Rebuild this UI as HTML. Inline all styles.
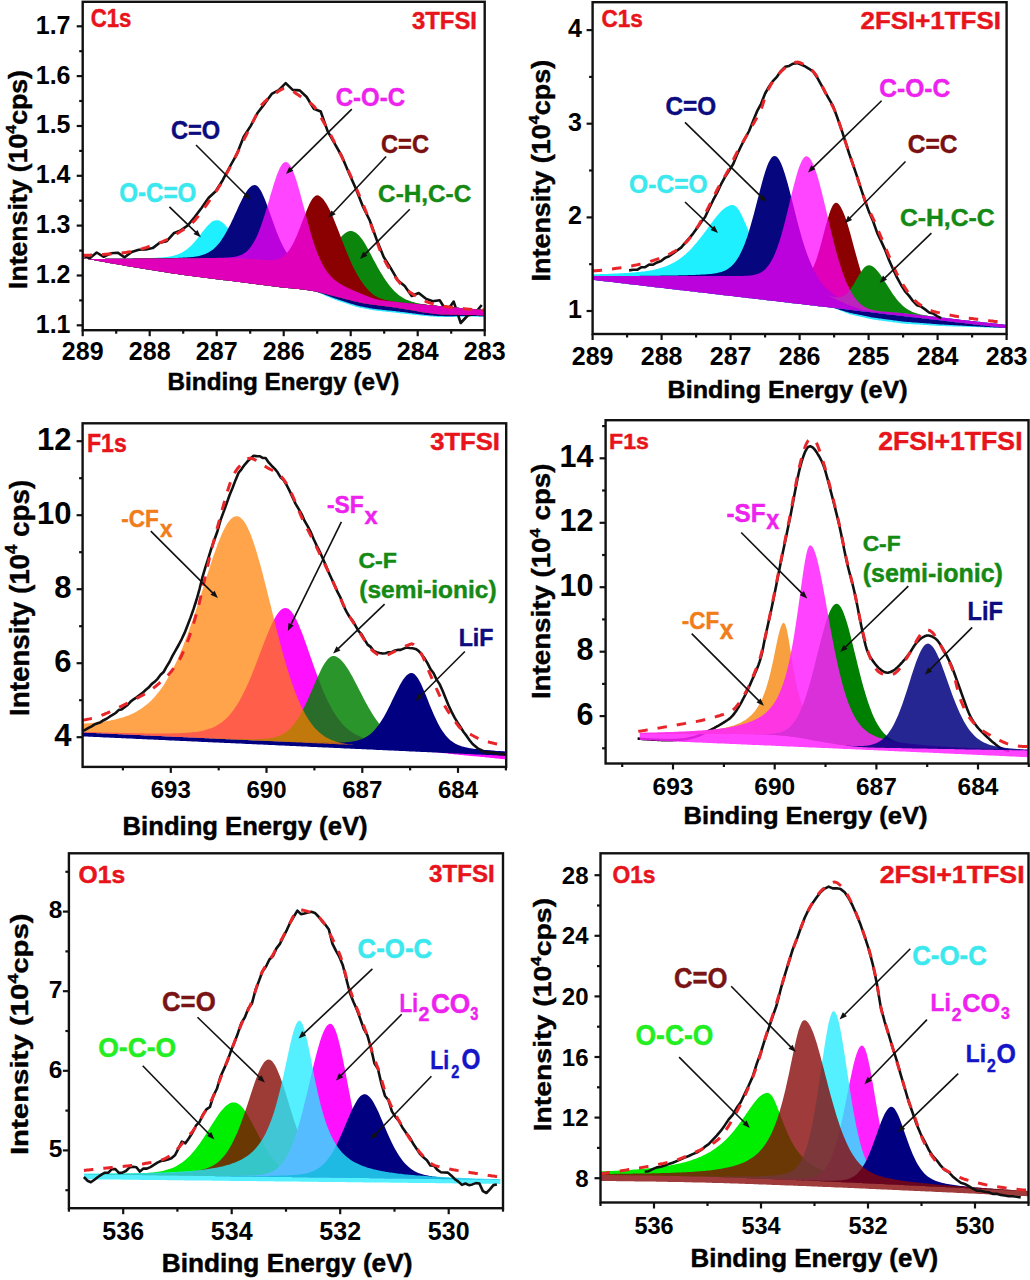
<!DOCTYPE html>
<html><head><meta charset="utf-8"><style>
html,body{margin:0;padding:0;background:#fff;}
svg{display:block;}
text{font-family:"Liberation Sans", sans-serif;font-weight:bold;}
</style></head><body>
<svg width="1030" height="1280" viewBox="0 0 1030 1280">
<rect width="1030" height="1280" fill="#fff"/>
<clipPath id="clip1"><rect x="82.7" y="1.8" width="402.0" height="328.4"/></clipPath>
<g clip-path="url(#clip1)">
<path d="M316.0,291.6 L317.0,292.0 L318.0,292.4 L319.0,292.8 L320.0,293.2 L321.0,293.7 L322.0,294.1 L323.0,294.6 L324.0,295.0 L325.0,295.5 L326.0,295.9 L327.0,296.4 L328.0,296.8 L329.0,297.3 L330.0,297.8 L331.0,298.2 L332.0,298.5 L333.0,298.9 L334.0,299.3 L335.0,299.7 L336.0,300.1 L337.0,300.4 L338.0,300.7 L339.0,301.1 L340.0,301.4 L341.0,301.8 L342.0,302.1 L343.0,302.4 L344.0,302.8 L345.0,303.1 L346.0,303.5 L347.0,303.8 L348.0,304.1 L349.0,304.5 L350.0,304.8 L351.0,305.1 L352.0,305.5 L353.0,305.8 L354.0,306.1 L355.0,306.4 L356.0,306.7 L357.0,307.0 L358.0,307.2 L359.0,307.4 L360.0,307.7 L361.0,307.9 L362.0,308.1 L363.0,308.3 L364.0,308.5 L365.0,308.7 L366.0,308.9 L367.0,309.1 L368.0,309.3 L369.0,309.5 L370.0,309.7 L371.0,309.8 L372.0,310.0 L373.0,310.2 L374.0,310.3 L375.0,310.5 L376.0,310.6 L377.0,310.7 L378.0,310.8 L379.0,310.9 L380.0,311.0 L381.0,311.1 L382.0,311.3 L383.0,311.4 L384.0,311.5 L385.0,311.6 L386.0,311.7 L387.0,311.8 L388.0,311.9 L389.0,312.0 L390.0,312.1 L391.0,312.2 L392.0,312.3 L393.0,312.4 L394.0,312.5 L395.0,312.6 L396.0,312.7 L397.0,312.9 L398.0,313.0 L399.0,313.1 L400.0,313.3 L401.0,313.4 L402.0,313.5 L403.0,313.6 L404.0,313.7 L405.0,313.8 L406.0,313.9 L407.0,314.0 L408.0,314.1 L409.0,314.2 L410.0,314.3 L411.0,314.4 L412.0,314.6 L413.0,314.7 L414.0,314.8 L415.0,314.9 L416.0,315.0 L417.0,315.1 L418.0,315.2 L419.0,315.3 L420.0,315.5 L421.0,315.6 L422.0,315.7 L423.0,315.8 L424.0,315.9 L425.0,316.0 L426.0,316.0 L427.0,316.1 L428.0,316.2 L429.0,316.3 L430.0,316.4 L431.0,316.4 L432.0,316.5 L433.0,316.6 L434.0,316.7 L435.0,316.7 L436.0,316.8 L437.0,316.8 L438.0,316.9 L439.0,316.9 L440.0,317.0 L441.0,317.0 L442.0,317.0 L443.0,317.0 L444.0,317.0 L445.0,317.0 L446.0,317.0 L447.0,317.0 L448.0,317.0 L449.0,317.0 L450.0,317.0 L451.0,317.0 L452.0,317.0 L453.0,317.0 L454.0,316.9 L455.0,316.9 L456.0,316.9 L457.0,316.9 L458.0,316.8 L459.0,316.8 L460.0,316.8 L461.0,316.8 L462.0,316.7 L463.0,316.7 L464.0,316.7 L465.0,316.7 L466.0,316.7 L467.0,316.7 L468.0,316.7 L469.0,316.6 L470.0,316.6 L471.0,316.6 L472.0,316.6 L473.0,316.6 L474.0,316.6 L475.0,316.6 L476.0,316.7 L477.0,316.7 L478.0,316.7 L479.0,316.7 L480.0,316.7 L481.0,316.8 L482.0,316.8 L483.0,316.8 L484.0,316.9 L485.0,316.9 L485.0,315.1 L484.0,315.1 L483.0,315.0 L482.0,314.9 L481.0,314.9 L480.0,314.8 L479.0,314.8 L478.0,314.7 L477.0,314.7 L476.0,314.6 L475.0,314.6 L474.0,314.6 L473.0,314.5 L472.0,314.5 L471.0,314.5 L470.0,314.5 L469.0,314.4 L468.0,314.4 L467.0,314.4 L466.0,314.4 L465.0,314.4 L464.0,314.4 L463.0,314.4 L462.0,314.4 L461.0,314.4 L460.0,314.4 L459.0,314.3 L458.0,314.3 L457.0,314.3 L456.0,314.3 L455.0,314.3 L454.0,314.3 L453.0,314.3 L452.0,314.3 L451.0,314.2 L450.0,314.2 L449.0,314.2 L448.0,314.2 L447.0,314.1 L446.0,314.1 L445.0,314.1 L444.0,314.0 L443.0,314.0 L442.0,313.9 L441.0,313.9 L440.0,313.8 L439.0,313.7 L438.0,313.6 L437.0,313.6 L436.0,313.5 L435.0,313.4 L434.0,313.3 L433.0,313.2 L432.0,313.1 L431.0,312.9 L430.0,312.8 L429.0,312.7 L428.0,312.5 L427.0,312.4 L426.0,312.2 L425.0,312.1 L424.0,311.9 L423.0,311.7 L422.0,311.6 L421.0,311.4 L420.0,311.2 L419.0,311.1 L418.0,310.9 L417.0,310.7 L416.0,310.5 L415.0,310.4 L414.0,310.2 L413.0,310.0 L412.0,309.8 L411.0,309.6 L410.0,309.5 L409.0,309.3 L408.0,309.1 L407.0,308.9 L406.0,308.8 L405.0,308.6 L404.0,308.4 L403.0,308.2 L402.0,308.1 L401.0,307.9 L400.0,307.8 L399.0,307.6 L398.0,307.5 L397.0,307.3 L396.0,307.2 L395.0,307.0 L394.0,306.9 L393.0,306.8 L392.0,306.6 L391.0,306.5 L390.0,306.4 L389.0,306.2 L388.0,306.1 L387.0,306.0 L386.0,305.9 L385.0,305.8 L384.0,305.6 L383.0,305.5 L382.0,305.4 L381.0,305.3 L380.0,305.1 L379.0,305.0 L378.0,304.9 L377.0,304.8 L376.0,304.6 L375.0,304.5 L374.0,304.4 L373.0,304.2 L372.0,304.1 L371.0,303.9 L370.0,303.8 L369.0,303.6 L368.0,303.5 L367.0,303.3 L366.0,303.2 L365.0,303.0 L364.0,302.8 L363.0,302.6 L362.0,302.4 L361.0,302.3 L360.0,302.0 L359.0,301.8 L358.0,301.6 L357.0,301.4 L356.0,301.2 L355.0,300.9 L354.0,300.7 L353.0,300.4 L352.0,300.2 L351.0,300.0 L350.0,299.7 L349.0,299.4 L348.0,299.2 L347.0,298.9 L346.0,298.7 L345.0,298.4 L344.0,298.2 L343.0,297.9 L342.0,297.6 L341.0,297.4 L340.0,297.1 L339.0,296.9 L338.0,296.6 L337.0,296.4 L336.0,296.1 L335.0,295.8 L334.0,295.6 L333.0,295.3 L332.0,295.1 L331.0,294.8 L330.0,294.5 L329.0,294.3 L328.0,294.0 L327.0,293.7 L326.0,293.5 L325.0,293.2 L324.0,292.9 L323.0,292.7 L322.0,292.4 L321.0,292.2 L320.0,292.0 L319.0,291.7 L318.0,291.5 L317.0,291.3 L316.0,291.1 Z" fill="#30e8ff"/>
<path d="M316.0,291.6 L317.0,291.9 L318.0,292.2 L319.0,292.6 L320.0,292.9 L321.0,293.3 L322.0,293.6 L323.0,294.0 L324.0,294.3 L325.0,294.7 L326.0,295.1 L327.0,295.4 L328.0,295.8 L329.0,296.2 L330.0,296.6 L331.0,296.9 L332.0,297.3 L333.0,297.7 L334.0,298.1 L335.0,298.4 L336.0,298.8 L337.0,299.1 L338.0,299.5 L339.0,299.8 L340.0,300.1 L341.0,300.4 L342.0,300.8 L343.0,301.1 L344.0,301.4 L345.0,301.7 L346.0,302.1 L347.0,302.4 L348.0,302.7 L349.0,303.0 L350.0,303.4 L351.0,303.7 L352.0,304.0 L353.0,304.3 L354.0,304.6 L355.0,304.9 L356.0,305.2 L357.0,305.5 L358.0,305.7 L359.0,305.9 L360.0,306.2 L361.0,306.4 L362.0,306.6 L363.0,306.8 L364.0,307.0 L365.0,307.2 L366.0,307.4 L367.0,307.6 L368.0,307.8 L369.0,308.0 L370.0,308.2 L371.0,308.3 L372.0,308.5 L373.0,308.7 L374.0,308.8 L375.0,309.0 L376.0,309.1 L377.0,309.2 L378.0,309.3 L379.0,309.4 L380.0,309.5 L381.0,309.6 L382.0,309.8 L383.0,309.9 L384.0,310.0 L385.0,310.1 L386.0,310.2 L387.0,310.3 L388.0,310.4 L389.0,310.5 L390.0,310.6 L391.0,310.7 L392.0,310.8 L393.0,310.9 L394.0,311.0 L395.0,311.1 L396.0,311.2 L397.0,311.4 L398.0,311.5 L399.0,311.6 L400.0,311.8 L401.0,311.9 L402.0,312.0 L403.0,312.1 L404.0,312.2 L405.0,312.3 L406.0,312.5 L407.0,312.6 L408.0,312.7 L409.0,312.9 L410.0,313.0 L411.0,313.1 L412.0,313.2 L413.0,313.4 L414.0,313.5 L415.0,313.6 L416.0,313.8 L417.0,313.9 L418.0,314.0 L419.0,314.2 L420.0,314.3 L421.0,314.4 L422.0,314.5 L423.0,314.6 L424.0,314.7 L425.0,314.9 L426.0,315.0 L427.0,315.1 L428.0,315.2 L429.0,315.3 L430.0,315.3 L431.0,315.4 L432.0,315.5 L433.0,315.6 L434.0,315.7 L435.0,315.8 L436.0,315.8 L437.0,315.9 L438.0,315.9 L439.0,316.0 L440.0,316.0 L441.0,316.1 L442.0,316.1 L443.0,316.1 L444.0,316.2 L445.0,316.2 L446.0,316.2 L447.0,316.2 L448.0,316.2 L449.0,316.2 L450.0,316.2 L451.0,316.2 L452.0,316.2 L453.0,316.2 L454.0,316.2 L455.0,316.1 L456.0,316.1 L457.0,316.1 L458.0,316.1 L459.0,316.1 L460.0,316.1 L461.0,316.0 L462.0,316.0 L463.0,316.0 L464.0,316.0 L465.0,316.0 L466.0,316.0 L467.0,316.0 L468.0,316.0 L469.0,316.0 L470.0,316.0 L471.0,316.0 L472.0,316.0 L473.0,316.0 L474.0,316.0 L475.0,316.0 L476.0,316.1 L477.0,316.1 L478.0,316.1 L479.0,316.2 L480.0,316.2 L481.0,316.2 L482.0,316.3 L483.0,316.3 L484.0,316.4 L485.0,316.4 L485.0,315.1 L484.0,315.1 L483.0,315.0 L482.0,314.9 L481.0,314.9 L480.0,314.8 L479.0,314.8 L478.0,314.7 L477.0,314.7 L476.0,314.6 L475.0,314.6 L474.0,314.6 L473.0,314.5 L472.0,314.5 L471.0,314.5 L470.0,314.5 L469.0,314.4 L468.0,314.4 L467.0,314.4 L466.0,314.4 L465.0,314.4 L464.0,314.4 L463.0,314.4 L462.0,314.4 L461.0,314.4 L460.0,314.4 L459.0,314.3 L458.0,314.3 L457.0,314.3 L456.0,314.3 L455.0,314.3 L454.0,314.3 L453.0,314.3 L452.0,314.3 L451.0,314.2 L450.0,314.2 L449.0,314.2 L448.0,314.2 L447.0,314.1 L446.0,314.1 L445.0,314.1 L444.0,314.0 L443.0,314.0 L442.0,313.9 L441.0,313.9 L440.0,313.8 L439.0,313.7 L438.0,313.6 L437.0,313.6 L436.0,313.5 L435.0,313.4 L434.0,313.3 L433.0,313.2 L432.0,313.1 L431.0,312.9 L430.0,312.8 L429.0,312.7 L428.0,312.5 L427.0,312.4 L426.0,312.2 L425.0,312.1 L424.0,311.9 L423.0,311.7 L422.0,311.6 L421.0,311.4 L420.0,311.2 L419.0,311.1 L418.0,310.9 L417.0,310.7 L416.0,310.5 L415.0,310.4 L414.0,310.2 L413.0,310.0 L412.0,309.8 L411.0,309.6 L410.0,309.5 L409.0,309.3 L408.0,309.1 L407.0,308.9 L406.0,308.8 L405.0,308.6 L404.0,308.4 L403.0,308.2 L402.0,308.1 L401.0,307.9 L400.0,307.8 L399.0,307.6 L398.0,307.5 L397.0,307.3 L396.0,307.2 L395.0,307.0 L394.0,306.9 L393.0,306.8 L392.0,306.6 L391.0,306.5 L390.0,306.4 L389.0,306.2 L388.0,306.1 L387.0,306.0 L386.0,305.9 L385.0,305.8 L384.0,305.6 L383.0,305.5 L382.0,305.4 L381.0,305.3 L380.0,305.1 L379.0,305.0 L378.0,304.9 L377.0,304.8 L376.0,304.6 L375.0,304.5 L374.0,304.4 L373.0,304.2 L372.0,304.1 L371.0,303.9 L370.0,303.8 L369.0,303.6 L368.0,303.5 L367.0,303.3 L366.0,303.2 L365.0,303.0 L364.0,302.8 L363.0,302.6 L362.0,302.4 L361.0,302.3 L360.0,302.0 L359.0,301.8 L358.0,301.6 L357.0,301.4 L356.0,301.2 L355.0,300.9 L354.0,300.7 L353.0,300.4 L352.0,300.2 L351.0,300.0 L350.0,299.7 L349.0,299.4 L348.0,299.2 L347.0,298.9 L346.0,298.7 L345.0,298.4 L344.0,298.2 L343.0,297.9 L342.0,297.6 L341.0,297.4 L340.0,297.1 L339.0,296.9 L338.0,296.6 L337.0,296.4 L336.0,296.1 L335.0,295.8 L334.0,295.6 L333.0,295.3 L332.0,295.1 L331.0,294.8 L330.0,294.5 L329.0,294.3 L328.0,294.0 L327.0,293.7 L326.0,293.5 L325.0,293.2 L324.0,292.9 L323.0,292.7 L322.0,292.4 L321.0,292.2 L320.0,292.0 L319.0,291.7 L318.0,291.5 L317.0,291.3 L316.0,291.1 Z" fill="#06067f"/>
<path d="M82.7,255.6 L89.7,258.3 L96.7,252.5 L103.7,256.8 L110.7,253.3 L117.7,252.7 L124.7,257.3 L131.7,251.9 L138.7,249.7 L145.7,249.5 L152.7,248.1 L159.7,242.7 L166.7,241.2 L173.7,233.3 L180.7,230.4 L187.7,225.5 L194.7,217.0 L201.7,207.8 L208.7,197.7 L215.7,191.3 L222.7,180.2 L229.7,167.0 L236.7,154.4 L243.7,136.8 L250.7,125.9 L257.7,112.7 L264.7,103.6 L271.7,93.9 L278.7,90.1 L285.7,83.1 L292.7,89.9 L299.7,90.4 L306.7,97.0 L313.7,108.7 L320.7,111.5 L327.7,131.4 L334.7,143.6 L341.7,156.0 L348.7,172.6 L355.7,188.3 L362.7,206.1 L369.7,220.3 L376.7,239.7 L383.7,257.0 L390.7,268.1 L397.7,280.2 L404.7,286.1 L411.7,296.0 L418.7,293.0 L425.7,298.6 L432.7,301.3 L439.7,300.2 L446.7,311.5 L453.7,301.6 L460.7,323.0 L467.7,315.5 L474.7,313.7 L481.7,305.0" fill="none" stroke="#111" stroke-width="2.6" stroke-linejoin="round"/>
<path d="M82.7,259.0 L84.3,259.0 L85.8,259.0 L87.4,259.0 L88.9,259.0 L90.5,259.0 L92.0,259.0 L93.6,258.9 L95.1,258.9 L96.7,258.9 L98.2,258.9 L99.8,258.9 L101.3,258.9 L102.9,258.9 L104.4,258.9 L106.0,258.8 L107.5,258.8 L109.1,258.8 L110.6,258.8 L112.2,258.8 L113.7,258.8 L115.3,258.8 L116.8,258.8 L118.4,258.8 L120.0,258.7 L121.5,258.7 L123.1,258.7 L124.6,258.7 L126.2,258.7 L127.7,258.6 L129.3,258.6 L130.8,258.6 L132.4,258.5 L133.9,258.5 L135.5,258.5 L137.0,258.4 L138.6,258.4 L140.1,258.4 L141.7,258.3 L143.2,258.3 L144.8,258.2 L146.3,258.2 L147.9,258.1 L149.4,258.1 L151.0,258.0 L152.5,258.0 L154.1,257.9 L155.6,257.8 L157.2,257.7 L158.8,257.6 L160.3,257.5 L161.9,257.4 L163.4,257.3 L165.0,257.1 L166.5,257.0 L168.1,256.7 L169.6,256.5 L171.2,256.2 L172.7,255.9 L174.3,255.5 L175.8,255.1 L177.4,254.5 L178.9,253.9 L180.5,253.3 L182.0,252.5 L183.6,251.6 L185.1,250.6 L186.7,249.5 L188.2,248.2 L189.8,246.8 L191.3,245.4 L192.9,243.7 L194.5,242.0 L196.0,240.2 L197.6,238.3 L199.1,236.3 L200.7,234.3 L202.2,232.3 L203.8,230.3 L205.3,228.4 L206.9,226.6 L208.4,224.9 L210.0,223.4 L211.5,222.1 L213.1,221.1 L214.6,220.5 L216.2,220.2 L217.7,220.2 L219.3,220.6 L220.8,221.4 L222.4,222.5 L223.9,223.8 L225.5,225.4 L227.0,227.2 L228.6,229.1 L230.2,231.0 L231.7,233.1 L233.3,235.1 L234.8,237.2 L236.4,239.2 L237.9,241.1 L239.5,243.0 L241.0,244.7 L242.6,246.3 L244.1,247.8 L245.7,249.2 L247.2,250.5 L248.8,251.6 L250.3,252.6 L251.9,253.6 L253.4,254.4 L255.0,255.1 L256.5,255.8 L258.1,256.4 L259.6,257.0 L261.2,257.5 L262.7,257.9 L264.3,258.4 L265.9,258.8 L267.4,259.2 L269.0,259.5 L270.5,259.9 L272.1,260.3 L273.6,260.6 L275.2,261.0 L276.7,261.3 L278.3,261.7 L279.8,262.1 L281.4,262.5 L282.9,262.9 L284.5,263.3 L286.0,263.7 L287.6,264.1 L289.1,264.6 L290.7,265.0 L292.2,265.5 L293.8,266.1 L295.3,266.6 L296.9,267.1 L298.4,267.7 L300.0,268.3 L301.5,269.0 L303.1,269.6 L304.7,270.3 L306.2,271.0 L307.8,271.6 L309.3,272.3 L310.9,273.0 L312.4,273.6 L314.0,274.3 L315.5,274.9 L317.1,275.6 L318.6,276.2 L320.2,276.9 L321.7,277.5 L323.3,278.2 L324.8,278.8 L326.4,279.5 L327.9,280.2 L329.5,280.8 L331.0,281.5 L332.6,282.1 L334.1,282.8 L335.7,283.4 L337.2,284.1 L338.8,284.7 L340.4,285.4 L341.9,286.0 L343.5,286.7 L345.0,287.4 L346.6,288.0 L348.1,288.6 L349.7,289.3 L351.2,289.9 L352.8,290.5 L354.3,291.1 L355.9,291.7 L357.4,292.3 L359.0,292.9 L360.5,293.5 L362.1,294.1 L363.6,294.7 L365.2,295.3 L366.7,295.9 L368.3,296.6 L369.8,297.2 L371.4,297.7 L372.9,298.3 L374.5,298.8 L376.1,299.2 L377.6,299.6 L379.2,299.9 L380.7,300.2 L382.3,300.3 L383.8,300.5 L385.4,300.7 L386.9,300.9 L388.5,301.1 L390.0,301.3 L391.6,301.4 L393.1,301.6 L394.7,301.8 L396.2,301.9 L397.8,302.1 L399.3,302.3 L400.9,302.4 L402.4,302.6 L404.0,302.7 L405.5,302.9 L407.1,303.0 L408.6,303.2 L410.2,303.3 L411.8,303.5 L413.3,303.6 L414.9,303.7 L416.4,303.9 L418.0,304.0 L419.5,304.2 L421.1,304.3 L422.6,304.4 L424.2,304.6 L425.7,304.7 L427.3,304.9 L428.8,305.0 L430.4,305.2 L431.9,305.3 L433.5,305.4 L435.0,305.6 L436.6,305.7 L438.1,305.9 L439.7,306.0 L441.2,306.2 L442.8,306.3 L444.3,306.5 L445.9,306.6 L447.4,306.7 L449.0,306.9 L450.6,307.0 L452.1,307.2 L453.7,307.3 L455.2,307.5 L456.8,307.6 L458.3,307.7 L459.9,307.9 L461.4,308.0 L463.0,308.2 L464.5,308.3 L466.1,308.4 L467.6,308.6 L469.2,308.7 L470.7,308.9 L472.3,309.0 L473.8,309.1 L475.4,309.3 L476.9,309.4 L478.5,309.5 L480.0,309.6 L481.6,309.8 L483.1,309.9 L484.7,309.9 L484.7,315.6 L483.1,315.5 L481.6,315.4 L480.0,315.3 L478.5,315.2 L476.9,315.2 L475.4,315.1 L473.8,315.1 L472.3,315.0 L470.7,315.0 L469.2,314.9 L467.6,314.9 L466.1,314.9 L464.5,314.9 L463.0,314.9 L461.4,314.9 L459.9,314.9 L458.3,314.8 L456.8,314.8 L455.2,314.8 L453.7,314.8 L452.1,314.8 L450.6,314.7 L449.0,314.7 L447.4,314.6 L445.9,314.6 L444.3,314.5 L442.8,314.5 L441.2,314.4 L439.7,314.3 L438.1,314.2 L436.6,314.0 L435.0,313.9 L433.5,313.7 L431.9,313.5 L430.4,313.3 L428.8,313.1 L427.3,312.9 L425.7,312.7 L424.2,312.4 L422.6,312.2 L421.1,311.9 L419.5,311.7 L418.0,311.4 L416.4,311.1 L414.9,310.8 L413.3,310.6 L411.8,310.3 L410.2,310.0 L408.6,309.7 L407.1,309.5 L405.5,309.2 L404.0,308.9 L402.4,308.7 L400.9,308.4 L399.3,308.2 L397.8,307.9 L396.2,307.7 L394.7,307.5 L393.1,307.3 L391.6,307.1 L390.0,306.9 L388.5,306.7 L386.9,306.5 L385.4,306.3 L383.8,306.1 L382.3,305.9 L380.7,305.7 L379.2,305.5 L377.6,305.3 L376.1,305.1 L374.5,304.9 L372.9,304.7 L371.4,304.5 L369.8,304.3 L368.3,304.0 L366.7,303.8 L365.2,303.5 L363.6,303.3 L362.1,303.0 L360.5,302.7 L359.0,302.3 L357.4,302.0 L355.9,301.6 L354.3,301.3 L352.8,300.9 L351.2,300.5 L349.7,300.1 L348.1,299.7 L346.6,299.3 L345.0,298.9 L343.5,298.5 L341.9,298.1 L340.4,297.7 L338.8,297.3 L337.2,296.9 L335.7,296.5 L334.1,296.1 L332.6,295.7 L331.0,295.3 L329.5,294.9 L327.9,294.5 L326.4,294.1 L324.8,293.7 L323.3,293.3 L321.7,292.9 L320.2,292.5 L318.6,292.2 L317.1,291.8 L315.5,291.5 L314.0,291.2 L312.4,291.0 L310.9,290.7 L309.3,290.5 L307.8,290.2 L306.2,290.0 L304.7,289.8 L303.1,289.6 L301.5,289.4 L300.0,289.3 L298.4,289.1 L296.9,288.9 L295.3,288.8 L293.8,288.6 L292.2,288.5 L290.7,288.3 L289.1,288.2 L287.6,288.0 L286.0,287.9 L284.5,287.7 L282.9,287.5 L281.4,287.4 L279.8,287.2 L278.3,287.0 L276.7,286.8 L275.2,286.6 L273.6,286.4 L272.1,286.2 L270.5,286.0 L269.0,285.8 L267.4,285.6 L265.9,285.4 L264.3,285.2 L262.7,285.0 L261.2,284.8 L259.6,284.6 L258.1,284.4 L256.5,284.2 L255.0,284.0 L253.4,283.8 L251.9,283.7 L250.3,283.5 L248.8,283.3 L247.2,283.1 L245.7,282.9 L244.1,282.7 L242.6,282.5 L241.0,282.3 L239.5,282.1 L237.9,281.9 L236.4,281.7 L234.8,281.5 L233.3,281.3 L231.7,281.1 L230.2,280.9 L228.6,280.7 L227.0,280.5 L225.5,280.3 L223.9,280.2 L222.4,280.0 L220.8,279.8 L219.3,279.6 L217.7,279.4 L216.2,279.2 L214.6,279.0 L213.1,278.8 L211.5,278.6 L210.0,278.5 L208.4,278.3 L206.9,278.1 L205.3,277.9 L203.8,277.7 L202.2,277.5 L200.7,277.3 L199.1,277.1 L197.6,276.9 L196.0,276.7 L194.5,276.5 L192.9,276.3 L191.3,276.1 L189.8,275.9 L188.2,275.7 L186.7,275.5 L185.1,275.2 L183.6,275.0 L182.0,274.8 L180.5,274.6 L178.9,274.4 L177.4,274.1 L175.8,273.9 L174.3,273.7 L172.7,273.5 L171.2,273.2 L169.6,273.0 L168.1,272.8 L166.5,272.5 L165.0,272.3 L163.4,272.1 L161.9,271.8 L160.3,271.6 L158.8,271.3 L157.2,271.1 L155.6,270.8 L154.1,270.6 L152.5,270.3 L151.0,270.1 L149.4,269.8 L147.9,269.6 L146.3,269.3 L144.8,269.1 L143.2,268.8 L141.7,268.6 L140.1,268.3 L138.6,268.0 L137.0,267.8 L135.5,267.5 L133.9,267.3 L132.4,267.0 L130.8,266.7 L129.3,266.5 L127.7,266.2 L126.2,265.9 L124.6,265.7 L123.1,265.4 L121.5,265.1 L120.0,264.9 L118.4,264.6 L116.8,264.3 L115.3,264.0 L113.7,263.8 L112.2,263.5 L110.6,263.2 L109.1,262.9 L107.5,262.7 L106.0,262.4 L104.4,262.1 L102.9,261.8 L101.3,261.5 L99.8,261.3 L98.2,261.0 L96.7,260.7 L95.1,260.4 L93.6,260.1 L92.0,259.9 L90.5,259.6 L88.9,259.3 L87.4,259.0 L85.8,258.7 L84.3,258.5 L82.7,258.2 Z" fill="#1ff0ff" fill-opacity="1" stroke="none" stroke-width="0.8"/>
<path d="M82.7,259.0 L84.3,259.0 L85.8,259.0 L87.4,259.0 L88.9,259.0 L90.5,259.0 L92.0,259.0 L93.6,258.9 L95.1,258.9 L96.7,258.9 L98.2,258.9 L99.8,258.9 L101.3,258.9 L102.9,258.9 L104.4,258.9 L106.0,258.8 L107.5,258.8 L109.1,258.8 L110.6,258.8 L112.2,258.8 L113.7,258.8 L115.3,258.8 L116.8,258.8 L118.4,258.8 L120.0,258.7 L121.5,258.7 L123.1,258.7 L124.6,258.7 L126.2,258.7 L127.7,258.7 L129.3,258.7 L130.8,258.7 L132.4,258.7 L133.9,258.6 L135.5,258.6 L137.0,258.6 L138.6,258.6 L140.1,258.6 L141.7,258.6 L143.2,258.6 L144.8,258.6 L146.3,258.5 L147.9,258.5 L149.4,258.5 L151.0,258.5 L152.5,258.5 L154.1,258.4 L155.6,258.4 L157.2,258.4 L158.8,258.3 L160.3,258.3 L161.9,258.3 L163.4,258.3 L165.0,258.2 L166.5,258.2 L168.1,258.1 L169.6,258.1 L171.2,258.1 L172.7,258.0 L174.3,258.0 L175.8,257.9 L177.4,257.9 L178.9,257.8 L180.5,257.8 L182.0,257.7 L183.6,257.6 L185.1,257.5 L186.7,257.4 L188.2,257.3 L189.8,257.2 L191.3,257.1 L192.9,256.9 L194.5,256.7 L196.0,256.5 L197.6,256.2 L199.1,255.9 L200.7,255.5 L202.2,255.1 L203.8,254.6 L205.3,254.0 L206.9,253.3 L208.4,252.5 L210.0,251.6 L211.5,250.5 L213.1,249.4 L214.6,248.0 L216.2,246.5 L217.7,244.8 L219.3,242.9 L220.8,240.9 L222.4,238.6 L223.9,236.2 L225.5,233.6 L227.0,230.8 L228.6,227.8 L230.2,224.7 L231.7,221.5 L233.3,218.2 L234.8,214.8 L236.4,211.4 L237.9,208.0 L239.5,204.6 L241.0,201.4 L242.6,198.3 L244.1,195.4 L245.7,192.7 L247.2,190.4 L248.8,188.4 L250.3,186.9 L251.9,185.8 L253.4,185.2 L255.0,185.0 L256.5,185.6 L258.1,186.8 L259.6,188.8 L261.2,191.3 L262.7,194.4 L264.3,197.9 L265.9,201.9 L267.4,206.0 L269.0,210.4 L270.5,214.8 L272.1,219.3 L273.6,223.6 L275.2,227.9 L276.7,232.0 L278.3,235.9 L279.8,239.5 L281.4,242.9 L282.9,246.0 L284.5,248.9 L286.0,251.4 L287.6,253.8 L289.1,255.9 L290.7,257.8 L292.2,259.5 L293.8,261.0 L295.3,262.4 L296.9,263.7 L298.4,264.8 L300.0,265.9 L301.5,266.9 L303.1,267.9 L304.7,268.8 L306.2,269.7 L307.8,270.5 L309.3,271.4 L310.9,272.1 L312.4,272.9 L314.0,273.6 L315.5,274.4 L317.1,275.1 L318.6,275.8 L320.2,276.5 L321.7,277.2 L323.3,277.9 L324.8,278.6 L326.4,279.3 L327.9,279.9 L329.5,280.6 L331.0,281.3 L332.6,282.0 L334.1,282.7 L335.7,283.3 L337.2,284.0 L338.8,284.7 L340.4,285.4 L341.9,286.0 L343.5,286.7 L345.0,287.4 L346.6,288.0 L348.1,288.6 L349.7,289.3 L351.2,289.9 L352.8,290.5 L354.3,291.1 L355.9,291.7 L357.4,292.3 L359.0,292.9 L360.5,293.5 L362.1,294.1 L363.6,294.7 L365.2,295.3 L366.7,295.9 L368.3,296.6 L369.8,297.2 L371.4,297.7 L372.9,298.3 L374.5,298.8 L376.1,299.2 L377.6,299.6 L379.2,299.9 L380.7,300.2 L382.3,300.3 L383.8,300.5 L385.4,300.7 L386.9,300.9 L388.5,301.1 L390.0,301.3 L391.6,301.4 L393.1,301.6 L394.7,301.8 L396.2,301.9 L397.8,302.1 L399.3,302.3 L400.9,302.4 L402.4,302.6 L404.0,302.7 L405.5,302.9 L407.1,303.0 L408.6,303.2 L410.2,303.3 L411.8,303.5 L413.3,303.6 L414.9,303.7 L416.4,303.9 L418.0,304.0 L419.5,304.2 L421.1,304.3 L422.6,304.4 L424.2,304.6 L425.7,304.7 L427.3,304.9 L428.8,305.0 L430.4,305.2 L431.9,305.3 L433.5,305.4 L435.0,305.6 L436.6,305.7 L438.1,305.9 L439.7,306.0 L441.2,306.2 L442.8,306.3 L444.3,306.5 L445.9,306.6 L447.4,306.7 L449.0,306.9 L450.6,307.0 L452.1,307.2 L453.7,307.3 L455.2,307.5 L456.8,307.6 L458.3,307.7 L459.9,307.9 L461.4,308.0 L463.0,308.2 L464.5,308.3 L466.1,308.4 L467.6,308.6 L469.2,308.7 L470.7,308.9 L472.3,309.0 L473.8,309.1 L475.4,309.3 L476.9,309.4 L478.5,309.5 L480.0,309.6 L481.6,309.8 L483.1,309.9 L484.7,309.9 L484.7,315.6 L483.1,315.5 L481.6,315.4 L480.0,315.3 L478.5,315.2 L476.9,315.2 L475.4,315.1 L473.8,315.1 L472.3,315.0 L470.7,315.0 L469.2,314.9 L467.6,314.9 L466.1,314.9 L464.5,314.9 L463.0,314.9 L461.4,314.9 L459.9,314.9 L458.3,314.8 L456.8,314.8 L455.2,314.8 L453.7,314.8 L452.1,314.8 L450.6,314.7 L449.0,314.7 L447.4,314.6 L445.9,314.6 L444.3,314.5 L442.8,314.5 L441.2,314.4 L439.7,314.3 L438.1,314.2 L436.6,314.0 L435.0,313.9 L433.5,313.7 L431.9,313.5 L430.4,313.3 L428.8,313.1 L427.3,312.9 L425.7,312.7 L424.2,312.4 L422.6,312.2 L421.1,311.9 L419.5,311.7 L418.0,311.4 L416.4,311.1 L414.9,310.8 L413.3,310.6 L411.8,310.3 L410.2,310.0 L408.6,309.7 L407.1,309.5 L405.5,309.2 L404.0,308.9 L402.4,308.7 L400.9,308.4 L399.3,308.2 L397.8,307.9 L396.2,307.7 L394.7,307.5 L393.1,307.3 L391.6,307.1 L390.0,306.9 L388.5,306.7 L386.9,306.5 L385.4,306.3 L383.8,306.1 L382.3,305.9 L380.7,305.7 L379.2,305.5 L377.6,305.3 L376.1,305.1 L374.5,304.9 L372.9,304.7 L371.4,304.5 L369.8,304.3 L368.3,304.0 L366.7,303.8 L365.2,303.5 L363.6,303.3 L362.1,303.0 L360.5,302.7 L359.0,302.3 L357.4,302.0 L355.9,301.6 L354.3,301.3 L352.8,300.9 L351.2,300.5 L349.7,300.1 L348.1,299.7 L346.6,299.3 L345.0,298.9 L343.5,298.5 L341.9,298.1 L340.4,297.7 L338.8,297.3 L337.2,296.9 L335.7,296.5 L334.1,296.1 L332.6,295.7 L331.0,295.3 L329.5,294.9 L327.9,294.5 L326.4,294.1 L324.8,293.7 L323.3,293.3 L321.7,292.9 L320.2,292.5 L318.6,292.2 L317.1,291.8 L315.5,291.5 L314.0,291.2 L312.4,291.0 L310.9,290.7 L309.3,290.5 L307.8,290.2 L306.2,290.0 L304.7,289.8 L303.1,289.6 L301.5,289.4 L300.0,289.3 L298.4,289.1 L296.9,288.9 L295.3,288.8 L293.8,288.6 L292.2,288.5 L290.7,288.3 L289.1,288.2 L287.6,288.0 L286.0,287.9 L284.5,287.7 L282.9,287.5 L281.4,287.4 L279.8,287.2 L278.3,287.0 L276.7,286.8 L275.2,286.6 L273.6,286.4 L272.1,286.2 L270.5,286.0 L269.0,285.8 L267.4,285.6 L265.9,285.4 L264.3,285.2 L262.7,285.0 L261.2,284.8 L259.6,284.6 L258.1,284.4 L256.5,284.2 L255.0,284.0 L253.4,283.8 L251.9,283.7 L250.3,283.5 L248.8,283.3 L247.2,283.1 L245.7,282.9 L244.1,282.7 L242.6,282.5 L241.0,282.3 L239.5,282.1 L237.9,281.9 L236.4,281.7 L234.8,281.5 L233.3,281.3 L231.7,281.1 L230.2,280.9 L228.6,280.7 L227.0,280.5 L225.5,280.3 L223.9,280.2 L222.4,280.0 L220.8,279.8 L219.3,279.6 L217.7,279.4 L216.2,279.2 L214.6,279.0 L213.1,278.8 L211.5,278.6 L210.0,278.5 L208.4,278.3 L206.9,278.1 L205.3,277.9 L203.8,277.7 L202.2,277.5 L200.7,277.3 L199.1,277.1 L197.6,276.9 L196.0,276.7 L194.5,276.5 L192.9,276.3 L191.3,276.1 L189.8,275.9 L188.2,275.7 L186.7,275.5 L185.1,275.2 L183.6,275.0 L182.0,274.8 L180.5,274.6 L178.9,274.4 L177.4,274.1 L175.8,273.9 L174.3,273.7 L172.7,273.5 L171.2,273.2 L169.6,273.0 L168.1,272.8 L166.5,272.5 L165.0,272.3 L163.4,272.1 L161.9,271.8 L160.3,271.6 L158.8,271.3 L157.2,271.1 L155.6,270.8 L154.1,270.6 L152.5,270.3 L151.0,270.1 L149.4,269.8 L147.9,269.6 L146.3,269.3 L144.8,269.1 L143.2,268.8 L141.7,268.6 L140.1,268.3 L138.6,268.0 L137.0,267.8 L135.5,267.5 L133.9,267.3 L132.4,267.0 L130.8,266.7 L129.3,266.5 L127.7,266.2 L126.2,265.9 L124.6,265.7 L123.1,265.4 L121.5,265.1 L120.0,264.9 L118.4,264.6 L116.8,264.3 L115.3,264.0 L113.7,263.8 L112.2,263.5 L110.6,263.2 L109.1,262.9 L107.5,262.7 L106.0,262.4 L104.4,262.1 L102.9,261.8 L101.3,261.5 L99.8,261.3 L98.2,261.0 L96.7,260.7 L95.1,260.4 L93.6,260.1 L92.0,259.9 L90.5,259.6 L88.9,259.3 L87.4,259.0 L85.8,258.7 L84.3,258.5 L82.7,258.2 Z" fill="#06067f" fill-opacity="1" stroke="none" stroke-width="0.8"/>
<path d="M82.7,259.0 L84.3,259.0 L85.8,259.0 L87.4,259.0 L88.9,259.0 L90.5,259.0 L92.0,259.0 L93.6,258.9 L95.1,258.9 L96.7,258.9 L98.2,258.9 L99.8,258.9 L101.3,258.9 L102.9,258.9 L104.4,258.9 L106.0,258.8 L107.5,258.8 L109.1,258.8 L110.6,258.8 L112.2,258.8 L113.7,258.8 L115.3,258.8 L116.8,258.8 L118.4,258.8 L120.0,258.7 L121.5,258.7 L123.1,258.7 L124.6,258.7 L126.2,258.7 L127.7,258.7 L129.3,258.7 L130.8,258.7 L132.4,258.7 L133.9,258.6 L135.5,258.6 L137.0,258.6 L138.6,258.6 L140.1,258.6 L141.7,258.6 L143.2,258.6 L144.8,258.6 L146.3,258.5 L147.9,258.5 L149.4,258.5 L151.0,258.5 L152.5,258.5 L154.1,258.5 L155.6,258.5 L157.2,258.5 L158.8,258.5 L160.3,258.4 L161.9,258.4 L163.4,258.4 L165.0,258.4 L166.5,258.4 L168.1,258.4 L169.6,258.4 L171.2,258.4 L172.7,258.4 L174.3,258.3 L175.8,258.3 L177.4,258.3 L178.9,258.3 L180.5,258.3 L182.0,258.3 L183.6,258.3 L185.1,258.3 L186.7,258.2 L188.2,258.2 L189.8,258.2 L191.3,258.2 L192.9,258.2 L194.5,258.2 L196.0,258.2 L197.6,258.2 L199.1,258.2 L200.7,258.1 L202.2,258.1 L203.8,258.1 L205.3,258.1 L206.9,258.1 L208.4,258.1 L210.0,258.1 L211.5,258.1 L213.1,258.1 L214.6,258.0 L216.2,258.0 L217.7,258.0 L219.3,258.0 L220.8,258.0 L222.4,258.0 L223.9,258.1 L225.5,258.1 L227.0,258.1 L228.6,258.1 L230.2,258.2 L231.7,258.2 L233.3,258.3 L234.8,258.3 L236.4,258.4 L237.9,258.5 L239.5,258.5 L241.0,258.6 L242.6,258.7 L244.1,258.7 L245.7,258.8 L247.2,258.9 L248.8,259.0 L250.3,259.0 L251.9,259.1 L253.4,259.2 L255.0,259.3 L256.5,259.4 L258.1,259.5 L259.6,259.7 L261.2,259.8 L262.7,260.0 L264.3,260.2 L265.9,260.4 L267.4,260.6 L269.0,260.8 L270.5,261.0 L272.1,261.2 L273.6,261.5 L275.2,261.8 L276.7,262.0 L278.3,262.3 L279.8,262.7 L281.4,263.0 L282.9,263.3 L284.5,263.7 L286.0,264.1 L287.6,264.4 L289.1,264.7 L290.7,265.1 L292.2,265.4 L293.8,265.7 L295.3,266.1 L296.9,266.4 L298.4,266.7 L300.0,266.9 L301.5,267.1 L303.1,267.3 L304.7,267.4 L306.2,267.5 L307.8,267.4 L309.3,267.2 L310.9,266.9 L312.4,266.5 L314.0,266.0 L315.5,265.3 L317.1,264.4 L318.6,263.4 L320.2,262.2 L321.7,260.9 L323.3,259.4 L324.8,257.8 L326.4,256.0 L327.9,254.2 L329.5,252.2 L331.0,250.1 L332.6,248.0 L334.1,245.9 L335.7,243.7 L337.2,241.6 L338.8,239.6 L340.4,237.7 L341.9,236.0 L343.5,234.5 L345.0,233.2 L346.6,232.2 L348.1,231.4 L349.7,231.0 L351.2,230.9 L352.8,231.2 L354.3,231.9 L355.9,232.8 L357.4,234.0 L359.0,235.5 L360.5,237.3 L362.1,239.3 L363.6,241.6 L365.2,244.0 L366.7,246.7 L368.3,249.5 L369.8,252.4 L371.4,255.4 L372.9,258.4 L374.5,261.4 L376.1,264.3 L377.6,267.2 L379.2,270.0 L380.7,272.6 L382.3,275.1 L383.8,277.6 L385.4,279.9 L386.9,282.1 L388.5,284.2 L390.0,286.2 L391.6,288.1 L393.1,289.8 L394.7,291.4 L396.2,292.8 L397.8,294.2 L399.3,295.4 L400.9,296.5 L402.4,297.5 L404.0,298.4 L405.5,299.2 L407.1,299.9 L408.6,300.6 L410.2,301.1 L411.8,301.7 L413.3,302.1 L414.9,302.6 L416.4,302.9 L418.0,303.3 L419.5,303.6 L421.1,303.9 L422.6,304.1 L424.2,304.4 L425.7,304.6 L427.3,304.8 L428.8,305.0 L430.4,305.2 L431.9,305.3 L433.5,305.4 L435.0,305.6 L436.6,305.7 L438.1,305.9 L439.7,306.0 L441.2,306.2 L442.8,306.3 L444.3,306.5 L445.9,306.6 L447.4,306.7 L449.0,306.9 L450.6,307.0 L452.1,307.2 L453.7,307.3 L455.2,307.5 L456.8,307.6 L458.3,307.7 L459.9,307.9 L461.4,308.0 L463.0,308.2 L464.5,308.3 L466.1,308.4 L467.6,308.6 L469.2,308.7 L470.7,308.9 L472.3,309.0 L473.8,309.1 L475.4,309.3 L476.9,309.4 L478.5,309.5 L480.0,309.6 L481.6,309.8 L483.1,309.9 L484.7,309.9 L484.7,315.6 L483.1,315.5 L481.6,315.4 L480.0,315.3 L478.5,315.2 L476.9,315.2 L475.4,315.1 L473.8,315.1 L472.3,315.0 L470.7,315.0 L469.2,314.9 L467.6,314.9 L466.1,314.9 L464.5,314.9 L463.0,314.9 L461.4,314.9 L459.9,314.9 L458.3,314.8 L456.8,314.8 L455.2,314.8 L453.7,314.8 L452.1,314.8 L450.6,314.7 L449.0,314.7 L447.4,314.6 L445.9,314.6 L444.3,314.5 L442.8,314.5 L441.2,314.4 L439.7,314.3 L438.1,314.2 L436.6,314.0 L435.0,313.9 L433.5,313.7 L431.9,313.5 L430.4,313.3 L428.8,313.1 L427.3,312.9 L425.7,312.7 L424.2,312.4 L422.6,312.2 L421.1,311.9 L419.5,311.7 L418.0,311.4 L416.4,311.1 L414.9,310.8 L413.3,310.6 L411.8,310.3 L410.2,310.0 L408.6,309.7 L407.1,309.5 L405.5,309.2 L404.0,308.9 L402.4,308.7 L400.9,308.4 L399.3,308.2 L397.8,307.9 L396.2,307.7 L394.7,307.5 L393.1,307.3 L391.6,307.1 L390.0,306.9 L388.5,306.7 L386.9,306.5 L385.4,306.3 L383.8,306.1 L382.3,305.9 L380.7,305.7 L379.2,305.5 L377.6,305.3 L376.1,305.1 L374.5,304.9 L372.9,304.7 L371.4,304.5 L369.8,304.3 L368.3,304.0 L366.7,303.8 L365.2,303.5 L363.6,303.3 L362.1,303.0 L360.5,302.7 L359.0,302.3 L357.4,302.0 L355.9,301.6 L354.3,301.3 L352.8,300.9 L351.2,300.5 L349.7,300.1 L348.1,299.7 L346.6,299.3 L345.0,298.9 L343.5,298.5 L341.9,298.1 L340.4,297.7 L338.8,297.3 L337.2,296.9 L335.7,296.5 L334.1,296.1 L332.6,295.7 L331.0,295.3 L329.5,294.9 L327.9,294.5 L326.4,294.1 L324.8,293.7 L323.3,293.3 L321.7,292.9 L320.2,292.5 L318.6,292.2 L317.1,291.8 L315.5,291.5 L314.0,291.2 L312.4,291.0 L310.9,290.7 L309.3,290.5 L307.8,290.2 L306.2,290.0 L304.7,289.8 L303.1,289.6 L301.5,289.4 L300.0,289.3 L298.4,289.1 L296.9,288.9 L295.3,288.8 L293.8,288.6 L292.2,288.5 L290.7,288.3 L289.1,288.2 L287.6,288.0 L286.0,287.9 L284.5,287.7 L282.9,287.5 L281.4,287.4 L279.8,287.2 L278.3,287.0 L276.7,286.8 L275.2,286.6 L273.6,286.4 L272.1,286.2 L270.5,286.0 L269.0,285.8 L267.4,285.6 L265.9,285.4 L264.3,285.2 L262.7,285.0 L261.2,284.8 L259.6,284.6 L258.1,284.4 L256.5,284.2 L255.0,284.0 L253.4,283.8 L251.9,283.7 L250.3,283.5 L248.8,283.3 L247.2,283.1 L245.7,282.9 L244.1,282.7 L242.6,282.5 L241.0,282.3 L239.5,282.1 L237.9,281.9 L236.4,281.7 L234.8,281.5 L233.3,281.3 L231.7,281.1 L230.2,280.9 L228.6,280.7 L227.0,280.5 L225.5,280.3 L223.9,280.2 L222.4,280.0 L220.8,279.8 L219.3,279.6 L217.7,279.4 L216.2,279.2 L214.6,279.0 L213.1,278.8 L211.5,278.6 L210.0,278.5 L208.4,278.3 L206.9,278.1 L205.3,277.9 L203.8,277.7 L202.2,277.5 L200.7,277.3 L199.1,277.1 L197.6,276.9 L196.0,276.7 L194.5,276.5 L192.9,276.3 L191.3,276.1 L189.8,275.9 L188.2,275.7 L186.7,275.5 L185.1,275.2 L183.6,275.0 L182.0,274.8 L180.5,274.6 L178.9,274.4 L177.4,274.1 L175.8,273.9 L174.3,273.7 L172.7,273.5 L171.2,273.2 L169.6,273.0 L168.1,272.8 L166.5,272.5 L165.0,272.3 L163.4,272.1 L161.9,271.8 L160.3,271.6 L158.8,271.3 L157.2,271.1 L155.6,270.8 L154.1,270.6 L152.5,270.3 L151.0,270.1 L149.4,269.8 L147.9,269.6 L146.3,269.3 L144.8,269.1 L143.2,268.8 L141.7,268.6 L140.1,268.3 L138.6,268.0 L137.0,267.8 L135.5,267.5 L133.9,267.3 L132.4,267.0 L130.8,266.7 L129.3,266.5 L127.7,266.2 L126.2,265.9 L124.6,265.7 L123.1,265.4 L121.5,265.1 L120.0,264.9 L118.4,264.6 L116.8,264.3 L115.3,264.0 L113.7,263.8 L112.2,263.5 L110.6,263.2 L109.1,262.9 L107.5,262.7 L106.0,262.4 L104.4,262.1 L102.9,261.8 L101.3,261.5 L99.8,261.3 L98.2,261.0 L96.7,260.7 L95.1,260.4 L93.6,260.1 L92.0,259.9 L90.5,259.6 L88.9,259.3 L87.4,259.0 L85.8,258.7 L84.3,258.5 L82.7,258.2 Z" fill="#0b850b" fill-opacity="1" stroke="none" stroke-width="0.8"/>
<path d="M82.7,259.0 L84.3,259.0 L85.8,259.0 L87.4,259.0 L88.9,259.0 L90.5,259.0 L92.0,259.0 L93.6,258.9 L95.1,258.9 L96.7,258.9 L98.2,258.9 L99.8,258.9 L101.3,258.9 L102.9,258.9 L104.4,258.9 L106.0,258.8 L107.5,258.8 L109.1,258.8 L110.6,258.8 L112.2,258.8 L113.7,258.8 L115.3,258.8 L116.8,258.8 L118.4,258.8 L120.0,258.7 L121.5,258.7 L123.1,258.7 L124.6,258.7 L126.2,258.7 L127.7,258.7 L129.3,258.7 L130.8,258.7 L132.4,258.7 L133.9,258.6 L135.5,258.6 L137.0,258.6 L138.6,258.6 L140.1,258.6 L141.7,258.6 L143.2,258.6 L144.8,258.6 L146.3,258.5 L147.9,258.5 L149.4,258.5 L151.0,258.5 L152.5,258.5 L154.1,258.5 L155.6,258.5 L157.2,258.5 L158.8,258.5 L160.3,258.4 L161.9,258.4 L163.4,258.4 L165.0,258.4 L166.5,258.4 L168.1,258.4 L169.6,258.4 L171.2,258.4 L172.7,258.4 L174.3,258.3 L175.8,258.3 L177.4,258.3 L178.9,258.3 L180.5,258.3 L182.0,258.3 L183.6,258.3 L185.1,258.3 L186.7,258.2 L188.2,258.2 L189.8,258.2 L191.3,258.2 L192.9,258.2 L194.5,258.2 L196.0,258.2 L197.6,258.2 L199.1,258.2 L200.7,258.1 L202.2,258.1 L203.8,258.1 L205.3,258.1 L206.9,258.1 L208.4,258.1 L210.0,258.1 L211.5,258.1 L213.1,258.1 L214.6,258.0 L216.2,258.0 L217.7,258.0 L219.3,258.0 L220.8,258.0 L222.4,258.0 L223.9,258.1 L225.5,258.1 L227.0,258.1 L228.6,258.1 L230.2,258.2 L231.7,258.2 L233.3,258.3 L234.8,258.3 L236.4,258.4 L237.9,258.5 L239.5,258.5 L241.0,258.6 L242.6,258.7 L244.1,258.7 L245.7,258.8 L247.2,258.9 L248.8,259.0 L250.3,259.0 L251.9,259.1 L253.4,259.2 L255.0,259.3 L256.5,259.4 L258.1,259.5 L259.6,259.7 L261.2,259.8 L262.7,259.9 L264.3,260.0 L265.9,260.1 L267.4,260.1 L269.0,260.2 L270.5,260.1 L272.1,260.1 L273.6,259.9 L275.2,259.7 L276.7,259.4 L278.3,259.0 L279.8,258.4 L281.4,257.6 L282.9,256.6 L284.5,255.4 L286.0,253.9 L287.6,252.2 L289.1,250.2 L290.7,247.8 L292.2,245.2 L293.8,242.2 L295.3,238.9 L296.9,235.4 L298.4,231.6 L300.0,227.7 L301.5,223.6 L303.1,219.5 L304.7,215.4 L306.2,211.5 L307.8,207.7 L309.3,204.3 L310.9,201.3 L312.4,198.8 L314.0,196.9 L315.5,195.7 L317.1,195.2 L318.6,195.5 L320.2,196.4 L321.7,197.7 L323.3,199.3 L324.8,201.4 L326.4,203.8 L327.9,206.5 L329.5,209.5 L331.0,212.8 L332.6,216.3 L334.1,220.0 L335.7,223.9 L337.2,227.8 L338.8,231.8 L340.4,235.9 L341.9,240.0 L343.5,244.0 L345.0,248.0 L346.6,251.8 L348.1,255.6 L349.7,259.2 L351.2,262.7 L352.8,266.0 L354.3,269.2 L355.9,272.1 L357.4,274.9 L359.0,277.5 L360.5,280.0 L362.1,282.3 L363.6,284.4 L365.2,286.4 L366.7,288.2 L368.3,289.9 L369.8,291.5 L371.4,292.9 L372.9,294.2 L374.5,295.4 L376.1,296.4 L377.6,297.2 L379.2,297.9 L380.7,298.5 L382.3,299.0 L383.8,299.5 L385.4,299.9 L386.9,300.2 L388.5,300.6 L390.0,300.9 L391.6,301.1 L393.1,301.4 L394.7,301.6 L396.2,301.9 L397.8,302.1 L399.3,302.3 L400.9,302.4 L402.4,302.6 L404.0,302.7 L405.5,302.9 L407.1,303.0 L408.6,303.2 L410.2,303.3 L411.8,303.5 L413.3,303.6 L414.9,303.7 L416.4,303.9 L418.0,304.0 L419.5,304.2 L421.1,304.3 L422.6,304.4 L424.2,304.6 L425.7,304.7 L427.3,304.9 L428.8,305.0 L430.4,305.2 L431.9,305.3 L433.5,305.4 L435.0,305.6 L436.6,305.7 L438.1,305.9 L439.7,306.0 L441.2,306.2 L442.8,306.3 L444.3,306.5 L445.9,306.6 L447.4,306.7 L449.0,306.9 L450.6,307.0 L452.1,307.2 L453.7,307.3 L455.2,307.5 L456.8,307.6 L458.3,307.7 L459.9,307.9 L461.4,308.0 L463.0,308.2 L464.5,308.3 L466.1,308.4 L467.6,308.6 L469.2,308.7 L470.7,308.9 L472.3,309.0 L473.8,309.1 L475.4,309.3 L476.9,309.4 L478.5,309.5 L480.0,309.6 L481.6,309.8 L483.1,309.9 L484.7,309.9 L484.7,315.6 L483.1,315.5 L481.6,315.4 L480.0,315.3 L478.5,315.2 L476.9,315.2 L475.4,315.1 L473.8,315.1 L472.3,315.0 L470.7,315.0 L469.2,314.9 L467.6,314.9 L466.1,314.9 L464.5,314.9 L463.0,314.9 L461.4,314.9 L459.9,314.9 L458.3,314.8 L456.8,314.8 L455.2,314.8 L453.7,314.8 L452.1,314.8 L450.6,314.7 L449.0,314.7 L447.4,314.6 L445.9,314.6 L444.3,314.5 L442.8,314.5 L441.2,314.4 L439.7,314.3 L438.1,314.2 L436.6,314.0 L435.0,313.9 L433.5,313.7 L431.9,313.5 L430.4,313.3 L428.8,313.1 L427.3,312.9 L425.7,312.7 L424.2,312.4 L422.6,312.2 L421.1,311.9 L419.5,311.7 L418.0,311.4 L416.4,311.1 L414.9,310.8 L413.3,310.6 L411.8,310.3 L410.2,310.0 L408.6,309.7 L407.1,309.5 L405.5,309.2 L404.0,308.9 L402.4,308.7 L400.9,308.4 L399.3,308.2 L397.8,307.9 L396.2,307.7 L394.7,307.5 L393.1,307.3 L391.6,307.1 L390.0,306.9 L388.5,306.7 L386.9,306.5 L385.4,306.3 L383.8,306.1 L382.3,305.9 L380.7,305.7 L379.2,305.5 L377.6,305.3 L376.1,305.1 L374.5,304.9 L372.9,304.7 L371.4,304.5 L369.8,304.3 L368.3,304.0 L366.7,303.8 L365.2,303.5 L363.6,303.3 L362.1,303.0 L360.5,302.7 L359.0,302.3 L357.4,302.0 L355.9,301.6 L354.3,301.3 L352.8,300.9 L351.2,300.5 L349.7,300.1 L348.1,299.7 L346.6,299.3 L345.0,298.9 L343.5,298.5 L341.9,298.1 L340.4,297.7 L338.8,297.3 L337.2,296.9 L335.7,296.5 L334.1,296.1 L332.6,295.7 L331.0,295.3 L329.5,294.9 L327.9,294.5 L326.4,294.1 L324.8,293.7 L323.3,293.3 L321.7,292.9 L320.2,292.5 L318.6,292.2 L317.1,291.8 L315.5,291.5 L314.0,291.2 L312.4,291.0 L310.9,290.7 L309.3,290.5 L307.8,290.2 L306.2,290.0 L304.7,289.8 L303.1,289.6 L301.5,289.4 L300.0,289.3 L298.4,289.1 L296.9,288.9 L295.3,288.8 L293.8,288.6 L292.2,288.5 L290.7,288.3 L289.1,288.2 L287.6,288.0 L286.0,287.9 L284.5,287.7 L282.9,287.5 L281.4,287.4 L279.8,287.2 L278.3,287.0 L276.7,286.8 L275.2,286.6 L273.6,286.4 L272.1,286.2 L270.5,286.0 L269.0,285.8 L267.4,285.6 L265.9,285.4 L264.3,285.2 L262.7,285.0 L261.2,284.8 L259.6,284.6 L258.1,284.4 L256.5,284.2 L255.0,284.0 L253.4,283.8 L251.9,283.7 L250.3,283.5 L248.8,283.3 L247.2,283.1 L245.7,282.9 L244.1,282.7 L242.6,282.5 L241.0,282.3 L239.5,282.1 L237.9,281.9 L236.4,281.7 L234.8,281.5 L233.3,281.3 L231.7,281.1 L230.2,280.9 L228.6,280.7 L227.0,280.5 L225.5,280.3 L223.9,280.2 L222.4,280.0 L220.8,279.8 L219.3,279.6 L217.7,279.4 L216.2,279.2 L214.6,279.0 L213.1,278.8 L211.5,278.6 L210.0,278.5 L208.4,278.3 L206.9,278.1 L205.3,277.9 L203.8,277.7 L202.2,277.5 L200.7,277.3 L199.1,277.1 L197.6,276.9 L196.0,276.7 L194.5,276.5 L192.9,276.3 L191.3,276.1 L189.8,275.9 L188.2,275.7 L186.7,275.5 L185.1,275.2 L183.6,275.0 L182.0,274.8 L180.5,274.6 L178.9,274.4 L177.4,274.1 L175.8,273.9 L174.3,273.7 L172.7,273.5 L171.2,273.2 L169.6,273.0 L168.1,272.8 L166.5,272.5 L165.0,272.3 L163.4,272.1 L161.9,271.8 L160.3,271.6 L158.8,271.3 L157.2,271.1 L155.6,270.8 L154.1,270.6 L152.5,270.3 L151.0,270.1 L149.4,269.8 L147.9,269.6 L146.3,269.3 L144.8,269.1 L143.2,268.8 L141.7,268.6 L140.1,268.3 L138.6,268.0 L137.0,267.8 L135.5,267.5 L133.9,267.3 L132.4,267.0 L130.8,266.7 L129.3,266.5 L127.7,266.2 L126.2,265.9 L124.6,265.7 L123.1,265.4 L121.5,265.1 L120.0,264.9 L118.4,264.6 L116.8,264.3 L115.3,264.0 L113.7,263.8 L112.2,263.5 L110.6,263.2 L109.1,262.9 L107.5,262.7 L106.0,262.4 L104.4,262.1 L102.9,261.8 L101.3,261.5 L99.8,261.3 L98.2,261.0 L96.7,260.7 L95.1,260.4 L93.6,260.1 L92.0,259.9 L90.5,259.6 L88.9,259.3 L87.4,259.0 L85.8,258.7 L84.3,258.5 L82.7,258.2 Z" fill="#8b0000" fill-opacity="1" stroke="none" stroke-width="0.8"/>
<path d="M82.7,259.0 L84.3,259.0 L85.8,259.0 L87.4,259.0 L88.9,259.0 L90.5,259.0 L92.0,259.0 L93.6,258.9 L95.1,258.9 L96.7,258.9 L98.2,258.9 L99.8,258.9 L101.3,258.9 L102.9,258.9 L104.4,258.9 L106.0,258.8 L107.5,258.8 L109.1,258.8 L110.6,258.8 L112.2,258.8 L113.7,258.8 L115.3,258.8 L116.8,258.8 L118.4,258.8 L120.0,258.7 L121.5,258.7 L123.1,258.7 L124.6,258.7 L126.2,258.7 L127.7,258.7 L129.3,258.7 L130.8,258.7 L132.4,258.7 L133.9,258.6 L135.5,258.6 L137.0,258.6 L138.6,258.6 L140.1,258.6 L141.7,258.6 L143.2,258.6 L144.8,258.6 L146.3,258.5 L147.9,258.5 L149.4,258.5 L151.0,258.5 L152.5,258.5 L154.1,258.5 L155.6,258.5 L157.2,258.5 L158.8,258.5 L160.3,258.4 L161.9,258.4 L163.4,258.4 L165.0,258.4 L166.5,258.4 L168.1,258.4 L169.6,258.4 L171.2,258.4 L172.7,258.4 L174.3,258.3 L175.8,258.3 L177.4,258.3 L178.9,258.3 L180.5,258.3 L182.0,258.3 L183.6,258.3 L185.1,258.3 L186.7,258.2 L188.2,258.2 L189.8,258.2 L191.3,258.2 L192.9,258.2 L194.5,258.2 L196.0,258.2 L197.6,258.2 L199.1,258.2 L200.7,258.1 L202.2,258.1 L203.8,258.1 L205.3,258.1 L206.9,258.1 L208.4,258.1 L210.0,258.0 L211.5,258.0 L213.1,258.0 L214.6,257.9 L216.2,257.9 L217.7,257.8 L219.3,257.8 L220.8,257.8 L222.4,257.7 L223.9,257.7 L225.5,257.6 L227.0,257.5 L228.6,257.5 L230.2,257.3 L231.7,257.2 L233.3,257.0 L234.8,256.8 L236.4,256.5 L237.9,256.1 L239.5,255.6 L241.0,255.0 L242.6,254.2 L244.1,253.3 L245.7,252.2 L247.2,250.9 L248.8,249.3 L250.3,247.4 L251.9,245.3 L253.4,242.8 L255.0,240.0 L256.5,236.9 L258.1,233.4 L259.6,229.5 L261.2,225.3 L262.7,220.8 L264.3,216.0 L265.9,211.0 L267.4,205.8 L269.0,200.5 L270.5,195.1 L272.1,189.9 L273.6,184.7 L275.2,179.9 L276.7,175.4 L278.3,171.4 L279.8,168.0 L281.4,165.3 L282.9,163.3 L284.5,162.2 L286.0,161.9 L287.6,162.5 L289.1,164.0 L290.7,166.2 L292.2,169.2 L293.8,172.9 L295.3,177.2 L296.9,182.0 L298.4,187.2 L300.0,192.7 L301.5,198.5 L303.1,204.5 L304.7,210.5 L306.2,216.4 L307.8,222.3 L309.3,227.9 L310.9,233.4 L312.4,238.6 L314.0,243.4 L315.5,248.0 L317.1,252.2 L318.6,256.0 L320.2,259.6 L321.7,262.8 L323.3,265.7 L324.8,268.4 L326.4,270.7 L327.9,272.8 L329.5,274.7 L331.0,276.5 L332.6,278.0 L334.1,279.4 L335.7,280.7 L337.2,281.8 L338.8,282.9 L340.4,283.9 L341.9,284.8 L343.5,285.7 L345.0,286.5 L346.6,287.3 L348.1,288.1 L349.7,288.8 L351.2,289.5 L352.8,290.2 L354.3,290.8 L355.9,291.5 L357.4,292.1 L359.0,292.8 L360.5,293.4 L362.1,294.0 L363.6,294.7 L365.2,295.3 L366.7,295.9 L368.3,296.6 L369.8,297.2 L371.4,297.7 L372.9,298.3 L374.5,298.8 L376.1,299.2 L377.6,299.6 L379.2,299.9 L380.7,300.2 L382.3,300.3 L383.8,300.5 L385.4,300.7 L386.9,300.9 L388.5,301.1 L390.0,301.3 L391.6,301.4 L393.1,301.6 L394.7,301.8 L396.2,301.9 L397.8,302.1 L399.3,302.3 L400.9,302.4 L402.4,302.6 L404.0,302.7 L405.5,302.9 L407.1,303.0 L408.6,303.2 L410.2,303.3 L411.8,303.5 L413.3,303.6 L414.9,303.7 L416.4,303.9 L418.0,304.0 L419.5,304.2 L421.1,304.3 L422.6,304.4 L424.2,304.6 L425.7,304.7 L427.3,304.9 L428.8,305.0 L430.4,305.2 L431.9,305.3 L433.5,305.4 L435.0,305.6 L436.6,305.7 L438.1,305.9 L439.7,306.0 L441.2,306.2 L442.8,306.3 L444.3,306.5 L445.9,306.6 L447.4,306.7 L449.0,306.9 L450.6,307.0 L452.1,307.2 L453.7,307.3 L455.2,307.5 L456.8,307.6 L458.3,307.7 L459.9,307.9 L461.4,308.0 L463.0,308.2 L464.5,308.3 L466.1,308.4 L467.6,308.6 L469.2,308.7 L470.7,308.9 L472.3,309.0 L473.8,309.1 L475.4,309.3 L476.9,309.4 L478.5,309.5 L480.0,309.6 L481.6,309.8 L483.1,309.9 L484.7,309.9 L484.7,315.6 L483.1,315.5 L481.6,315.4 L480.0,315.3 L478.5,315.2 L476.9,315.2 L475.4,315.1 L473.8,315.1 L472.3,315.0 L470.7,315.0 L469.2,314.9 L467.6,314.9 L466.1,314.9 L464.5,314.9 L463.0,314.9 L461.4,314.9 L459.9,314.9 L458.3,314.8 L456.8,314.8 L455.2,314.8 L453.7,314.8 L452.1,314.8 L450.6,314.7 L449.0,314.7 L447.4,314.6 L445.9,314.6 L444.3,314.5 L442.8,314.5 L441.2,314.4 L439.7,314.3 L438.1,314.2 L436.6,314.0 L435.0,313.9 L433.5,313.7 L431.9,313.5 L430.4,313.3 L428.8,313.1 L427.3,312.9 L425.7,312.7 L424.2,312.4 L422.6,312.2 L421.1,311.9 L419.5,311.7 L418.0,311.4 L416.4,311.1 L414.9,310.8 L413.3,310.6 L411.8,310.3 L410.2,310.0 L408.6,309.7 L407.1,309.5 L405.5,309.2 L404.0,308.9 L402.4,308.7 L400.9,308.4 L399.3,308.2 L397.8,307.9 L396.2,307.7 L394.7,307.5 L393.1,307.3 L391.6,307.1 L390.0,306.9 L388.5,306.7 L386.9,306.5 L385.4,306.3 L383.8,306.1 L382.3,305.9 L380.7,305.7 L379.2,305.5 L377.6,305.3 L376.1,305.1 L374.5,304.9 L372.9,304.7 L371.4,304.5 L369.8,304.3 L368.3,304.0 L366.7,303.8 L365.2,303.5 L363.6,303.3 L362.1,303.0 L360.5,302.7 L359.0,302.3 L357.4,302.0 L355.9,301.6 L354.3,301.3 L352.8,300.9 L351.2,300.5 L349.7,300.1 L348.1,299.7 L346.6,299.3 L345.0,298.9 L343.5,298.5 L341.9,298.1 L340.4,297.7 L338.8,297.3 L337.2,296.9 L335.7,296.5 L334.1,296.1 L332.6,295.7 L331.0,295.3 L329.5,294.9 L327.9,294.5 L326.4,294.1 L324.8,293.7 L323.3,293.3 L321.7,292.9 L320.2,292.5 L318.6,292.2 L317.1,291.8 L315.5,291.5 L314.0,291.2 L312.4,291.0 L310.9,290.7 L309.3,290.5 L307.8,290.2 L306.2,290.0 L304.7,289.8 L303.1,289.6 L301.5,289.4 L300.0,289.3 L298.4,289.1 L296.9,288.9 L295.3,288.8 L293.8,288.6 L292.2,288.5 L290.7,288.3 L289.1,288.2 L287.6,288.0 L286.0,287.9 L284.5,287.7 L282.9,287.5 L281.4,287.4 L279.8,287.2 L278.3,287.0 L276.7,286.8 L275.2,286.6 L273.6,286.4 L272.1,286.2 L270.5,286.0 L269.0,285.8 L267.4,285.6 L265.9,285.4 L264.3,285.2 L262.7,285.0 L261.2,284.8 L259.6,284.6 L258.1,284.4 L256.5,284.2 L255.0,284.0 L253.4,283.8 L251.9,283.7 L250.3,283.5 L248.8,283.3 L247.2,283.1 L245.7,282.9 L244.1,282.7 L242.6,282.5 L241.0,282.3 L239.5,282.1 L237.9,281.9 L236.4,281.7 L234.8,281.5 L233.3,281.3 L231.7,281.1 L230.2,280.9 L228.6,280.7 L227.0,280.5 L225.5,280.3 L223.9,280.2 L222.4,280.0 L220.8,279.8 L219.3,279.6 L217.7,279.4 L216.2,279.2 L214.6,279.0 L213.1,278.8 L211.5,278.6 L210.0,278.5 L208.4,278.3 L206.9,278.1 L205.3,277.9 L203.8,277.7 L202.2,277.5 L200.7,277.3 L199.1,277.1 L197.6,276.9 L196.0,276.7 L194.5,276.5 L192.9,276.3 L191.3,276.1 L189.8,275.9 L188.2,275.7 L186.7,275.5 L185.1,275.2 L183.6,275.0 L182.0,274.8 L180.5,274.6 L178.9,274.4 L177.4,274.1 L175.8,273.9 L174.3,273.7 L172.7,273.5 L171.2,273.2 L169.6,273.0 L168.1,272.8 L166.5,272.5 L165.0,272.3 L163.4,272.1 L161.9,271.8 L160.3,271.6 L158.8,271.3 L157.2,271.1 L155.6,270.8 L154.1,270.6 L152.5,270.3 L151.0,270.1 L149.4,269.8 L147.9,269.6 L146.3,269.3 L144.8,269.1 L143.2,268.8 L141.7,268.6 L140.1,268.3 L138.6,268.0 L137.0,267.8 L135.5,267.5 L133.9,267.3 L132.4,267.0 L130.8,266.7 L129.3,266.5 L127.7,266.2 L126.2,265.9 L124.6,265.7 L123.1,265.4 L121.5,265.1 L120.0,264.9 L118.4,264.6 L116.8,264.3 L115.3,264.0 L113.7,263.8 L112.2,263.5 L110.6,263.2 L109.1,262.9 L107.5,262.7 L106.0,262.4 L104.4,262.1 L102.9,261.8 L101.3,261.5 L99.8,261.3 L98.2,261.0 L96.7,260.7 L95.1,260.4 L93.6,260.1 L92.0,259.9 L90.5,259.6 L88.9,259.3 L87.4,259.0 L85.8,258.7 L84.3,258.5 L82.7,258.2 Z" fill="#ff00ff" fill-opacity="0.73" stroke="none" stroke-width="0.8"/>
<path d="M82.7,255.4 L83.7,255.4 L84.7,255.3 L85.7,255.3 L86.7,255.3 L87.7,255.2 L88.7,255.2 L89.7,255.2 L90.7,255.1 L91.7,255.1 L92.7,255.0 L93.7,255.0 L94.7,254.9 L95.7,254.8 L96.7,254.8 L97.7,254.7 L98.7,254.7 L99.7,254.6 L100.7,254.5 L101.7,254.5 L102.7,254.4 L103.7,254.4 L104.7,254.3 L105.7,254.2 L106.7,254.2 L107.7,254.1 L108.7,254.0 L109.7,254.0 L110.7,253.9 L111.7,253.8 L112.7,253.8 L113.7,253.7 L114.7,253.6 L115.7,253.5 L116.7,253.4 L117.7,253.3 L118.7,253.2 L119.7,253.1 L120.7,253.0 L121.7,252.9 L122.7,252.8 L123.7,252.7 L124.7,252.6 L125.7,252.4 L126.7,252.3 L127.7,252.1 L128.7,252.0 L129.7,251.8 L130.7,251.7 L131.7,251.5 L132.7,251.3 L133.7,251.1 L134.7,250.9 L135.7,250.6 L136.7,250.4 L137.7,250.1 L138.7,249.8 L139.7,249.5 L140.7,249.2 L141.7,248.9 L142.7,248.6 L143.7,248.3 L144.7,248.0 L145.7,247.7 L146.7,247.3 L147.7,247.0 L148.7,246.6 L149.7,246.3 L150.7,245.9 L151.7,245.6 L152.7,245.2 L153.7,244.9 L154.7,244.5 L155.7,244.2 L156.7,243.8 L157.7,243.5 L158.7,243.1 L159.7,242.7 L160.7,242.4 L161.7,242.0 L162.7,241.6 L163.7,241.1 L164.7,240.7 L165.7,240.2 L166.7,239.8 L167.7,239.2 L168.7,238.7 L169.7,238.1 L170.7,237.6 L171.7,237.0 L172.7,236.4 L173.7,235.7 L174.7,235.1 L175.7,234.5 L176.7,233.8 L177.7,233.2 L178.7,232.6 L179.7,231.9 L180.7,231.3 L181.7,230.7 L182.7,230.0 L183.7,229.4 L184.7,228.7 L185.7,228.0 L186.7,227.3 L187.7,226.6 L188.7,225.8 L189.7,225.0 L190.7,224.2 L191.7,223.4 L192.7,222.4 L193.7,221.4 L194.7,220.4 L195.7,219.2 L196.7,218.1 L197.7,216.8 L198.7,215.6 L199.7,214.3 L200.7,212.9 L201.7,211.6 L202.7,210.2 L203.7,208.8 L204.7,207.4 L205.7,206.0 L206.7,204.6 L207.7,203.1 L208.7,201.7 L209.7,200.3 L210.7,199.0 L211.7,197.6 L212.7,196.2 L213.7,194.7 L214.7,193.3 L215.7,191.9 L216.7,190.4 L217.7,188.9 L218.7,187.3 L219.7,185.7 L220.7,184.1 L221.7,182.4 L222.7,180.7 L223.7,178.9 L224.7,177.1 L225.7,175.3 L226.7,173.4 L227.7,171.6 L228.7,169.7 L229.7,167.8 L230.7,165.9 L231.7,164.0 L232.7,162.1 L233.7,160.1 L234.7,158.2 L235.7,156.2 L236.7,154.2 L237.7,152.2 L238.7,150.2 L239.7,148.2 L240.7,146.2 L241.7,144.2 L242.7,142.2 L243.7,140.2 L244.7,138.2 L245.7,136.1 L246.7,134.1 L247.7,132.1 L248.7,130.1 L249.7,128.1 L250.7,126.1 L251.7,124.1 L252.7,122.1 L253.7,120.1 L254.7,118.1 L255.7,116.1 L256.7,114.1 L257.7,112.1 L258.7,110.1 L259.7,108.1 L260.7,106.5 L261.7,105.0 L262.7,103.8 L263.7,102.7 L264.7,101.7 L265.7,100.8 L266.7,99.9 L267.7,99.0 L268.7,98.2 L269.7,97.4 L270.7,96.7 L271.7,96.0 L272.7,95.3 L273.7,94.7 L274.7,94.0 L275.7,93.3 L276.7,92.6 L277.7,91.8 L278.7,91.1 L279.7,90.4 L280.7,89.8 L281.7,89.3 L282.7,88.8 L283.7,88.4 L284.7,88.2 L285.7,88.1 L286.7,88.2 L287.7,88.4 L288.7,88.9 L289.7,89.4 L290.7,90.0 L291.7,90.6 L292.7,91.2 L293.7,91.8 L294.7,92.5 L295.7,93.2 L296.7,93.9 L297.7,94.6 L298.7,95.2 L299.7,95.9 L300.7,96.6 L301.7,97.3 L302.7,97.9 L303.7,98.6 L304.7,99.2 L305.7,99.9 L306.7,100.6 L307.7,101.2 L308.7,101.9 L309.7,102.7 L310.7,103.4 L311.7,104.2 L312.7,105.0 L313.7,106.0 L314.7,107.2 L315.7,108.6 L316.7,110.1 L317.7,111.8 L318.7,113.5 L319.7,115.3 L320.7,117.0 L321.7,118.8 L322.7,120.5 L323.7,122.3 L324.7,124.1 L325.7,125.8 L326.7,127.6 L327.7,129.5 L328.7,131.3 L329.7,133.1 L330.7,135.0 L331.7,136.9 L332.7,138.9 L333.7,140.8 L334.7,142.8 L335.7,144.7 L336.7,146.7 L337.7,148.7 L338.7,150.7 L339.7,152.7 L340.7,154.7 L341.7,156.7 L342.7,158.8 L343.7,160.9 L344.7,162.9 L345.7,165.1 L346.7,167.2 L347.7,169.3 L348.7,171.5 L349.7,173.7 L350.7,175.9 L351.7,178.1 L352.7,180.3 L353.7,182.5 L354.7,184.8 L355.7,187.0 L356.7,189.3 L357.7,191.6 L358.7,193.9 L359.7,196.3 L360.7,198.6 L361.7,201.0 L362.7,203.5 L363.7,205.9 L364.7,208.4 L365.7,210.9 L366.7,213.3 L367.7,215.8 L368.7,218.3 L369.7,220.9 L370.7,223.6 L371.7,226.5 L372.7,229.4 L373.7,232.3 L374.7,235.3 L375.7,238.3 L376.7,241.2 L377.7,244.1 L378.7,246.8 L379.7,249.5 L380.7,251.9 L381.7,254.3 L382.7,256.5 L383.7,258.5 L384.7,260.5 L385.7,262.4 L386.7,264.2 L387.7,265.9 L388.7,267.5 L389.7,269.1 L390.7,270.6 L391.7,272.0 L392.7,273.5 L393.7,274.9 L394.7,276.3 L395.7,277.6 L396.7,279.0 L397.7,280.3 L398.7,281.6 L399.7,282.8 L400.7,284.0 L401.7,285.1 L402.7,286.2 L403.7,287.1 L404.7,288.0 L405.7,288.9 L406.7,289.7 L407.7,290.5 L408.7,291.2 L409.7,292.0 L410.7,292.7 L411.7,293.4 L412.7,294.0 L413.7,294.7 L414.7,295.3 L415.7,295.9 L416.7,296.5 L417.7,297.1 L418.7,297.7 L419.7,298.2 L420.7,298.8 L421.7,299.3 L422.7,299.9 L423.7,300.4 L424.7,300.9 L425.7,301.4 L426.7,301.8 L427.7,302.2 L428.7,302.5 L429.7,302.9 L430.7,303.2 L431.7,303.4 L432.7,303.7 L433.7,304.0 L434.7,304.3 L435.7,304.5 L436.7,304.7 L437.7,305.0 L438.7,305.2 L439.7,305.4 L440.7,305.6 L441.7,305.8 L442.7,306.0 L443.7,306.2 L444.7,306.4 L445.7,306.5 L446.7,306.7 L447.7,306.8 L448.7,307.0 L449.7,307.1 L450.7,307.3 L451.7,307.4 L452.7,307.5 L453.7,307.6 L454.7,307.7 L455.7,307.9 L456.7,308.0 L457.7,308.1 L458.7,308.2 L459.7,308.3 L460.7,308.4 L461.7,308.5 L462.7,308.6 L463.7,308.7 L464.7,308.8 L465.7,308.9 L466.7,309.0 L467.7,309.1 L468.7,309.2 L469.7,309.2 L470.7,309.3 L471.7,309.4 L472.7,309.5 L473.7,309.5 L474.7,309.6 L475.7,309.7 L476.7,309.7 L477.7,309.8 L478.7,309.8 L479.7,309.9 L480.7,309.9 L481.7,309.9 L482.7,310.0 L483.7,310.0 L484.7,310.0" fill="none" stroke="#e8262a" stroke-width="3.0" stroke-dasharray="9.5,10"/>
</g>
<line x1="169.4" y1="206.8" x2="195.9" y2="232.3" stroke="#111" stroke-width="1.6"/>
<path d="M200.9,237.2 L193.5,234.1 L197.5,229.9 Z" fill="#111"/>
<line x1="196.0" y1="145.0" x2="245.7" y2="194.7" stroke="#111" stroke-width="1.6"/>
<path d="M250.7,199.6 L243.3,196.4 L247.4,192.2 Z" fill="#111"/>
<line x1="351.8" y1="109.1" x2="291.0" y2="169.1" stroke="#111" stroke-width="1.6"/>
<path d="M286.0,174.0 L289.3,166.7 L293.4,170.8 Z" fill="#111"/>
<line x1="386.1" y1="156.5" x2="333.2" y2="212.7" stroke="#111" stroke-width="1.6"/>
<path d="M328.4,217.8 L331.4,210.4 L335.7,214.3 Z" fill="#111"/>
<line x1="409.8" y1="209.3" x2="365.0" y2="254.1" stroke="#111" stroke-width="1.6"/>
<path d="M360.0,259.0 L363.3,251.6 L367.4,255.8 Z" fill="#111"/>
<rect x="82.7" y="1.8" width="402.0" height="328.4" fill="none" stroke="#111" stroke-width="2.4"/>
<line x1="484.7" y1="330.2" x2="484.7" y2="336.2" stroke="#111" stroke-width="2.2"/>
<line x1="417.7" y1="330.2" x2="417.7" y2="336.2" stroke="#111" stroke-width="2.2"/>
<line x1="350.7" y1="330.2" x2="350.7" y2="336.2" stroke="#111" stroke-width="2.2"/>
<line x1="283.7" y1="330.2" x2="283.7" y2="336.2" stroke="#111" stroke-width="2.2"/>
<line x1="216.7" y1="330.2" x2="216.7" y2="336.2" stroke="#111" stroke-width="2.2"/>
<line x1="149.7" y1="330.2" x2="149.7" y2="336.2" stroke="#111" stroke-width="2.2"/>
<line x1="82.7" y1="330.2" x2="82.7" y2="336.2" stroke="#111" stroke-width="2.2"/>
<line x1="451.2" y1="330.2" x2="451.2" y2="333.7" stroke="#111" stroke-width="2.2"/>
<line x1="384.2" y1="330.2" x2="384.2" y2="333.7" stroke="#111" stroke-width="2.2"/>
<line x1="317.2" y1="330.2" x2="317.2" y2="333.7" stroke="#111" stroke-width="2.2"/>
<line x1="250.2" y1="330.2" x2="250.2" y2="333.7" stroke="#111" stroke-width="2.2"/>
<line x1="183.2" y1="330.2" x2="183.2" y2="333.7" stroke="#111" stroke-width="2.2"/>
<line x1="116.2" y1="330.2" x2="116.2" y2="333.7" stroke="#111" stroke-width="2.2"/>
<line x1="82.7" y1="325.3" x2="76.7" y2="325.3" stroke="#111" stroke-width="2.2"/>
<line x1="82.7" y1="275.5" x2="76.7" y2="275.5" stroke="#111" stroke-width="2.2"/>
<line x1="82.7" y1="225.6" x2="76.7" y2="225.6" stroke="#111" stroke-width="2.2"/>
<line x1="82.7" y1="175.8" x2="76.7" y2="175.8" stroke="#111" stroke-width="2.2"/>
<line x1="82.7" y1="126.0" x2="76.7" y2="126.0" stroke="#111" stroke-width="2.2"/>
<line x1="82.7" y1="76.1" x2="76.7" y2="76.1" stroke="#111" stroke-width="2.2"/>
<line x1="82.7" y1="26.3" x2="76.7" y2="26.3" stroke="#111" stroke-width="2.2"/>
<line x1="82.7" y1="300.4" x2="79.2" y2="300.4" stroke="#111" stroke-width="2.2"/>
<line x1="82.7" y1="250.6" x2="79.2" y2="250.6" stroke="#111" stroke-width="2.2"/>
<line x1="82.7" y1="200.7" x2="79.2" y2="200.7" stroke="#111" stroke-width="2.2"/>
<line x1="82.7" y1="150.9" x2="79.2" y2="150.9" stroke="#111" stroke-width="2.2"/>
<line x1="82.7" y1="101.0" x2="79.2" y2="101.0" stroke="#111" stroke-width="2.2"/>
<line x1="82.7" y1="51.2" x2="79.2" y2="51.2" stroke="#111" stroke-width="2.2"/>
<text x="484.7" y="360.2" font-size="25.0" fill="#000" text-anchor="middle">283</text>
<text x="417.7" y="360.2" font-size="25.0" fill="#000" text-anchor="middle">284</text>
<text x="350.7" y="360.2" font-size="25.0" fill="#000" text-anchor="middle">285</text>
<text x="283.7" y="360.2" font-size="25.0" fill="#000" text-anchor="middle">286</text>
<text x="216.7" y="360.2" font-size="25.0" fill="#000" text-anchor="middle">287</text>
<text x="149.7" y="360.2" font-size="25.0" fill="#000" text-anchor="middle">288</text>
<text x="82.7" y="360.2" font-size="25.0" fill="#000" text-anchor="middle">289</text>
<text x="70.5" y="332.8" font-size="25.0" fill="#000" text-anchor="end">1.1</text>
<text x="70.5" y="282.9" font-size="25.0" fill="#000" text-anchor="end">1.2</text>
<text x="70.5" y="233.1" font-size="25.0" fill="#000" text-anchor="end">1.3</text>
<text x="70.5" y="183.3" font-size="25.0" fill="#000" text-anchor="end">1.4</text>
<text x="70.5" y="133.4" font-size="25.0" fill="#000" text-anchor="end">1.5</text>
<text x="70.5" y="83.6" font-size="25.0" fill="#000" text-anchor="end">1.6</text>
<text x="70.5" y="33.8" font-size="25.0" fill="#000" text-anchor="end">1.7</text>
<text x="90.70" y="27.45" font-size="25.35" fill="#e8141c" stroke="#e8141c" stroke-width="0.45" textLength="40.79" lengthAdjust="spacingAndGlyphs">C1s</text>
<text x="412.00" y="28.86" font-size="23.94" fill="#e8141c" stroke="#e8141c" stroke-width="0.45" textLength="64.95" lengthAdjust="spacingAndGlyphs">3TFSI</text>
<text x="167.60" y="389.87" font-size="22.99" fill="#000" stroke="#000" stroke-width="0.45" textLength="231.73" lengthAdjust="spacingAndGlyphs">Binding Energy (eV)</text>
<text x="0" y="0" font-size="24.93" fill="#000" stroke="#000" stroke-width="0.4" textLength="218.95" lengthAdjust="spacingAndGlyphs" transform="translate(26.60 289.00) rotate(-90)">Intensity (10<tspan font-size="14.96" dy="-10.47">4</tspan><tspan dy="10.47">cps)</tspan></text>
<text x="119.20" y="201.93" font-size="27.32" fill="#3ae8ee" stroke="#3ae8ee" stroke-width="0.45" textLength="77.20" lengthAdjust="spacingAndGlyphs">O-C=O</text>
<text x="170.90" y="138.84" font-size="25.63" fill="#0c0c80" stroke="#0c0c80" stroke-width="0.45" textLength="49.28" lengthAdjust="spacingAndGlyphs">C=O</text>
<text x="335.80" y="105.94" font-size="25.63" fill="#ee22ee" stroke="#ee22ee" stroke-width="0.45" textLength="69.16" lengthAdjust="spacingAndGlyphs">C-O-C</text>
<text x="381.00" y="153.24" font-size="25.63" fill="#7a1010" stroke="#7a1010" stroke-width="0.45" textLength="47.96" lengthAdjust="spacingAndGlyphs">C=C</text>
<text x="378.10" y="201.50" font-size="23.86" fill="#148a14" stroke="#148a14" stroke-width="0.45" textLength="93.14" lengthAdjust="spacingAndGlyphs">C-H,C-C</text>
<clipPath id="clip2"><rect x="592.6" y="2.2" width="414.0" height="331.8"/></clipPath>
<g clip-path="url(#clip2)">
<path d="M834.0,308.0 L835.0,308.4 L836.0,308.8 L837.0,309.2 L838.0,309.6 L839.0,310.0 L840.0,310.4 L841.0,310.8 L842.0,311.2 L843.0,311.6 L844.0,312.0 L845.0,312.4 L846.0,312.8 L847.0,313.2 L848.0,313.6 L849.0,314.0 L850.0,314.4 L851.0,314.6 L852.0,314.8 L853.0,315.1 L854.0,315.3 L855.0,315.5 L856.0,315.7 L857.0,316.0 L858.0,316.2 L859.0,316.4 L860.0,316.6 L861.0,316.9 L862.0,317.1 L863.0,317.3 L864.0,317.5 L865.0,317.8 L866.0,318.0 L867.0,318.2 L868.0,318.4 L869.0,318.7 L870.0,318.9 L871.0,319.1 L872.0,319.3 L873.0,319.6 L874.0,319.7 L875.0,319.8 L876.0,320.0 L877.0,320.1 L878.0,320.2 L879.0,320.4 L880.0,320.5 L881.0,320.6 L882.0,320.8 L883.0,320.9 L884.0,321.0 L885.0,321.2 L886.0,321.3 L887.0,321.4 L888.0,321.6 L889.0,321.7 L890.0,321.8 L891.0,322.0 L892.0,322.1 L893.0,322.2 L894.0,322.4 L895.0,322.5 L896.0,322.6 L897.0,322.8 L898.0,322.9 L899.0,323.0 L900.0,323.2 L901.0,323.3 L902.0,323.4 L903.0,323.6 L904.0,323.7 L905.0,323.7 L906.0,323.8 L907.0,323.9 L908.0,323.9 L909.0,324.0 L910.0,324.1 L911.0,324.1 L912.0,324.2 L913.0,324.3 L914.0,324.3 L915.0,324.4 L916.0,324.4 L917.0,324.5 L918.0,324.6 L919.0,324.6 L920.0,324.7 L921.0,324.8 L922.0,324.8 L923.0,324.9 L924.0,325.0 L925.0,325.0 L926.0,325.1 L927.0,325.1 L928.0,325.2 L929.0,325.3 L930.0,325.3 L931.0,325.4 L932.0,325.5 L933.0,325.5 L934.0,325.6 L935.0,325.7 L936.0,325.7 L937.0,325.8 L938.0,325.9 L939.0,325.9 L940.0,326.0 L941.0,326.0 L942.0,326.0 L943.0,326.1 L944.0,326.1 L945.0,326.1 L946.0,326.2 L947.0,326.2 L948.0,326.2 L949.0,326.3 L950.0,326.3 L951.0,326.3 L952.0,326.4 L953.0,326.4 L954.0,326.4 L955.0,326.5 L956.0,326.5 L957.0,326.5 L958.0,326.5 L959.0,326.6 L960.0,326.6 L961.0,326.6 L962.0,326.7 L963.0,326.7 L964.0,326.7 L965.0,326.8 L966.0,326.8 L967.0,326.8 L968.0,326.9 L969.0,326.9 L970.0,326.9 L971.0,327.0 L972.0,327.0 L973.0,327.0 L974.0,327.1 L975.0,327.1 L976.0,327.1 L977.0,327.1 L978.0,327.2 L979.0,327.2 L980.0,327.2 L981.0,327.3 L982.0,327.3 L983.0,327.3 L984.0,327.4 L985.0,327.4 L986.0,327.4 L987.0,327.5 L988.0,327.5 L989.0,327.5 L990.0,327.6 L991.0,327.6 L992.0,327.6 L993.0,327.7 L994.0,327.7 L995.0,327.7 L996.0,327.7 L997.0,327.8 L998.0,327.8 L999.0,327.8 L1000.0,327.9 L1001.0,327.9 L1002.0,327.9 L1003.0,328.0 L1004.0,328.0 L1005.0,328.0 L1006.0,328.1 L1006.0,327.6 L1005.0,327.4 L1004.0,327.3 L1003.0,327.2 L1002.0,327.1 L1001.0,327.0 L1000.0,326.9 L999.0,326.7 L998.0,326.6 L997.0,326.5 L996.0,326.4 L995.0,326.3 L994.0,326.2 L993.0,326.1 L992.0,325.9 L991.0,325.8 L990.0,325.7 L989.0,325.6 L988.0,325.5 L987.0,325.4 L986.0,325.2 L985.0,325.1 L984.0,325.0 L983.0,324.9 L982.0,324.8 L981.0,324.7 L980.0,324.5 L979.0,324.4 L978.0,324.3 L977.0,324.2 L976.0,324.1 L975.0,324.0 L974.0,323.8 L973.0,323.7 L972.0,323.6 L971.0,323.5 L970.0,323.4 L969.0,323.3 L968.0,323.1 L967.0,323.0 L966.0,322.9 L965.0,322.8 L964.0,322.7 L963.0,322.6 L962.0,322.4 L961.0,322.3 L960.0,322.2 L959.0,322.1 L958.0,322.0 L957.0,321.9 L956.0,321.7 L955.0,321.6 L954.0,321.5 L953.0,321.4 L952.0,321.3 L951.0,321.2 L950.0,321.0 L949.0,320.9 L948.0,320.8 L947.0,320.7 L946.0,320.6 L945.0,320.5 L944.0,320.3 L943.0,320.2 L942.0,320.1 L941.0,320.0 L940.0,319.9 L939.0,319.8 L938.0,319.6 L937.0,319.5 L936.0,319.4 L935.0,319.3 L934.0,319.2 L933.0,319.1 L932.0,318.9 L931.0,318.8 L930.0,318.7 L929.0,318.6 L928.0,318.5 L927.0,318.4 L926.0,318.2 L925.0,318.1 L924.0,318.0 L923.0,317.9 L922.0,317.8 L921.0,317.7 L920.0,317.5 L919.0,317.4 L918.0,317.3 L917.0,317.2 L916.0,317.1 L915.0,317.0 L914.0,316.8 L913.0,316.7 L912.0,316.6 L911.0,316.5 L910.0,316.4 L909.0,316.3 L908.0,316.2 L907.0,316.0 L906.0,315.9 L905.0,315.8 L904.0,315.7 L903.0,315.6 L902.0,315.5 L901.0,315.3 L900.0,315.2 L899.0,315.1 L898.0,315.0 L897.0,314.9 L896.0,314.8 L895.0,314.6 L894.0,314.5 L893.0,314.4 L892.0,314.3 L891.0,314.2 L890.0,314.1 L889.0,313.9 L888.0,313.8 L887.0,313.7 L886.0,313.6 L885.0,313.5 L884.0,313.4 L883.0,313.2 L882.0,313.1 L881.0,313.0 L880.0,312.9 L879.0,312.8 L878.0,312.7 L877.0,312.5 L876.0,312.4 L875.0,312.3 L874.0,312.2 L873.0,312.1 L872.0,312.0 L871.0,311.8 L870.0,311.7 L869.0,311.6 L868.0,311.5 L867.0,311.4 L866.0,311.3 L865.0,311.1 L864.0,311.0 L863.0,310.9 L862.0,310.8 L861.0,310.7 L860.0,310.6 L859.0,310.4 L858.0,310.3 L857.0,310.2 L856.0,310.1 L855.0,310.0 L854.0,309.9 L853.0,309.7 L852.0,309.6 L851.0,309.5 L850.0,309.4 L849.0,309.3 L848.0,309.2 L847.0,309.0 L846.0,308.9 L845.0,308.8 L844.0,308.7 L843.0,308.6 L842.0,308.5 L841.0,308.3 L840.0,308.2 L839.0,308.1 L838.0,308.0 L837.0,307.9 L836.0,307.8 L835.0,307.6 L834.0,307.5 Z" fill="#30e8ff"/>
<path d="M834.0,308.0 L835.0,308.3 L836.0,308.6 L837.0,308.9 L838.0,309.2 L839.0,309.6 L840.0,309.9 L841.0,310.2 L842.0,310.5 L843.0,310.8 L844.0,311.1 L845.0,311.4 L846.0,311.7 L847.0,312.0 L848.0,312.3 L849.0,312.6 L850.0,312.9 L851.0,313.1 L852.0,313.3 L853.0,313.5 L854.0,313.7 L855.0,313.9 L856.0,314.1 L857.0,314.3 L858.0,314.5 L859.0,314.7 L860.0,314.9 L861.0,315.1 L862.0,315.3 L863.0,315.5 L864.0,315.7 L865.0,315.9 L866.0,316.1 L867.0,316.4 L868.0,316.6 L869.0,316.8 L870.0,317.0 L871.0,317.2 L872.0,317.4 L873.0,317.6 L874.0,317.7 L875.0,317.8 L876.0,318.0 L877.0,318.1 L878.0,318.2 L879.0,318.4 L880.0,318.5 L881.0,318.6 L882.0,318.8 L883.0,318.9 L884.0,319.0 L885.0,319.2 L886.0,319.3 L887.0,319.4 L888.0,319.6 L889.0,319.7 L890.0,319.8 L891.0,320.0 L892.0,320.1 L893.0,320.2 L894.0,320.4 L895.0,320.5 L896.0,320.6 L897.0,320.8 L898.0,320.9 L899.0,321.0 L900.0,321.2 L901.0,321.3 L902.0,321.4 L903.0,321.6 L904.0,321.7 L905.0,321.8 L906.0,321.8 L907.0,321.9 L908.0,322.0 L909.0,322.1 L910.0,322.1 L911.0,322.2 L912.0,322.3 L913.0,322.4 L914.0,322.4 L915.0,322.5 L916.0,322.6 L917.0,322.7 L918.0,322.7 L919.0,322.8 L920.0,322.9 L921.0,323.0 L922.0,323.0 L923.0,323.1 L924.0,323.2 L925.0,323.3 L926.0,323.3 L927.0,323.4 L928.0,323.5 L929.0,323.6 L930.0,323.6 L931.0,323.7 L932.0,323.8 L933.0,323.9 L934.0,323.9 L935.0,324.0 L936.0,324.1 L937.0,324.2 L938.0,324.2 L939.0,324.3 L940.0,324.4 L941.0,324.4 L942.0,324.5 L943.0,324.5 L944.0,324.6 L945.0,324.7 L946.0,324.7 L947.0,324.8 L948.0,324.8 L949.0,324.9 L950.0,324.9 L951.0,325.0 L952.0,325.0 L953.0,325.1 L954.0,325.2 L955.0,325.2 L956.0,325.3 L957.0,325.3 L958.0,325.4 L959.0,325.4 L960.0,325.5 L961.0,325.6 L962.0,325.6 L963.0,325.7 L964.0,325.7 L965.0,325.8 L966.0,325.8 L967.0,325.9 L968.0,325.9 L969.0,326.0 L970.0,326.1 L971.0,326.1 L972.0,326.2 L973.0,326.2 L974.0,326.3 L975.0,326.3 L976.0,326.4 L977.0,326.4 L978.0,326.5 L979.0,326.6 L980.0,326.6 L981.0,326.7 L982.0,326.7 L983.0,326.8 L984.0,326.8 L985.0,326.9 L986.0,326.9 L987.0,327.0 L988.0,327.1 L989.0,327.1 L990.0,327.2 L991.0,327.2 L992.0,327.3 L993.0,327.3 L994.0,327.4 L995.0,327.5 L996.0,327.5 L997.0,327.6 L998.0,327.6 L999.0,327.7 L1000.0,327.7 L1001.0,327.8 L1002.0,327.8 L1003.0,327.9 L1004.0,328.0 L1005.0,328.0 L1006.0,328.1 L1006.0,327.6 L1005.0,327.4 L1004.0,327.3 L1003.0,327.2 L1002.0,327.1 L1001.0,327.0 L1000.0,326.9 L999.0,326.7 L998.0,326.6 L997.0,326.5 L996.0,326.4 L995.0,326.3 L994.0,326.2 L993.0,326.1 L992.0,325.9 L991.0,325.8 L990.0,325.7 L989.0,325.6 L988.0,325.5 L987.0,325.4 L986.0,325.2 L985.0,325.1 L984.0,325.0 L983.0,324.9 L982.0,324.8 L981.0,324.7 L980.0,324.5 L979.0,324.4 L978.0,324.3 L977.0,324.2 L976.0,324.1 L975.0,324.0 L974.0,323.8 L973.0,323.7 L972.0,323.6 L971.0,323.5 L970.0,323.4 L969.0,323.3 L968.0,323.1 L967.0,323.0 L966.0,322.9 L965.0,322.8 L964.0,322.7 L963.0,322.6 L962.0,322.4 L961.0,322.3 L960.0,322.2 L959.0,322.1 L958.0,322.0 L957.0,321.9 L956.0,321.7 L955.0,321.6 L954.0,321.5 L953.0,321.4 L952.0,321.3 L951.0,321.2 L950.0,321.0 L949.0,320.9 L948.0,320.8 L947.0,320.7 L946.0,320.6 L945.0,320.5 L944.0,320.3 L943.0,320.2 L942.0,320.1 L941.0,320.0 L940.0,319.9 L939.0,319.8 L938.0,319.6 L937.0,319.5 L936.0,319.4 L935.0,319.3 L934.0,319.2 L933.0,319.1 L932.0,318.9 L931.0,318.8 L930.0,318.7 L929.0,318.6 L928.0,318.5 L927.0,318.4 L926.0,318.2 L925.0,318.1 L924.0,318.0 L923.0,317.9 L922.0,317.8 L921.0,317.7 L920.0,317.5 L919.0,317.4 L918.0,317.3 L917.0,317.2 L916.0,317.1 L915.0,317.0 L914.0,316.8 L913.0,316.7 L912.0,316.6 L911.0,316.5 L910.0,316.4 L909.0,316.3 L908.0,316.2 L907.0,316.0 L906.0,315.9 L905.0,315.8 L904.0,315.7 L903.0,315.6 L902.0,315.5 L901.0,315.3 L900.0,315.2 L899.0,315.1 L898.0,315.0 L897.0,314.9 L896.0,314.8 L895.0,314.6 L894.0,314.5 L893.0,314.4 L892.0,314.3 L891.0,314.2 L890.0,314.1 L889.0,313.9 L888.0,313.8 L887.0,313.7 L886.0,313.6 L885.0,313.5 L884.0,313.4 L883.0,313.2 L882.0,313.1 L881.0,313.0 L880.0,312.9 L879.0,312.8 L878.0,312.7 L877.0,312.5 L876.0,312.4 L875.0,312.3 L874.0,312.2 L873.0,312.1 L872.0,312.0 L871.0,311.8 L870.0,311.7 L869.0,311.6 L868.0,311.5 L867.0,311.4 L866.0,311.3 L865.0,311.1 L864.0,311.0 L863.0,310.9 L862.0,310.8 L861.0,310.7 L860.0,310.6 L859.0,310.4 L858.0,310.3 L857.0,310.2 L856.0,310.1 L855.0,310.0 L854.0,309.9 L853.0,309.7 L852.0,309.6 L851.0,309.5 L850.0,309.4 L849.0,309.3 L848.0,309.2 L847.0,309.0 L846.0,308.9 L845.0,308.8 L844.0,308.7 L843.0,308.6 L842.0,308.5 L841.0,308.3 L840.0,308.2 L839.0,308.1 L838.0,308.0 L837.0,307.9 L836.0,307.8 L835.0,307.6 L834.0,307.5 Z" fill="#06067f"/>
<path d="M592.6,274.3 L594.2,274.3 L595.8,274.3 L597.4,274.2 L599.0,274.2 L600.6,274.1 L602.2,274.1 L603.8,274.0 L605.4,273.9 L607.0,273.9 L608.6,273.8 L610.2,273.8 L611.8,273.7 L613.4,273.6 L615.0,273.6 L616.6,273.5 L618.2,273.4 L619.8,273.3 L621.4,273.3 L623.0,273.2 L624.6,273.1 L626.2,273.0 L627.8,272.9 L629.4,272.8 L631.0,272.7 L632.6,272.5 L634.2,272.4 L635.8,272.3 L637.4,272.1 L639.0,272.0 L640.6,271.8 L642.2,271.6 L643.8,271.4 L645.3,271.2 L646.9,271.0 L648.5,270.7 L650.1,270.5 L651.7,270.2 L653.3,269.9 L654.9,269.5 L656.5,269.1 L658.1,268.7 L659.7,268.3 L661.3,267.8 L662.9,267.3 L664.5,266.8 L666.1,266.2 L667.7,265.5 L669.3,264.8 L670.9,264.1 L672.5,263.3 L674.1,262.4 L675.7,261.5 L677.3,260.5 L678.9,259.4 L680.5,258.3 L682.1,257.1 L683.7,255.8 L685.3,254.4 L686.9,253.0 L688.5,251.5 L690.1,249.9 L691.7,248.2 L693.3,246.5 L694.9,244.6 L696.5,242.8 L698.1,240.8 L699.7,238.8 L701.3,236.8 L702.9,234.7 L704.5,232.5 L706.1,230.4 L707.7,228.2 L709.3,226.0 L710.9,223.8 L712.5,221.7 L714.1,219.5 L715.7,217.5 L717.3,215.5 L718.9,213.7 L720.5,211.9 L722.1,210.3 L723.7,208.9 L725.3,207.7 L726.9,206.7 L728.5,205.9 L730.1,205.3 L731.7,205.1 L733.3,205.1 L734.9,205.7 L736.5,207.1 L738.1,209.1 L739.7,211.6 L741.3,214.5 L742.9,217.8 L744.5,221.4 L746.1,225.0 L747.7,228.8 L749.2,232.5 L750.8,236.2 L752.4,239.7 L754.0,243.1 L755.6,246.4 L757.2,249.4 L758.8,252.2 L760.4,254.9 L762.0,257.3 L763.6,259.5 L765.2,261.5 L766.8,263.3 L768.4,265.0 L770.0,266.4 L771.6,267.8 L773.2,269.0 L774.8,270.0 L776.4,271.0 L778.0,271.9 L779.6,272.8 L781.2,273.5 L782.8,274.2 L784.4,274.9 L786.0,275.6 L787.6,276.3 L789.2,276.9 L790.8,277.6 L792.4,278.2 L794.0,278.9 L795.6,279.6 L797.2,280.2 L798.8,280.9 L800.4,281.5 L802.0,282.1 L803.6,282.7 L805.2,283.3 L806.8,283.9 L808.4,284.5 L810.0,285.2 L811.6,285.9 L813.2,286.7 L814.8,287.5 L816.4,288.4 L818.0,289.2 L819.6,290.0 L821.2,290.9 L822.8,291.7 L824.4,292.5 L826.0,293.3 L827.6,294.1 L829.2,294.9 L830.8,295.8 L832.4,296.6 L834.0,297.4 L835.6,298.2 L837.2,299.0 L838.8,299.8 L840.4,300.6 L842.0,301.3 L843.6,302.1 L845.2,302.8 L846.8,303.5 L848.4,304.2 L850.0,304.8 L851.5,305.5 L853.1,306.1 L854.7,306.7 L856.3,307.3 L857.9,307.9 L859.5,308.5 L861.1,309.0 L862.7,309.5 L864.3,309.9 L865.9,310.3 L867.5,310.5 L869.1,310.8 L870.7,310.9 L872.3,311.1 L873.9,311.3 L875.5,311.4 L877.1,311.5 L878.7,311.6 L880.3,311.7 L881.9,311.8 L883.5,311.9 L885.1,312.0 L886.7,312.1 L888.3,312.2 L889.9,312.3 L891.5,312.4 L893.1,312.5 L894.7,312.6 L896.3,312.7 L897.9,312.8 L899.5,313.0 L901.1,313.1 L902.7,313.3 L904.3,313.5 L905.9,313.6 L907.5,313.8 L909.1,314.0 L910.7,314.2 L912.3,314.3 L913.9,314.5 L915.5,314.7 L917.1,314.8 L918.7,315.0 L920.3,315.2 L921.9,315.4 L923.5,315.5 L925.1,315.7 L926.7,315.9 L928.3,316.0 L929.9,316.2 L931.5,316.4 L933.1,316.6 L934.7,316.8 L936.3,316.9 L937.9,317.1 L939.5,317.3 L941.1,317.5 L942.7,317.7 L944.3,317.8 L945.9,318.0 L947.5,318.2 L949.1,318.4 L950.7,318.6 L952.3,318.8 L953.9,318.9 L955.4,319.1 L957.0,319.3 L958.6,319.5 L960.2,319.7 L961.8,319.9 L963.4,320.0 L965.0,320.2 L966.6,320.4 L968.2,320.6 L969.8,320.8 L971.4,320.9 L973.0,321.1 L974.6,321.3 L976.2,321.5 L977.8,321.7 L979.4,321.8 L981.0,322.0 L982.6,322.2 L984.2,322.4 L985.8,322.6 L987.4,322.7 L989.0,322.9 L990.6,323.1 L992.2,323.3 L993.8,323.4 L995.4,323.6 L997.0,323.8 L998.6,324.0 L1000.2,324.2 L1001.8,324.3 L1003.4,324.5 L1005.0,324.7 L1006.6,324.9 L1006.6,328.1 L1005.0,327.9 L1003.4,327.8 L1001.8,327.6 L1000.2,327.4 L998.6,327.2 L997.0,327.0 L995.4,326.8 L993.8,326.6 L992.2,326.5 L990.6,326.3 L989.0,326.1 L987.4,325.9 L985.8,325.7 L984.2,325.5 L982.6,325.3 L981.0,325.2 L979.4,325.0 L977.8,324.8 L976.2,324.6 L974.6,324.4 L973.0,324.2 L971.4,324.0 L969.8,323.9 L968.2,323.7 L966.6,323.5 L965.0,323.3 L963.4,323.1 L961.8,322.9 L960.2,322.7 L958.6,322.5 L957.0,322.4 L955.4,322.2 L953.9,322.0 L952.3,321.8 L950.7,321.6 L949.1,321.4 L947.5,321.2 L945.9,321.1 L944.3,320.9 L942.7,320.7 L941.1,320.5 L939.5,320.3 L937.9,320.1 L936.3,319.9 L934.7,319.8 L933.1,319.6 L931.5,319.4 L929.9,319.2 L928.3,319.0 L926.7,318.8 L925.1,318.6 L923.5,318.5 L921.9,318.3 L920.3,318.1 L918.7,317.9 L917.1,317.7 L915.5,317.5 L913.9,317.3 L912.3,317.2 L910.7,317.0 L909.1,316.8 L907.5,316.6 L905.9,316.4 L904.3,316.2 L902.7,316.0 L901.1,315.8 L899.5,315.7 L897.9,315.5 L896.3,315.3 L894.7,315.1 L893.1,314.9 L891.5,314.7 L889.9,314.5 L888.3,314.4 L886.7,314.2 L885.1,314.0 L883.5,313.8 L881.9,313.6 L880.3,313.4 L878.7,313.2 L877.1,313.1 L875.5,312.9 L873.9,312.7 L872.3,312.5 L870.7,312.3 L869.1,312.1 L867.5,311.9 L865.9,311.8 L864.3,311.6 L862.7,311.4 L861.1,311.2 L859.5,311.0 L857.9,310.8 L856.3,310.6 L854.7,310.4 L853.1,310.3 L851.5,310.1 L850.0,309.9 L848.4,309.7 L846.8,309.5 L845.2,309.3 L843.6,309.1 L842.0,309.0 L840.4,308.8 L838.8,308.6 L837.2,308.4 L835.6,308.2 L834.0,308.0 L832.4,307.8 L830.8,307.7 L829.2,307.5 L827.6,307.3 L826.0,307.1 L824.4,306.9 L822.8,306.7 L821.2,306.5 L819.6,306.4 L818.0,306.2 L816.4,306.0 L814.8,305.8 L813.2,305.6 L811.6,305.4 L810.0,305.2 L808.4,305.0 L806.8,304.9 L805.2,304.7 L803.6,304.5 L802.0,304.3 L800.4,304.1 L798.8,303.9 L797.2,303.7 L795.6,303.6 L794.0,303.4 L792.4,303.2 L790.8,303.0 L789.2,302.8 L787.6,302.6 L786.0,302.4 L784.4,302.3 L782.8,302.1 L781.2,301.9 L779.6,301.7 L778.0,301.5 L776.4,301.3 L774.8,301.1 L773.2,301.0 L771.6,300.8 L770.0,300.6 L768.4,300.4 L766.8,300.2 L765.2,300.0 L763.6,299.8 L762.0,299.6 L760.4,299.5 L758.8,299.3 L757.2,299.1 L755.6,298.9 L754.0,298.7 L752.4,298.5 L750.8,298.3 L749.2,298.2 L747.7,298.0 L746.1,297.8 L744.5,297.6 L742.9,297.4 L741.3,297.2 L739.7,297.0 L738.1,296.9 L736.5,296.7 L734.9,296.5 L733.3,296.3 L731.7,296.1 L730.1,295.9 L728.5,295.7 L726.9,295.6 L725.3,295.4 L723.7,295.2 L722.1,295.0 L720.5,294.8 L718.9,294.6 L717.3,294.4 L715.7,294.2 L714.1,294.1 L712.5,293.9 L710.9,293.7 L709.3,293.5 L707.7,293.3 L706.1,293.1 L704.5,292.9 L702.9,292.8 L701.3,292.6 L699.7,292.4 L698.1,292.2 L696.5,292.0 L694.9,291.8 L693.3,291.6 L691.7,291.5 L690.1,291.3 L688.5,291.1 L686.9,290.9 L685.3,290.7 L683.7,290.5 L682.1,290.3 L680.5,290.2 L678.9,290.0 L677.3,289.8 L675.7,289.6 L674.1,289.4 L672.5,289.2 L670.9,289.0 L669.3,288.9 L667.7,288.7 L666.1,288.5 L664.5,288.3 L662.9,288.1 L661.3,287.9 L659.7,287.7 L658.1,287.5 L656.5,287.4 L654.9,287.2 L653.3,287.0 L651.7,286.8 L650.1,286.6 L648.5,286.4 L646.9,286.2 L645.3,286.1 L643.8,285.9 L642.2,285.7 L640.6,285.5 L639.0,285.3 L637.4,285.1 L635.8,284.9 L634.2,284.8 L632.6,284.6 L631.0,284.4 L629.4,284.2 L627.8,284.0 L626.2,283.8 L624.6,283.6 L623.0,283.5 L621.4,283.3 L619.8,283.1 L618.2,282.9 L616.6,282.7 L615.0,282.5 L613.4,282.3 L611.8,282.1 L610.2,282.0 L608.6,281.8 L607.0,281.6 L605.4,281.4 L603.8,281.2 L602.2,281.0 L600.6,280.8 L599.0,280.7 L597.4,280.5 L595.8,280.3 L594.2,280.1 L592.6,279.9 Z" fill="#1ff0ff" fill-opacity="1" stroke="none" stroke-width="0.8"/>
<path d="M592.6,275.9 L594.2,275.9 L595.8,275.9 L597.4,275.9 L599.0,275.9 L600.6,275.9 L602.2,275.9 L603.8,275.9 L605.4,275.9 L607.0,275.9 L608.6,275.9 L610.2,275.9 L611.8,275.9 L613.4,275.9 L615.0,275.9 L616.6,275.9 L618.2,275.9 L619.8,275.9 L621.4,275.9 L623.0,275.9 L624.6,275.9 L626.2,275.9 L627.8,275.9 L629.4,275.9 L631.0,275.9 L632.6,275.9 L634.2,275.9 L635.8,275.9 L637.4,275.9 L639.0,275.9 L640.6,275.9 L642.2,276.0 L643.8,276.0 L645.3,276.0 L646.9,276.0 L648.5,276.0 L650.1,276.0 L651.7,276.0 L653.3,276.0 L654.9,276.0 L656.5,276.0 L658.1,276.0 L659.7,276.0 L661.3,276.0 L662.9,276.0 L664.5,276.0 L666.1,276.0 L667.7,276.0 L669.3,276.0 L670.9,276.0 L672.5,276.0 L674.1,276.0 L675.7,276.0 L677.3,276.0 L678.9,276.0 L680.5,276.0 L682.1,276.0 L683.7,276.0 L685.3,276.0 L686.9,276.0 L688.5,276.0 L690.1,276.0 L691.7,276.0 L693.3,276.0 L694.9,276.1 L696.5,276.1 L698.1,276.1 L699.7,276.1 L701.3,276.1 L702.9,276.1 L704.5,276.1 L706.1,276.1 L707.7,276.1 L709.3,276.1 L710.9,276.1 L712.5,276.1 L714.1,276.1 L715.7,276.1 L717.3,276.1 L718.9,276.1 L720.5,276.1 L722.1,276.1 L723.7,276.1 L725.3,276.1 L726.9,276.2 L728.5,276.2 L730.1,276.2 L731.7,276.2 L733.3,276.2 L734.9,276.2 L736.5,276.3 L738.1,276.3 L739.7,276.4 L741.3,276.4 L742.9,276.5 L744.5,276.5 L746.1,276.6 L747.7,276.7 L749.2,276.8 L750.8,276.9 L752.4,277.0 L754.0,277.1 L755.6,277.2 L757.2,277.3 L758.8,277.4 L760.4,277.5 L762.0,277.6 L763.6,277.7 L765.2,277.8 L766.8,277.9 L768.4,278.0 L770.0,278.1 L771.6,278.2 L773.2,278.4 L774.8,278.5 L776.4,278.7 L778.0,278.9 L779.6,279.1 L781.2,279.3 L782.8,279.6 L784.4,279.8 L786.0,280.1 L787.6,280.4 L789.2,280.7 L790.8,281.0 L792.4,281.2 L794.0,281.5 L795.6,281.6 L797.2,281.7 L798.8,281.7 L800.4,281.4 L802.0,281.0 L803.6,280.2 L805.2,279.2 L806.8,277.8 L808.4,275.9 L810.0,273.7 L811.6,270.9 L813.2,267.6 L814.8,263.8 L816.4,259.5 L818.0,254.5 L819.6,249.1 L821.2,243.3 L822.8,237.2 L824.4,231.0 L826.0,225.0 L827.6,219.2 L829.2,214.0 L830.8,209.6 L832.4,206.1 L834.0,203.7 L835.6,202.7 L837.2,203.0 L838.8,204.3 L840.4,206.5 L842.0,209.4 L843.6,212.9 L845.2,217.1 L846.8,221.8 L848.4,226.9 L850.0,232.4 L851.5,238.1 L853.1,243.9 L854.7,249.9 L856.3,255.7 L857.9,261.5 L859.5,267.0 L861.1,272.2 L862.7,277.2 L864.3,281.7 L865.9,285.9 L867.5,289.7 L869.1,293.0 L870.7,296.0 L872.3,298.6 L873.9,300.8 L875.5,302.8 L877.1,304.5 L878.7,306.0 L880.3,307.2 L881.9,308.2 L883.5,309.1 L885.1,309.8 L886.7,310.4 L888.3,310.9 L889.9,311.3 L891.5,311.6 L893.1,311.9 L894.7,312.2 L896.3,312.4 L897.9,312.6 L899.5,312.9 L901.1,313.1 L902.7,313.3 L904.3,313.5 L905.9,313.6 L907.5,313.8 L909.1,314.0 L910.7,314.2 L912.3,314.3 L913.9,314.5 L915.5,314.7 L917.1,314.8 L918.7,315.0 L920.3,315.2 L921.9,315.4 L923.5,315.5 L925.1,315.7 L926.7,315.9 L928.3,316.0 L929.9,316.2 L931.5,316.4 L933.1,316.6 L934.7,316.8 L936.3,316.9 L937.9,317.1 L939.5,317.3 L941.1,317.5 L942.7,317.7 L944.3,317.8 L945.9,318.0 L947.5,318.2 L949.1,318.4 L950.7,318.6 L952.3,318.8 L953.9,318.9 L955.4,319.1 L957.0,319.3 L958.6,319.5 L960.2,319.7 L961.8,319.9 L963.4,320.0 L965.0,320.2 L966.6,320.4 L968.2,320.6 L969.8,320.8 L971.4,320.9 L973.0,321.1 L974.6,321.3 L976.2,321.5 L977.8,321.7 L979.4,321.8 L981.0,322.0 L982.6,322.2 L984.2,322.4 L985.8,322.6 L987.4,322.7 L989.0,322.9 L990.6,323.1 L992.2,323.3 L993.8,323.4 L995.4,323.6 L997.0,323.8 L998.6,324.0 L1000.2,324.2 L1001.8,324.3 L1003.4,324.5 L1005.0,324.7 L1006.6,324.9 L1006.6,324.9 L1005.0,324.7 L1003.4,324.5 L1001.8,324.3 L1000.2,324.2 L998.6,324.0 L997.0,323.8 L995.4,323.6 L993.8,323.4 L992.2,323.3 L990.6,323.1 L989.0,322.9 L987.4,322.7 L985.8,322.6 L984.2,322.4 L982.6,322.2 L981.0,322.0 L979.4,321.8 L977.8,321.7 L976.2,321.5 L974.6,321.3 L973.0,321.1 L971.4,320.9 L969.8,320.8 L968.2,320.6 L966.6,320.4 L965.0,320.2 L963.4,320.0 L961.8,319.9 L960.2,319.7 L958.6,319.5 L957.0,319.3 L955.4,319.1 L953.9,318.9 L952.3,318.8 L950.7,318.6 L949.1,318.4 L947.5,318.2 L945.9,318.0 L944.3,317.8 L942.7,317.7 L941.1,317.5 L939.5,317.3 L937.9,317.1 L936.3,316.9 L934.7,316.8 L933.1,316.6 L931.5,316.4 L929.9,316.2 L928.3,316.0 L926.7,315.9 L925.1,315.7 L923.5,315.5 L921.9,315.4 L920.3,315.2 L918.7,315.0 L917.1,314.8 L915.5,314.7 L913.9,314.5 L912.3,314.3 L910.7,314.2 L909.1,314.0 L907.5,313.8 L905.9,313.6 L904.3,313.5 L902.7,313.3 L901.1,313.1 L899.5,313.0 L897.9,312.9 L896.3,312.8 L894.7,312.7 L893.1,312.6 L891.5,312.5 L889.9,312.4 L888.3,312.3 L886.7,312.2 L885.1,312.2 L883.5,312.1 L881.9,312.0 L880.3,311.9 L878.7,311.8 L877.1,311.7 L875.5,311.6 L873.9,311.5 L872.3,311.4 L870.7,311.2 L869.1,311.1 L867.5,310.9 L865.9,310.6 L864.3,310.3 L862.7,309.9 L861.1,309.4 L859.5,308.9 L857.9,308.4 L856.3,307.8 L854.7,307.2 L853.1,306.6 L851.5,306.0 L850.0,305.4 L848.4,304.8 L846.8,304.2 L845.2,303.5 L843.6,302.8 L842.0,302.1 L840.4,301.3 L838.8,300.6 L837.2,299.8 L835.6,299.1 L834.0,298.3 L832.4,297.5 L830.8,296.8 L829.2,296.0 L827.6,295.3 L826.0,294.5 L824.4,293.7 L822.8,293.0 L821.2,292.2 L819.6,291.5 L818.0,290.7 L816.4,289.9 L814.8,289.2 L813.2,288.4 L811.6,287.7 L810.0,287.1 L808.4,286.5 L806.8,286.0 L805.2,285.5 L803.6,285.0 L802.0,284.6 L800.4,284.1 L798.8,283.6 L797.2,283.1 L795.6,282.6 L794.0,282.1 L792.4,281.7 L790.8,281.3 L789.2,280.8 L787.6,280.5 L786.0,280.1 L784.4,279.8 L782.8,279.6 L781.2,279.3 L779.6,279.1 L778.0,278.9 L776.4,278.7 L774.8,278.5 L773.2,278.4 L771.6,278.2 L770.0,278.1 L768.4,278.0 L766.8,277.9 L765.2,277.8 L763.6,277.7 L762.0,277.6 L760.4,277.5 L758.8,277.4 L757.2,277.3 L755.6,277.2 L754.0,277.1 L752.4,277.0 L750.8,276.9 L749.2,276.8 L747.7,276.7 L746.1,276.6 L744.5,276.5 L742.9,276.5 L741.3,276.4 L739.7,276.4 L738.1,276.3 L736.5,276.3 L734.9,276.2 L733.3,276.2 L731.7,276.2 L730.1,276.2 L728.5,276.2 L726.9,276.2 L725.3,276.1 L723.7,276.1 L722.1,276.1 L720.5,276.1 L718.9,276.1 L717.3,276.1 L715.7,276.1 L714.1,276.1 L712.5,276.1 L710.9,276.1 L709.3,276.1 L707.7,276.1 L706.1,276.1 L704.5,276.1 L702.9,276.1 L701.3,276.1 L699.7,276.1 L698.1,276.1 L696.5,276.1 L694.9,276.1 L693.3,276.0 L691.7,276.0 L690.1,276.0 L688.5,276.0 L686.9,276.0 L685.3,276.0 L683.7,276.0 L682.1,276.0 L680.5,276.0 L678.9,276.0 L677.3,276.0 L675.7,276.0 L674.1,276.0 L672.5,276.0 L670.9,276.0 L669.3,276.0 L667.7,276.0 L666.1,276.0 L664.5,276.0 L662.9,276.0 L661.3,276.0 L659.7,276.0 L658.1,276.0 L656.5,276.0 L654.9,276.0 L653.3,276.0 L651.7,276.0 L650.1,276.0 L648.5,276.0 L646.9,276.0 L645.3,276.0 L643.8,276.0 L642.2,276.0 L640.6,275.9 L639.0,275.9 L637.4,275.9 L635.8,275.9 L634.2,275.9 L632.6,275.9 L631.0,275.9 L629.4,275.9 L627.8,275.9 L626.2,275.9 L624.6,275.9 L623.0,275.9 L621.4,275.9 L619.8,275.9 L618.2,275.9 L616.6,275.9 L615.0,275.9 L613.4,275.9 L611.8,275.9 L610.2,275.9 L608.6,275.9 L607.0,275.9 L605.4,275.9 L603.8,275.9 L602.2,275.9 L600.6,275.9 L599.0,275.9 L597.4,275.9 L595.8,275.9 L594.2,275.9 L592.6,275.9 Z" fill="#8b0000" fill-opacity="1" stroke="none" stroke-width="0.8"/>
<path d="M592.6,275.9 L594.2,275.9 L595.8,275.9 L597.4,275.9 L599.0,275.9 L600.6,275.9 L602.2,275.9 L603.8,275.9 L605.4,275.9 L607.0,275.9 L608.6,275.9 L610.2,275.9 L611.8,275.9 L613.4,275.9 L615.0,275.9 L616.6,275.9 L618.2,275.9 L619.8,275.9 L621.4,275.9 L623.0,275.9 L624.6,275.9 L626.2,275.9 L627.8,275.9 L629.4,275.9 L631.0,275.9 L632.6,275.9 L634.2,275.9 L635.8,275.9 L637.4,275.9 L639.0,275.9 L640.6,275.8 L642.2,275.8 L643.8,275.8 L645.3,275.8 L646.9,275.8 L648.5,275.8 L650.1,275.8 L651.7,275.7 L653.3,275.7 L654.9,275.7 L656.5,275.7 L658.1,275.7 L659.7,275.7 L661.3,275.6 L662.9,275.6 L664.5,275.6 L666.1,275.6 L667.7,275.5 L669.3,275.5 L670.9,275.5 L672.5,275.5 L674.1,275.4 L675.7,275.4 L677.3,275.4 L678.9,275.3 L680.5,275.3 L682.1,275.3 L683.7,275.2 L685.3,275.2 L686.9,275.2 L688.5,275.1 L690.1,275.1 L691.7,275.0 L693.3,275.0 L694.9,274.9 L696.5,274.8 L698.1,274.8 L699.7,274.7 L701.3,274.6 L702.9,274.5 L704.5,274.4 L706.1,274.3 L707.7,274.2 L709.3,274.1 L710.9,273.9 L712.5,273.7 L714.1,273.5 L715.7,273.3 L717.3,273.0 L718.9,272.6 L720.5,272.2 L722.1,271.7 L723.7,271.1 L725.3,270.4 L726.9,269.5 L728.5,268.5 L730.1,267.3 L731.7,265.9 L733.3,264.3 L734.9,262.4 L736.5,260.2 L738.1,257.8 L739.7,254.9 L741.3,251.8 L742.9,248.3 L744.5,244.4 L746.1,240.1 L747.7,235.4 L749.2,230.4 L750.8,225.0 L752.4,219.3 L754.0,213.4 L755.6,207.3 L757.2,201.1 L758.8,194.9 L760.4,188.8 L762.0,182.8 L763.6,177.1 L765.2,171.8 L766.8,167.1 L768.4,163.1 L770.0,159.9 L771.6,157.5 L773.2,156.2 L774.8,155.9 L776.4,156.5 L778.0,158.1 L779.6,160.6 L781.2,163.8 L782.8,167.8 L784.4,172.5 L786.0,177.7 L787.6,183.3 L789.2,189.3 L790.8,195.5 L792.4,201.8 L794.0,208.2 L795.6,214.6 L797.2,220.9 L798.8,227.0 L800.4,232.8 L802.0,238.4 L803.6,243.7 L805.2,248.6 L806.8,253.2 L808.4,257.6 L810.0,261.6 L811.6,265.3 L813.2,268.8 L814.8,272.1 L816.4,275.1 L818.0,277.7 L819.6,280.2 L821.2,282.4 L822.8,284.4 L824.4,286.3 L826.0,288.0 L827.6,289.5 L829.2,291.0 L830.8,292.3 L832.4,293.5 L834.0,294.7 L835.6,295.8 L837.2,296.9 L838.8,297.9 L840.4,298.9 L842.0,299.8 L843.6,300.7 L845.2,301.5 L846.8,302.3 L848.4,303.1 L850.0,303.8 L851.5,304.5 L853.1,305.2 L854.7,305.9 L856.3,306.5 L857.9,307.2 L859.5,307.8 L861.1,308.3 L862.7,308.8 L864.3,309.3 L865.9,309.6 L867.5,310.0 L869.1,310.2 L870.7,310.4 L872.3,310.6 L873.9,310.8 L875.5,310.9 L877.1,311.1 L878.7,311.2 L880.3,311.3 L881.9,311.5 L883.5,311.6 L885.1,311.7 L886.7,311.8 L888.3,311.9 L889.9,312.0 L891.5,312.1 L893.1,312.2 L894.7,312.3 L896.3,312.4 L897.9,312.6 L899.5,312.7 L901.1,312.9 L902.7,313.0 L904.3,313.2 L905.9,313.4 L907.5,313.6 L909.1,313.8 L910.7,314.0 L912.3,314.2 L913.9,314.4 L915.5,314.5 L917.1,314.7 L918.7,314.9 L920.3,315.1 L921.9,315.3 L923.5,315.5 L925.1,315.6 L926.7,315.8 L928.3,316.0 L929.9,316.2 L931.5,316.4 L933.1,316.6 L934.7,316.8 L936.3,316.9 L937.9,317.1 L939.5,317.3 L941.1,317.5 L942.7,317.7 L944.3,317.8 L945.9,318.0 L947.5,318.2 L949.1,318.4 L950.7,318.6 L952.3,318.8 L953.9,318.9 L955.4,319.1 L957.0,319.3 L958.6,319.5 L960.2,319.7 L961.8,319.9 L963.4,320.0 L965.0,320.2 L966.6,320.4 L968.2,320.6 L969.8,320.8 L971.4,320.9 L973.0,321.1 L974.6,321.3 L976.2,321.5 L977.8,321.7 L979.4,321.8 L981.0,322.0 L982.6,322.2 L984.2,322.4 L985.8,322.6 L987.4,322.7 L989.0,322.9 L990.6,323.1 L992.2,323.3 L993.8,323.4 L995.4,323.6 L997.0,323.8 L998.6,324.0 L1000.2,324.2 L1001.8,324.3 L1003.4,324.5 L1005.0,324.7 L1006.6,324.9 L1006.6,328.1 L1005.0,327.9 L1003.4,327.8 L1001.8,327.6 L1000.2,327.4 L998.6,327.2 L997.0,327.0 L995.4,326.8 L993.8,326.6 L992.2,326.5 L990.6,326.3 L989.0,326.1 L987.4,325.9 L985.8,325.7 L984.2,325.5 L982.6,325.3 L981.0,325.2 L979.4,325.0 L977.8,324.8 L976.2,324.6 L974.6,324.4 L973.0,324.2 L971.4,324.0 L969.8,323.9 L968.2,323.7 L966.6,323.5 L965.0,323.3 L963.4,323.1 L961.8,322.9 L960.2,322.7 L958.6,322.5 L957.0,322.4 L955.4,322.2 L953.9,322.0 L952.3,321.8 L950.7,321.6 L949.1,321.4 L947.5,321.2 L945.9,321.1 L944.3,320.9 L942.7,320.7 L941.1,320.5 L939.5,320.3 L937.9,320.1 L936.3,319.9 L934.7,319.8 L933.1,319.6 L931.5,319.4 L929.9,319.2 L928.3,319.0 L926.7,318.8 L925.1,318.6 L923.5,318.5 L921.9,318.3 L920.3,318.1 L918.7,317.9 L917.1,317.7 L915.5,317.5 L913.9,317.3 L912.3,317.2 L910.7,317.0 L909.1,316.8 L907.5,316.6 L905.9,316.4 L904.3,316.2 L902.7,316.0 L901.1,315.8 L899.5,315.7 L897.9,315.5 L896.3,315.3 L894.7,315.1 L893.1,314.9 L891.5,314.7 L889.9,314.5 L888.3,314.4 L886.7,314.2 L885.1,314.0 L883.5,313.8 L881.9,313.6 L880.3,313.4 L878.7,313.2 L877.1,313.1 L875.5,312.9 L873.9,312.7 L872.3,312.5 L870.7,312.3 L869.1,312.1 L867.5,311.9 L865.9,311.8 L864.3,311.6 L862.7,311.4 L861.1,311.2 L859.5,311.0 L857.9,310.8 L856.3,310.6 L854.7,310.4 L853.1,310.3 L851.5,310.1 L850.0,309.9 L848.4,309.7 L846.8,309.5 L845.2,309.3 L843.6,309.1 L842.0,309.0 L840.4,308.8 L838.8,308.6 L837.2,308.4 L835.6,308.2 L834.0,308.0 L832.4,307.8 L830.8,307.7 L829.2,307.5 L827.6,307.3 L826.0,307.1 L824.4,306.9 L822.8,306.7 L821.2,306.5 L819.6,306.4 L818.0,306.2 L816.4,306.0 L814.8,305.8 L813.2,305.6 L811.6,305.4 L810.0,305.2 L808.4,305.0 L806.8,304.9 L805.2,304.7 L803.6,304.5 L802.0,304.3 L800.4,304.1 L798.8,303.9 L797.2,303.7 L795.6,303.6 L794.0,303.4 L792.4,303.2 L790.8,303.0 L789.2,302.8 L787.6,302.6 L786.0,302.4 L784.4,302.3 L782.8,302.1 L781.2,301.9 L779.6,301.7 L778.0,301.5 L776.4,301.3 L774.8,301.1 L773.2,301.0 L771.6,300.8 L770.0,300.6 L768.4,300.4 L766.8,300.2 L765.2,300.0 L763.6,299.8 L762.0,299.6 L760.4,299.5 L758.8,299.3 L757.2,299.1 L755.6,298.9 L754.0,298.7 L752.4,298.5 L750.8,298.3 L749.2,298.2 L747.7,298.0 L746.1,297.8 L744.5,297.6 L742.9,297.4 L741.3,297.2 L739.7,297.0 L738.1,296.9 L736.5,296.7 L734.9,296.5 L733.3,296.3 L731.7,296.1 L730.1,295.9 L728.5,295.7 L726.9,295.6 L725.3,295.4 L723.7,295.2 L722.1,295.0 L720.5,294.8 L718.9,294.6 L717.3,294.4 L715.7,294.2 L714.1,294.1 L712.5,293.9 L710.9,293.7 L709.3,293.5 L707.7,293.3 L706.1,293.1 L704.5,292.9 L702.9,292.8 L701.3,292.6 L699.7,292.4 L698.1,292.2 L696.5,292.0 L694.9,291.8 L693.3,291.6 L691.7,291.5 L690.1,291.3 L688.5,291.1 L686.9,290.9 L685.3,290.7 L683.7,290.5 L682.1,290.3 L680.5,290.2 L678.9,290.0 L677.3,289.8 L675.7,289.6 L674.1,289.4 L672.5,289.2 L670.9,289.0 L669.3,288.9 L667.7,288.7 L666.1,288.5 L664.5,288.3 L662.9,288.1 L661.3,287.9 L659.7,287.7 L658.1,287.5 L656.5,287.4 L654.9,287.2 L653.3,287.0 L651.7,286.8 L650.1,286.6 L648.5,286.4 L646.9,286.2 L645.3,286.1 L643.8,285.9 L642.2,285.7 L640.6,285.5 L639.0,285.3 L637.4,285.1 L635.8,284.9 L634.2,284.8 L632.6,284.6 L631.0,284.4 L629.4,284.2 L627.8,284.0 L626.2,283.8 L624.6,283.6 L623.0,283.5 L621.4,283.3 L619.8,283.1 L618.2,282.9 L616.6,282.7 L615.0,282.5 L613.4,282.3 L611.8,282.1 L610.2,282.0 L608.6,281.8 L607.0,281.6 L605.4,281.4 L603.8,281.2 L602.2,281.0 L600.6,280.8 L599.0,280.7 L597.4,280.5 L595.8,280.3 L594.2,280.1 L592.6,279.9 Z" fill="#06067f" fill-opacity="1" stroke="none" stroke-width="0.8"/>
<path d="M592.6,275.9 L594.2,275.9 L595.8,275.9 L597.4,275.9 L599.0,275.9 L600.6,275.9 L602.2,275.9 L603.8,275.9 L605.4,275.9 L607.0,275.9 L608.6,275.9 L610.2,275.9 L611.8,275.9 L613.4,275.9 L615.0,275.9 L616.6,275.9 L618.2,275.9 L619.8,275.9 L621.4,275.9 L623.0,275.9 L624.6,275.9 L626.2,275.9 L627.8,275.9 L629.4,275.9 L631.0,275.9 L632.6,275.9 L634.2,275.9 L635.8,275.9 L637.4,275.9 L639.0,275.9 L640.6,275.9 L642.2,276.0 L643.8,276.0 L645.3,276.0 L646.9,276.0 L648.5,276.0 L650.1,276.0 L651.7,276.0 L653.3,276.0 L654.9,276.0 L656.5,276.0 L658.1,276.0 L659.7,276.0 L661.3,276.0 L662.9,276.0 L664.5,276.0 L666.1,276.0 L667.7,276.0 L669.3,276.0 L670.9,276.0 L672.5,276.0 L674.1,276.0 L675.7,276.0 L677.3,276.0 L678.9,276.0 L680.5,276.0 L682.1,276.0 L683.7,276.0 L685.3,276.0 L686.9,276.0 L688.5,276.0 L690.1,276.0 L691.7,276.0 L693.3,276.0 L694.9,276.1 L696.5,276.1 L698.1,276.1 L699.7,276.1 L701.3,276.1 L702.9,276.1 L704.5,276.1 L706.1,276.1 L707.7,276.1 L709.3,276.1 L710.9,276.1 L712.5,276.1 L714.1,276.1 L715.7,276.1 L717.3,276.1 L718.9,276.1 L720.5,276.1 L722.1,276.1 L723.7,276.1 L725.3,276.1 L726.9,276.2 L728.5,276.2 L730.1,276.2 L731.7,276.2 L733.3,276.2 L734.9,276.2 L736.5,276.3 L738.1,276.3 L739.7,276.4 L741.3,276.4 L742.9,276.5 L744.5,276.5 L746.1,276.6 L747.7,276.7 L749.2,276.8 L750.8,276.9 L752.4,277.0 L754.0,277.1 L755.6,277.2 L757.2,277.3 L758.8,277.4 L760.4,277.5 L762.0,277.6 L763.6,277.7 L765.2,277.8 L766.8,277.9 L768.4,278.0 L770.0,278.1 L771.6,278.2 L773.2,278.4 L774.8,278.5 L776.4,278.7 L778.0,278.9 L779.6,279.1 L781.2,279.3 L782.8,279.6 L784.4,279.8 L786.0,280.1 L787.6,280.5 L789.2,280.8 L790.8,281.3 L792.4,281.7 L794.0,282.1 L795.6,282.6 L797.2,283.1 L798.8,283.6 L800.4,284.1 L802.0,284.6 L803.6,285.0 L805.2,285.5 L806.8,286.0 L808.4,286.5 L810.0,287.1 L811.6,287.7 L813.2,288.4 L814.8,289.2 L816.4,289.9 L818.0,290.7 L819.6,291.5 L821.2,292.2 L822.8,292.9 L824.4,293.6 L826.0,294.3 L827.6,294.9 L829.2,295.5 L830.8,296.0 L832.4,296.5 L834.0,296.9 L835.6,297.2 L837.2,297.3 L838.8,297.3 L840.4,297.0 L842.0,296.6 L843.6,295.9 L845.2,294.8 L846.8,293.5 L848.4,291.8 L850.0,289.9 L851.5,287.6 L853.1,285.2 L854.7,282.5 L856.3,279.8 L857.9,277.0 L859.5,274.3 L861.1,271.8 L862.7,269.5 L864.3,267.6 L865.9,266.2 L867.5,265.4 L869.1,265.2 L870.7,265.5 L872.3,266.2 L873.9,267.3 L875.5,268.7 L877.1,270.4 L878.7,272.4 L880.3,274.5 L881.9,276.9 L883.5,279.4 L885.1,281.9 L886.7,284.5 L888.3,287.1 L889.9,289.6 L891.5,292.0 L893.1,294.4 L894.7,296.6 L896.3,298.7 L897.9,300.7 L899.5,302.5 L901.1,304.1 L902.7,305.7 L904.3,307.0 L905.9,308.2 L907.5,309.3 L909.1,310.3 L910.7,311.1 L912.3,311.9 L913.9,312.5 L915.5,313.1 L917.1,313.6 L918.7,314.0 L920.3,314.4 L921.9,314.8 L923.5,315.1 L925.1,315.4 L926.7,315.6 L928.3,315.9 L929.9,316.1 L931.5,316.4 L933.1,316.6 L934.7,316.8 L936.3,316.9 L937.9,317.1 L939.5,317.3 L941.1,317.5 L942.7,317.7 L944.3,317.8 L945.9,318.0 L947.5,318.2 L949.1,318.4 L950.7,318.6 L952.3,318.8 L953.9,318.9 L955.4,319.1 L957.0,319.3 L958.6,319.5 L960.2,319.7 L961.8,319.9 L963.4,320.0 L965.0,320.2 L966.6,320.4 L968.2,320.6 L969.8,320.8 L971.4,320.9 L973.0,321.1 L974.6,321.3 L976.2,321.5 L977.8,321.7 L979.4,321.8 L981.0,322.0 L982.6,322.2 L984.2,322.4 L985.8,322.6 L987.4,322.7 L989.0,322.9 L990.6,323.1 L992.2,323.3 L993.8,323.4 L995.4,323.6 L997.0,323.8 L998.6,324.0 L1000.2,324.2 L1001.8,324.3 L1003.4,324.5 L1005.0,324.7 L1006.6,324.9 L1006.6,324.9 L1005.0,324.7 L1003.4,324.5 L1001.8,324.3 L1000.2,324.2 L998.6,324.0 L997.0,323.8 L995.4,323.6 L993.8,323.4 L992.2,323.3 L990.6,323.1 L989.0,322.9 L987.4,322.7 L985.8,322.6 L984.2,322.4 L982.6,322.2 L981.0,322.0 L979.4,321.8 L977.8,321.7 L976.2,321.5 L974.6,321.3 L973.0,321.1 L971.4,320.9 L969.8,320.8 L968.2,320.6 L966.6,320.4 L965.0,320.2 L963.4,320.0 L961.8,319.9 L960.2,319.7 L958.6,319.5 L957.0,319.3 L955.4,319.1 L953.9,318.9 L952.3,318.8 L950.7,318.6 L949.1,318.4 L947.5,318.2 L945.9,318.0 L944.3,317.8 L942.7,317.7 L941.1,317.5 L939.5,317.3 L937.9,317.1 L936.3,316.9 L934.7,316.8 L933.1,316.6 L931.5,316.4 L929.9,316.2 L928.3,316.0 L926.7,315.9 L925.1,315.7 L923.5,315.5 L921.9,315.4 L920.3,315.2 L918.7,315.0 L917.1,314.8 L915.5,314.7 L913.9,314.5 L912.3,314.3 L910.7,314.2 L909.1,314.0 L907.5,313.8 L905.9,313.6 L904.3,313.5 L902.7,313.3 L901.1,313.1 L899.5,313.0 L897.9,312.9 L896.3,312.8 L894.7,312.7 L893.1,312.6 L891.5,312.5 L889.9,312.4 L888.3,312.3 L886.7,312.2 L885.1,312.2 L883.5,312.1 L881.9,312.0 L880.3,311.9 L878.7,311.8 L877.1,311.7 L875.5,311.6 L873.9,311.5 L872.3,311.4 L870.7,311.2 L869.1,311.1 L867.5,310.9 L865.9,310.6 L864.3,310.3 L862.7,309.9 L861.1,309.4 L859.5,308.9 L857.9,308.4 L856.3,307.8 L854.7,307.2 L853.1,306.6 L851.5,306.0 L850.0,305.4 L848.4,304.8 L846.8,304.2 L845.2,303.5 L843.6,302.8 L842.0,302.1 L840.4,301.3 L838.8,300.6 L837.2,299.8 L835.6,299.1 L834.0,298.3 L832.4,297.5 L830.8,296.8 L829.2,296.0 L827.6,295.3 L826.0,294.5 L824.4,293.7 L822.8,293.0 L821.2,292.2 L819.6,291.5 L818.0,290.7 L816.4,289.9 L814.8,289.2 L813.2,288.4 L811.6,287.7 L810.0,287.1 L808.4,286.5 L806.8,286.0 L805.2,285.5 L803.6,285.0 L802.0,284.6 L800.4,284.1 L798.8,283.6 L797.2,283.1 L795.6,282.6 L794.0,282.1 L792.4,281.7 L790.8,281.3 L789.2,280.8 L787.6,280.5 L786.0,280.1 L784.4,279.8 L782.8,279.6 L781.2,279.3 L779.6,279.1 L778.0,278.9 L776.4,278.7 L774.8,278.5 L773.2,278.4 L771.6,278.2 L770.0,278.1 L768.4,278.0 L766.8,277.9 L765.2,277.8 L763.6,277.7 L762.0,277.6 L760.4,277.5 L758.8,277.4 L757.2,277.3 L755.6,277.2 L754.0,277.1 L752.4,277.0 L750.8,276.9 L749.2,276.8 L747.7,276.7 L746.1,276.6 L744.5,276.5 L742.9,276.5 L741.3,276.4 L739.7,276.4 L738.1,276.3 L736.5,276.3 L734.9,276.2 L733.3,276.2 L731.7,276.2 L730.1,276.2 L728.5,276.2 L726.9,276.2 L725.3,276.1 L723.7,276.1 L722.1,276.1 L720.5,276.1 L718.9,276.1 L717.3,276.1 L715.7,276.1 L714.1,276.1 L712.5,276.1 L710.9,276.1 L709.3,276.1 L707.7,276.1 L706.1,276.1 L704.5,276.1 L702.9,276.1 L701.3,276.1 L699.7,276.1 L698.1,276.1 L696.5,276.1 L694.9,276.1 L693.3,276.0 L691.7,276.0 L690.1,276.0 L688.5,276.0 L686.9,276.0 L685.3,276.0 L683.7,276.0 L682.1,276.0 L680.5,276.0 L678.9,276.0 L677.3,276.0 L675.7,276.0 L674.1,276.0 L672.5,276.0 L670.9,276.0 L669.3,276.0 L667.7,276.0 L666.1,276.0 L664.5,276.0 L662.9,276.0 L661.3,276.0 L659.7,276.0 L658.1,276.0 L656.5,276.0 L654.9,276.0 L653.3,276.0 L651.7,276.0 L650.1,276.0 L648.5,276.0 L646.9,276.0 L645.3,276.0 L643.8,276.0 L642.2,276.0 L640.6,275.9 L639.0,275.9 L637.4,275.9 L635.8,275.9 L634.2,275.9 L632.6,275.9 L631.0,275.9 L629.4,275.9 L627.8,275.9 L626.2,275.9 L624.6,275.9 L623.0,275.9 L621.4,275.9 L619.8,275.9 L618.2,275.9 L616.6,275.9 L615.0,275.9 L613.4,275.9 L611.8,275.9 L610.2,275.9 L608.6,275.9 L607.0,275.9 L605.4,275.9 L603.8,275.9 L602.2,275.9 L600.6,275.9 L599.0,275.9 L597.4,275.9 L595.8,275.9 L594.2,275.9 L592.6,275.9 Z" fill="#0b850b" fill-opacity="1" stroke="none" stroke-width="0.8"/>
<path d="M592.6,275.9 L594.2,275.9 L595.8,275.9 L597.4,275.9 L599.0,275.9 L600.6,275.9 L602.2,275.9 L603.8,275.9 L605.4,275.9 L607.0,275.9 L608.6,275.9 L610.2,275.9 L611.8,275.9 L613.4,275.9 L615.0,275.9 L616.6,275.9 L618.2,275.9 L619.8,275.9 L621.4,275.9 L623.0,275.9 L624.6,275.9 L626.2,275.9 L627.8,275.9 L629.4,275.9 L631.0,275.9 L632.6,275.9 L634.2,275.9 L635.8,275.9 L637.4,275.9 L639.0,275.9 L640.6,275.9 L642.2,276.0 L643.8,276.0 L645.3,276.0 L646.9,276.0 L648.5,276.0 L650.1,276.0 L651.7,276.0 L653.3,276.0 L654.9,276.0 L656.5,276.0 L658.1,276.0 L659.7,276.0 L661.3,276.0 L662.9,276.0 L664.5,276.0 L666.1,276.0 L667.7,276.0 L669.3,276.0 L670.9,276.0 L672.5,276.0 L674.1,276.0 L675.7,276.0 L677.3,276.0 L678.9,276.0 L680.5,276.0 L682.1,276.0 L683.7,276.0 L685.3,276.0 L686.9,276.0 L688.5,276.0 L690.1,276.0 L691.7,276.0 L693.3,276.0 L694.9,276.1 L696.5,276.1 L698.1,276.1 L699.7,276.1 L701.3,276.1 L702.9,276.1 L704.5,276.1 L706.1,276.1 L707.7,276.1 L709.3,276.1 L710.9,276.1 L712.5,276.1 L714.1,276.1 L715.7,276.1 L717.3,276.1 L718.9,276.1 L720.5,276.1 L722.1,276.1 L723.7,276.0 L725.3,276.0 L726.9,276.0 L728.5,276.0 L730.1,276.0 L731.7,275.9 L733.3,275.9 L734.9,275.9 L736.5,275.9 L738.1,275.9 L739.7,275.9 L741.3,275.9 L742.9,275.9 L744.5,275.8 L746.1,275.8 L747.7,275.7 L749.2,275.6 L750.8,275.4 L752.4,275.2 L754.0,275.0 L755.6,274.6 L757.2,274.1 L758.8,273.5 L760.4,272.8 L762.0,271.8 L763.6,270.7 L765.2,269.3 L766.8,267.6 L768.4,265.6 L770.0,263.3 L771.6,260.6 L773.2,257.5 L774.8,254.0 L776.4,250.0 L778.0,245.6 L779.6,240.8 L781.2,235.5 L782.8,229.8 L784.4,223.8 L786.0,217.5 L787.6,211.0 L789.2,204.3 L790.8,197.6 L792.4,191.1 L794.0,184.7 L795.6,178.7 L797.2,173.1 L798.8,168.1 L800.4,163.9 L802.0,160.4 L803.6,157.9 L805.2,156.5 L806.8,156.2 L808.4,156.9 L810.0,158.5 L811.6,160.9 L813.2,164.2 L814.8,168.2 L816.4,172.9 L818.0,178.1 L819.6,183.8 L821.2,189.9 L822.8,196.3 L824.4,202.9 L826.0,209.6 L827.6,216.5 L829.2,223.3 L830.8,230.0 L832.4,236.6 L834.0,243.0 L835.6,249.1 L837.2,255.0 L838.8,260.5 L840.4,265.8 L842.0,270.7 L843.6,275.2 L845.2,279.4 L846.8,283.2 L848.4,286.6 L850.0,289.8 L851.5,292.6 L853.1,295.1 L854.7,297.4 L856.3,299.5 L857.9,301.3 L859.5,303.0 L861.1,304.4 L862.7,305.6 L864.3,306.7 L865.9,307.6 L867.5,308.3 L869.1,308.9 L870.7,309.4 L872.3,309.8 L873.9,310.2 L875.5,310.5 L877.1,310.8 L878.7,311.0 L880.3,311.2 L881.9,311.4 L883.5,311.5 L885.1,311.7 L886.7,311.8 L888.3,311.9 L889.9,312.0 L891.5,312.2 L893.1,312.3 L894.7,312.4 L896.3,312.5 L897.9,312.7 L899.5,312.8 L901.1,313.0 L902.7,313.2 L904.3,313.4 L905.9,313.6 L907.5,313.7 L909.1,313.9 L910.7,314.1 L912.3,314.3 L913.9,314.5 L915.5,314.7 L917.1,314.8 L918.7,315.0 L920.3,315.2 L921.9,315.4 L923.5,315.5 L925.1,315.7 L926.7,315.9 L928.3,316.0 L929.9,316.2 L931.5,316.4 L933.1,316.6 L934.7,316.8 L936.3,316.9 L937.9,317.1 L939.5,317.3 L941.1,317.5 L942.7,317.7 L944.3,317.8 L945.9,318.0 L947.5,318.2 L949.1,318.4 L950.7,318.6 L952.3,318.8 L953.9,318.9 L955.4,319.1 L957.0,319.3 L958.6,319.5 L960.2,319.7 L961.8,319.9 L963.4,320.0 L965.0,320.2 L966.6,320.4 L968.2,320.6 L969.8,320.8 L971.4,320.9 L973.0,321.1 L974.6,321.3 L976.2,321.5 L977.8,321.7 L979.4,321.8 L981.0,322.0 L982.6,322.2 L984.2,322.4 L985.8,322.6 L987.4,322.7 L989.0,322.9 L990.6,323.1 L992.2,323.3 L993.8,323.4 L995.4,323.6 L997.0,323.8 L998.6,324.0 L1000.2,324.2 L1001.8,324.3 L1003.4,324.5 L1005.0,324.7 L1006.6,324.9 L1006.6,328.1 L1005.0,327.9 L1003.4,327.8 L1001.8,327.6 L1000.2,327.4 L998.6,327.2 L997.0,327.0 L995.4,326.8 L993.8,326.6 L992.2,326.5 L990.6,326.3 L989.0,326.1 L987.4,325.9 L985.8,325.7 L984.2,325.5 L982.6,325.3 L981.0,325.2 L979.4,325.0 L977.8,324.8 L976.2,324.6 L974.6,324.4 L973.0,324.2 L971.4,324.0 L969.8,323.9 L968.2,323.7 L966.6,323.5 L965.0,323.3 L963.4,323.1 L961.8,322.9 L960.2,322.7 L958.6,322.5 L957.0,322.4 L955.4,322.2 L953.9,322.0 L952.3,321.8 L950.7,321.6 L949.1,321.4 L947.5,321.2 L945.9,321.1 L944.3,320.9 L942.7,320.7 L941.1,320.5 L939.5,320.3 L937.9,320.1 L936.3,319.9 L934.7,319.8 L933.1,319.6 L931.5,319.4 L929.9,319.2 L928.3,319.0 L926.7,318.8 L925.1,318.6 L923.5,318.5 L921.9,318.3 L920.3,318.1 L918.7,317.9 L917.1,317.7 L915.5,317.5 L913.9,317.3 L912.3,317.2 L910.7,317.0 L909.1,316.8 L907.5,316.6 L905.9,316.4 L904.3,316.2 L902.7,316.0 L901.1,315.8 L899.5,315.7 L897.9,315.5 L896.3,315.3 L894.7,315.1 L893.1,314.9 L891.5,314.7 L889.9,314.5 L888.3,314.4 L886.7,314.2 L885.1,314.0 L883.5,313.8 L881.9,313.6 L880.3,313.4 L878.7,313.2 L877.1,313.1 L875.5,312.9 L873.9,312.7 L872.3,312.5 L870.7,312.3 L869.1,312.1 L867.5,311.9 L865.9,311.8 L864.3,311.6 L862.7,311.4 L861.1,311.2 L859.5,311.0 L857.9,310.8 L856.3,310.6 L854.7,310.4 L853.1,310.3 L851.5,310.1 L850.0,309.9 L848.4,309.7 L846.8,309.5 L845.2,309.3 L843.6,309.1 L842.0,309.0 L840.4,308.8 L838.8,308.6 L837.2,308.4 L835.6,308.2 L834.0,308.0 L832.4,307.8 L830.8,307.7 L829.2,307.5 L827.6,307.3 L826.0,307.1 L824.4,306.9 L822.8,306.7 L821.2,306.5 L819.6,306.4 L818.0,306.2 L816.4,306.0 L814.8,305.8 L813.2,305.6 L811.6,305.4 L810.0,305.2 L808.4,305.0 L806.8,304.9 L805.2,304.7 L803.6,304.5 L802.0,304.3 L800.4,304.1 L798.8,303.9 L797.2,303.7 L795.6,303.6 L794.0,303.4 L792.4,303.2 L790.8,303.0 L789.2,302.8 L787.6,302.6 L786.0,302.4 L784.4,302.3 L782.8,302.1 L781.2,301.9 L779.6,301.7 L778.0,301.5 L776.4,301.3 L774.8,301.1 L773.2,301.0 L771.6,300.8 L770.0,300.6 L768.4,300.4 L766.8,300.2 L765.2,300.0 L763.6,299.8 L762.0,299.6 L760.4,299.5 L758.8,299.3 L757.2,299.1 L755.6,298.9 L754.0,298.7 L752.4,298.5 L750.8,298.3 L749.2,298.2 L747.7,298.0 L746.1,297.8 L744.5,297.6 L742.9,297.4 L741.3,297.2 L739.7,297.0 L738.1,296.9 L736.5,296.7 L734.9,296.5 L733.3,296.3 L731.7,296.1 L730.1,295.9 L728.5,295.7 L726.9,295.6 L725.3,295.4 L723.7,295.2 L722.1,295.0 L720.5,294.8 L718.9,294.6 L717.3,294.4 L715.7,294.2 L714.1,294.1 L712.5,293.9 L710.9,293.7 L709.3,293.5 L707.7,293.3 L706.1,293.1 L704.5,292.9 L702.9,292.8 L701.3,292.6 L699.7,292.4 L698.1,292.2 L696.5,292.0 L694.9,291.8 L693.3,291.6 L691.7,291.5 L690.1,291.3 L688.5,291.1 L686.9,290.9 L685.3,290.7 L683.7,290.5 L682.1,290.3 L680.5,290.2 L678.9,290.0 L677.3,289.8 L675.7,289.6 L674.1,289.4 L672.5,289.2 L670.9,289.0 L669.3,288.9 L667.7,288.7 L666.1,288.5 L664.5,288.3 L662.9,288.1 L661.3,287.9 L659.7,287.7 L658.1,287.5 L656.5,287.4 L654.9,287.2 L653.3,287.0 L651.7,286.8 L650.1,286.6 L648.5,286.4 L646.9,286.2 L645.3,286.1 L643.8,285.9 L642.2,285.7 L640.6,285.5 L639.0,285.3 L637.4,285.1 L635.8,284.9 L634.2,284.8 L632.6,284.6 L631.0,284.4 L629.4,284.2 L627.8,284.0 L626.2,283.8 L624.6,283.6 L623.0,283.5 L621.4,283.3 L619.8,283.1 L618.2,282.9 L616.6,282.7 L615.0,282.5 L613.4,282.3 L611.8,282.1 L610.2,282.0 L608.6,281.8 L607.0,281.6 L605.4,281.4 L603.8,281.2 L602.2,281.0 L600.6,280.8 L599.0,280.7 L597.4,280.5 L595.8,280.3 L594.2,280.1 L592.6,279.9 Z" fill="#ff00ff" fill-opacity="0.73" stroke="none" stroke-width="0.8"/>
<path d="M629.1,270.4 L633.1,269.8 L637.1,269.8 L641.1,267.3 L645.1,267.1 L649.1,264.6 L653.1,264.7 L657.1,262.4 L661.1,261.0 L665.1,257.9 L669.1,256.2 L673.1,253.5 L677.1,250.5 L681.1,247.6 L685.1,242.8 L689.1,238.4 L693.1,233.6 L697.1,228.0 L701.1,222.3 L705.1,217.0 L709.1,208.4 L713.1,200.2 L717.1,192.6 L721.1,184.2 L725.1,176.9 L729.1,170.5 L733.1,164.2 L737.1,154.5 L741.1,146.0 L745.1,138.3 L749.1,131.0 L753.1,121.0 L757.1,111.2 L761.1,103.8 L765.1,93.5 L769.1,86.4 L773.1,80.8 L777.1,76.6 L781.1,70.8 L785.1,66.8 L789.1,65.9 L793.1,63.7 L797.1,63.1 L801.1,64.5 L805.1,66.4 L809.1,68.8 L813.1,71.6 L817.1,77.4 L821.1,84.7 L825.1,92.1 L829.1,99.2 L833.1,106.2 L837.1,117.0 L841.1,128.4 L845.1,140.8 L849.1,153.5 L853.1,164.9 L857.1,176.7 L861.1,189.1 L865.1,201.0 L869.1,212.1 L873.1,221.3 L877.1,232.6 L881.1,241.1 L885.1,249.9 L889.1,260.3 L893.1,269.3 L897.1,277.7 L901.1,285.0 L905.1,291.4 L909.1,295.9 L913.1,301.2 L917.1,305.3 L921.1,306.6 L925.1,309.4 L929.1,312.5 L933.1,313.5 L937.1,316.2 L941.1,318.1" fill="none" stroke="#111" stroke-width="2.6" stroke-linejoin="round"/>
<path d="M592.6,271.0 L593.6,270.9 L594.6,270.8 L595.6,270.7 L596.6,270.7 L597.6,270.6 L598.6,270.5 L599.6,270.4 L600.6,270.3 L601.6,270.2 L602.6,270.1 L603.6,269.9 L604.6,269.8 L605.6,269.7 L606.6,269.6 L607.6,269.5 L608.6,269.4 L609.6,269.2 L610.6,269.1 L611.6,269.0 L612.6,268.9 L613.6,268.7 L614.6,268.6 L615.6,268.5 L616.6,268.3 L617.6,268.2 L618.6,268.0 L619.6,267.9 L620.6,267.7 L621.6,267.6 L622.6,267.4 L623.6,267.3 L624.6,267.1 L625.6,266.9 L626.6,266.8 L627.6,266.6 L628.6,266.4 L629.6,266.2 L630.6,266.0 L631.6,265.9 L632.6,265.7 L633.6,265.5 L634.6,265.3 L635.6,265.1 L636.6,264.9 L637.6,264.7 L638.6,264.5 L639.6,264.3 L640.6,264.1 L641.6,263.9 L642.6,263.6 L643.6,263.4 L644.6,263.1 L645.6,262.9 L646.6,262.6 L647.6,262.3 L648.6,262.0 L649.6,261.7 L650.6,261.3 L651.6,261.0 L652.6,260.7 L653.6,260.4 L654.6,260.0 L655.6,259.7 L656.6,259.3 L657.6,259.0 L658.6,258.7 L659.6,258.3 L660.6,258.0 L661.6,257.6 L662.6,257.2 L663.6,256.8 L664.6,256.4 L665.6,256.0 L666.6,255.5 L667.6,255.0 L668.6,254.5 L669.6,254.0 L670.6,253.5 L671.6,253.0 L672.6,252.4 L673.6,251.8 L674.6,251.3 L675.6,250.7 L676.6,250.0 L677.6,249.4 L678.6,248.8 L679.6,248.1 L680.6,247.3 L681.6,246.6 L682.6,245.7 L683.6,244.8 L684.6,243.8 L685.6,242.8 L686.6,241.8 L687.6,240.7 L688.6,239.5 L689.6,238.3 L690.6,237.0 L691.6,235.7 L692.6,234.3 L693.6,232.9 L694.6,231.5 L695.6,230.0 L696.6,228.4 L697.6,226.8 L698.6,225.2 L699.6,223.5 L700.6,221.8 L701.6,220.1 L702.6,218.3 L703.6,216.5 L704.6,214.7 L705.6,212.8 L706.6,210.9 L707.6,208.9 L708.6,207.0 L709.6,204.9 L710.6,202.9 L711.6,200.8 L712.6,198.8 L713.6,196.8 L714.6,194.8 L715.6,192.8 L716.6,190.8 L717.6,189.0 L718.6,187.1 L719.6,185.4 L720.6,183.6 L721.6,181.9 L722.6,180.2 L723.6,178.5 L724.6,176.8 L725.6,175.1 L726.6,173.3 L727.6,171.5 L728.6,169.6 L729.6,167.6 L730.6,165.5 L731.6,163.4 L732.6,161.3 L733.6,159.2 L734.6,157.1 L735.6,155.1 L736.6,153.1 L737.6,151.2 L738.6,149.5 L739.6,147.7 L740.6,146.0 L741.6,144.2 L742.6,142.5 L743.6,140.8 L744.6,139.0 L745.6,137.3 L746.6,135.5 L747.6,133.8 L748.6,132.1 L749.6,130.3 L750.6,128.6 L751.6,126.8 L752.6,125.1 L753.6,123.4 L754.6,121.6 L755.6,119.9 L756.6,118.1 L757.6,116.4 L758.6,114.6 L759.6,112.9 L760.6,110.8 L761.6,108.1 L762.6,105.1 L763.6,101.8 L764.6,98.5 L765.6,95.5 L766.6,92.9 L767.6,90.8 L768.6,88.8 L769.6,86.9 L770.6,85.1 L771.6,83.4 L772.6,81.8 L773.6,80.4 L774.6,79.0 L775.6,77.8 L776.6,76.6 L777.6,75.4 L778.6,74.2 L779.6,73.1 L780.6,72.1 L781.6,71.0 L782.6,70.1 L783.6,69.2 L784.6,68.4 L785.6,67.6 L786.6,66.9 L787.6,66.2 L788.6,65.5 L789.6,64.9 L790.6,64.4 L791.6,63.8 L792.6,63.4 L793.6,62.9 L794.6,62.6 L795.6,62.3 L796.6,62.2 L797.6,62.1 L798.6,62.3 L799.6,62.5 L800.6,62.8 L801.6,63.3 L802.6,63.8 L803.6,64.4 L804.6,64.9 L805.6,65.5 L806.6,66.2 L807.6,66.8 L808.6,67.5 L809.6,68.3 L810.6,69.1 L811.6,69.9 L812.6,70.9 L813.6,71.9 L814.6,73.1 L815.6,74.4 L816.6,75.8 L817.6,77.4 L818.6,79.2 L819.6,81.1 L820.6,83.1 L821.6,85.0 L822.6,87.0 L823.6,89.0 L824.6,91.0 L825.6,93.0 L826.6,95.0 L827.6,97.0 L828.6,98.9 L829.6,100.7 L830.6,102.5 L831.6,104.3 L832.6,106.2 L833.6,108.2 L834.6,110.4 L835.6,112.7 L836.6,115.4 L837.6,118.1 L838.6,121.0 L839.6,124.0 L840.6,127.1 L841.6,130.2 L842.6,133.4 L843.6,136.5 L844.6,139.5 L845.6,142.5 L846.6,145.5 L847.6,148.5 L848.6,151.5 L849.6,154.4 L850.6,157.4 L851.6,160.4 L852.6,163.4 L853.6,166.4 L854.6,169.4 L855.6,172.4 L856.6,175.4 L857.6,178.5 L858.6,181.5 L859.6,184.5 L860.6,187.6 L861.6,190.6 L862.6,193.6 L863.6,196.5 L864.6,199.5 L865.6,202.2 L866.6,204.7 L867.6,207.1 L868.6,209.3 L869.6,211.4 L870.6,213.4 L871.6,215.5 L872.6,217.5 L873.6,219.6 L874.6,221.7 L875.6,224.0 L876.6,226.3 L877.6,228.7 L878.6,231.2 L879.6,233.6 L880.6,236.0 L881.6,238.4 L882.6,240.8 L883.6,243.2 L884.6,245.6 L885.6,248.0 L886.6,250.4 L887.6,252.8 L888.6,255.1 L889.6,257.4 L890.6,259.7 L891.6,262.0 L892.6,264.3 L893.6,266.6 L894.6,268.8 L895.6,271.0 L896.6,273.2 L897.6,275.2 L898.6,277.1 L899.6,279.0 L900.6,280.8 L901.6,282.5 L902.6,284.1 L903.6,285.7 L904.6,287.2 L905.6,288.7 L906.6,290.1 L907.6,291.6 L908.6,293.0 L909.6,294.3 L910.6,295.6 L911.6,296.8 L912.6,298.0 L913.6,299.1 L914.6,300.2 L915.6,301.2 L916.6,302.1 L917.6,303.0 L918.6,303.7 L919.6,304.4 L920.6,305.1 L921.6,305.7 L922.6,306.4 L923.6,307.0 L924.6,307.6 L925.6,308.1 L926.6,308.6 L927.6,309.1 L928.6,309.6 L929.6,310.1 L930.6,310.5 L931.6,310.8 L932.6,311.2 L933.6,311.5 L934.6,311.7 L935.6,312.0 L936.6,312.2 L937.6,312.4 L938.6,312.6 L939.6,312.9 L940.6,313.1 L941.6,313.3 L942.6,313.5 L943.6,313.8 L944.6,314.0 L945.6,314.2 L946.6,314.4 L947.6,314.6 L948.6,314.8 L949.6,315.0 L950.6,315.2 L951.6,315.4 L952.6,315.6 L953.6,315.8 L954.6,316.0 L955.6,316.2 L956.6,316.3 L957.6,316.5 L958.6,316.7 L959.6,316.8 L960.6,317.0 L961.6,317.1 L962.6,317.3 L963.6,317.4 L964.6,317.5 L965.6,317.7 L966.6,317.8 L967.6,318.0 L968.6,318.1 L969.6,318.2 L970.6,318.4 L971.6,318.5 L972.6,318.6 L973.6,318.8 L974.6,318.9 L975.6,319.0 L976.6,319.2 L977.6,319.3 L978.6,319.4 L979.6,319.6 L980.6,319.7 L981.6,319.8 L982.6,319.9 L983.6,320.1 L984.6,320.2 L985.6,320.3 L986.6,320.4 L987.6,320.6 L988.6,320.7 L989.6,320.8 L990.6,320.9 L991.6,321.0 L992.6,321.1 L993.6,321.3 L994.6,321.4 L995.6,321.5 L996.6,321.6 L997.6,321.7 L998.6,321.8 L999.6,321.9 L1000.6,322.0 L1001.6,322.1 L1002.6,322.2 L1003.6,322.2 L1004.6,322.3 L1005.6,322.4 L1006.6,322.5" fill="none" stroke="#e8262a" stroke-width="3.0" stroke-dasharray="9.5,10"/>
</g>
<line x1="685.0" y1="202.0" x2="712.9" y2="228.3" stroke="#111" stroke-width="1.6"/>
<path d="M718.0,233.1 L710.6,230.1 L714.5,225.8 Z" fill="#111"/>
<line x1="685.0" y1="122.4" x2="761.6" y2="197.1" stroke="#111" stroke-width="1.6"/>
<path d="M766.6,202.0 L759.2,198.8 L763.3,194.7 Z" fill="#111"/>
<line x1="881.6" y1="100.8" x2="813.0" y2="167.6" stroke="#111" stroke-width="1.6"/>
<path d="M808.0,172.5 L811.3,165.2 L815.4,169.3 Z" fill="#111"/>
<line x1="905.5" y1="161.5" x2="849.7" y2="218.2" stroke="#111" stroke-width="1.6"/>
<path d="M844.8,223.2 L848.0,215.8 L852.1,219.9 Z" fill="#111"/>
<line x1="931.4" y1="233.2" x2="884.7" y2="278.1" stroke="#111" stroke-width="1.6"/>
<path d="M879.6,282.9 L883.0,275.6 L887.0,279.8 Z" fill="#111"/>
<rect x="592.6" y="2.2" width="414.0" height="331.8" fill="none" stroke="#111" stroke-width="2.4"/>
<line x1="1006.6" y1="334.0" x2="1006.6" y2="340.0" stroke="#111" stroke-width="2.2"/>
<line x1="937.6" y1="334.0" x2="937.6" y2="340.0" stroke="#111" stroke-width="2.2"/>
<line x1="868.6" y1="334.0" x2="868.6" y2="340.0" stroke="#111" stroke-width="2.2"/>
<line x1="799.6" y1="334.0" x2="799.6" y2="340.0" stroke="#111" stroke-width="2.2"/>
<line x1="730.6" y1="334.0" x2="730.6" y2="340.0" stroke="#111" stroke-width="2.2"/>
<line x1="661.6" y1="334.0" x2="661.6" y2="340.0" stroke="#111" stroke-width="2.2"/>
<line x1="592.6" y1="334.0" x2="592.6" y2="340.0" stroke="#111" stroke-width="2.2"/>
<line x1="972.1" y1="334.0" x2="972.1" y2="337.5" stroke="#111" stroke-width="2.2"/>
<line x1="903.1" y1="334.0" x2="903.1" y2="337.5" stroke="#111" stroke-width="2.2"/>
<line x1="834.1" y1="334.0" x2="834.1" y2="337.5" stroke="#111" stroke-width="2.2"/>
<line x1="765.1" y1="334.0" x2="765.1" y2="337.5" stroke="#111" stroke-width="2.2"/>
<line x1="696.1" y1="334.0" x2="696.1" y2="337.5" stroke="#111" stroke-width="2.2"/>
<line x1="627.1" y1="334.0" x2="627.1" y2="337.5" stroke="#111" stroke-width="2.2"/>
<line x1="592.6" y1="311.0" x2="586.6" y2="311.0" stroke="#111" stroke-width="2.2"/>
<line x1="592.6" y1="217.4" x2="586.6" y2="217.4" stroke="#111" stroke-width="2.2"/>
<line x1="592.6" y1="123.7" x2="586.6" y2="123.7" stroke="#111" stroke-width="2.2"/>
<line x1="592.6" y1="30.1" x2="586.6" y2="30.1" stroke="#111" stroke-width="2.2"/>
<line x1="592.6" y1="264.2" x2="589.1" y2="264.2" stroke="#111" stroke-width="2.2"/>
<line x1="592.6" y1="170.5" x2="589.1" y2="170.5" stroke="#111" stroke-width="2.2"/>
<line x1="592.6" y1="76.9" x2="589.1" y2="76.9" stroke="#111" stroke-width="2.2"/>
<text x="1006.6" y="364.6" font-size="25.0" fill="#000" text-anchor="middle">283</text>
<text x="937.6" y="364.6" font-size="25.0" fill="#000" text-anchor="middle">284</text>
<text x="868.6" y="364.6" font-size="25.0" fill="#000" text-anchor="middle">285</text>
<text x="799.6" y="364.6" font-size="25.0" fill="#000" text-anchor="middle">286</text>
<text x="730.6" y="364.6" font-size="25.0" fill="#000" text-anchor="middle">287</text>
<text x="661.6" y="364.6" font-size="25.0" fill="#000" text-anchor="middle">288</text>
<text x="592.6" y="364.6" font-size="25.0" fill="#000" text-anchor="middle">289</text>
<text x="582.0" y="317.9" font-size="25.0" fill="#000" text-anchor="end">1</text>
<text x="582.0" y="224.3" font-size="25.0" fill="#000" text-anchor="end">2</text>
<text x="582.0" y="130.7" font-size="25.0" fill="#000" text-anchor="end">3</text>
<text x="582.0" y="37.0" font-size="25.0" fill="#000" text-anchor="end">4</text>
<text x="601.40" y="27.46" font-size="23.66" fill="#e8141c" stroke="#e8141c" stroke-width="0.45" textLength="41.49" lengthAdjust="spacingAndGlyphs">C1s</text>
<text x="860.60" y="29.46" font-size="24.37" fill="#e8141c" stroke="#e8141c" stroke-width="0.45" textLength="140.26" lengthAdjust="spacingAndGlyphs">2FSI+1TFSI</text>
<text x="667.60" y="397.58" font-size="23.42" fill="#000" stroke="#000" stroke-width="0.45" textLength="239.94" lengthAdjust="spacingAndGlyphs">Binding Energy (eV)</text>
<text x="0" y="0" font-size="24.93" fill="#000" stroke="#000" stroke-width="0.4" textLength="221.65" lengthAdjust="spacingAndGlyphs" transform="translate(549.50 281.50) rotate(-90)">Intensity (10<tspan font-size="14.96" dy="-10.47">4</tspan><tspan dy="10.47">cps)</tspan></text>
<text x="629.10" y="192.84" font-size="26.34" fill="#3ae8ee" stroke="#3ae8ee" stroke-width="0.45" textLength="78.50" lengthAdjust="spacingAndGlyphs">O-C=O</text>
<text x="665.40" y="114.84" font-size="25.63" fill="#0c0c80" stroke="#0c0c80" stroke-width="0.45" textLength="50.68" lengthAdjust="spacingAndGlyphs">C=O</text>
<text x="879.30" y="96.94" font-size="26.20" fill="#ee22ee" stroke="#ee22ee" stroke-width="0.45" textLength="70.96" lengthAdjust="spacingAndGlyphs">C-O-C</text>
<text x="907.80" y="152.74" font-size="26.20" fill="#7a1010" stroke="#7a1010" stroke-width="0.45" textLength="49.76" lengthAdjust="spacingAndGlyphs">C=C</text>
<text x="899.90" y="226.16" font-size="24.80" fill="#148a14" stroke="#148a14" stroke-width="0.45" textLength="94.84" lengthAdjust="spacingAndGlyphs">C-H,C-C</text>
<clipPath id="clip3"><rect x="82.6" y="423.3" width="423.6" height="343.6"/></clipPath>
<g clip-path="url(#clip3)">
<path d="M82.6,731.7 L84.2,731.8 L85.9,731.9 L87.5,731.9 L89.1,732.0 L90.8,732.0 L92.4,732.1 L94.0,732.1 L95.7,732.2 L97.3,732.2 L99.0,732.3 L100.6,732.3 L102.2,732.4 L103.9,732.4 L105.5,732.5 L107.1,732.5 L108.8,732.6 L110.4,732.6 L112.0,732.7 L113.7,732.7 L115.3,732.8 L116.9,732.8 L118.6,732.8 L120.2,732.9 L121.9,732.9 L123.5,733.0 L125.1,733.0 L126.8,733.0 L128.4,733.1 L130.0,733.1 L131.7,733.1 L133.3,733.2 L134.9,733.2 L136.6,733.2 L138.2,733.3 L139.8,733.3 L141.5,733.3 L143.1,733.3 L144.7,733.4 L146.4,733.4 L148.0,733.4 L149.7,733.4 L151.3,733.4 L152.9,733.4 L154.6,733.4 L156.2,733.4 L157.8,733.4 L159.5,733.5 L161.1,733.4 L162.7,733.4 L164.4,733.4 L166.0,733.4 L167.6,733.4 L169.3,733.4 L170.9,733.4 L172.6,733.3 L174.2,733.3 L175.8,733.3 L177.5,733.2 L179.1,733.2 L180.7,733.1 L182.4,733.0 L184.0,732.9 L185.6,732.8 L187.3,732.7 L188.9,732.6 L190.5,732.5 L192.2,732.3 L193.8,732.1 L195.5,731.9 L197.1,731.7 L198.7,731.5 L200.4,731.2 L202.0,730.9 L203.6,730.5 L205.3,730.1 L206.9,729.6 L208.5,729.1 L210.2,728.6 L211.8,727.9 L213.4,727.2 L215.1,726.5 L216.7,725.6 L218.3,724.6 L220.0,723.6 L221.6,722.4 L223.3,721.1 L224.9,719.7 L226.5,718.2 L228.2,716.5 L229.8,714.7 L231.4,712.7 L233.1,710.6 L234.7,708.3 L236.3,705.8 L238.0,703.2 L239.6,700.4 L241.2,697.5 L242.9,694.3 L244.5,691.0 L246.2,687.6 L247.8,684.0 L249.4,680.2 L251.1,676.4 L252.7,672.3 L254.3,668.2 L256.0,664.0 L257.6,659.8 L259.2,655.4 L260.9,651.1 L262.5,646.8 L264.1,642.5 L265.8,638.3 L267.4,634.2 L269.0,630.2 L270.7,626.5 L272.3,622.9 L274.0,619.7 L275.6,616.7 L277.2,614.2 L278.9,612.0 L280.5,610.3 L282.1,609.0 L283.8,608.2 L285.4,607.9 L287.0,608.2 L288.7,609.0 L290.3,610.4 L291.9,612.3 L293.6,614.7 L295.2,617.5 L296.9,620.7 L298.5,624.3 L300.1,628.2 L301.8,632.3 L303.4,636.6 L305.0,641.1 L306.7,645.7 L308.3,650.4 L309.9,655.1 L311.6,659.8 L313.2,664.5 L314.8,669.1 L316.5,673.6 L318.1,678.0 L319.8,682.3 L321.4,686.4 L323.0,690.4 L324.7,694.2 L326.3,697.9 L327.9,701.3 L329.6,704.6 L331.2,707.6 L332.8,710.5 L334.5,713.2 L336.1,715.8 L337.7,718.1 L339.4,720.3 L341.0,722.3 L342.6,724.2 L344.3,725.9 L345.9,727.5 L347.6,728.9 L349.2,730.2 L350.8,731.4 L352.5,732.5 L354.1,733.5 L355.7,734.4 L357.4,735.3 L359.0,736.0 L360.6,736.7 L362.3,737.4 L363.9,737.9 L365.5,738.5 L367.2,739.0 L368.8,739.4 L370.5,739.8 L372.1,740.2 L373.7,740.6 L375.4,740.9 L377.0,741.2 L378.6,741.5 L380.3,741.8 L381.9,742.0 L383.5,742.3 L385.2,742.5 L386.8,742.7 L388.4,742.9 L390.1,743.1 L391.7,743.3 L393.3,743.5 L395.0,743.7 L396.6,743.9 L398.3,744.1 L399.9,744.3 L401.5,744.4 L403.2,744.6 L404.8,744.7 L406.4,744.9 L408.1,745.1 L409.7,745.2 L411.3,745.3 L413.0,745.5 L414.6,745.6 L416.2,745.8 L417.9,745.9 L419.5,746.0 L421.2,746.2 L422.8,746.3 L424.4,746.4 L426.1,746.6 L427.7,746.7 L429.3,746.8 L431.0,746.9 L432.6,747.1 L434.2,747.2 L435.9,747.3 L437.5,747.4 L439.1,747.5 L440.8,747.7 L442.4,747.8 L444.1,747.9 L445.7,748.0 L447.3,748.1 L449.0,748.2 L450.6,748.3 L452.2,748.4 L453.9,748.5 L455.5,748.6 L457.1,748.7 L458.8,748.8 L460.4,749.0 L462.0,749.1 L463.7,749.2 L465.3,749.3 L466.9,749.4 L468.6,749.5 L470.2,749.6 L471.9,749.7 L473.5,749.8 L475.1,749.9 L476.8,750.0 L478.4,750.0 L480.0,750.1 L481.7,750.2 L483.3,750.3 L484.9,750.4 L486.6,750.5 L488.2,750.6 L489.8,750.7 L491.5,750.8 L493.1,750.9 L494.8,751.0 L496.4,751.1 L498.0,751.2 L499.7,751.3 L501.3,751.4 L502.9,751.4 L504.6,751.5 L506.2,751.6 L506.2,759.3 L504.6,759.2 L502.9,759.0 L501.3,758.9 L499.7,758.7 L498.0,758.6 L496.4,758.4 L494.8,758.2 L493.1,758.1 L491.5,757.9 L489.8,757.8 L488.2,757.6 L486.6,757.4 L484.9,757.3 L483.3,757.1 L481.7,757.0 L480.0,756.8 L478.4,756.6 L476.8,756.5 L475.1,756.3 L473.5,756.2 L471.9,756.0 L470.2,755.9 L468.6,755.7 L466.9,755.5 L465.3,755.4 L463.7,755.2 L462.0,755.1 L460.4,754.9 L458.8,754.7 L457.1,754.6 L455.5,754.4 L453.9,754.2 L452.2,754.0 L450.6,753.9 L449.0,753.7 L447.3,753.5 L445.7,753.3 L444.1,753.2 L442.4,753.0 L440.8,752.8 L439.1,752.6 L437.5,752.5 L435.9,752.3 L434.2,752.1 L432.6,751.9 L431.0,751.7 L429.3,751.6 L427.7,751.4 L426.1,751.2 L424.4,751.0 L422.8,750.9 L421.2,750.7 L419.5,750.5 L417.9,750.3 L416.2,750.2 L414.6,750.0 L413.0,749.8 L411.3,749.6 L409.7,749.5 L408.1,749.3 L406.4,749.1 L404.8,748.9 L403.2,748.7 L401.5,748.6 L399.9,748.4 L398.3,748.2 L396.6,748.0 L395.0,747.9 L393.3,747.7 L391.7,747.5 L390.1,747.3 L388.4,747.2 L386.8,747.0 L385.2,746.8 L383.5,746.6 L381.9,746.4 L380.3,746.3 L378.6,746.2 L377.0,746.1 L375.4,746.0 L373.7,746.0 L372.1,745.9 L370.5,745.8 L368.8,745.7 L367.2,745.7 L365.5,745.6 L363.9,745.5 L362.3,745.4 L360.6,745.4 L359.0,745.3 L357.4,745.2 L355.7,745.1 L354.1,745.1 L352.5,745.0 L350.8,744.9 L349.2,744.8 L347.6,744.8 L345.9,744.7 L344.3,744.6 L342.6,744.5 L341.0,744.4 L339.4,744.4 L337.7,744.3 L336.1,744.2 L334.5,744.1 L332.8,744.1 L331.2,744.0 L329.6,743.9 L327.9,743.8 L326.3,743.8 L324.7,743.7 L323.0,743.6 L321.4,743.5 L319.8,743.5 L318.1,743.4 L316.5,743.3 L314.8,743.2 L313.2,743.2 L311.6,743.1 L309.9,743.0 L308.3,742.9 L306.7,742.9 L305.0,742.8 L303.4,742.7 L301.8,742.6 L300.1,742.6 L298.5,742.5 L296.9,742.4 L295.2,742.3 L293.6,742.3 L291.9,742.2 L290.3,742.1 L288.7,742.0 L287.0,742.0 L285.4,741.9 L283.8,741.8 L282.1,741.7 L280.5,741.6 L278.9,741.6 L277.2,741.5 L275.6,741.4 L274.0,741.3 L272.3,741.3 L270.7,741.2 L269.0,741.1 L267.4,741.0 L265.8,741.0 L264.1,740.9 L262.5,740.8 L260.9,740.7 L259.2,740.7 L257.6,740.6 L256.0,740.5 L254.3,740.4 L252.7,740.4 L251.1,740.3 L249.4,740.2 L247.8,740.1 L246.2,740.1 L244.5,740.0 L242.9,739.9 L241.2,739.8 L239.6,739.8 L238.0,739.7 L236.3,739.6 L234.7,739.5 L233.1,739.5 L231.4,739.4 L229.8,739.3 L228.2,739.2 L226.5,739.2 L224.9,739.1 L223.3,739.0 L221.6,738.9 L220.0,738.8 L218.3,738.8 L216.7,738.7 L215.1,738.6 L213.4,738.5 L211.8,738.5 L210.2,738.4 L208.5,738.3 L206.9,738.2 L205.3,738.2 L203.6,738.1 L202.0,738.0 L200.4,737.9 L198.7,737.9 L197.1,737.8 L195.5,737.7 L193.8,737.6 L192.2,737.6 L190.5,737.5 L188.9,737.4 L187.3,737.3 L185.6,737.3 L184.0,737.2 L182.4,737.1 L180.7,737.0 L179.1,737.0 L177.5,736.9 L175.8,736.8 L174.2,736.7 L172.6,736.7 L170.9,736.6 L169.3,736.5 L167.6,736.4 L166.0,736.4 L164.4,736.3 L162.7,736.2 L161.1,736.1 L159.5,736.1 L157.8,736.0 L156.2,735.9 L154.6,735.8 L152.9,735.7 L151.3,735.7 L149.7,735.6 L148.0,735.5 L146.4,735.4 L144.7,735.4 L143.1,735.3 L141.5,735.2 L139.8,735.1 L138.2,735.1 L136.6,735.0 L134.9,734.9 L133.3,734.8 L131.7,734.8 L130.0,734.7 L128.4,734.6 L126.8,734.5 L125.1,734.5 L123.5,734.4 L121.9,734.3 L120.2,734.2 L118.6,734.2 L116.9,734.1 L115.3,734.0 L113.7,733.9 L112.0,733.9 L110.4,733.8 L108.8,733.7 L107.1,733.6 L105.5,733.6 L103.9,733.5 L102.2,733.4 L100.6,733.3 L99.0,733.3 L97.3,733.2 L95.7,733.1 L94.0,733.0 L92.4,732.9 L90.8,732.9 L89.1,732.8 L87.5,732.7 L85.9,732.6 L84.2,732.6 L82.6,732.5 Z" fill="#ff10ff" fill-opacity="1" stroke="none" stroke-width="0.8"/>
<path d="M82.6,732.5 L84.2,732.6 L85.9,732.6 L87.5,732.7 L89.1,732.8 L90.8,732.9 L92.4,732.9 L94.0,733.0 L95.7,733.1 L97.3,733.2 L99.0,733.3 L100.6,733.3 L102.2,733.4 L103.9,733.5 L105.5,733.6 L107.1,733.6 L108.8,733.7 L110.4,733.8 L112.0,733.9 L113.7,733.9 L115.3,734.0 L116.9,734.1 L118.6,734.2 L120.2,734.2 L121.9,734.3 L123.5,734.4 L125.1,734.5 L126.8,734.5 L128.4,734.6 L130.0,734.7 L131.7,734.8 L133.3,734.8 L134.9,734.9 L136.6,735.0 L138.2,735.1 L139.8,735.1 L141.5,735.2 L143.1,735.3 L144.7,735.4 L146.4,735.4 L148.0,735.5 L149.7,735.6 L151.3,735.7 L152.9,735.7 L154.6,735.8 L156.2,735.9 L157.8,736.0 L159.5,736.1 L161.1,736.1 L162.7,736.2 L164.4,736.3 L166.0,736.4 L167.6,736.4 L169.3,736.5 L170.9,736.6 L172.6,736.7 L174.2,736.7 L175.8,736.8 L177.5,736.9 L179.1,737.0 L180.7,737.0 L182.4,737.1 L184.0,737.2 L185.6,737.3 L187.3,737.3 L188.9,737.4 L190.5,737.4 L192.2,737.5 L193.8,737.6 L195.5,737.6 L197.1,737.7 L198.7,737.8 L200.4,737.8 L202.0,737.9 L203.6,737.9 L205.3,738.0 L206.9,738.1 L208.5,738.1 L210.2,738.2 L211.8,738.2 L213.4,738.3 L215.1,738.3 L216.7,738.4 L218.3,738.4 L220.0,738.5 L221.6,738.6 L223.3,738.6 L224.9,738.7 L226.5,738.7 L228.2,738.7 L229.8,738.8 L231.4,738.8 L233.1,738.9 L234.7,738.9 L236.3,739.0 L238.0,739.0 L239.6,739.0 L241.2,739.1 L242.9,739.1 L244.5,739.1 L246.2,739.1 L247.8,739.2 L249.4,739.2 L251.1,739.2 L252.7,739.2 L254.3,739.2 L256.0,739.2 L257.6,739.1 L259.2,739.1 L260.9,739.0 L262.5,739.0 L264.1,738.9 L265.8,738.7 L267.4,738.6 L269.0,738.4 L270.7,738.1 L272.3,737.8 L274.0,737.5 L275.6,737.1 L277.2,736.6 L278.9,736.0 L280.5,735.3 L282.1,734.5 L283.8,733.5 L285.4,732.5 L287.0,731.3 L288.7,729.9 L290.3,728.3 L291.9,726.6 L293.6,724.7 L295.2,722.5 L296.9,720.2 L298.5,717.7 L300.1,715.0 L301.8,712.0 L303.4,708.9 L305.0,705.6 L306.7,702.1 L308.3,698.5 L309.9,694.8 L311.6,691.0 L313.2,687.2 L314.8,683.4 L316.5,679.6 L318.1,675.9 L319.8,672.4 L321.4,669.1 L323.0,666.0 L324.7,663.3 L326.3,660.9 L327.9,659.0 L329.6,657.5 L331.2,656.5 L332.8,656.1 L334.5,656.1 L336.1,656.6 L337.7,657.4 L339.4,658.5 L341.0,659.9 L342.6,661.7 L344.3,663.7 L345.9,665.9 L347.6,668.4 L349.2,671.1 L350.8,673.9 L352.5,676.8 L354.1,679.9 L355.7,683.0 L357.4,686.2 L359.0,689.4 L360.6,692.6 L362.3,695.7 L363.9,698.9 L365.5,701.9 L367.2,704.9 L368.8,707.9 L370.5,710.7 L372.1,713.4 L373.7,716.0 L375.4,718.4 L377.0,720.8 L378.6,723.0 L380.3,725.1 L381.9,727.0 L383.5,728.8 L385.2,730.5 L386.8,732.1 L388.4,733.6 L390.1,734.9 L391.7,736.1 L393.3,737.2 L395.0,738.3 L396.6,739.2 L398.3,740.0 L399.9,740.8 L401.5,741.5 L403.2,742.1 L404.8,742.7 L406.4,743.2 L408.1,743.7 L409.7,744.1 L411.3,744.5 L413.0,744.8 L414.6,745.2 L416.2,745.5 L417.9,745.7 L419.5,746.0 L421.2,746.2 L422.8,746.4 L424.4,746.6 L426.1,746.8 L427.7,747.0 L429.3,747.1 L431.0,747.3 L432.6,747.4 L434.2,747.6 L435.9,747.7 L437.5,747.8 L439.1,748.0 L440.8,748.1 L442.4,748.2 L444.1,748.3 L445.7,748.5 L447.3,748.6 L449.0,748.7 L450.6,748.8 L452.2,748.9 L453.9,749.0 L455.5,749.1 L457.1,749.2 L458.8,749.3 L460.4,749.4 L462.0,749.5 L463.7,749.6 L465.3,749.7 L466.9,749.8 L468.6,749.9 L470.2,750.0 L471.9,750.1 L473.5,750.2 L475.1,750.3 L476.8,750.4 L478.4,750.5 L480.0,750.6 L481.7,750.7 L483.3,750.8 L484.9,750.9 L486.6,750.9 L488.2,751.0 L489.8,751.1 L491.5,751.2 L493.1,751.3 L494.8,751.4 L496.4,751.5 L498.0,751.6 L499.7,751.7 L501.3,751.7 L502.9,751.8 L504.6,751.9 L506.2,752.0 L506.2,752.1 L504.6,752.0 L502.9,751.9 L501.3,751.9 L499.7,751.8 L498.0,751.7 L496.4,751.6 L494.8,751.6 L493.1,751.5 L491.5,751.4 L489.8,751.3 L488.2,751.3 L486.6,751.2 L484.9,751.1 L483.3,751.0 L481.7,751.0 L480.0,750.9 L478.4,750.8 L476.8,750.7 L475.1,750.7 L473.5,750.6 L471.9,750.5 L470.2,750.4 L468.6,750.3 L466.9,750.3 L465.3,750.2 L463.7,750.1 L462.0,750.0 L460.4,750.0 L458.8,749.9 L457.1,749.8 L455.5,749.7 L453.9,749.7 L452.2,749.6 L450.6,749.5 L449.0,749.4 L447.3,749.4 L445.7,749.3 L444.1,749.2 L442.4,749.1 L440.8,749.1 L439.1,749.0 L437.5,748.9 L435.9,748.8 L434.2,748.8 L432.6,748.7 L431.0,748.6 L429.3,748.5 L427.7,748.5 L426.1,748.4 L424.4,748.3 L422.8,748.2 L421.2,748.2 L419.5,748.1 L417.9,748.0 L416.2,747.9 L414.6,747.9 L413.0,747.8 L411.3,747.7 L409.7,747.6 L408.1,747.5 L406.4,747.5 L404.8,747.4 L403.2,747.3 L401.5,747.2 L399.9,747.2 L398.3,747.1 L396.6,747.0 L395.0,746.9 L393.3,746.9 L391.7,746.8 L390.1,746.7 L388.4,746.6 L386.8,746.6 L385.2,746.5 L383.5,746.4 L381.9,746.3 L380.3,746.3 L378.6,746.2 L377.0,746.1 L375.4,746.0 L373.7,746.0 L372.1,745.9 L370.5,745.8 L368.8,745.7 L367.2,745.7 L365.5,745.6 L363.9,745.5 L362.3,745.4 L360.6,745.4 L359.0,745.3 L357.4,745.2 L355.7,745.1 L354.1,745.1 L352.5,745.0 L350.8,744.9 L349.2,744.8 L347.6,744.8 L345.9,744.7 L344.3,744.6 L342.6,744.5 L341.0,744.4 L339.4,744.4 L337.7,744.3 L336.1,744.2 L334.5,744.1 L332.8,744.1 L331.2,744.0 L329.6,743.9 L327.9,743.8 L326.3,743.8 L324.7,743.7 L323.0,743.6 L321.4,743.5 L319.8,743.5 L318.1,743.4 L316.5,743.3 L314.8,743.2 L313.2,743.2 L311.6,743.1 L309.9,743.0 L308.3,742.9 L306.7,742.9 L305.0,742.8 L303.4,742.7 L301.8,742.6 L300.1,742.6 L298.5,742.5 L296.9,742.4 L295.2,742.3 L293.6,742.3 L291.9,742.2 L290.3,742.1 L288.7,742.0 L287.0,742.0 L285.4,741.9 L283.8,741.8 L282.1,741.7 L280.5,741.6 L278.9,741.6 L277.2,741.5 L275.6,741.4 L274.0,741.3 L272.3,741.3 L270.7,741.2 L269.0,741.1 L267.4,741.0 L265.8,741.0 L264.1,740.9 L262.5,740.8 L260.9,740.7 L259.2,740.7 L257.6,740.6 L256.0,740.5 L254.3,740.4 L252.7,740.4 L251.1,740.3 L249.4,740.2 L247.8,740.1 L246.2,740.1 L244.5,740.0 L242.9,739.9 L241.2,739.8 L239.6,739.8 L238.0,739.7 L236.3,739.6 L234.7,739.5 L233.1,739.5 L231.4,739.4 L229.8,739.3 L228.2,739.2 L226.5,739.2 L224.9,739.1 L223.3,739.0 L221.6,738.9 L220.0,738.8 L218.3,738.8 L216.7,738.7 L215.1,738.6 L213.4,738.5 L211.8,738.5 L210.2,738.4 L208.5,738.3 L206.9,738.2 L205.3,738.2 L203.6,738.1 L202.0,738.0 L200.4,737.9 L198.7,737.9 L197.1,737.8 L195.5,737.7 L193.8,737.6 L192.2,737.6 L190.5,737.5 L188.9,737.4 L187.3,737.3 L185.6,737.3 L184.0,737.2 L182.4,737.1 L180.7,737.0 L179.1,737.0 L177.5,736.9 L175.8,736.8 L174.2,736.7 L172.6,736.7 L170.9,736.6 L169.3,736.5 L167.6,736.4 L166.0,736.4 L164.4,736.3 L162.7,736.2 L161.1,736.1 L159.5,736.1 L157.8,736.0 L156.2,735.9 L154.6,735.8 L152.9,735.7 L151.3,735.7 L149.7,735.6 L148.0,735.5 L146.4,735.4 L144.7,735.4 L143.1,735.3 L141.5,735.2 L139.8,735.1 L138.2,735.1 L136.6,735.0 L134.9,734.9 L133.3,734.8 L131.7,734.8 L130.0,734.7 L128.4,734.6 L126.8,734.5 L125.1,734.5 L123.5,734.4 L121.9,734.3 L120.2,734.2 L118.6,734.2 L116.9,734.1 L115.3,734.0 L113.7,733.9 L112.0,733.9 L110.4,733.8 L108.8,733.7 L107.1,733.6 L105.5,733.6 L103.9,733.5 L102.2,733.4 L100.6,733.3 L99.0,733.3 L97.3,733.2 L95.7,733.1 L94.0,733.0 L92.4,732.9 L90.8,732.9 L89.1,732.8 L87.5,732.7 L85.9,732.6 L84.2,732.6 L82.6,732.5 Z" fill="#008000" fill-opacity="0.835" stroke="none" stroke-width="0.8"/>
<path d="M82.6,732.5 L84.2,732.6 L85.9,732.6 L87.5,732.7 L89.1,732.8 L90.8,732.9 L92.4,732.9 L94.0,733.0 L95.7,733.1 L97.3,733.2 L99.0,733.3 L100.6,733.3 L102.2,733.4 L103.9,733.5 L105.5,733.6 L107.1,733.6 L108.8,733.7 L110.4,733.8 L112.0,733.9 L113.7,733.9 L115.3,734.0 L116.9,734.1 L118.6,734.2 L120.2,734.2 L121.9,734.3 L123.5,734.4 L125.1,734.5 L126.8,734.5 L128.4,734.6 L130.0,734.7 L131.7,734.8 L133.3,734.8 L134.9,734.9 L136.6,735.0 L138.2,735.1 L139.8,735.1 L141.5,735.2 L143.1,735.3 L144.7,735.4 L146.4,735.4 L148.0,735.5 L149.7,735.6 L151.3,735.7 L152.9,735.7 L154.6,735.8 L156.2,735.9 L157.8,736.0 L159.5,736.1 L161.1,736.1 L162.7,736.2 L164.4,736.3 L166.0,736.4 L167.6,736.4 L169.3,736.5 L170.9,736.6 L172.6,736.7 L174.2,736.7 L175.8,736.8 L177.5,736.9 L179.1,737.0 L180.7,737.0 L182.4,737.1 L184.0,737.2 L185.6,737.3 L187.3,737.3 L188.9,737.4 L190.5,737.5 L192.2,737.6 L193.8,737.6 L195.5,737.7 L197.1,737.8 L198.7,737.9 L200.4,737.9 L202.0,738.0 L203.6,738.1 L205.3,738.2 L206.9,738.2 L208.5,738.3 L210.2,738.4 L211.8,738.5 L213.4,738.5 L215.1,738.6 L216.7,738.7 L218.3,738.8 L220.0,738.8 L221.6,738.9 L223.3,739.0 L224.9,739.1 L226.5,739.2 L228.2,739.2 L229.8,739.3 L231.4,739.4 L233.1,739.5 L234.7,739.5 L236.3,739.6 L238.0,739.7 L239.6,739.8 L241.2,739.8 L242.9,739.9 L244.5,740.0 L246.2,740.1 L247.8,740.1 L249.4,740.2 L251.1,740.3 L252.7,740.4 L254.3,740.4 L256.0,740.5 L257.6,740.6 L259.2,740.6 L260.9,740.7 L262.5,740.8 L264.1,740.8 L265.8,740.9 L267.4,740.9 L269.0,741.0 L270.7,741.1 L272.3,741.1 L274.0,741.2 L275.6,741.2 L277.2,741.3 L278.9,741.4 L280.5,741.4 L282.1,741.5 L283.8,741.5 L285.4,741.6 L287.0,741.7 L288.7,741.7 L290.3,741.8 L291.9,741.8 L293.6,741.9 L295.2,741.9 L296.9,742.0 L298.5,742.0 L300.1,742.1 L301.8,742.1 L303.4,742.2 L305.0,742.2 L306.7,742.2 L308.3,742.3 L309.9,742.3 L311.6,742.4 L313.2,742.4 L314.8,742.4 L316.5,742.5 L318.1,742.5 L319.8,742.5 L321.4,742.6 L323.0,742.6 L324.7,742.6 L326.3,742.6 L327.9,742.6 L329.6,742.6 L331.2,742.6 L332.8,742.6 L334.5,742.6 L336.1,742.6 L337.7,742.6 L339.4,742.6 L341.0,742.5 L342.6,742.4 L344.3,742.4 L345.9,742.3 L347.6,742.1 L349.2,742.0 L350.8,741.8 L352.5,741.6 L354.1,741.3 L355.7,741.0 L357.4,740.6 L359.0,740.1 L360.6,739.6 L362.3,738.9 L363.9,738.2 L365.5,737.3 L367.2,736.3 L368.8,735.2 L370.5,733.9 L372.1,732.5 L373.7,730.9 L375.4,729.1 L377.0,727.1 L378.6,725.0 L380.3,722.6 L381.9,720.1 L383.5,717.4 L385.2,714.5 L386.8,711.4 L388.4,708.2 L390.1,705.0 L391.7,701.6 L393.3,698.2 L395.0,694.8 L396.6,691.4 L398.3,688.2 L399.9,685.1 L401.5,682.2 L403.2,679.6 L404.8,677.4 L406.4,675.6 L408.1,674.2 L409.7,673.3 L411.3,673.0 L413.0,673.2 L414.6,674.2 L416.2,675.9 L417.9,678.2 L419.5,681.0 L421.2,684.3 L422.8,687.9 L424.4,691.7 L426.1,695.7 L427.7,699.8 L429.3,703.9 L431.0,707.9 L432.6,711.8 L434.2,715.6 L435.9,719.1 L437.5,722.5 L439.1,725.6 L440.8,728.4 L442.4,731.0 L444.1,733.3 L445.7,735.4 L447.3,737.3 L449.0,738.9 L450.6,740.4 L452.2,741.6 L453.9,742.7 L455.5,743.7 L457.1,744.5 L458.8,745.2 L460.4,745.8 L462.0,746.4 L463.7,746.8 L465.3,747.2 L466.9,747.6 L468.6,747.9 L470.2,748.2 L471.9,748.4 L473.5,748.7 L475.1,748.9 L476.8,749.1 L478.4,749.3 L480.0,749.4 L481.7,749.6 L483.3,749.8 L484.9,749.9 L486.6,750.1 L488.2,750.2 L489.8,750.3 L491.5,750.5 L493.1,750.6 L494.8,750.7 L496.4,750.9 L498.0,751.0 L499.7,751.1 L501.3,751.2 L502.9,751.3 L504.6,751.4 L506.2,751.6 L506.2,755.8 L504.6,755.7 L502.9,755.6 L501.3,755.5 L499.7,755.5 L498.0,755.4 L496.4,755.3 L494.8,755.2 L493.1,755.2 L491.5,755.1 L489.8,755.0 L488.2,755.0 L486.6,754.9 L484.9,754.8 L483.3,754.7 L481.7,754.7 L480.0,754.6 L478.4,754.5 L476.8,754.4 L475.1,754.4 L473.5,754.3 L471.9,754.2 L470.2,754.1 L468.6,754.1 L466.9,754.0 L465.3,753.9 L463.7,753.8 L462.0,753.8 L460.4,753.7 L458.8,753.6 L457.1,753.5 L455.5,753.5 L453.9,753.4 L452.2,753.3 L450.6,753.2 L449.0,753.2 L447.3,753.1 L445.7,753.0 L444.1,752.9 L442.4,752.9 L440.8,752.8 L439.1,752.7 L437.5,752.6 L435.9,752.6 L434.2,752.5 L432.6,752.4 L431.0,752.3 L429.3,752.3 L427.7,752.2 L426.1,752.1 L424.4,752.0 L422.8,752.0 L421.2,751.9 L419.5,751.8 L417.9,751.7 L416.2,751.7 L414.6,751.6 L413.0,751.5 L411.3,751.4 L409.7,751.4 L408.1,751.3 L406.4,751.2 L404.8,751.1 L403.2,751.1 L401.5,751.0 L399.9,750.9 L398.3,750.8 L396.6,750.8 L395.0,750.7 L393.3,750.6 L391.7,750.5 L390.1,750.5 L388.4,750.4 L386.8,750.3 L385.2,750.2 L383.5,750.2 L381.9,750.1 L380.3,750.0 L378.6,749.9 L377.0,749.9 L375.4,749.8 L373.7,749.7 L372.1,749.6 L370.5,749.6 L368.8,749.5 L367.2,749.4 L365.5,749.3 L363.9,749.3 L362.3,749.2 L360.6,749.1 L359.0,749.0 L357.4,749.0 L355.7,748.9 L354.1,748.8 L352.5,748.7 L350.8,748.7 L349.2,748.6 L347.6,748.5 L345.9,748.4 L344.3,748.4 L342.6,748.3 L341.0,748.2 L339.4,748.1 L337.7,748.1 L336.1,748.0 L334.5,747.9 L332.8,747.8 L331.2,747.8 L329.6,747.7 L327.9,747.6 L326.3,747.5 L324.7,747.5 L323.0,747.4 L321.4,747.3 L319.8,747.2 L318.1,747.2 L316.5,747.1 L314.8,747.0 L313.2,746.9 L311.6,746.9 L309.9,746.8 L308.3,746.7 L306.7,746.6 L305.0,746.6 L303.4,746.5 L301.8,746.4 L300.1,746.3 L298.5,746.3 L296.9,746.2 L295.2,746.1 L293.6,746.0 L291.9,746.0 L290.3,745.9 L288.7,745.8 L287.0,745.7 L285.4,745.7 L283.8,745.6 L282.1,745.5 L280.5,745.4 L278.9,745.4 L277.2,745.3 L275.6,745.2 L274.0,745.1 L272.3,745.1 L270.7,745.0 L269.0,744.9 L267.4,744.8 L265.8,744.8 L264.1,744.7 L262.5,744.6 L260.9,744.5 L259.2,744.5 L257.6,744.4 L256.0,744.3 L254.3,744.2 L252.7,744.2 L251.1,744.1 L249.4,744.0 L247.8,743.9 L246.2,743.9 L244.5,743.8 L242.9,743.7 L241.2,743.6 L239.6,743.6 L238.0,743.5 L236.3,743.4 L234.7,743.3 L233.1,743.3 L231.4,743.2 L229.8,743.1 L228.2,743.0 L226.5,743.0 L224.9,742.9 L223.3,742.8 L221.6,742.7 L220.0,742.7 L218.3,742.6 L216.7,742.5 L215.1,742.4 L213.4,742.4 L211.8,742.3 L210.2,742.2 L208.5,742.2 L206.9,742.1 L205.3,742.0 L203.6,741.9 L202.0,741.9 L200.4,741.8 L198.7,741.7 L197.1,741.6 L195.5,741.6 L193.8,741.5 L192.2,741.4 L190.5,741.3 L188.9,741.3 L187.3,741.2 L185.6,741.1 L184.0,741.0 L182.4,741.0 L180.7,740.9 L179.1,740.8 L177.5,740.7 L175.8,740.7 L174.2,740.6 L172.6,740.5 L170.9,740.4 L169.3,740.4 L167.6,740.3 L166.0,740.2 L164.4,740.1 L162.7,740.1 L161.1,740.0 L159.5,739.9 L157.8,739.8 L156.2,739.8 L154.6,739.7 L152.9,739.6 L151.3,739.5 L149.7,739.5 L148.0,739.4 L146.4,739.3 L144.7,739.2 L143.1,739.2 L141.5,739.1 L139.8,739.0 L138.2,738.9 L136.6,738.9 L134.9,738.8 L133.3,738.7 L131.7,738.6 L130.0,738.6 L128.4,738.5 L126.8,738.4 L125.1,738.3 L123.5,738.3 L121.9,738.2 L120.2,738.1 L118.6,738.0 L116.9,738.0 L115.3,737.9 L113.7,737.8 L112.0,737.7 L110.4,737.7 L108.8,737.6 L107.1,737.5 L105.5,737.4 L103.9,737.4 L102.2,737.3 L100.6,737.2 L99.0,737.1 L97.3,737.1 L95.7,737.0 L94.0,736.9 L92.4,736.8 L90.8,736.8 L89.1,736.7 L87.5,736.6 L85.9,736.5 L84.2,736.5 L82.6,736.4 Z" fill="#000080" fill-opacity="1" stroke="none" stroke-width="0.8"/>
<path d="M82.6,723.7 L84.2,723.6 L85.9,723.5 L87.5,723.3 L89.1,723.2 L90.8,723.1 L92.4,722.9 L94.0,722.7 L95.7,722.6 L97.3,722.4 L99.0,722.2 L100.6,722.0 L102.2,721.8 L103.9,721.5 L105.5,721.3 L107.1,721.0 L108.8,720.7 L110.4,720.4 L112.0,720.1 L113.7,719.8 L115.3,719.4 L116.9,719.0 L118.6,718.6 L120.2,718.1 L121.9,717.7 L123.5,717.2 L125.1,716.6 L126.8,716.0 L128.4,715.4 L130.0,714.7 L131.7,714.0 L133.3,713.2 L134.9,712.4 L136.6,711.5 L138.2,710.6 L139.8,709.6 L141.5,708.5 L143.1,707.3 L144.7,706.1 L146.4,704.8 L148.0,703.4 L149.7,701.9 L151.3,700.4 L152.9,698.7 L154.6,696.9 L156.2,695.0 L157.8,693.1 L159.5,691.0 L161.1,688.7 L162.7,686.4 L164.4,683.9 L166.0,681.3 L167.6,678.6 L169.3,675.7 L170.9,672.7 L172.6,669.6 L174.2,666.3 L175.8,662.9 L177.5,659.4 L179.1,655.7 L180.7,651.8 L182.4,647.9 L184.0,643.8 L185.6,639.5 L187.3,635.2 L188.9,630.7 L190.5,626.1 L192.2,621.4 L193.8,616.6 L195.5,611.8 L197.1,606.8 L198.7,601.8 L200.4,596.7 L202.0,591.5 L203.6,586.4 L205.3,581.2 L206.9,576.1 L208.5,571.0 L210.2,565.9 L211.8,561.0 L213.4,556.1 L215.1,551.4 L216.7,546.9 L218.3,542.5 L220.0,538.4 L221.6,534.5 L223.3,531.0 L224.9,527.7 L226.5,524.8 L228.2,522.3 L229.8,520.2 L231.4,518.5 L233.1,517.2 L234.7,516.5 L236.3,516.2 L238.0,516.3 L239.6,517.0 L241.2,518.2 L242.9,519.9 L244.5,522.1 L246.2,524.8 L247.8,528.0 L249.4,531.6 L251.1,535.6 L252.7,540.0 L254.3,544.8 L256.0,550.0 L257.6,555.4 L259.2,561.1 L260.9,567.0 L262.5,573.1 L264.1,579.4 L265.8,585.9 L267.4,592.4 L269.0,599.0 L270.7,605.6 L272.3,612.2 L274.0,618.8 L275.6,625.4 L277.2,631.9 L278.9,638.2 L280.5,644.4 L282.1,650.5 L283.8,656.4 L285.4,662.1 L287.0,667.7 L288.7,673.0 L290.3,678.1 L291.9,683.0 L293.6,687.6 L295.2,692.0 L296.9,696.2 L298.5,700.2 L300.1,703.9 L301.8,707.4 L303.4,710.6 L305.0,713.7 L306.7,716.5 L308.3,719.2 L309.9,721.6 L311.6,723.9 L313.2,726.0 L314.8,727.9 L316.5,729.7 L318.1,731.3 L319.8,732.7 L321.4,734.1 L323.0,735.3 L324.7,736.4 L326.3,737.4 L327.9,738.3 L329.6,739.1 L331.2,739.9 L332.8,740.5 L334.5,741.1 L336.1,741.7 L337.7,742.1 L339.4,742.6 L341.0,743.0 L342.6,743.3 L344.3,743.6 L345.9,743.9 L347.6,744.2 L349.2,744.4 L350.8,744.6 L352.5,744.8 L354.1,745.0 L355.7,745.1 L357.4,745.2 L359.0,745.3 L360.6,745.4 L362.3,745.4 L363.9,745.5 L365.5,745.6 L367.2,745.7 L368.8,745.7 L370.5,745.8 L372.1,745.9 L373.7,746.0 L375.4,746.0 L377.0,746.1 L378.6,746.2 L380.3,746.3 L381.9,746.3 L383.5,746.4 L385.2,746.5 L386.8,746.6 L388.4,746.6 L390.1,746.7 L391.7,746.8 L393.3,746.9 L395.0,746.9 L396.6,747.0 L398.3,747.1 L399.9,747.2 L401.5,747.2 L403.2,747.3 L404.8,747.4 L406.4,747.5 L408.1,747.5 L409.7,747.6 L411.3,747.7 L413.0,747.8 L414.6,747.9 L416.2,747.9 L417.9,748.0 L419.5,748.1 L421.2,748.2 L422.8,748.2 L424.4,748.3 L426.1,748.4 L427.7,748.5 L429.3,748.5 L431.0,748.6 L432.6,748.7 L434.2,748.8 L435.9,748.8 L437.5,748.9 L439.1,749.0 L440.8,749.1 L442.4,749.1 L444.1,749.2 L445.7,749.3 L447.3,749.4 L449.0,749.4 L450.6,749.5 L452.2,749.6 L453.9,749.7 L455.5,749.7 L457.1,749.8 L458.8,749.9 L460.4,750.0 L462.0,750.0 L463.7,750.1 L465.3,750.2 L466.9,750.3 L468.6,750.3 L470.2,750.4 L471.9,750.5 L473.5,750.6 L475.1,750.7 L476.8,750.7 L478.4,750.8 L480.0,750.9 L481.7,751.0 L483.3,751.0 L484.9,751.1 L486.6,751.2 L488.2,751.3 L489.8,751.3 L491.5,751.4 L493.1,751.5 L494.8,751.6 L496.4,751.6 L498.0,751.7 L499.7,751.8 L501.3,751.9 L502.9,751.9 L504.6,752.0 L506.2,752.1 L506.2,752.1 L504.6,752.0 L502.9,751.9 L501.3,751.9 L499.7,751.8 L498.0,751.7 L496.4,751.6 L494.8,751.6 L493.1,751.5 L491.5,751.4 L489.8,751.3 L488.2,751.3 L486.6,751.2 L484.9,751.1 L483.3,751.0 L481.7,751.0 L480.0,750.9 L478.4,750.8 L476.8,750.7 L475.1,750.7 L473.5,750.6 L471.9,750.5 L470.2,750.4 L468.6,750.3 L466.9,750.3 L465.3,750.2 L463.7,750.1 L462.0,750.0 L460.4,750.0 L458.8,749.9 L457.1,749.8 L455.5,749.7 L453.9,749.7 L452.2,749.6 L450.6,749.5 L449.0,749.4 L447.3,749.4 L445.7,749.3 L444.1,749.2 L442.4,749.1 L440.8,749.1 L439.1,749.0 L437.5,748.9 L435.9,748.8 L434.2,748.8 L432.6,748.7 L431.0,748.6 L429.3,748.5 L427.7,748.5 L426.1,748.4 L424.4,748.3 L422.8,748.2 L421.2,748.2 L419.5,748.1 L417.9,748.0 L416.2,747.9 L414.6,747.9 L413.0,747.8 L411.3,747.7 L409.7,747.6 L408.1,747.5 L406.4,747.5 L404.8,747.4 L403.2,747.3 L401.5,747.2 L399.9,747.2 L398.3,747.1 L396.6,747.0 L395.0,746.9 L393.3,746.9 L391.7,746.8 L390.1,746.7 L388.4,746.6 L386.8,746.6 L385.2,746.5 L383.5,746.4 L381.9,746.3 L380.3,746.3 L378.6,746.2 L377.0,746.1 L375.4,746.0 L373.7,746.0 L372.1,745.9 L370.5,745.8 L368.8,745.7 L367.2,745.7 L365.5,745.6 L363.9,745.5 L362.3,745.4 L360.6,745.4 L359.0,745.3 L357.4,745.2 L355.7,745.1 L354.1,745.1 L352.5,745.0 L350.8,744.9 L349.2,744.8 L347.6,744.8 L345.9,744.7 L344.3,744.6 L342.6,744.5 L341.0,744.4 L339.4,744.4 L337.7,744.3 L336.1,744.2 L334.5,744.1 L332.8,744.1 L331.2,744.0 L329.6,743.9 L327.9,743.8 L326.3,743.8 L324.7,743.7 L323.0,743.6 L321.4,743.5 L319.8,743.5 L318.1,743.4 L316.5,743.3 L314.8,743.2 L313.2,743.2 L311.6,743.1 L309.9,743.0 L308.3,742.9 L306.7,742.9 L305.0,742.8 L303.4,742.7 L301.8,742.6 L300.1,742.6 L298.5,742.5 L296.9,742.4 L295.2,742.3 L293.6,742.3 L291.9,742.2 L290.3,742.1 L288.7,742.0 L287.0,742.0 L285.4,741.9 L283.8,741.8 L282.1,741.7 L280.5,741.6 L278.9,741.6 L277.2,741.5 L275.6,741.4 L274.0,741.3 L272.3,741.3 L270.7,741.2 L269.0,741.1 L267.4,741.0 L265.8,741.0 L264.1,740.9 L262.5,740.8 L260.9,740.7 L259.2,740.7 L257.6,740.6 L256.0,740.5 L254.3,740.4 L252.7,740.4 L251.1,740.3 L249.4,740.2 L247.8,740.1 L246.2,740.1 L244.5,740.0 L242.9,739.9 L241.2,739.8 L239.6,739.8 L238.0,739.7 L236.3,739.6 L234.7,739.5 L233.1,739.5 L231.4,739.4 L229.8,739.3 L228.2,739.2 L226.5,739.2 L224.9,739.1 L223.3,739.0 L221.6,738.9 L220.0,738.8 L218.3,738.8 L216.7,738.7 L215.1,738.6 L213.4,738.5 L211.8,738.5 L210.2,738.4 L208.5,738.3 L206.9,738.2 L205.3,738.2 L203.6,738.1 L202.0,738.0 L200.4,737.9 L198.7,737.9 L197.1,737.8 L195.5,737.7 L193.8,737.6 L192.2,737.6 L190.5,737.5 L188.9,737.4 L187.3,737.3 L185.6,737.3 L184.0,737.2 L182.4,737.1 L180.7,737.0 L179.1,737.0 L177.5,736.9 L175.8,736.8 L174.2,736.7 L172.6,736.7 L170.9,736.6 L169.3,736.5 L167.6,736.4 L166.0,736.4 L164.4,736.3 L162.7,736.2 L161.1,736.1 L159.5,736.1 L157.8,736.0 L156.2,735.9 L154.6,735.8 L152.9,735.7 L151.3,735.7 L149.7,735.6 L148.0,735.5 L146.4,735.4 L144.7,735.4 L143.1,735.3 L141.5,735.2 L139.8,735.1 L138.2,735.1 L136.6,735.0 L134.9,734.9 L133.3,734.8 L131.7,734.8 L130.0,734.7 L128.4,734.6 L126.8,734.5 L125.1,734.5 L123.5,734.4 L121.9,734.3 L120.2,734.2 L118.6,734.2 L116.9,734.1 L115.3,734.0 L113.7,733.9 L112.0,733.9 L110.4,733.8 L108.8,733.7 L107.1,733.6 L105.5,733.6 L103.9,733.5 L102.2,733.4 L100.6,733.3 L99.0,733.3 L97.3,733.2 L95.7,733.1 L94.0,733.0 L92.4,732.9 L90.8,732.9 L89.1,732.8 L87.5,732.7 L85.9,732.6 L84.2,732.6 L82.6,732.5 Z" fill="#ff7f00" fill-opacity="0.71" stroke="none" stroke-width="0.8"/>
<path d="M82.6,730.8 L85.6,729.7 L88.6,727.9 L91.6,726.3 L94.6,724.4 L97.6,723.2 L100.6,722.2 L103.6,720.2 L106.6,718.8 L109.6,716.7 L112.6,714.9 L115.6,713.0 L118.6,710.1 L121.6,709.4 L124.6,707.2 L127.6,705.0 L130.6,701.6 L133.6,699.3 L136.6,697.3 L139.6,695.1 L142.6,692.9 L145.6,690.0 L148.6,687.6 L151.6,684.1 L154.6,681.8 L157.6,678.8 L160.6,674.8 L163.6,672.0 L166.6,666.6 L169.6,661.8 L172.6,655.6 L175.6,650.3 L178.6,645.0 L181.6,639.3 L184.6,632.9 L187.6,625.3 L190.6,617.4 L193.6,608.9 L196.6,599.5 L199.6,588.8 L202.6,576.6 L205.6,566.6 L208.6,557.4 L211.6,547.6 L214.6,539.3 L217.6,530.7 L220.6,519.9 L223.6,511.9 L226.6,503.6 L229.6,495.0 L232.6,487.7 L235.6,479.9 L238.6,472.8 L241.6,469.1 L244.6,464.8 L247.6,461.3 L250.6,458.5 L253.6,455.8 L256.6,456.1 L259.6,456.2 L262.6,457.9 L265.6,458.0 L268.6,462.4 L271.6,465.7 L274.6,468.6 L277.6,472.3 L280.6,477.4 L283.6,480.1 L286.6,485.0 L289.6,490.9 L292.6,497.5 L295.6,503.9 L298.6,508.9 L301.6,514.1 L304.6,520.9 L307.6,526.1 L310.6,531.8 L313.6,539.0 L316.6,545.4 L319.6,551.3 L322.6,558.0 L325.6,564.9 L328.6,572.3 L331.6,578.7 L334.6,585.4 L337.6,592.2 L340.6,597.9 L343.6,606.0 L346.6,611.9 L349.6,617.0 L352.6,620.5 L355.6,625.8 L358.6,631.1 L361.6,634.3 L364.6,639.6 L367.6,644.6 L370.6,646.9 L373.6,650.9 L376.6,652.2 L379.6,652.9 L382.6,653.5 L385.6,653.2 L388.6,652.3 L391.6,652.2 L394.6,650.6 L397.6,649.9 L400.6,649.9 L403.6,648.6 L406.6,647.5 L409.6,648.0 L412.6,648.3 L415.6,648.9 L418.6,650.9 L421.6,654.5 L424.6,658.4 L427.6,663.4 L430.6,669.3 L433.6,673.3 L436.6,679.6 L439.6,684.1 L442.6,690.7 L445.6,698.3 L448.6,705.5 L451.6,711.9 L454.6,717.6 L457.6,722.6 L460.6,727.3 L463.6,732.0 L466.6,735.9 L469.6,740.2 L472.6,744.0 L475.6,746.5 L478.6,748.9 L481.6,750.3 L484.6,752.3 L487.6,752.1 L490.6,752.2 L493.6,752.7 L496.6,753.3 L499.6,754.1 L502.6,753.9 L505.6,754.6" fill="none" stroke="#111" stroke-width="2.6" stroke-linejoin="round"/>
<path d="M82.6,720.3 L83.6,720.1 L84.6,719.9 L85.6,719.7 L86.6,719.5 L87.6,719.3 L88.6,719.1 L89.6,718.9 L90.6,718.7 L91.6,718.4 L92.6,718.2 L93.6,717.9 L94.6,717.6 L95.6,717.3 L96.6,717.0 L97.6,716.7 L98.6,716.4 L99.6,716.0 L100.6,715.7 L101.6,715.3 L102.6,714.9 L103.6,714.5 L104.6,714.1 L105.6,713.6 L106.6,713.2 L107.6,712.8 L108.6,712.3 L109.6,711.9 L110.6,711.4 L111.6,711.0 L112.6,710.5 L113.6,710.0 L114.6,709.6 L115.6,709.1 L116.6,708.6 L117.6,708.1 L118.6,707.7 L119.6,707.2 L120.6,706.7 L121.6,706.2 L122.6,705.7 L123.6,705.2 L124.6,704.7 L125.6,704.2 L126.6,703.7 L127.6,703.2 L128.6,702.7 L129.6,702.2 L130.6,701.6 L131.6,701.1 L132.6,700.6 L133.6,700.1 L134.6,699.5 L135.6,699.0 L136.6,698.4 L137.6,697.9 L138.6,697.3 L139.6,696.8 L140.6,696.2 L141.6,695.7 L142.6,695.1 L143.6,694.6 L144.6,694.0 L145.6,693.4 L146.6,692.8 L147.6,692.2 L148.6,691.5 L149.6,690.9 L150.6,690.1 L151.6,689.4 L152.6,688.7 L153.6,687.9 L154.6,687.1 L155.6,686.3 L156.6,685.5 L157.6,684.6 L158.6,683.8 L159.6,682.9 L160.6,682.1 L161.6,681.2 L162.6,680.4 L163.6,679.5 L164.6,678.6 L165.6,677.7 L166.6,676.7 L167.6,675.6 L168.6,674.6 L169.6,673.4 L170.6,672.2 L171.6,671.0 L172.6,669.7 L173.6,668.4 L174.6,667.0 L175.6,665.6 L176.6,664.2 L177.6,662.7 L178.6,661.1 L179.6,659.4 L180.6,657.5 L181.6,655.5 L182.6,653.4 L183.6,651.2 L184.6,648.9 L185.6,646.4 L186.6,643.9 L187.6,641.3 L188.6,638.7 L189.6,635.9 L190.6,633.0 L191.6,630.0 L192.6,626.8 L193.6,623.6 L194.6,620.2 L195.6,616.7 L196.6,613.1 L197.6,609.5 L198.6,605.6 L199.6,601.6 L200.6,597.2 L201.6,592.8 L202.6,588.4 L203.6,584.0 L204.6,579.6 L205.6,575.1 L206.6,570.6 L207.6,566.2 L208.6,561.8 L209.6,557.4 L210.6,553.3 L211.6,549.3 L212.6,545.4 L213.6,541.6 L214.6,537.9 L215.6,534.1 L216.6,530.4 L217.6,526.6 L218.6,522.9 L219.6,519.2 L220.6,515.5 L221.6,511.8 L222.6,508.2 L223.6,504.6 L224.6,501.1 L225.6,497.5 L226.6,494.1 L227.6,490.9 L228.6,487.7 L229.6,484.8 L230.6,482.0 L231.6,479.5 L232.6,477.1 L233.6,475.0 L234.6,473.1 L235.6,471.4 L236.6,469.9 L237.6,468.5 L238.6,467.3 L239.6,466.2 L240.6,465.1 L241.6,464.1 L242.6,463.0 L243.6,462.0 L244.6,461.0 L245.6,460.1 L246.6,459.4 L247.6,458.8 L248.6,458.4 L249.6,458.3 L250.6,458.3 L251.6,458.5 L252.6,458.8 L253.6,459.2 L254.6,459.6 L255.6,460.1 L256.6,460.7 L257.6,461.4 L258.6,462.0 L259.6,462.7 L260.6,463.3 L261.6,464.0 L262.6,464.7 L263.6,465.3 L264.6,466.0 L265.6,466.6 L266.6,467.3 L267.6,467.9 L268.6,468.4 L269.6,469.0 L270.6,469.5 L271.6,470.0 L272.6,470.4 L273.6,470.9 L274.6,471.5 L275.6,472.0 L276.6,472.6 L277.6,473.3 L278.6,474.0 L279.6,474.9 L280.6,475.9 L281.6,476.9 L282.6,478.1 L283.6,479.4 L284.6,480.8 L285.6,482.3 L286.6,483.9 L287.6,485.6 L288.6,487.4 L289.6,489.3 L290.6,491.3 L291.6,493.5 L292.6,495.7 L293.6,498.0 L294.6,500.4 L295.6,502.8 L296.6,505.2 L297.6,507.7 L298.6,510.1 L299.6,512.5 L300.6,514.8 L301.6,517.1 L302.6,519.3 L303.6,521.4 L304.6,523.4 L305.6,525.4 L306.6,527.4 L307.6,529.4 L308.6,531.3 L309.6,533.3 L310.6,535.3 L311.6,537.2 L312.6,539.2 L313.6,541.2 L314.6,543.2 L315.6,545.2 L316.6,547.3 L317.6,549.3 L318.6,551.4 L319.6,553.5 L320.6,555.6 L321.6,557.7 L322.6,559.7 L323.6,561.8 L324.6,563.9 L325.6,566.0 L326.6,568.2 L327.6,570.3 L328.6,572.4 L329.6,574.5 L330.6,576.7 L331.6,578.8 L332.6,581.0 L333.6,583.2 L334.6,585.4 L335.6,587.6 L336.6,589.9 L337.6,592.1 L338.6,594.3 L339.6,596.5 L340.6,598.7 L341.6,600.9 L342.6,603.1 L343.6,605.2 L344.6,607.4 L345.6,609.4 L346.6,611.4 L347.6,613.3 L348.6,615.1 L349.6,616.7 L350.6,618.3 L351.6,619.9 L352.6,621.4 L353.6,623.0 L354.6,624.5 L355.6,626.0 L356.6,627.6 L357.6,629.2 L358.6,630.8 L359.6,632.3 L360.6,633.9 L361.6,635.5 L362.6,637.1 L363.6,638.7 L364.6,640.3 L365.6,641.9 L366.6,643.5 L367.6,645.0 L368.6,646.3 L369.6,647.6 L370.6,648.7 L371.6,649.7 L372.6,650.6 L373.6,651.5 L374.6,652.3 L375.6,653.1 L376.6,653.9 L377.6,654.6 L378.6,655.2 L379.6,655.7 L380.6,656.1 L381.6,656.4 L382.6,656.5 L383.6,656.5 L384.6,656.2 L385.6,655.8 L386.6,655.3 L387.6,654.9 L388.6,654.4 L389.6,653.9 L390.6,653.4 L391.6,652.9 L392.6,652.5 L393.6,652.0 L394.6,651.5 L395.6,651.0 L396.6,650.5 L397.6,650.0 L398.6,649.6 L399.6,649.1 L400.6,648.6 L401.6,648.1 L402.6,647.6 L403.6,647.1 L404.6,646.7 L405.6,646.2 L406.6,645.7 L407.6,645.3 L408.6,644.9 L409.6,644.5 L410.6,644.1 L411.6,643.9 L412.6,644.1 L413.6,644.6 L414.6,645.4 L415.6,646.4 L416.6,647.6 L417.6,648.7 L418.6,649.8 L419.6,651.1 L420.6,652.5 L421.6,654.2 L422.6,656.1 L423.6,658.3 L424.6,660.7 L425.6,663.2 L426.6,665.7 L427.6,668.2 L428.6,670.6 L429.6,673.1 L430.6,675.4 L431.6,677.7 L432.6,680.0 L433.6,682.3 L434.6,684.5 L435.6,686.8 L436.6,689.0 L437.6,691.2 L438.6,693.4 L439.6,695.6 L440.6,697.7 L441.6,699.8 L442.6,701.8 L443.6,703.8 L444.6,705.6 L445.6,707.4 L446.6,709.0 L447.6,710.6 L448.6,712.1 L449.6,713.6 L450.6,715.1 L451.6,716.5 L452.6,717.9 L453.6,719.3 L454.6,720.7 L455.6,722.1 L456.6,723.6 L457.6,724.9 L458.6,726.2 L459.6,727.4 L460.6,728.3 L461.6,729.1 L462.6,729.9 L463.6,730.6 L464.6,731.2 L465.6,731.8 L466.6,732.4 L467.6,732.9 L468.6,733.4 L469.6,733.9 L470.6,734.4 L471.6,735.0 L472.6,735.5 L473.6,736.0 L474.6,736.6 L475.6,737.1 L476.6,737.6 L477.6,738.2 L478.6,738.6 L479.6,739.1 L480.6,739.5 L481.6,739.9 L482.6,740.2 L483.6,740.6 L484.6,740.9 L485.6,741.2 L486.6,741.5 L487.6,741.8 L488.6,742.0 L489.6,742.3 L490.6,742.5 L491.6,742.8 L492.6,743.0 L493.6,743.3 L494.6,743.5 L495.6,743.7 L496.6,744.0 L497.6,744.2 L498.6,744.4 L499.6,744.6 L500.6,744.9 L501.6,745.1 L502.6,745.3 L503.6,745.5 L504.6,745.7 L505.6,745.9 L506.2,746.0" fill="none" stroke="#e8262a" stroke-width="3.0" stroke-dasharray="9.5,10"/>
</g>
<line x1="150.8" y1="531.1" x2="212.9" y2="593.1" stroke="#111" stroke-width="1.6"/>
<path d="M217.9,598.0 L210.5,594.8 L214.6,590.7 Z" fill="#111"/>
<line x1="341.4" y1="521.8" x2="290.9" y2="624.6" stroke="#111" stroke-width="1.6"/>
<path d="M287.8,630.9 L288.5,622.9 L293.7,625.4 Z" fill="#111"/>
<line x1="384.6" y1="604.1" x2="338.2" y2="648.7" stroke="#111" stroke-width="1.6"/>
<path d="M333.1,653.5 L336.5,646.2 L340.5,650.4 Z" fill="#111"/>
<line x1="464.9" y1="651.5" x2="420.4" y2="696.0" stroke="#111" stroke-width="1.6"/>
<path d="M415.5,700.9 L418.8,693.5 L422.9,697.6 Z" fill="#111"/>
<rect x="82.6" y="423.3" width="423.6" height="343.6" fill="none" stroke="#111" stroke-width="2.4"/>
<line x1="170.8" y1="766.9" x2="170.8" y2="772.9" stroke="#111" stroke-width="2.2"/>
<line x1="266.5" y1="766.9" x2="266.5" y2="772.9" stroke="#111" stroke-width="2.2"/>
<line x1="362.3" y1="766.9" x2="362.3" y2="772.9" stroke="#111" stroke-width="2.2"/>
<line x1="458.0" y1="766.9" x2="458.0" y2="772.9" stroke="#111" stroke-width="2.2"/>
<line x1="122.9" y1="766.9" x2="122.9" y2="770.4" stroke="#111" stroke-width="2.2"/>
<line x1="218.7" y1="766.9" x2="218.7" y2="770.4" stroke="#111" stroke-width="2.2"/>
<line x1="314.4" y1="766.9" x2="314.4" y2="770.4" stroke="#111" stroke-width="2.2"/>
<line x1="410.1" y1="766.9" x2="410.1" y2="770.4" stroke="#111" stroke-width="2.2"/>
<line x1="505.9" y1="766.9" x2="505.9" y2="770.4" stroke="#111" stroke-width="2.2"/>
<line x1="82.6" y1="737.2" x2="76.6" y2="737.2" stroke="#111" stroke-width="2.2"/>
<line x1="82.6" y1="663.2" x2="76.6" y2="663.2" stroke="#111" stroke-width="2.2"/>
<line x1="82.6" y1="589.2" x2="76.6" y2="589.2" stroke="#111" stroke-width="2.2"/>
<line x1="82.6" y1="515.2" x2="76.6" y2="515.2" stroke="#111" stroke-width="2.2"/>
<line x1="82.6" y1="441.2" x2="76.6" y2="441.2" stroke="#111" stroke-width="2.2"/>
<line x1="82.6" y1="700.2" x2="79.1" y2="700.2" stroke="#111" stroke-width="2.2"/>
<line x1="82.6" y1="626.2" x2="79.1" y2="626.2" stroke="#111" stroke-width="2.2"/>
<line x1="82.6" y1="552.2" x2="79.1" y2="552.2" stroke="#111" stroke-width="2.2"/>
<line x1="82.6" y1="478.2" x2="79.1" y2="478.2" stroke="#111" stroke-width="2.2"/>
<text x="170.8" y="797.5" font-size="24.0" fill="#000" text-anchor="middle">693</text>
<text x="266.5" y="797.5" font-size="24.0" fill="#000" text-anchor="middle">690</text>
<text x="362.3" y="797.5" font-size="24.0" fill="#000" text-anchor="middle">687</text>
<text x="458.0" y="797.5" font-size="24.0" fill="#000" text-anchor="middle">684</text>
<text x="71.5" y="746.0" font-size="31.0" fill="#000" text-anchor="end">4</text>
<text x="71.5" y="672.0" font-size="31.0" fill="#000" text-anchor="end">6</text>
<text x="71.5" y="598.0" font-size="31.0" fill="#000" text-anchor="end">8</text>
<text x="71.5" y="524.0" font-size="31.0" fill="#000" text-anchor="end">10</text>
<text x="71.5" y="450.0" font-size="31.0" fill="#000" text-anchor="end">12</text>
<text x="87.00" y="452.15" font-size="25.00" fill="#e8141c" stroke="#e8141c" stroke-width="0.45" textLength="39.76" lengthAdjust="spacingAndGlyphs">F1s</text>
<text x="430.20" y="450.47" font-size="23.24" fill="#e8141c" stroke="#e8141c" stroke-width="0.45" textLength="69.74" lengthAdjust="spacingAndGlyphs">3TFSI</text>
<text x="122.60" y="835.01" font-size="25.67" fill="#000" stroke="#000" stroke-width="0.45" textLength="244.94" lengthAdjust="spacingAndGlyphs">Binding Energy (eV)</text>
<text x="0" y="0" font-size="27.10" fill="#000" stroke="#000" stroke-width="0.4" textLength="236.15" lengthAdjust="spacingAndGlyphs" transform="translate(28.50 716.00) rotate(-90)">Intensity (10<tspan font-size="16.26" dy="-11.38">4</tspan><tspan dy="11.38"> cps)</tspan></text>
<text x="121.30" y="526.96" font-size="24.08" fill="#f07d1a" stroke="#f07d1a" stroke-width="0.45" textLength="37.62" lengthAdjust="spacingAndGlyphs">-CF</text>
<text x="160.10" y="536.90" font-size="23.40" fill="#f07d1a" stroke="#f07d1a" stroke-width="0.45" textLength="12.43" lengthAdjust="spacingAndGlyphs">x</text>
<text x="327.00" y="513.37" font-size="23.38" fill="#ee22ee" stroke="#ee22ee" stroke-width="0.45" textLength="36.72" lengthAdjust="spacingAndGlyphs">-SF</text>
<text x="364.60" y="524.10" font-size="24.72" fill="#ee22ee" stroke="#ee22ee" stroke-width="0.45" textLength="13.13" lengthAdjust="spacingAndGlyphs">x</text>
<text x="358.40" y="568.38" font-size="22.11" fill="#148a14" stroke="#148a14" stroke-width="0.45" textLength="38.53" lengthAdjust="spacingAndGlyphs">C-F</text>
<text x="359.30" y="597.80" font-size="23.32" fill="#148a14" stroke="#148a14" stroke-width="0.45" textLength="137.25" lengthAdjust="spacingAndGlyphs">(semi-ionic)</text>
<text x="458.70" y="646.20" font-size="24.00" fill="#0c0c80" stroke="#0c0c80" stroke-width="0.45" textLength="34.79" lengthAdjust="spacingAndGlyphs">LiF</text>
<clipPath id="clip4"><rect x="605.6" y="420.2" width="422.9" height="343.3"/></clipPath>
<g clip-path="url(#clip4)">
<path d="M637.6,738.5 L638.6,738.6 L639.6,738.7 L640.6,738.8 L641.6,738.9 L642.6,739.0 L643.6,739.1 L644.6,739.1 L645.6,739.2 L646.6,739.3 L647.6,739.4 L648.6,739.4 L649.6,739.5 L650.6,739.5 L651.6,739.6 L652.6,739.7 L653.6,739.7 L654.6,739.8 L655.6,739.8 L656.6,739.8 L657.6,739.9 L658.6,739.9 L659.6,740.0 L660.6,740.0 L661.6,740.1 L662.6,740.1 L663.6,740.1 L664.6,740.1 L665.6,740.1 L666.6,740.2 L667.6,740.2 L668.6,740.1 L669.6,740.1 L670.6,740.1 L671.6,740.1 L672.6,740.1 L673.6,740.0 L674.6,740.0 L675.6,740.0 L676.6,739.9 L677.6,739.8 L678.6,739.8 L679.6,739.7 L680.6,739.6 L681.6,739.6 L682.6,739.5 L683.6,739.4 L684.6,739.2 L685.6,739.1 L686.6,738.9 L687.6,738.7 L688.6,738.5 L689.6,738.3 L690.6,738.1 L691.6,737.8 L692.6,737.5 L693.6,737.3 L694.6,737.0 L695.6,736.6 L696.6,736.3 L697.6,735.9 L698.6,735.6 L699.6,735.2 L700.6,734.8 L701.6,734.3 L702.6,733.9 L703.6,733.4 L704.6,732.9 L705.6,732.4 L706.6,732.0 L707.6,731.4 L708.6,730.9 L709.6,730.4 L710.6,729.9 L711.6,729.4 L712.6,728.8 L713.6,728.3 L714.6,727.8 L715.6,727.2 L716.6,726.7 L717.6,726.1 L718.6,725.6 L719.6,725.0 L720.6,724.4 L721.6,723.8 L722.6,723.2 L723.6,722.6 L724.6,721.9 L725.6,721.3 L726.6,720.6 L727.6,720.0 L728.6,719.3 L729.6,718.6 L730.6,717.7 L731.6,716.7 L732.6,715.6 L733.6,714.4 L734.6,713.1 L735.6,711.7 L736.6,710.2 L737.6,708.6 L738.6,707.0 L739.6,705.3 L740.6,703.6 L741.6,701.8 L742.6,699.9 L743.6,698.0 L744.6,696.1 L745.6,694.1 L746.6,692.1 L747.6,690.0 L748.6,687.8 L749.6,685.6 L750.6,683.4 L751.6,681.1 L752.6,678.8 L753.6,676.6 L754.6,674.3 L755.6,672.0 L756.6,669.7 L757.6,667.2 L758.6,664.6 L759.6,661.6 L760.6,658.3 L761.6,654.6 L762.6,650.3 L763.6,645.1 L764.6,640.0 L765.6,635.4 L766.6,630.8 L767.6,626.3 L768.6,621.8 L769.6,617.3 L770.6,612.7 L771.6,608.0 L772.6,603.3 L773.6,598.4 L774.6,593.4 L775.6,588.4 L776.6,583.4 L777.6,578.3 L778.6,573.2 L779.6,568.2 L780.6,563.3 L781.6,558.4 L782.6,553.5 L783.6,548.7 L784.6,543.9 L785.6,539.2 L786.6,534.4 L787.6,529.6 L788.6,524.8 L789.6,519.9 L790.6,514.9 L791.6,509.7 L792.6,504.4 L793.6,499.1 L794.6,493.8 L795.6,488.5 L796.6,483.3 L797.6,478.2 L798.6,473.5 L799.6,469.3 L800.6,465.4 L801.6,461.9 L802.6,458.7 L803.6,455.7 L804.6,453.0 L805.6,450.8 L806.6,449.0 L807.6,447.6 L808.6,446.8 L809.6,446.3 L810.6,446.4 L811.6,446.8 L812.6,447.4 L813.6,448.3 L814.6,449.4 L815.6,450.7 L816.6,452.2 L817.6,453.9 L818.6,455.5 L819.6,457.2 L820.6,459.1 L821.6,461.0 L822.6,463.3 L823.6,465.8 L824.6,468.7 L825.6,472.0 L826.6,475.6 L827.6,479.2 L828.6,482.9 L829.6,486.7 L830.6,490.6 L831.6,494.4 L832.6,498.3 L833.6,502.2 L834.6,506.1 L835.6,510.1 L836.6,514.1 L837.6,518.2 L838.6,522.3 L839.6,526.7 L840.6,531.4 L841.6,536.3 L842.6,541.3 L843.6,546.4 L844.6,551.4 L845.6,556.2 L846.6,560.9 L847.6,565.2 L848.6,569.2 L849.6,573.1 L850.6,576.8 L851.6,580.6 L852.6,584.4 L853.6,588.5 L854.6,592.8 L855.6,597.4 L856.6,602.2 L857.6,607.3 L858.6,612.4 L859.6,617.5 L860.6,622.6 L861.6,627.5 L862.6,632.3 L863.6,637.0 L864.6,641.4 L865.6,645.4 L866.6,648.9 L867.6,651.7 L868.6,654.1 L869.6,656.0 L870.6,657.7 L871.6,659.1 L872.6,660.5 L873.6,661.9 L874.6,663.2 L875.6,664.5 L876.6,665.7 L877.6,666.8 L878.6,667.9 L879.6,668.8 L880.6,669.6 L881.6,670.4 L882.6,671.0 L883.6,671.6 L884.6,672.1 L885.6,672.4 L886.6,672.6 L887.6,672.7 L888.6,672.6 L889.6,672.3 L890.6,672.0 L891.6,671.5 L892.6,671.0 L893.6,670.4 L894.6,669.7 L895.6,668.9 L896.6,668.0 L897.6,667.1 L898.6,666.1 L899.6,665.1 L900.6,664.0 L901.6,663.0 L902.6,661.9 L903.6,660.7 L904.6,659.6 L905.6,658.4 L906.6,657.2 L907.6,655.9 L908.6,654.6 L909.6,653.2 L910.6,651.6 L911.6,650.0 L912.6,648.4 L913.6,646.8 L914.6,645.3 L915.6,644.0 L916.6,642.7 L917.6,641.6 L918.6,640.6 L919.6,639.6 L920.6,638.8 L921.6,638.0 L922.6,637.4 L923.6,636.8 L924.6,636.3 L925.6,635.9 L926.6,635.6 L927.6,635.5 L928.6,635.5 L929.6,635.7 L930.6,636.0 L931.6,636.4 L932.6,636.8 L933.6,637.4 L934.6,638.0 L935.6,638.7 L936.6,639.6 L937.6,640.7 L938.6,642.0 L939.6,643.4 L940.6,644.9 L941.6,646.6 L942.6,648.3 L943.6,650.0 L944.6,651.9 L945.6,653.8 L946.6,655.7 L947.6,657.7 L948.6,659.6 L949.6,661.6 L950.6,663.7 L951.6,666.0 L952.6,668.5 L953.6,671.2 L954.6,674.0 L955.6,676.8 L956.6,679.6 L957.6,682.4 L958.6,685.2 L959.6,688.0 L960.6,690.8 L961.6,693.6 L962.6,696.4 L963.6,699.2 L964.6,702.0 L965.6,704.8 L966.6,707.5 L967.6,710.1 L968.6,712.5 L969.6,714.7 L970.6,716.8 L971.6,718.6 L972.6,720.3 L973.6,721.9 L974.6,723.3 L975.6,724.7 L976.6,726.1 L977.6,727.3 L978.6,728.5 L979.6,729.6 L980.6,730.6 L981.6,731.7 L982.6,732.7 L983.6,733.7 L984.6,734.7 L985.6,735.6 L986.6,736.6 L987.6,737.5 L988.6,738.4 L989.6,739.3 L990.6,740.2 L991.6,741.1 L992.6,742.0 L993.6,742.8 L994.6,743.6 L995.6,744.4 L996.6,745.2 L997.6,746.0 L998.6,746.7 L999.6,747.4 L1000.6,748.0 L1001.6,748.5 L1002.6,748.9 L1003.6,749.3 L1004.6,749.6 L1005.6,749.9 L1006.6,750.2 L1007.6,750.4 L1008.6,750.5 L1009.6,750.7" fill="none" stroke="#111" stroke-width="2.6" stroke-linejoin="round"/>
<path d="M639.8,733.2 L641.3,733.2 L642.8,733.2 L644.3,733.2 L645.8,733.1 L647.3,733.1 L648.8,733.1 L650.3,733.1 L651.8,733.0 L653.3,733.0 L654.8,733.0 L656.3,732.9 L657.8,732.9 L659.3,732.9 L660.8,732.8 L662.3,732.8 L663.8,732.8 L665.3,732.7 L666.8,732.7 L668.3,732.6 L669.8,732.6 L671.3,732.5 L672.8,732.5 L674.3,732.4 L675.8,732.4 L677.3,732.3 L678.8,732.3 L680.3,732.2 L681.8,732.1 L683.3,732.1 L684.8,732.0 L686.3,731.9 L687.8,731.9 L689.3,731.8 L690.8,731.7 L692.3,731.6 L693.8,731.5 L695.4,731.4 L696.9,731.3 L698.4,731.2 L699.9,731.1 L701.4,731.0 L702.9,730.8 L704.4,730.7 L705.9,730.6 L707.4,730.4 L708.9,730.3 L710.4,730.1 L711.9,729.9 L713.4,729.7 L714.9,729.5 L716.4,729.3 L717.9,729.1 L719.4,728.8 L720.9,728.6 L722.4,728.3 L723.9,728.0 L725.4,727.7 L726.9,727.3 L728.4,727.0 L729.9,726.6 L731.4,726.1 L732.9,725.7 L734.4,725.2 L735.9,724.6 L737.4,724.0 L738.9,723.4 L740.4,722.7 L741.9,721.9 L743.4,721.1 L744.9,720.2 L746.4,719.2 L747.9,718.0 L749.4,716.8 L750.9,715.5 L752.4,714.0 L753.9,712.3 L755.4,710.4 L756.9,708.3 L758.4,705.9 L759.9,703.3 L761.4,700.3 L762.9,696.9 L764.4,693.1 L765.9,688.9 L767.4,684.1 L768.9,678.7 L770.4,672.8 L771.9,666.3 L773.4,659.4 L774.9,652.1 L776.4,644.8 L777.9,637.8 L779.4,631.6 L780.9,626.7 L782.4,623.6 L783.9,622.7 L785.4,624.7 L786.9,630.0 L788.4,637.7 L789.9,646.8 L791.4,656.3 L792.9,665.6 L794.4,674.2 L795.9,681.9 L797.4,688.8 L798.9,694.8 L800.4,700.0 L801.9,704.5 L803.4,708.5 L804.9,711.9 L806.4,715.0 L807.9,717.6 L809.4,720.0 L810.9,722.1 L812.4,724.0 L813.9,725.6 L815.4,727.1 L816.9,728.5 L818.4,729.8 L819.9,730.9 L821.4,732.0 L822.9,732.9 L824.4,733.8 L825.9,734.7 L827.4,735.4 L828.9,736.2 L830.4,736.8 L831.9,737.5 L833.4,738.1 L834.9,738.7 L836.4,739.2 L837.9,739.7 L839.4,740.2 L840.9,740.7 L842.4,741.1 L843.9,741.5 L845.4,741.9 L846.9,742.3 L848.4,742.7 L849.9,743.0 L851.4,743.3 L852.9,743.6 L854.4,743.9 L855.9,744.1 L857.4,744.4 L858.9,744.6 L860.4,744.8 L861.9,745.0 L863.4,745.2 L864.9,745.4 L866.4,745.5 L867.9,745.7 L869.4,745.8 L870.9,746.0 L872.4,746.1 L873.9,746.2 L875.4,746.3 L876.9,746.4 L878.4,746.5 L879.9,746.5 L881.4,746.6 L882.9,746.7 L884.4,746.8 L885.9,746.9 L887.4,746.9 L888.9,747.0 L890.4,747.1 L891.9,747.1 L893.4,747.2 L894.9,747.3 L896.4,747.3 L897.9,747.4 L899.4,747.4 L900.9,747.5 L902.4,747.6 L903.9,747.6 L905.4,747.7 L906.9,747.7 L908.4,747.8 L909.9,747.8 L911.4,747.9 L912.9,747.9 L914.4,748.0 L915.9,748.0 L917.5,748.1 L919.0,748.1 L920.5,748.2 L922.0,748.2 L923.5,748.3 L925.0,748.3 L926.5,748.4 L928.0,748.4 L929.5,748.4 L931.0,748.5 L932.5,748.5 L934.0,748.6 L935.5,748.6 L937.0,748.7 L938.5,748.7 L940.0,748.7 L941.5,748.8 L943.0,748.8 L944.5,748.9 L946.0,748.9 L947.5,748.9 L949.0,749.0 L950.5,749.0 L952.0,749.1 L953.5,749.1 L955.0,749.1 L956.5,749.2 L958.0,749.2 L959.5,749.2 L961.0,749.3 L962.5,749.3 L964.0,749.3 L965.5,749.4 L967.0,749.4 L968.5,749.4 L970.0,749.5 L971.5,749.5 L973.0,749.5 L974.5,749.5 L976.0,749.6 L977.5,749.6 L979.0,749.6 L980.5,749.6 L982.0,749.7 L983.5,749.7 L985.0,749.7 L986.5,749.7 L988.0,749.8 L989.5,749.8 L991.0,749.8 L992.5,749.8 L994.0,749.9 L995.5,749.9 L997.0,749.9 L998.5,749.9 L1000.0,750.0 L1001.5,750.0 L1003.0,750.0 L1004.5,750.0 L1006.0,750.1 L1007.5,750.1 L1009.0,750.1 L1010.5,750.1 L1012.0,750.2 L1013.5,750.2 L1015.0,750.2 L1016.5,750.2 L1018.0,750.3 L1019.5,750.3 L1021.0,750.3 L1022.5,750.3 L1024.0,750.3 L1025.5,750.4 L1027.0,750.4 L1028.5,750.4 L1028.5,750.4 L1027.0,750.4 L1025.5,750.4 L1024.0,750.3 L1022.5,750.3 L1021.0,750.3 L1019.5,750.3 L1018.0,750.3 L1016.5,750.2 L1015.0,750.2 L1013.5,750.2 L1012.0,750.2 L1010.5,750.1 L1009.0,750.1 L1007.5,750.1 L1006.0,750.1 L1004.5,750.0 L1003.0,750.0 L1001.5,750.0 L1000.0,750.0 L998.5,749.9 L997.0,749.9 L995.5,749.9 L994.0,749.9 L992.5,749.8 L991.0,749.8 L989.5,749.8 L988.0,749.8 L986.5,749.7 L985.0,749.7 L983.5,749.7 L982.0,749.7 L980.5,749.6 L979.0,749.6 L977.5,749.6 L976.0,749.6 L974.5,749.5 L973.0,749.5 L971.5,749.5 L970.0,749.5 L968.5,749.4 L967.0,749.4 L965.5,749.4 L964.0,749.3 L962.5,749.3 L961.0,749.3 L959.5,749.3 L958.0,749.2 L956.5,749.2 L955.0,749.2 L953.5,749.1 L952.0,749.1 L950.5,749.1 L949.0,749.1 L947.5,749.0 L946.0,749.0 L944.5,749.0 L943.0,748.9 L941.5,748.9 L940.0,748.9 L938.5,748.9 L937.0,748.8 L935.5,748.8 L934.0,748.8 L932.5,748.7 L931.0,748.7 L929.5,748.7 L928.0,748.7 L926.5,748.6 L925.0,748.6 L923.5,748.6 L922.0,748.5 L920.5,748.5 L919.0,748.5 L917.5,748.5 L915.9,748.4 L914.4,748.4 L912.9,748.4 L911.4,748.3 L909.9,748.3 L908.4,748.3 L906.9,748.3 L905.4,748.2 L903.9,748.2 L902.4,748.2 L900.9,748.1 L899.4,748.1 L897.9,748.1 L896.4,748.1 L894.9,748.0 L893.4,748.0 L891.9,748.0 L890.4,747.9 L888.9,747.9 L887.4,747.9 L885.9,747.9 L884.4,747.8 L882.9,747.8 L881.4,747.8 L879.9,747.7 L878.4,747.7 L876.9,747.7 L875.4,747.7 L873.9,747.6 L872.4,747.6 L870.9,747.5 L869.4,747.5 L867.9,747.4 L866.4,747.3 L864.9,747.3 L863.4,747.2 L861.9,747.1 L860.4,747.0 L858.9,746.9 L857.4,746.7 L855.9,746.6 L854.4,746.5 L852.9,746.3 L851.4,746.2 L849.9,746.0 L848.4,745.9 L846.9,745.7 L845.4,745.5 L843.9,745.3 L842.4,745.1 L840.9,744.9 L839.4,744.7 L837.9,744.4 L836.4,744.2 L834.9,744.0 L833.4,743.7 L831.9,743.5 L830.4,743.3 L828.9,743.0 L827.4,742.8 L825.9,742.5 L824.4,742.3 L822.9,742.0 L821.4,741.8 L819.9,741.5 L818.4,741.2 L816.9,741.0 L815.4,740.7 L813.9,740.4 L812.4,740.2 L810.9,739.9 L809.4,739.6 L807.9,739.3 L806.4,739.1 L804.9,738.8 L803.4,738.5 L801.9,738.3 L800.4,738.0 L798.9,737.8 L797.4,737.5 L795.9,737.3 L794.4,737.1 L792.9,736.9 L791.4,736.7 L789.9,736.5 L788.4,736.3 L786.9,736.1 L785.4,735.9 L783.9,735.8 L782.4,735.7 L780.9,735.5 L779.4,735.4 L777.9,735.3 L776.4,735.2 L774.9,735.1 L773.4,735.0 L771.9,735.0 L770.4,734.9 L768.9,734.8 L767.4,734.8 L765.9,734.7 L764.4,734.6 L762.9,734.6 L761.4,734.5 L759.9,734.5 L758.4,734.4 L756.9,734.4 L755.4,734.4 L753.9,734.3 L752.4,734.3 L750.9,734.3 L749.4,734.2 L747.9,734.2 L746.4,734.2 L744.9,734.2 L743.4,734.2 L741.9,734.1 L740.4,734.1 L738.9,734.1 L737.4,734.1 L735.9,734.1 L734.4,734.1 L732.9,734.1 L731.4,734.1 L729.9,734.1 L728.4,734.1 L726.9,734.1 L725.4,734.1 L723.9,734.1 L722.4,734.1 L720.9,734.1 L719.4,734.1 L717.9,734.1 L716.4,734.1 L714.9,734.1 L713.4,734.1 L711.9,734.1 L710.4,734.1 L708.9,734.1 L707.4,734.1 L705.9,734.1 L704.4,734.1 L702.9,734.1 L701.4,734.1 L699.9,734.1 L698.4,734.1 L696.9,734.1 L695.4,734.0 L693.8,734.0 L692.3,734.0 L690.8,734.0 L689.3,734.0 L687.8,734.0 L686.3,734.0 L684.8,734.0 L683.3,734.0 L681.8,734.0 L680.3,734.0 L678.8,734.0 L677.3,734.0 L675.8,734.0 L674.3,734.0 L672.8,734.0 L671.3,734.0 L669.8,734.0 L668.3,734.0 L666.8,734.0 L665.3,734.0 L663.8,734.0 L662.3,734.0 L660.8,734.0 L659.3,734.0 L657.8,734.0 L656.3,734.0 L654.8,734.0 L653.3,734.0 L651.8,734.0 L650.3,733.9 L648.8,733.9 L647.3,733.9 L645.8,733.9 L644.3,733.9 L642.8,733.9 L641.3,733.9 L639.8,733.9 Z" fill="#f8a040" fill-opacity="1" stroke="none" stroke-width="0.8"/>
<path d="M639.8,733.9 L641.3,733.9 L642.8,733.9 L644.3,733.9 L645.8,733.9 L647.3,733.9 L648.8,733.9 L650.3,733.9 L651.8,734.0 L653.3,734.0 L654.8,734.0 L656.3,734.0 L657.8,734.0 L659.3,734.0 L660.8,734.0 L662.3,734.0 L663.8,734.0 L665.3,734.0 L666.8,734.0 L668.3,734.0 L669.8,734.0 L671.3,734.0 L672.8,734.0 L674.3,734.0 L675.8,734.0 L677.3,734.0 L678.8,734.0 L680.3,734.0 L681.8,734.0 L683.3,734.0 L684.8,734.0 L686.3,734.0 L687.8,734.0 L689.3,734.0 L690.8,734.0 L692.3,734.0 L693.8,734.0 L695.4,734.0 L696.9,734.1 L698.4,734.1 L699.9,734.1 L701.4,734.1 L702.9,734.1 L704.4,734.1 L705.9,734.1 L707.4,734.1 L708.9,734.1 L710.4,734.1 L711.9,734.1 L713.4,734.1 L714.9,734.1 L716.4,734.1 L717.9,734.1 L719.4,734.1 L720.9,734.1 L722.4,734.1 L723.9,734.1 L725.4,734.1 L726.9,734.1 L728.4,734.1 L729.9,734.1 L731.4,734.1 L732.9,734.1 L734.4,734.1 L735.9,734.1 L737.4,734.1 L738.9,734.1 L740.4,734.1 L741.9,734.1 L743.4,734.2 L744.9,734.2 L746.4,734.2 L747.9,734.2 L749.4,734.2 L750.9,734.2 L752.4,734.3 L753.9,734.3 L755.4,734.3 L756.9,734.3 L758.4,734.3 L759.9,734.3 L761.4,734.3 L762.9,734.3 L764.4,734.3 L765.9,734.2 L767.4,734.2 L768.9,734.1 L770.4,734.1 L771.9,733.9 L773.4,733.8 L774.9,733.6 L776.4,733.3 L777.9,733.0 L779.4,732.7 L780.9,732.2 L782.4,731.7 L783.9,731.0 L785.4,730.2 L786.9,729.3 L788.4,728.2 L789.9,726.9 L791.4,725.4 L792.9,723.6 L794.4,721.7 L795.9,719.4 L797.4,716.9 L798.9,714.0 L800.4,710.8 L801.9,707.3 L803.4,703.5 L804.9,699.3 L806.4,694.8 L807.9,690.0 L809.4,684.9 L810.9,679.5 L812.4,673.9 L813.9,668.1 L815.4,662.1 L816.9,656.1 L818.4,650.1 L819.9,644.1 L821.4,638.2 L822.9,632.6 L824.4,627.2 L825.9,622.3 L827.4,617.7 L828.9,613.7 L830.4,610.3 L831.9,607.6 L833.4,605.6 L834.9,604.3 L836.4,603.8 L837.9,604.1 L839.4,605.3 L840.9,607.3 L842.4,610.1 L843.9,613.7 L845.4,617.9 L846.9,622.6 L848.4,627.8 L849.9,633.4 L851.4,639.2 L852.9,645.3 L854.4,651.4 L855.9,657.6 L857.4,663.7 L858.9,669.8 L860.4,675.7 L861.9,681.4 L863.4,686.9 L864.9,692.1 L866.4,697.1 L867.9,701.7 L869.4,706.1 L870.9,710.1 L872.4,713.9 L873.9,717.3 L875.4,720.4 L876.9,723.2 L878.4,725.8 L879.9,728.1 L881.4,730.2 L882.9,732.0 L884.4,733.7 L885.9,735.1 L887.4,736.4 L888.9,737.5 L890.4,738.5 L891.9,739.4 L893.4,740.2 L894.9,740.9 L896.4,741.5 L897.9,742.0 L899.4,742.5 L900.9,742.9 L902.4,743.3 L903.9,743.6 L905.4,743.9 L906.9,744.2 L908.4,744.4 L909.9,744.6 L911.4,744.8 L912.9,745.0 L914.4,745.2 L915.9,745.4 L917.5,745.5 L919.0,745.7 L920.5,745.8 L922.0,746.0 L923.5,746.1 L925.0,746.2 L926.5,746.3 L928.0,746.5 L929.5,746.6 L931.0,746.7 L932.5,746.8 L934.0,746.9 L935.5,747.0 L937.0,747.1 L938.5,747.2 L940.0,747.3 L941.5,747.3 L943.0,747.4 L944.5,747.5 L946.0,747.6 L947.5,747.7 L949.0,747.7 L950.5,747.8 L952.0,747.9 L953.5,748.0 L955.0,748.0 L956.5,748.1 L958.0,748.2 L959.5,748.2 L961.0,748.3 L962.5,748.4 L964.0,748.4 L965.5,748.5 L967.0,748.5 L968.5,748.6 L970.0,748.7 L971.5,748.7 L973.0,748.8 L974.5,748.8 L976.0,748.9 L977.5,748.9 L979.0,749.0 L980.5,749.0 L982.0,749.1 L983.5,749.1 L985.0,749.2 L986.5,749.2 L988.0,749.3 L989.5,749.3 L991.0,749.3 L992.5,749.4 L994.0,749.4 L995.5,749.5 L997.0,749.5 L998.5,749.6 L1000.0,749.6 L1001.5,749.6 L1003.0,749.7 L1004.5,749.7 L1006.0,749.8 L1007.5,749.8 L1009.0,749.8 L1010.5,749.9 L1012.0,749.9 L1013.5,749.9 L1015.0,750.0 L1016.5,750.0 L1018.0,750.0 L1019.5,750.1 L1021.0,750.1 L1022.5,750.1 L1024.0,750.2 L1025.5,750.2 L1027.0,750.2 L1028.5,750.3 L1028.5,750.4 L1027.0,750.4 L1025.5,750.4 L1024.0,750.3 L1022.5,750.3 L1021.0,750.3 L1019.5,750.3 L1018.0,750.3 L1016.5,750.2 L1015.0,750.2 L1013.5,750.2 L1012.0,750.2 L1010.5,750.1 L1009.0,750.1 L1007.5,750.1 L1006.0,750.1 L1004.5,750.0 L1003.0,750.0 L1001.5,750.0 L1000.0,750.0 L998.5,749.9 L997.0,749.9 L995.5,749.9 L994.0,749.9 L992.5,749.8 L991.0,749.8 L989.5,749.8 L988.0,749.8 L986.5,749.7 L985.0,749.7 L983.5,749.7 L982.0,749.7 L980.5,749.6 L979.0,749.6 L977.5,749.6 L976.0,749.6 L974.5,749.5 L973.0,749.5 L971.5,749.5 L970.0,749.5 L968.5,749.4 L967.0,749.4 L965.5,749.4 L964.0,749.3 L962.5,749.3 L961.0,749.3 L959.5,749.3 L958.0,749.2 L956.5,749.2 L955.0,749.2 L953.5,749.1 L952.0,749.1 L950.5,749.1 L949.0,749.1 L947.5,749.0 L946.0,749.0 L944.5,749.0 L943.0,748.9 L941.5,748.9 L940.0,748.9 L938.5,748.9 L937.0,748.8 L935.5,748.8 L934.0,748.8 L932.5,748.7 L931.0,748.7 L929.5,748.7 L928.0,748.7 L926.5,748.6 L925.0,748.6 L923.5,748.6 L922.0,748.5 L920.5,748.5 L919.0,748.5 L917.5,748.5 L915.9,748.4 L914.4,748.4 L912.9,748.4 L911.4,748.3 L909.9,748.3 L908.4,748.3 L906.9,748.3 L905.4,748.2 L903.9,748.2 L902.4,748.2 L900.9,748.1 L899.4,748.1 L897.9,748.1 L896.4,748.1 L894.9,748.0 L893.4,748.0 L891.9,748.0 L890.4,747.9 L888.9,747.9 L887.4,747.9 L885.9,747.9 L884.4,747.8 L882.9,747.8 L881.4,747.8 L879.9,747.7 L878.4,747.7 L876.9,747.7 L875.4,747.7 L873.9,747.6 L872.4,747.6 L870.9,747.5 L869.4,747.5 L867.9,747.4 L866.4,747.3 L864.9,747.3 L863.4,747.2 L861.9,747.1 L860.4,747.0 L858.9,746.9 L857.4,746.7 L855.9,746.6 L854.4,746.5 L852.9,746.3 L851.4,746.2 L849.9,746.0 L848.4,745.9 L846.9,745.7 L845.4,745.5 L843.9,745.3 L842.4,745.1 L840.9,744.9 L839.4,744.7 L837.9,744.4 L836.4,744.2 L834.9,744.0 L833.4,743.7 L831.9,743.5 L830.4,743.3 L828.9,743.0 L827.4,742.8 L825.9,742.5 L824.4,742.3 L822.9,742.0 L821.4,741.8 L819.9,741.5 L818.4,741.2 L816.9,741.0 L815.4,740.7 L813.9,740.4 L812.4,740.2 L810.9,739.9 L809.4,739.6 L807.9,739.3 L806.4,739.1 L804.9,738.8 L803.4,738.5 L801.9,738.3 L800.4,738.0 L798.9,737.8 L797.4,737.5 L795.9,737.3 L794.4,737.1 L792.9,736.9 L791.4,736.7 L789.9,736.5 L788.4,736.3 L786.9,736.1 L785.4,735.9 L783.9,735.8 L782.4,735.7 L780.9,735.5 L779.4,735.4 L777.9,735.3 L776.4,735.2 L774.9,735.1 L773.4,735.0 L771.9,735.0 L770.4,734.9 L768.9,734.8 L767.4,734.8 L765.9,734.7 L764.4,734.6 L762.9,734.6 L761.4,734.5 L759.9,734.5 L758.4,734.4 L756.9,734.4 L755.4,734.4 L753.9,734.3 L752.4,734.3 L750.9,734.3 L749.4,734.2 L747.9,734.2 L746.4,734.2 L744.9,734.2 L743.4,734.2 L741.9,734.1 L740.4,734.1 L738.9,734.1 L737.4,734.1 L735.9,734.1 L734.4,734.1 L732.9,734.1 L731.4,734.1 L729.9,734.1 L728.4,734.1 L726.9,734.1 L725.4,734.1 L723.9,734.1 L722.4,734.1 L720.9,734.1 L719.4,734.1 L717.9,734.1 L716.4,734.1 L714.9,734.1 L713.4,734.1 L711.9,734.1 L710.4,734.1 L708.9,734.1 L707.4,734.1 L705.9,734.1 L704.4,734.1 L702.9,734.1 L701.4,734.1 L699.9,734.1 L698.4,734.1 L696.9,734.1 L695.4,734.0 L693.8,734.0 L692.3,734.0 L690.8,734.0 L689.3,734.0 L687.8,734.0 L686.3,734.0 L684.8,734.0 L683.3,734.0 L681.8,734.0 L680.3,734.0 L678.8,734.0 L677.3,734.0 L675.8,734.0 L674.3,734.0 L672.8,734.0 L671.3,734.0 L669.8,734.0 L668.3,734.0 L666.8,734.0 L665.3,734.0 L663.8,734.0 L662.3,734.0 L660.8,734.0 L659.3,734.0 L657.8,734.0 L656.3,734.0 L654.8,734.0 L653.3,734.0 L651.8,734.0 L650.3,733.9 L648.8,733.9 L647.3,733.9 L645.8,733.9 L644.3,733.9 L642.8,733.9 L641.3,733.9 L639.8,733.9 Z" fill="#008000" fill-opacity="1" stroke="none" stroke-width="0.8"/>
<path d="M639.8,732.7 L641.3,732.7 L642.8,732.7 L644.3,732.6 L645.8,732.6 L647.3,732.6 L648.8,732.5 L650.3,732.5 L651.8,732.5 L653.3,732.4 L654.8,732.4 L656.3,732.4 L657.8,732.3 L659.3,732.3 L660.8,732.2 L662.3,732.2 L663.8,732.2 L665.3,732.1 L666.8,732.1 L668.3,732.0 L669.8,732.0 L671.3,731.9 L672.8,731.9 L674.3,731.8 L675.8,731.8 L677.3,731.7 L678.8,731.6 L680.3,731.6 L681.8,731.5 L683.3,731.5 L684.8,731.4 L686.3,731.3 L687.8,731.2 L689.3,731.2 L690.8,731.1 L692.3,731.0 L693.8,730.9 L695.4,730.8 L696.9,730.7 L698.4,730.6 L699.9,730.5 L701.4,730.4 L702.9,730.3 L704.4,730.2 L705.9,730.1 L707.4,729.9 L708.9,729.8 L710.4,729.7 L711.9,729.5 L713.4,729.4 L714.9,729.2 L716.4,729.1 L717.9,728.9 L719.4,728.7 L720.9,728.5 L722.4,728.3 L723.9,728.1 L725.4,727.9 L726.9,727.7 L728.4,727.4 L729.9,727.2 L731.4,726.9 L732.9,726.6 L734.4,726.3 L735.9,726.0 L737.4,725.6 L738.9,725.3 L740.4,724.9 L741.9,724.5 L743.4,724.1 L744.9,723.6 L746.4,723.2 L747.9,722.6 L749.4,722.1 L750.9,721.5 L752.4,720.9 L753.9,720.3 L755.4,719.6 L756.9,718.8 L758.4,718.0 L759.9,717.1 L761.4,716.2 L762.9,715.1 L764.4,714.0 L765.9,712.7 L767.4,711.3 L768.9,709.8 L770.4,708.1 L771.9,706.3 L773.4,704.2 L774.9,701.9 L776.4,699.4 L777.9,696.5 L779.4,693.3 L780.9,689.8 L782.4,685.8 L783.9,681.4 L785.4,676.4 L786.9,670.9 L788.4,664.8 L789.9,658.0 L791.4,650.6 L792.9,642.4 L794.4,633.4 L795.9,623.8 L797.4,613.6 L798.9,602.9 L800.4,592.0 L801.9,581.2 L803.4,570.8 L804.9,561.5 L806.4,553.8 L807.9,548.3 L809.4,545.5 L810.9,545.4 L812.4,546.8 L813.9,549.6 L815.4,553.5 L816.9,558.6 L818.4,564.5 L819.9,571.2 L821.4,578.6 L822.9,586.4 L824.4,594.5 L825.9,602.8 L827.4,611.2 L828.9,619.6 L830.4,627.9 L831.9,635.9 L833.4,643.8 L834.9,651.4 L836.4,658.6 L837.9,665.5 L839.4,672.0 L840.9,678.1 L842.4,683.9 L843.9,689.2 L845.4,694.2 L846.9,698.7 L848.4,702.9 L849.9,706.7 L851.4,710.2 L852.9,713.4 L854.4,716.3 L855.9,718.9 L857.4,721.2 L858.9,723.3 L860.4,725.2 L861.9,726.9 L863.4,728.5 L864.9,729.8 L866.4,731.1 L867.9,732.2 L869.4,733.2 L870.9,734.0 L872.4,734.8 L873.9,735.6 L875.4,736.2 L876.9,736.8 L878.4,737.4 L879.9,737.9 L881.4,738.3 L882.9,738.8 L884.4,739.2 L885.9,739.5 L887.4,739.9 L888.9,740.2 L890.4,740.6 L891.9,740.9 L893.4,741.1 L894.9,741.4 L896.4,741.7 L897.9,741.9 L899.4,742.2 L900.9,742.4 L902.4,742.6 L903.9,742.8 L905.4,743.0 L906.9,743.2 L908.4,743.4 L909.9,743.6 L911.4,743.8 L912.9,743.9 L914.4,744.1 L915.9,744.3 L917.5,744.4 L919.0,744.6 L920.5,744.7 L922.0,744.8 L923.5,745.0 L925.0,745.1 L926.5,745.2 L928.0,745.4 L929.5,745.5 L931.0,745.6 L932.5,745.7 L934.0,745.8 L935.5,745.9 L937.0,746.0 L938.5,746.1 L940.0,746.2 L941.5,746.3 L943.0,746.4 L944.5,746.5 L946.0,746.6 L947.5,746.7 L949.0,746.8 L950.5,746.9 L952.0,747.0 L953.5,747.0 L955.0,747.1 L956.5,747.2 L958.0,747.3 L959.5,747.4 L961.0,747.4 L962.5,747.5 L964.0,747.6 L965.5,747.6 L967.0,747.7 L968.5,747.8 L970.0,747.9 L971.5,747.9 L973.0,748.0 L974.5,748.0 L976.0,748.1 L977.5,748.2 L979.0,748.2 L980.5,748.3 L982.0,748.3 L983.5,748.4 L985.0,748.5 L986.5,748.5 L988.0,748.6 L989.5,748.6 L991.0,748.7 L992.5,748.7 L994.0,748.8 L995.5,748.8 L997.0,748.9 L998.5,748.9 L1000.0,749.0 L1001.5,749.0 L1003.0,749.1 L1004.5,749.1 L1006.0,749.2 L1007.5,749.2 L1009.0,749.2 L1010.5,749.3 L1012.0,749.3 L1013.5,749.4 L1015.0,749.4 L1016.5,749.5 L1018.0,749.5 L1019.5,749.5 L1021.0,749.6 L1022.5,749.6 L1024.0,749.7 L1025.5,749.7 L1027.0,749.7 L1028.5,749.8 L1028.5,757.2 L1027.0,757.2 L1025.5,757.1 L1024.0,757.0 L1022.5,756.9 L1021.0,756.9 L1019.5,756.8 L1018.0,756.7 L1016.5,756.7 L1015.0,756.6 L1013.5,756.5 L1012.0,756.5 L1010.5,756.4 L1009.0,756.3 L1007.5,756.3 L1006.0,756.2 L1004.5,756.1 L1003.0,756.0 L1001.5,756.0 L1000.0,755.9 L998.5,755.8 L997.0,755.8 L995.5,755.7 L994.0,755.6 L992.5,755.6 L991.0,755.5 L989.5,755.4 L988.0,755.4 L986.5,755.3 L985.0,755.2 L983.5,755.2 L982.0,755.1 L980.5,755.0 L979.0,755.0 L977.5,754.9 L976.0,754.8 L974.5,754.7 L973.0,754.7 L971.5,754.6 L970.0,754.5 L968.5,754.5 L967.0,754.4 L965.5,754.3 L964.0,754.3 L962.5,754.2 L961.0,754.1 L959.5,754.1 L958.0,754.0 L956.5,753.9 L955.0,753.9 L953.5,753.8 L952.0,753.7 L950.5,753.7 L949.0,753.6 L947.5,753.5 L946.0,753.5 L944.5,753.4 L943.0,753.3 L941.5,753.2 L940.0,753.2 L938.5,753.1 L937.0,753.0 L935.5,753.0 L934.0,752.9 L932.5,752.8 L931.0,752.8 L929.5,752.7 L928.0,752.6 L926.5,752.6 L925.0,752.5 L923.5,752.4 L922.0,752.4 L920.5,752.3 L919.0,752.2 L917.5,752.2 L915.9,752.1 L914.4,752.0 L912.9,752.0 L911.4,751.9 L909.9,751.8 L908.4,751.8 L906.9,751.7 L905.4,751.6 L903.9,751.6 L902.4,751.5 L900.9,751.4 L899.4,751.4 L897.9,751.3 L896.4,751.2 L894.9,751.2 L893.4,751.1 L891.9,751.0 L890.4,750.9 L888.9,750.9 L887.4,750.8 L885.9,750.7 L884.4,750.7 L882.9,750.6 L881.4,750.5 L879.9,750.5 L878.4,750.4 L876.9,750.3 L875.4,750.3 L873.9,750.2 L872.4,750.1 L870.9,750.1 L869.4,750.0 L867.9,749.9 L866.4,749.9 L864.9,749.8 L863.4,749.7 L861.9,749.7 L860.4,749.6 L858.9,749.5 L857.4,749.5 L855.9,749.4 L854.4,749.3 L852.9,749.3 L851.4,749.2 L849.9,749.1 L848.4,749.1 L846.9,749.0 L845.4,748.9 L843.9,748.9 L842.4,748.8 L840.9,748.7 L839.4,748.7 L837.9,748.6 L836.4,748.5 L834.9,748.5 L833.4,748.4 L831.9,748.3 L830.4,748.3 L828.9,748.2 L827.4,748.1 L825.9,748.1 L824.4,748.0 L822.9,747.9 L821.4,747.9 L819.9,747.8 L818.4,747.7 L816.9,747.7 L815.4,747.6 L813.9,747.5 L812.4,747.5 L810.9,747.4 L809.4,747.4 L807.9,747.3 L806.4,747.2 L804.9,747.2 L803.4,747.1 L801.9,747.0 L800.4,747.0 L798.9,746.9 L797.4,746.8 L795.9,746.8 L794.4,746.7 L792.9,746.6 L791.4,746.6 L789.9,746.5 L788.4,746.4 L786.9,746.4 L785.4,746.3 L783.9,746.2 L782.4,746.2 L780.9,746.1 L779.4,746.0 L777.9,746.0 L776.4,745.9 L774.9,745.8 L773.4,745.8 L771.9,745.7 L770.4,745.6 L768.9,745.6 L767.4,745.5 L765.9,745.4 L764.4,745.4 L762.9,745.3 L761.4,745.2 L759.9,745.2 L758.4,745.1 L756.9,745.0 L755.4,745.0 L753.9,744.9 L752.4,744.9 L750.9,744.8 L749.4,744.7 L747.9,744.7 L746.4,744.6 L744.9,744.5 L743.4,744.5 L741.9,744.4 L740.4,744.3 L738.9,744.3 L737.4,744.2 L735.9,744.1 L734.4,744.1 L732.9,744.0 L731.4,743.9 L729.9,743.9 L728.4,743.8 L726.9,743.7 L725.4,743.7 L723.9,743.6 L722.4,743.6 L720.9,743.5 L719.4,743.4 L717.9,743.4 L716.4,743.3 L714.9,743.2 L713.4,743.2 L711.9,743.1 L710.4,743.0 L708.9,743.0 L707.4,742.9 L705.9,742.8 L704.4,742.8 L702.9,742.7 L701.4,742.6 L699.9,742.6 L698.4,742.5 L696.9,742.5 L695.4,742.4 L693.8,742.3 L692.3,742.3 L690.8,742.2 L689.3,742.1 L687.8,742.1 L686.3,742.0 L684.8,741.9 L683.3,741.9 L681.8,741.8 L680.3,741.7 L678.8,741.7 L677.3,741.6 L675.8,741.5 L674.3,741.5 L672.8,741.4 L671.3,741.4 L669.8,741.3 L668.3,741.2 L666.8,741.2 L665.3,741.1 L663.8,741.0 L662.3,741.0 L660.8,740.9 L659.3,740.8 L657.8,740.8 L656.3,740.7 L654.8,740.6 L653.3,740.6 L651.8,740.5 L650.3,740.5 L648.8,740.4 L647.3,740.3 L645.8,740.3 L644.3,740.2 L642.8,740.1 L641.3,740.1 L639.8,740.0 Z" fill="#ff22ff" fill-opacity="0.85" stroke="none" stroke-width="0.8"/>
<path d="M639.8,733.9 L641.3,733.9 L642.8,733.9 L644.3,733.9 L645.8,733.9 L647.3,733.9 L648.8,733.9 L650.3,733.9 L651.8,734.0 L653.3,734.0 L654.8,734.0 L656.3,734.0 L657.8,734.0 L659.3,734.0 L660.8,734.0 L662.3,734.0 L663.8,734.0 L665.3,734.0 L666.8,734.0 L668.3,734.0 L669.8,734.0 L671.3,734.0 L672.8,734.0 L674.3,734.0 L675.8,734.0 L677.3,734.0 L678.8,734.0 L680.3,734.0 L681.8,734.0 L683.3,734.0 L684.8,734.0 L686.3,734.0 L687.8,734.0 L689.3,734.0 L690.8,734.0 L692.3,734.0 L693.8,734.0 L695.4,734.0 L696.9,734.1 L698.4,734.1 L699.9,734.1 L701.4,734.1 L702.9,734.1 L704.4,734.1 L705.9,734.1 L707.4,734.1 L708.9,734.1 L710.4,734.1 L711.9,734.1 L713.4,734.1 L714.9,734.1 L716.4,734.1 L717.9,734.1 L719.4,734.1 L720.9,734.1 L722.4,734.1 L723.9,734.1 L725.4,734.1 L726.9,734.1 L728.4,734.1 L729.9,734.1 L731.4,734.1 L732.9,734.1 L734.4,734.1 L735.9,734.1 L737.4,734.1 L738.9,734.1 L740.4,734.1 L741.9,734.1 L743.4,734.2 L744.9,734.2 L746.4,734.2 L747.9,734.2 L749.4,734.2 L750.9,734.3 L752.4,734.3 L753.9,734.3 L755.4,734.4 L756.9,734.4 L758.4,734.4 L759.9,734.5 L761.4,734.5 L762.9,734.6 L764.4,734.6 L765.9,734.7 L767.4,734.8 L768.9,734.8 L770.4,734.9 L771.9,735.0 L773.4,735.0 L774.9,735.1 L776.4,735.2 L777.9,735.3 L779.4,735.4 L780.9,735.5 L782.4,735.7 L783.9,735.8 L785.4,735.9 L786.9,736.1 L788.4,736.3 L789.9,736.5 L791.4,736.7 L792.9,736.9 L794.4,737.1 L795.9,737.3 L797.4,737.5 L798.9,737.8 L800.4,738.0 L801.9,738.3 L803.4,738.5 L804.9,738.8 L806.4,739.1 L807.9,739.3 L809.4,739.6 L810.9,739.9 L812.4,740.2 L813.9,740.4 L815.4,740.7 L816.9,741.0 L818.4,741.2 L819.9,741.5 L821.4,741.8 L822.9,742.0 L824.4,742.3 L825.9,742.5 L827.4,742.8 L828.9,743.0 L830.4,743.3 L831.9,743.5 L833.4,743.7 L834.9,744.0 L836.4,744.2 L837.9,744.4 L839.4,744.7 L840.9,744.9 L842.4,745.1 L843.9,745.3 L845.4,745.5 L846.9,745.6 L848.4,745.7 L849.9,745.8 L851.4,745.9 L852.9,746.0 L854.4,746.1 L855.9,746.1 L857.4,746.1 L858.9,746.1 L860.4,746.1 L861.9,746.0 L863.4,746.0 L864.9,745.8 L866.4,745.7 L867.9,745.5 L869.4,745.2 L870.9,744.9 L872.4,744.5 L873.9,744.1 L875.4,743.5 L876.9,742.9 L878.4,742.1 L879.9,741.2 L881.4,740.2 L882.9,739.1 L884.4,737.7 L885.9,736.2 L887.4,734.5 L888.9,732.5 L890.4,730.3 L891.9,727.9 L893.4,725.3 L894.9,722.3 L896.4,719.1 L897.9,715.7 L899.4,712.0 L900.9,708.1 L902.4,703.9 L903.9,699.6 L905.4,695.1 L906.9,690.4 L908.4,685.7 L909.9,680.9 L911.4,676.1 L912.9,671.4 L914.4,666.9 L915.9,662.5 L917.5,658.5 L919.0,654.8 L920.5,651.5 L922.0,648.7 L923.5,646.4 L925.0,644.8 L926.5,643.9 L928.0,643.6 L929.5,644.0 L931.0,644.9 L932.5,646.4 L934.0,648.5 L935.5,651.0 L937.0,653.9 L938.5,657.2 L940.0,660.8 L941.5,664.6 L943.0,668.7 L944.5,672.8 L946.0,677.1 L947.5,681.3 L949.0,685.6 L950.5,689.8 L952.0,693.9 L953.5,697.9 L955.0,701.8 L956.5,705.5 L958.0,709.1 L959.5,712.4 L961.0,715.6 L962.5,718.6 L964.0,721.4 L965.5,724.0 L967.0,726.4 L968.5,728.7 L970.0,730.7 L971.5,732.6 L973.0,734.3 L974.5,735.8 L976.0,737.2 L977.5,738.4 L979.0,739.6 L980.5,740.6 L982.0,741.5 L983.5,742.3 L985.0,743.0 L986.5,743.6 L988.0,744.2 L989.5,744.7 L991.0,745.2 L992.5,745.6 L994.0,746.0 L995.5,746.3 L997.0,746.6 L998.5,746.9 L1000.0,747.1 L1001.5,747.3 L1003.0,747.5 L1004.5,747.7 L1006.0,747.9 L1007.5,748.1 L1009.0,748.2 L1010.5,748.4 L1012.0,748.5 L1013.5,748.7 L1015.0,748.8 L1016.5,748.9 L1018.0,749.0 L1019.5,749.1 L1021.0,749.2 L1022.5,749.3 L1024.0,749.4 L1025.5,749.5 L1027.0,749.6 L1028.5,749.7 L1028.5,750.4 L1027.0,750.4 L1025.5,750.4 L1024.0,750.3 L1022.5,750.3 L1021.0,750.3 L1019.5,750.3 L1018.0,750.3 L1016.5,750.2 L1015.0,750.2 L1013.5,750.2 L1012.0,750.2 L1010.5,750.1 L1009.0,750.1 L1007.5,750.1 L1006.0,750.1 L1004.5,750.0 L1003.0,750.0 L1001.5,750.0 L1000.0,750.0 L998.5,749.9 L997.0,749.9 L995.5,749.9 L994.0,749.9 L992.5,749.8 L991.0,749.8 L989.5,749.8 L988.0,749.8 L986.5,749.7 L985.0,749.7 L983.5,749.7 L982.0,749.7 L980.5,749.6 L979.0,749.6 L977.5,749.6 L976.0,749.6 L974.5,749.5 L973.0,749.5 L971.5,749.5 L970.0,749.5 L968.5,749.4 L967.0,749.4 L965.5,749.4 L964.0,749.3 L962.5,749.3 L961.0,749.3 L959.5,749.3 L958.0,749.2 L956.5,749.2 L955.0,749.2 L953.5,749.1 L952.0,749.1 L950.5,749.1 L949.0,749.1 L947.5,749.0 L946.0,749.0 L944.5,749.0 L943.0,748.9 L941.5,748.9 L940.0,748.9 L938.5,748.9 L937.0,748.8 L935.5,748.8 L934.0,748.8 L932.5,748.7 L931.0,748.7 L929.5,748.7 L928.0,748.7 L926.5,748.6 L925.0,748.6 L923.5,748.6 L922.0,748.5 L920.5,748.5 L919.0,748.5 L917.5,748.5 L915.9,748.4 L914.4,748.4 L912.9,748.4 L911.4,748.3 L909.9,748.3 L908.4,748.3 L906.9,748.3 L905.4,748.2 L903.9,748.2 L902.4,748.2 L900.9,748.1 L899.4,748.1 L897.9,748.1 L896.4,748.1 L894.9,748.0 L893.4,748.0 L891.9,748.0 L890.4,747.9 L888.9,747.9 L887.4,747.9 L885.9,747.9 L884.4,747.8 L882.9,747.8 L881.4,747.8 L879.9,747.7 L878.4,747.7 L876.9,747.7 L875.4,747.7 L873.9,747.6 L872.4,747.6 L870.9,747.5 L869.4,747.5 L867.9,747.4 L866.4,747.3 L864.9,747.3 L863.4,747.2 L861.9,747.1 L860.4,747.0 L858.9,746.9 L857.4,746.7 L855.9,746.6 L854.4,746.5 L852.9,746.3 L851.4,746.2 L849.9,746.0 L848.4,745.9 L846.9,745.7 L845.4,745.5 L843.9,745.3 L842.4,745.1 L840.9,744.9 L839.4,744.7 L837.9,744.4 L836.4,744.2 L834.9,744.0 L833.4,743.7 L831.9,743.5 L830.4,743.3 L828.9,743.0 L827.4,742.8 L825.9,742.5 L824.4,742.3 L822.9,742.0 L821.4,741.8 L819.9,741.5 L818.4,741.2 L816.9,741.0 L815.4,740.7 L813.9,740.4 L812.4,740.2 L810.9,739.9 L809.4,739.6 L807.9,739.3 L806.4,739.1 L804.9,738.8 L803.4,738.5 L801.9,738.3 L800.4,738.0 L798.9,737.8 L797.4,737.5 L795.9,737.3 L794.4,737.1 L792.9,736.9 L791.4,736.7 L789.9,736.5 L788.4,736.3 L786.9,736.1 L785.4,735.9 L783.9,735.8 L782.4,735.7 L780.9,735.5 L779.4,735.4 L777.9,735.3 L776.4,735.2 L774.9,735.1 L773.4,735.0 L771.9,735.0 L770.4,734.9 L768.9,734.8 L767.4,734.8 L765.9,734.7 L764.4,734.6 L762.9,734.6 L761.4,734.5 L759.9,734.5 L758.4,734.4 L756.9,734.4 L755.4,734.4 L753.9,734.3 L752.4,734.3 L750.9,734.3 L749.4,734.2 L747.9,734.2 L746.4,734.2 L744.9,734.2 L743.4,734.2 L741.9,734.1 L740.4,734.1 L738.9,734.1 L737.4,734.1 L735.9,734.1 L734.4,734.1 L732.9,734.1 L731.4,734.1 L729.9,734.1 L728.4,734.1 L726.9,734.1 L725.4,734.1 L723.9,734.1 L722.4,734.1 L720.9,734.1 L719.4,734.1 L717.9,734.1 L716.4,734.1 L714.9,734.1 L713.4,734.1 L711.9,734.1 L710.4,734.1 L708.9,734.1 L707.4,734.1 L705.9,734.1 L704.4,734.1 L702.9,734.1 L701.4,734.1 L699.9,734.1 L698.4,734.1 L696.9,734.1 L695.4,734.0 L693.8,734.0 L692.3,734.0 L690.8,734.0 L689.3,734.0 L687.8,734.0 L686.3,734.0 L684.8,734.0 L683.3,734.0 L681.8,734.0 L680.3,734.0 L678.8,734.0 L677.3,734.0 L675.8,734.0 L674.3,734.0 L672.8,734.0 L671.3,734.0 L669.8,734.0 L668.3,734.0 L666.8,734.0 L665.3,734.0 L663.8,734.0 L662.3,734.0 L660.8,734.0 L659.3,734.0 L657.8,734.0 L656.3,734.0 L654.8,734.0 L653.3,734.0 L651.8,734.0 L650.3,733.9 L648.8,733.9 L647.3,733.9 L645.8,733.9 L644.3,733.9 L642.8,733.9 L641.3,733.9 L639.8,733.9 Z" fill="#000080" fill-opacity="0.85" stroke="none" stroke-width="0.8"/>
<path d="M638.3,731.4 L639.3,731.2 L640.3,731.1 L641.3,730.9 L642.3,730.8 L643.3,730.6 L644.3,730.4 L645.3,730.3 L646.3,730.1 L647.3,729.9 L648.3,729.8 L649.3,729.6 L650.3,729.4 L651.3,729.3 L652.3,729.1 L653.3,728.9 L654.3,728.8 L655.3,728.6 L656.3,728.4 L657.3,728.3 L658.3,728.1 L659.3,727.9 L660.3,727.8 L661.3,727.6 L662.3,727.4 L663.3,727.2 L664.3,727.1 L665.3,726.9 L666.3,726.7 L667.3,726.6 L668.3,726.4 L669.3,726.2 L670.3,726.1 L671.3,725.9 L672.3,725.7 L673.3,725.5 L674.3,725.4 L675.3,725.2 L676.3,725.0 L677.3,724.8 L678.3,724.7 L679.3,724.5 L680.3,724.3 L681.3,724.1 L682.3,723.9 L683.3,723.8 L684.3,723.6 L685.3,723.4 L686.3,723.2 L687.3,723.0 L688.3,722.9 L689.3,722.7 L690.3,722.5 L691.3,722.3 L692.3,722.2 L693.3,722.0 L694.3,721.8 L695.3,721.6 L696.3,721.4 L697.3,721.3 L698.3,721.1 L699.3,720.9 L700.3,720.7 L701.3,720.5 L702.3,720.3 L703.3,720.0 L704.3,719.8 L705.3,719.6 L706.3,719.3 L707.3,719.1 L708.3,718.8 L709.3,718.6 L710.3,718.3 L711.3,718.0 L712.3,717.8 L713.3,717.5 L714.3,717.2 L715.3,716.9 L716.3,716.6 L717.3,716.3 L718.3,716.0 L719.3,715.7 L720.3,715.4 L721.3,715.0 L722.3,714.7 L723.3,714.4 L724.3,714.0 L725.3,713.7 L726.3,713.4 L727.3,713.0 L728.3,712.7 L729.3,712.3 L730.3,711.8 L731.3,711.2 L732.3,710.5 L733.3,709.7 L734.3,708.7 L735.3,707.7 L736.3,706.6 L737.3,705.3 L738.3,704.0 L739.3,702.6 L740.3,701.2 L741.3,699.6 L742.3,698.0 L743.3,696.4 L744.3,694.7 L745.3,693.0 L746.3,691.1 L747.3,689.2 L748.3,687.2 L749.3,685.0 L750.3,682.8 L751.3,680.5 L752.3,678.1 L753.3,675.7 L754.3,673.3 L755.3,670.9 L756.3,668.5 L757.3,666.0 L758.3,663.3 L759.3,660.4 L760.3,657.2 L761.3,653.7 L762.3,649.8 L763.3,645.7 L764.3,641.4 L765.3,636.9 L766.3,632.4 L767.3,627.8 L768.3,623.0 L769.3,618.2 L770.3,613.4 L771.3,608.4 L772.3,603.5 L773.3,598.5 L774.3,593.5 L775.3,588.5 L776.3,583.5 L777.3,578.5 L778.3,573.5 L779.3,568.5 L780.3,563.5 L781.3,558.5 L782.3,553.6 L783.3,548.7 L784.3,543.9 L785.3,539.0 L786.3,534.1 L787.3,529.3 L788.3,524.4 L789.3,519.5 L790.3,514.4 L791.3,509.1 L792.3,503.7 L793.3,498.1 L794.3,492.6 L795.3,487.1 L796.3,481.7 L797.3,476.5 L798.3,471.6 L799.3,467.2 L800.3,463.0 L801.3,459.2 L802.3,455.6 L803.3,452.3 L804.3,449.1 L805.3,446.2 L806.3,443.9 L807.3,442.0 L808.3,440.6 L809.3,439.7 L810.3,439.2 L811.3,439.0 L812.3,439.0 L813.3,439.3 L814.3,439.8 L815.3,440.9 L816.3,442.6 L817.3,444.7 L818.3,447.2 L819.3,449.9 L820.3,452.9 L821.3,455.9 L822.3,459.0 L823.3,462.2 L824.3,465.5 L825.3,469.0 L826.3,472.6 L827.3,476.3 L828.3,480.1 L829.3,483.9 L830.3,487.8 L831.3,491.6 L832.3,495.6 L833.3,499.5 L834.3,503.5 L835.3,507.6 L836.3,511.7 L837.3,515.9 L838.3,520.1 L839.3,524.5 L840.3,529.2 L841.3,534.0 L842.3,538.9 L843.3,543.8 L844.3,548.7 L845.3,553.5 L846.3,558.2 L847.3,562.6 L848.3,566.9 L849.3,571.0 L850.3,575.0 L851.3,579.0 L852.3,583.0 L853.3,587.1 L854.3,591.4 L855.3,595.8 L856.3,600.6 L857.3,605.6 L858.3,610.7 L859.3,615.8 L860.3,620.7 L861.3,625.4 L862.3,629.8 L863.3,634.0 L864.3,638.0 L865.3,641.8 L866.3,645.5 L867.3,649.0 L868.3,652.3 L869.3,655.3 L870.3,658.0 L871.3,660.4 L872.3,662.6 L873.3,664.6 L874.3,666.3 L875.3,667.9 L876.3,669.3 L877.3,670.6 L878.3,671.5 L879.3,672.3 L880.3,672.9 L881.3,673.4 L882.3,673.9 L883.3,674.3 L884.3,674.6 L885.3,674.8 L886.3,674.9 L887.3,675.0 L888.3,675.1 L889.3,675.0 L890.3,675.0 L891.3,674.8 L892.3,674.6 L893.3,674.2 L894.3,673.7 L895.3,673.0 L896.3,672.2 L897.3,671.3 L898.3,670.2 L899.3,669.1 L900.3,667.9 L901.3,666.5 L902.3,665.1 L903.3,663.5 L904.3,661.9 L905.3,660.3 L906.3,658.7 L907.3,657.1 L908.3,655.4 L909.3,653.8 L910.3,652.0 L911.3,650.3 L912.3,648.5 L913.3,646.7 L914.3,644.9 L915.3,643.0 L916.3,641.2 L917.3,639.5 L918.3,637.8 L919.3,636.3 L920.3,634.9 L921.3,633.6 L922.3,632.4 L923.3,631.3 L924.3,630.5 L925.3,630.0 L926.3,629.8 L927.3,629.9 L928.3,630.1 L929.3,630.4 L930.3,630.9 L931.3,631.6 L932.3,632.4 L933.3,633.5 L934.3,634.9 L935.3,636.5 L936.3,638.1 L937.3,639.7 L938.3,641.4 L939.3,643.1 L940.3,644.9 L941.3,646.6 L942.3,648.4 L943.3,650.3 L944.3,652.1 L945.3,654.0 L946.3,655.9 L947.3,657.9 L948.3,659.9 L949.3,662.0 L950.3,664.2 L951.3,666.4 L952.3,669.2 L953.3,672.6 L954.3,676.3 L955.3,680.2 L956.3,684.3 L957.3,688.4 L958.3,692.3 L959.3,695.9 L960.3,699.0 L961.3,701.6 L962.3,704.0 L963.3,706.3 L964.3,708.5 L965.3,710.5 L966.3,712.4 L967.3,714.2 L968.3,715.9 L969.3,717.4 L970.3,718.8 L971.3,720.0 L972.3,721.2 L973.3,722.4 L974.3,723.5 L975.3,724.6 L976.3,725.7 L977.3,726.7 L978.3,727.6 L979.3,728.5 L980.3,729.3 L981.3,730.0 L982.3,730.6 L983.3,731.2 L984.3,731.8 L985.3,732.4 L986.3,733.1 L987.3,733.7 L988.3,734.2 L989.3,734.8 L990.3,735.4 L991.3,736.0 L992.3,736.5 L993.3,737.1 L994.3,737.6 L995.3,738.2 L996.3,738.7 L997.3,739.2 L998.3,739.7 L999.3,740.2 L1000.3,740.7 L1001.3,741.2 L1002.3,741.7 L1003.3,742.1 L1004.3,742.5 L1005.3,742.9 L1006.3,743.3 L1007.3,743.7 L1008.3,744.0 L1009.3,744.3 L1010.3,744.6 L1011.3,744.9 L1012.3,745.1 L1013.3,745.3 L1014.3,745.5 L1015.3,745.7 L1016.3,745.8 L1017.3,745.9 L1018.3,746.1 L1019.3,746.2 L1020.3,746.3 L1021.3,746.3 L1022.3,746.4 L1023.3,746.4 L1024.3,746.5 L1025.3,746.5 L1026.3,746.5 L1027.3,746.5 L1028.3,746.5 L1028.5,746.5" fill="none" stroke="#e8262a" stroke-width="3.0" stroke-dasharray="9.5,10"/>
</g>
<line x1="741.2" y1="532.5" x2="802.3" y2="593.6" stroke="#111" stroke-width="1.6"/>
<path d="M807.2,598.5 L799.8,595.2 L803.9,591.1 Z" fill="#111"/>
<line x1="908.3" y1="586.1" x2="845.2" y2="647.2" stroke="#111" stroke-width="1.6"/>
<path d="M840.2,652.1 L843.6,644.8 L847.6,649.0 Z" fill="#111"/>
<line x1="972.2" y1="627.4" x2="929.7" y2="669.9" stroke="#111" stroke-width="1.6"/>
<path d="M924.8,674.8 L928.1,667.4 L932.2,671.5 Z" fill="#111"/>
<line x1="691.7" y1="633.6" x2="759.0" y2="700.9" stroke="#111" stroke-width="1.6"/>
<path d="M763.9,705.8 L756.5,702.5 L760.6,698.4 Z" fill="#111"/>
<rect x="605.6" y="420.2" width="422.9" height="343.3" fill="none" stroke="#111" stroke-width="2.4"/>
<line x1="673.0" y1="763.5" x2="673.0" y2="769.5" stroke="#111" stroke-width="2.2"/>
<line x1="774.7" y1="763.5" x2="774.7" y2="769.5" stroke="#111" stroke-width="2.2"/>
<line x1="876.4" y1="763.5" x2="876.4" y2="769.5" stroke="#111" stroke-width="2.2"/>
<line x1="978.0" y1="763.5" x2="978.0" y2="769.5" stroke="#111" stroke-width="2.2"/>
<line x1="622.2" y1="763.5" x2="622.2" y2="767.0" stroke="#111" stroke-width="2.2"/>
<line x1="723.9" y1="763.5" x2="723.9" y2="767.0" stroke="#111" stroke-width="2.2"/>
<line x1="825.5" y1="763.5" x2="825.5" y2="767.0" stroke="#111" stroke-width="2.2"/>
<line x1="927.2" y1="763.5" x2="927.2" y2="767.0" stroke="#111" stroke-width="2.2"/>
<line x1="1028.8" y1="763.5" x2="1028.8" y2="767.0" stroke="#111" stroke-width="2.2"/>
<line x1="605.6" y1="716.1" x2="599.6" y2="716.1" stroke="#111" stroke-width="2.2"/>
<line x1="605.6" y1="651.7" x2="599.6" y2="651.7" stroke="#111" stroke-width="2.2"/>
<line x1="605.6" y1="587.2" x2="599.6" y2="587.2" stroke="#111" stroke-width="2.2"/>
<line x1="605.6" y1="522.8" x2="599.6" y2="522.8" stroke="#111" stroke-width="2.2"/>
<line x1="605.6" y1="458.3" x2="599.6" y2="458.3" stroke="#111" stroke-width="2.2"/>
<line x1="605.6" y1="683.9" x2="602.1" y2="683.9" stroke="#111" stroke-width="2.2"/>
<line x1="605.6" y1="619.4" x2="602.1" y2="619.4" stroke="#111" stroke-width="2.2"/>
<line x1="605.6" y1="555.0" x2="602.1" y2="555.0" stroke="#111" stroke-width="2.2"/>
<line x1="605.6" y1="490.5" x2="602.1" y2="490.5" stroke="#111" stroke-width="2.2"/>
<line x1="605.6" y1="748.3" x2="602.1" y2="748.3" stroke="#111" stroke-width="2.2"/>
<line x1="605.6" y1="426.1" x2="602.1" y2="426.1" stroke="#111" stroke-width="2.2"/>
<text x="673.0" y="794.7" font-size="24.5" fill="#000" text-anchor="middle">693</text>
<text x="774.7" y="794.7" font-size="24.5" fill="#000" text-anchor="middle">690</text>
<text x="876.4" y="794.7" font-size="24.5" fill="#000" text-anchor="middle">687</text>
<text x="978.0" y="794.7" font-size="24.5" fill="#000" text-anchor="middle">684</text>
<text x="593.5" y="724.5" font-size="30.5" fill="#000" text-anchor="end">6</text>
<text x="593.5" y="660.1" font-size="30.5" fill="#000" text-anchor="end">8</text>
<text x="593.5" y="595.6" font-size="30.5" fill="#000" text-anchor="end">10</text>
<text x="593.5" y="531.2" font-size="30.5" fill="#000" text-anchor="end">12</text>
<text x="593.5" y="466.7" font-size="30.5" fill="#000" text-anchor="end">14</text>
<text x="609.00" y="449.28" font-size="22.14" fill="#e8141c" stroke="#e8141c" stroke-width="0.45" textLength="39.96" lengthAdjust="spacingAndGlyphs">F1s</text>
<text x="878.20" y="449.85" font-size="25.49" fill="#e8141c" stroke="#e8141c" stroke-width="0.45" textLength="144.36" lengthAdjust="spacingAndGlyphs">2FSI+1TFSI</text>
<text x="683.50" y="823.99" font-size="23.85" fill="#000" stroke="#000" stroke-width="0.45" textLength="243.94" lengthAdjust="spacingAndGlyphs">Binding Energy (eV)</text>
<text x="0" y="0" font-size="25.22" fill="#000" stroke="#000" stroke-width="0.4" textLength="235.55" lengthAdjust="spacingAndGlyphs" transform="translate(550.40 699.10) rotate(-90)">Intensity (10<tspan font-size="15.13" dy="-10.59">4</tspan><tspan dy="10.59"> cps)</tspan></text>
<text x="726.50" y="522.44" font-size="25.63" fill="#ee22ee" stroke="#ee22ee" stroke-width="0.45" textLength="39.12" lengthAdjust="spacingAndGlyphs">-SF</text>
<text x="766.20" y="528.90" font-size="26.79" fill="#ee22ee" stroke="#ee22ee" stroke-width="0.45" textLength="13.03" lengthAdjust="spacingAndGlyphs">x</text>
<text x="681.80" y="628.85" font-size="24.65" fill="#f07d1a" stroke="#f07d1a" stroke-width="0.45" textLength="37.42" lengthAdjust="spacingAndGlyphs">-CF</text>
<text x="719.70" y="638.80" font-size="26.79" fill="#f07d1a" stroke="#f07d1a" stroke-width="0.45" textLength="13.63" lengthAdjust="spacingAndGlyphs">x</text>
<text x="862.70" y="551.27" font-size="22.96" fill="#148a14" stroke="#148a14" stroke-width="0.45" textLength="37.92" lengthAdjust="spacingAndGlyphs">C-F</text>
<text x="862.70" y="582.21" font-size="25.67" fill="#148a14" stroke="#148a14" stroke-width="0.45" textLength="140.25" lengthAdjust="spacingAndGlyphs">(semi-ionic)</text>
<text x="967.60" y="619.50" font-size="24.97" fill="#0c0c80" stroke="#0c0c80" stroke-width="0.45" textLength="35.29" lengthAdjust="spacingAndGlyphs">LiF</text>
<clipPath id="clip5"><rect x="68.9" y="853.3" width="434.1" height="354.9"/></clipPath>
<g clip-path="url(#clip5)">
<path d="M84.1,1173.9 L85.7,1173.9 L87.3,1173.9 L88.9,1173.9 L90.5,1173.9 L92.1,1173.9 L93.7,1173.9 L95.3,1173.9 L96.9,1173.9 L98.6,1173.9 L100.2,1173.9 L101.8,1173.9 L103.4,1173.9 L105.0,1173.9 L106.6,1173.9 L108.2,1173.9 L109.8,1173.8 L111.4,1173.8 L113.0,1173.8 L114.6,1173.8 L116.2,1173.8 L117.8,1173.8 L119.4,1173.8 L121.1,1173.7 L122.7,1173.7 L124.3,1173.7 L125.9,1173.7 L127.5,1173.6 L129.1,1173.6 L130.7,1173.6 L132.3,1173.5 L133.9,1173.5 L135.5,1173.5 L137.1,1173.4 L138.7,1173.3 L140.3,1173.3 L141.9,1173.2 L143.5,1173.1 L145.2,1173.0 L146.8,1172.9 L148.4,1172.8 L150.0,1172.7 L151.6,1172.5 L153.2,1172.4 L154.8,1172.2 L156.4,1172.0 L158.0,1171.8 L159.6,1171.5 L161.2,1171.2 L162.8,1170.9 L164.4,1170.5 L166.0,1170.1 L167.7,1169.6 L169.3,1169.1 L170.9,1168.5 L172.5,1167.9 L174.1,1167.2 L175.7,1166.4 L177.3,1165.6 L178.9,1164.6 L180.5,1163.6 L182.1,1162.5 L183.7,1161.3 L185.3,1160.0 L186.9,1158.5 L188.5,1157.0 L190.2,1155.4 L191.8,1153.6 L193.4,1151.8 L195.0,1149.8 L196.6,1147.8 L198.2,1145.6 L199.8,1143.4 L201.4,1141.1 L203.0,1138.7 L204.6,1136.2 L206.2,1133.7 L207.8,1131.2 L209.4,1128.6 L211.0,1126.0 L212.6,1123.4 L214.3,1120.9 L215.9,1118.5 L217.5,1116.1 L219.1,1113.8 L220.7,1111.6 L222.3,1109.7 L223.9,1107.9 L225.5,1106.3 L227.1,1104.9 L228.7,1103.9 L230.3,1103.1 L231.9,1102.6 L233.5,1102.4 L235.1,1102.5 L236.8,1103.0 L238.4,1103.9 L240.0,1105.1 L241.6,1106.7 L243.2,1108.5 L244.8,1110.7 L246.4,1113.1 L248.0,1115.7 L249.6,1118.4 L251.2,1121.3 L252.8,1124.3 L254.4,1127.4 L256.0,1130.5 L257.6,1133.6 L259.2,1136.7 L260.9,1139.7 L262.5,1142.7 L264.1,1145.6 L265.7,1148.3 L267.3,1150.9 L268.9,1153.4 L270.5,1155.8 L272.1,1158.0 L273.7,1160.0 L275.3,1161.9 L276.9,1163.6 L278.5,1165.2 L280.1,1166.7 L281.7,1168.0 L283.4,1169.1 L285.0,1170.2 L286.6,1171.1 L288.2,1171.9 L289.8,1172.7 L291.4,1173.3 L293.0,1173.9 L294.6,1174.4 L296.2,1174.8 L297.8,1175.2 L299.4,1175.5 L301.0,1175.8 L302.6,1176.0 L304.2,1176.2 L305.8,1176.4 L307.5,1176.5 L309.1,1176.7 L310.7,1176.8 L312.3,1176.9 L313.9,1177.0 L315.5,1177.1 L317.1,1177.2 L318.7,1177.2 L320.3,1177.3 L321.9,1177.3 L323.5,1177.4 L325.1,1177.4 L326.7,1177.5 L328.3,1177.5 L330.0,1177.6 L331.6,1177.6 L333.2,1177.7 L334.8,1177.7 L336.4,1177.7 L338.0,1177.7 L339.6,1177.8 L341.2,1177.8 L342.8,1177.8 L344.4,1177.8 L346.0,1177.8 L347.6,1177.9 L349.2,1177.9 L350.8,1177.9 L352.4,1177.9 L354.1,1177.9 L355.7,1178.0 L357.3,1178.0 L358.9,1178.0 L360.5,1178.0 L362.1,1178.1 L363.7,1178.1 L365.3,1178.1 L366.9,1178.1 L368.5,1178.1 L370.1,1178.2 L371.7,1178.2 L373.3,1178.2 L374.9,1178.2 L376.6,1178.2 L378.2,1178.3 L379.8,1178.3 L381.4,1178.3 L383.0,1178.3 L384.6,1178.4 L386.2,1178.4 L387.8,1178.4 L389.4,1178.4 L391.0,1178.4 L392.6,1178.5 L394.2,1178.5 L395.8,1178.5 L397.4,1178.5 L399.1,1178.5 L400.7,1178.6 L402.3,1178.6 L403.9,1178.6 L405.5,1178.6 L407.1,1178.7 L408.7,1178.7 L410.3,1178.7 L411.9,1178.7 L413.5,1178.7 L415.1,1178.8 L416.7,1178.8 L418.3,1178.8 L419.9,1178.8 L421.5,1178.9 L423.2,1178.9 L424.8,1178.9 L426.4,1178.9 L428.0,1178.9 L429.6,1179.0 L431.2,1179.0 L432.8,1179.0 L434.4,1179.0 L436.0,1179.1 L437.6,1179.1 L439.2,1179.1 L440.8,1179.1 L442.4,1179.2 L444.0,1179.2 L445.7,1179.2 L447.3,1179.2 L448.9,1179.2 L450.5,1179.3 L452.1,1179.3 L453.7,1179.3 L455.3,1179.3 L456.9,1179.4 L458.5,1179.4 L460.1,1179.4 L461.7,1179.4 L463.3,1179.5 L464.9,1179.5 L466.5,1179.5 L468.1,1179.5 L469.8,1179.5 L471.4,1179.6 L473.0,1179.6 L474.6,1179.6 L476.2,1179.6 L477.8,1179.7 L479.4,1179.7 L481.0,1179.7 L482.6,1179.7 L484.2,1179.8 L485.8,1179.8 L487.4,1179.8 L489.0,1179.8 L490.6,1179.9 L492.3,1179.9 L493.9,1179.9 L495.5,1179.9 L497.1,1180.0 L498.7,1180.0 L500.3,1180.0 L500.3,1180.0 L498.7,1180.0 L497.1,1180.0 L495.5,1179.9 L493.9,1179.9 L492.3,1179.9 L490.6,1179.9 L489.0,1179.8 L487.4,1179.8 L485.8,1179.8 L484.2,1179.8 L482.6,1179.7 L481.0,1179.7 L479.4,1179.7 L477.8,1179.7 L476.2,1179.6 L474.6,1179.6 L473.0,1179.6 L471.4,1179.6 L469.8,1179.5 L468.1,1179.5 L466.5,1179.5 L464.9,1179.5 L463.3,1179.5 L461.7,1179.4 L460.1,1179.4 L458.5,1179.4 L456.9,1179.4 L455.3,1179.3 L453.7,1179.3 L452.1,1179.3 L450.5,1179.3 L448.9,1179.2 L447.3,1179.2 L445.7,1179.2 L444.0,1179.2 L442.4,1179.2 L440.8,1179.1 L439.2,1179.1 L437.6,1179.1 L436.0,1179.1 L434.4,1179.0 L432.8,1179.0 L431.2,1179.0 L429.6,1179.0 L428.0,1178.9 L426.4,1178.9 L424.8,1178.9 L423.2,1178.9 L421.5,1178.9 L419.9,1178.8 L418.3,1178.8 L416.7,1178.8 L415.1,1178.8 L413.5,1178.7 L411.9,1178.7 L410.3,1178.7 L408.7,1178.7 L407.1,1178.7 L405.5,1178.6 L403.9,1178.6 L402.3,1178.6 L400.7,1178.6 L399.1,1178.5 L397.4,1178.5 L395.8,1178.5 L394.2,1178.5 L392.6,1178.5 L391.0,1178.4 L389.4,1178.4 L387.8,1178.4 L386.2,1178.4 L384.6,1178.4 L383.0,1178.3 L381.4,1178.3 L379.8,1178.3 L378.2,1178.3 L376.6,1178.2 L374.9,1178.2 L373.3,1178.2 L371.7,1178.2 L370.1,1178.2 L368.5,1178.1 L366.9,1178.1 L365.3,1178.1 L363.7,1178.1 L362.1,1178.1 L360.5,1178.0 L358.9,1178.0 L357.3,1178.0 L355.7,1178.0 L354.1,1177.9 L352.4,1177.9 L350.8,1177.9 L349.2,1177.9 L347.6,1177.9 L346.0,1177.8 L344.4,1177.8 L342.8,1177.8 L341.2,1177.8 L339.6,1177.8 L338.0,1177.7 L336.4,1177.7 L334.8,1177.7 L333.2,1177.7 L331.6,1177.7 L330.0,1177.6 L328.3,1177.6 L326.7,1177.6 L325.1,1177.6 L323.5,1177.6 L321.9,1177.5 L320.3,1177.5 L318.7,1177.5 L317.1,1177.5 L315.5,1177.4 L313.9,1177.4 L312.3,1177.4 L310.7,1177.4 L309.1,1177.4 L307.5,1177.3 L305.8,1177.3 L304.2,1177.3 L302.6,1177.3 L301.0,1177.3 L299.4,1177.2 L297.8,1177.2 L296.2,1177.2 L294.6,1177.2 L293.0,1177.2 L291.4,1177.1 L289.8,1177.1 L288.2,1177.1 L286.6,1177.1 L285.0,1177.1 L283.4,1177.0 L281.7,1177.0 L280.1,1177.0 L278.5,1177.0 L276.9,1176.9 L275.3,1176.9 L273.7,1176.9 L272.1,1176.9 L270.5,1176.9 L268.9,1176.8 L267.3,1176.8 L265.7,1176.8 L264.1,1176.8 L262.5,1176.8 L260.9,1176.7 L259.2,1176.7 L257.6,1176.7 L256.0,1176.7 L254.4,1176.7 L252.8,1176.6 L251.2,1176.6 L249.6,1176.6 L248.0,1176.6 L246.4,1176.6 L244.8,1176.5 L243.2,1176.5 L241.6,1176.5 L240.0,1176.5 L238.4,1176.4 L236.8,1176.4 L235.1,1176.4 L233.5,1176.4 L231.9,1176.4 L230.3,1176.3 L228.7,1176.3 L227.1,1176.3 L225.5,1176.3 L223.9,1176.3 L222.3,1176.2 L220.7,1176.2 L219.1,1176.2 L217.5,1176.2 L215.9,1176.2 L214.3,1176.1 L212.6,1176.1 L211.0,1176.1 L209.4,1176.1 L207.8,1176.0 L206.2,1176.0 L204.6,1176.0 L203.0,1176.0 L201.4,1176.0 L199.8,1175.9 L198.2,1175.9 L196.6,1175.9 L195.0,1175.9 L193.4,1175.9 L191.8,1175.8 L190.2,1175.8 L188.5,1175.8 L186.9,1175.8 L185.3,1175.7 L183.7,1175.7 L182.1,1175.7 L180.5,1175.7 L178.9,1175.7 L177.3,1175.6 L175.7,1175.6 L174.1,1175.6 L172.5,1175.6 L170.9,1175.5 L169.3,1175.5 L167.7,1175.5 L166.0,1175.5 L164.4,1175.5 L162.8,1175.4 L161.2,1175.4 L159.6,1175.4 L158.0,1175.4 L156.4,1175.3 L154.8,1175.3 L153.2,1175.3 L151.6,1175.3 L150.0,1175.3 L148.4,1175.2 L146.8,1175.2 L145.2,1175.2 L143.5,1175.2 L141.9,1175.1 L140.3,1175.1 L138.7,1175.1 L137.1,1175.1 L135.5,1175.0 L133.9,1175.0 L132.3,1175.0 L130.7,1175.0 L129.1,1175.0 L127.5,1174.9 L125.9,1174.9 L124.3,1174.9 L122.7,1174.9 L121.1,1174.8 L119.4,1174.8 L117.8,1174.8 L116.2,1174.8 L114.6,1174.7 L113.0,1174.7 L111.4,1174.7 L109.8,1174.7 L108.2,1174.6 L106.6,1174.6 L105.0,1174.6 L103.4,1174.6 L101.8,1174.6 L100.2,1174.5 L98.6,1174.5 L96.9,1174.5 L95.3,1174.5 L93.7,1174.4 L92.1,1174.4 L90.5,1174.4 L88.9,1174.4 L87.3,1174.3 L85.7,1174.3 L84.1,1174.3 Z" fill="#00ee00" fill-opacity="1" stroke="none" stroke-width="0.8"/>
<path d="M84.1,1173.9 L85.7,1173.9 L87.3,1173.9 L88.9,1173.9 L90.5,1173.9 L92.1,1173.9 L93.7,1173.9 L95.3,1173.9 L96.9,1173.9 L98.6,1173.9 L100.2,1173.9 L101.8,1174.0 L103.4,1174.0 L105.0,1174.0 L106.6,1174.0 L108.2,1174.0 L109.8,1174.0 L111.4,1174.0 L113.0,1174.0 L114.6,1174.0 L116.2,1174.0 L117.8,1174.0 L119.4,1173.9 L121.1,1173.9 L122.7,1173.9 L124.3,1173.9 L125.9,1173.9 L127.5,1173.9 L129.1,1173.9 L130.7,1173.9 L132.3,1173.9 L133.9,1173.9 L135.5,1173.8 L137.1,1173.8 L138.7,1173.8 L140.3,1173.8 L141.9,1173.8 L143.5,1173.7 L145.2,1173.7 L146.8,1173.7 L148.4,1173.7 L150.0,1173.6 L151.6,1173.6 L153.2,1173.6 L154.8,1173.5 L156.4,1173.5 L158.0,1173.4 L159.6,1173.4 L161.2,1173.3 L162.8,1173.3 L164.4,1173.2 L166.0,1173.2 L167.7,1173.1 L169.3,1173.0 L170.9,1173.0 L172.5,1172.9 L174.1,1172.8 L175.7,1172.7 L177.3,1172.6 L178.9,1172.5 L180.5,1172.4 L182.1,1172.3 L183.7,1172.2 L185.3,1172.1 L186.9,1171.9 L188.5,1171.8 L190.2,1171.6 L191.8,1171.4 L193.4,1171.2 L195.0,1171.0 L196.6,1170.7 L198.2,1170.4 L199.8,1170.1 L201.4,1169.8 L203.0,1169.4 L204.6,1168.9 L206.2,1168.4 L207.8,1167.9 L209.4,1167.2 L211.0,1166.5 L212.6,1165.7 L214.3,1164.7 L215.9,1163.7 L217.5,1162.5 L219.1,1161.2 L220.7,1159.7 L222.3,1158.0 L223.9,1156.2 L225.5,1154.2 L227.1,1151.9 L228.7,1149.5 L230.3,1146.8 L231.9,1143.9 L233.5,1140.7 L235.1,1137.3 L236.8,1133.7 L238.4,1129.9 L240.0,1125.8 L241.6,1121.5 L243.2,1117.1 L244.8,1112.4 L246.4,1107.7 L248.0,1102.9 L249.6,1098.0 L251.2,1093.1 L252.8,1088.3 L254.4,1083.6 L256.0,1079.1 L257.6,1074.9 L259.2,1071.0 L260.9,1067.6 L262.5,1064.7 L264.1,1062.3 L265.7,1060.7 L267.3,1059.7 L268.9,1059.5 L270.5,1060.1 L272.1,1061.3 L273.7,1063.2 L275.3,1065.8 L276.9,1069.0 L278.5,1072.7 L280.1,1076.8 L281.7,1081.3 L283.4,1086.1 L285.0,1091.1 L286.6,1096.3 L288.2,1101.5 L289.8,1106.7 L291.4,1111.9 L293.0,1117.0 L294.6,1122.0 L296.2,1126.8 L297.8,1131.3 L299.4,1135.7 L301.0,1139.8 L302.6,1143.6 L304.2,1147.1 L305.8,1150.4 L307.5,1153.4 L309.1,1156.1 L310.7,1158.6 L312.3,1160.8 L313.9,1162.8 L315.5,1164.6 L317.1,1166.2 L318.7,1167.5 L320.3,1168.8 L321.9,1169.8 L323.5,1170.7 L325.1,1171.5 L326.7,1172.2 L328.3,1172.8 L330.0,1173.4 L331.6,1173.8 L333.2,1174.2 L334.8,1174.5 L336.4,1174.8 L338.0,1175.1 L339.6,1175.3 L341.2,1175.5 L342.8,1175.7 L344.4,1175.9 L346.0,1176.0 L347.6,1176.1 L349.2,1176.3 L350.8,1176.4 L352.4,1176.5 L354.1,1176.6 L355.7,1176.7 L357.3,1176.7 L358.9,1176.8 L360.5,1176.9 L362.1,1177.0 L363.7,1177.1 L365.3,1177.1 L366.9,1177.2 L368.5,1177.3 L370.1,1177.3 L371.7,1177.4 L373.3,1177.4 L374.9,1177.5 L376.6,1177.6 L378.2,1177.6 L379.8,1177.7 L381.4,1177.7 L383.0,1177.8 L384.6,1177.8 L386.2,1177.9 L387.8,1177.9 L389.4,1178.0 L391.0,1178.0 L392.6,1178.0 L394.2,1178.1 L395.8,1178.1 L397.4,1178.2 L399.1,1178.2 L400.7,1178.3 L402.3,1178.3 L403.9,1178.3 L405.5,1178.4 L407.1,1178.4 L408.7,1178.5 L410.3,1178.5 L411.9,1178.5 L413.5,1178.6 L415.1,1178.6 L416.7,1178.6 L418.3,1178.7 L419.9,1178.7 L421.5,1178.7 L423.2,1178.8 L424.8,1178.8 L426.4,1178.9 L428.0,1178.9 L429.6,1178.9 L431.2,1179.0 L432.8,1179.0 L434.4,1179.0 L436.0,1179.1 L437.6,1179.1 L439.2,1179.1 L440.8,1179.1 L442.4,1179.2 L444.0,1179.2 L445.7,1179.2 L447.3,1179.2 L448.9,1179.2 L450.5,1179.3 L452.1,1179.3 L453.7,1179.3 L455.3,1179.3 L456.9,1179.4 L458.5,1179.4 L460.1,1179.4 L461.7,1179.4 L463.3,1179.5 L464.9,1179.5 L466.5,1179.5 L468.1,1179.5 L469.8,1179.5 L471.4,1179.6 L473.0,1179.6 L474.6,1179.6 L476.2,1179.6 L477.8,1179.7 L479.4,1179.7 L481.0,1179.7 L482.6,1179.7 L484.2,1179.8 L485.8,1179.8 L487.4,1179.8 L489.0,1179.8 L490.6,1179.9 L492.3,1179.9 L493.9,1179.9 L495.5,1179.9 L497.1,1180.0 L498.7,1180.0 L500.3,1180.0 L500.3,1180.0 L498.7,1180.0 L497.1,1180.0 L495.5,1179.9 L493.9,1179.9 L492.3,1179.9 L490.6,1179.9 L489.0,1179.8 L487.4,1179.8 L485.8,1179.8 L484.2,1179.8 L482.6,1179.7 L481.0,1179.7 L479.4,1179.7 L477.8,1179.7 L476.2,1179.6 L474.6,1179.6 L473.0,1179.6 L471.4,1179.6 L469.8,1179.5 L468.1,1179.5 L466.5,1179.5 L464.9,1179.5 L463.3,1179.5 L461.7,1179.4 L460.1,1179.4 L458.5,1179.4 L456.9,1179.4 L455.3,1179.3 L453.7,1179.3 L452.1,1179.3 L450.5,1179.3 L448.9,1179.2 L447.3,1179.2 L445.7,1179.2 L444.0,1179.2 L442.4,1179.2 L440.8,1179.1 L439.2,1179.1 L437.6,1179.1 L436.0,1179.1 L434.4,1179.0 L432.8,1179.0 L431.2,1179.0 L429.6,1179.0 L428.0,1178.9 L426.4,1178.9 L424.8,1178.9 L423.2,1178.9 L421.5,1178.9 L419.9,1178.8 L418.3,1178.8 L416.7,1178.8 L415.1,1178.8 L413.5,1178.7 L411.9,1178.7 L410.3,1178.7 L408.7,1178.7 L407.1,1178.7 L405.5,1178.6 L403.9,1178.6 L402.3,1178.6 L400.7,1178.6 L399.1,1178.5 L397.4,1178.5 L395.8,1178.5 L394.2,1178.5 L392.6,1178.5 L391.0,1178.4 L389.4,1178.4 L387.8,1178.4 L386.2,1178.4 L384.6,1178.4 L383.0,1178.3 L381.4,1178.3 L379.8,1178.3 L378.2,1178.3 L376.6,1178.2 L374.9,1178.2 L373.3,1178.2 L371.7,1178.2 L370.1,1178.2 L368.5,1178.1 L366.9,1178.1 L365.3,1178.1 L363.7,1178.1 L362.1,1178.1 L360.5,1178.0 L358.9,1178.0 L357.3,1178.0 L355.7,1178.0 L354.1,1177.9 L352.4,1177.9 L350.8,1177.9 L349.2,1177.9 L347.6,1177.9 L346.0,1177.8 L344.4,1177.8 L342.8,1177.8 L341.2,1177.8 L339.6,1177.8 L338.0,1177.7 L336.4,1177.7 L334.8,1177.7 L333.2,1177.7 L331.6,1177.7 L330.0,1177.6 L328.3,1177.6 L326.7,1177.6 L325.1,1177.6 L323.5,1177.6 L321.9,1177.5 L320.3,1177.5 L318.7,1177.5 L317.1,1177.5 L315.5,1177.4 L313.9,1177.4 L312.3,1177.4 L310.7,1177.4 L309.1,1177.4 L307.5,1177.3 L305.8,1177.3 L304.2,1177.3 L302.6,1177.3 L301.0,1177.3 L299.4,1177.2 L297.8,1177.2 L296.2,1177.2 L294.6,1177.2 L293.0,1177.2 L291.4,1177.1 L289.8,1177.1 L288.2,1177.1 L286.6,1177.1 L285.0,1177.1 L283.4,1177.0 L281.7,1177.0 L280.1,1177.0 L278.5,1177.0 L276.9,1176.9 L275.3,1176.9 L273.7,1176.9 L272.1,1176.9 L270.5,1176.9 L268.9,1176.8 L267.3,1176.8 L265.7,1176.8 L264.1,1176.8 L262.5,1176.8 L260.9,1176.7 L259.2,1176.7 L257.6,1176.7 L256.0,1176.7 L254.4,1176.7 L252.8,1176.6 L251.2,1176.6 L249.6,1176.6 L248.0,1176.6 L246.4,1176.6 L244.8,1176.5 L243.2,1176.5 L241.6,1176.5 L240.0,1176.5 L238.4,1176.4 L236.8,1176.4 L235.1,1176.4 L233.5,1176.4 L231.9,1176.4 L230.3,1176.3 L228.7,1176.3 L227.1,1176.3 L225.5,1176.3 L223.9,1176.3 L222.3,1176.2 L220.7,1176.2 L219.1,1176.2 L217.5,1176.2 L215.9,1176.2 L214.3,1176.1 L212.6,1176.1 L211.0,1176.1 L209.4,1176.1 L207.8,1176.0 L206.2,1176.0 L204.6,1176.0 L203.0,1176.0 L201.4,1176.0 L199.8,1175.9 L198.2,1175.9 L196.6,1175.9 L195.0,1175.9 L193.4,1175.9 L191.8,1175.8 L190.2,1175.8 L188.5,1175.8 L186.9,1175.8 L185.3,1175.7 L183.7,1175.7 L182.1,1175.7 L180.5,1175.7 L178.9,1175.7 L177.3,1175.6 L175.7,1175.6 L174.1,1175.6 L172.5,1175.6 L170.9,1175.5 L169.3,1175.5 L167.7,1175.5 L166.0,1175.5 L164.4,1175.5 L162.8,1175.4 L161.2,1175.4 L159.6,1175.4 L158.0,1175.4 L156.4,1175.3 L154.8,1175.3 L153.2,1175.3 L151.6,1175.3 L150.0,1175.3 L148.4,1175.2 L146.8,1175.2 L145.2,1175.2 L143.5,1175.2 L141.9,1175.1 L140.3,1175.1 L138.7,1175.1 L137.1,1175.1 L135.5,1175.0 L133.9,1175.0 L132.3,1175.0 L130.7,1175.0 L129.1,1175.0 L127.5,1174.9 L125.9,1174.9 L124.3,1174.9 L122.7,1174.9 L121.1,1174.8 L119.4,1174.8 L117.8,1174.8 L116.2,1174.8 L114.6,1174.7 L113.0,1174.7 L111.4,1174.7 L109.8,1174.7 L108.2,1174.6 L106.6,1174.6 L105.0,1174.6 L103.4,1174.6 L101.8,1174.6 L100.2,1174.5 L98.6,1174.5 L96.9,1174.5 L95.3,1174.5 L93.7,1174.4 L92.1,1174.4 L90.5,1174.4 L88.9,1174.4 L87.3,1174.3 L85.7,1174.3 L84.1,1174.3 Z" fill="#840a04" fill-opacity="0.8" stroke="none" stroke-width="0.8"/>
<path d="M84.1,1174.3 L85.7,1174.3 L87.3,1174.3 L88.9,1174.4 L90.5,1174.4 L92.1,1174.4 L93.7,1174.4 L95.3,1174.5 L96.9,1174.5 L98.6,1174.5 L100.2,1174.5 L101.8,1174.6 L103.4,1174.6 L105.0,1174.6 L106.6,1174.6 L108.2,1174.6 L109.8,1174.7 L111.4,1174.7 L113.0,1174.7 L114.6,1174.7 L116.2,1174.8 L117.8,1174.8 L119.4,1174.8 L121.1,1174.8 L122.7,1174.9 L124.3,1174.9 L125.9,1174.9 L127.5,1174.9 L129.1,1175.0 L130.7,1175.0 L132.3,1175.0 L133.9,1175.0 L135.5,1175.0 L137.1,1175.1 L138.7,1175.1 L140.3,1175.1 L141.9,1175.1 L143.5,1175.2 L145.2,1175.2 L146.8,1175.2 L148.4,1175.2 L150.0,1175.3 L151.6,1175.3 L153.2,1175.3 L154.8,1175.3 L156.4,1175.3 L158.0,1175.4 L159.6,1175.4 L161.2,1175.4 L162.8,1175.4 L164.4,1175.5 L166.0,1175.5 L167.7,1175.5 L169.3,1175.5 L170.9,1175.5 L172.5,1175.6 L174.1,1175.6 L175.7,1175.6 L177.3,1175.6 L178.9,1175.7 L180.5,1175.7 L182.1,1175.7 L183.7,1175.7 L185.3,1175.7 L186.9,1175.8 L188.5,1175.8 L190.2,1175.8 L191.8,1175.8 L193.4,1175.8 L195.0,1175.9 L196.6,1175.9 L198.2,1175.9 L199.8,1175.9 L201.4,1175.9 L203.0,1175.9 L204.6,1175.9 L206.2,1175.9 L207.8,1175.9 L209.4,1175.9 L211.0,1175.9 L212.6,1175.9 L214.3,1175.9 L215.9,1175.9 L217.5,1175.9 L219.1,1175.9 L220.7,1175.9 L222.3,1175.9 L223.9,1175.9 L225.5,1175.9 L227.1,1175.9 L228.7,1175.9 L230.3,1175.9 L231.9,1175.9 L233.5,1175.9 L235.1,1175.9 L236.8,1175.9 L238.4,1175.9 L240.0,1175.8 L241.6,1175.8 L243.2,1175.8 L244.8,1175.8 L246.4,1175.7 L248.0,1175.7 L249.6,1175.6 L251.2,1175.5 L252.8,1175.5 L254.4,1175.4 L256.0,1175.3 L257.6,1175.1 L259.2,1174.9 L260.9,1174.7 L262.5,1174.5 L264.1,1174.2 L265.7,1173.8 L267.3,1173.4 L268.9,1172.9 L270.5,1172.3 L272.1,1171.5 L273.7,1170.7 L275.3,1169.7 L276.9,1168.5 L278.5,1167.1 L280.1,1165.6 L281.7,1163.7 L283.4,1161.7 L285.0,1159.3 L286.6,1156.7 L288.2,1153.7 L289.8,1150.4 L291.4,1146.7 L293.0,1142.7 L294.6,1138.3 L296.2,1133.5 L297.8,1128.4 L299.4,1122.9 L301.0,1117.1 L302.6,1111.0 L304.2,1104.6 L305.8,1098.0 L307.5,1091.3 L309.1,1084.4 L310.7,1077.6 L312.3,1070.8 L313.9,1064.1 L315.5,1057.6 L317.1,1051.5 L318.7,1045.7 L320.3,1040.5 L321.9,1035.8 L323.5,1031.8 L325.1,1028.6 L326.7,1026.1 L328.3,1024.5 L330.0,1023.8 L331.6,1024.1 L333.2,1025.7 L334.8,1028.7 L336.4,1032.8 L338.0,1038.0 L339.6,1044.2 L341.2,1051.1 L342.8,1058.7 L344.4,1066.7 L346.0,1075.0 L347.6,1083.4 L349.2,1091.8 L350.8,1100.1 L352.4,1108.1 L354.1,1115.8 L355.7,1123.0 L357.3,1129.8 L358.9,1136.0 L360.5,1141.7 L362.1,1146.8 L363.7,1151.4 L365.3,1155.4 L366.9,1159.0 L368.5,1162.1 L370.1,1164.7 L371.7,1167.0 L373.3,1168.9 L374.9,1170.5 L376.6,1171.8 L378.2,1172.9 L379.8,1173.9 L381.4,1174.6 L383.0,1175.2 L384.6,1175.7 L386.2,1176.1 L387.8,1176.5 L389.4,1176.8 L391.0,1177.0 L392.6,1177.2 L394.2,1177.3 L395.8,1177.5 L397.4,1177.6 L399.1,1177.7 L400.7,1177.8 L402.3,1177.9 L403.9,1178.0 L405.5,1178.0 L407.1,1178.1 L408.7,1178.2 L410.3,1178.2 L411.9,1178.3 L413.5,1178.4 L415.1,1178.4 L416.7,1178.5 L418.3,1178.5 L419.9,1178.6 L421.5,1178.6 L423.2,1178.7 L424.8,1178.7 L426.4,1178.7 L428.0,1178.8 L429.6,1178.8 L431.2,1178.9 L432.8,1178.9 L434.4,1179.0 L436.0,1179.0 L437.6,1179.0 L439.2,1179.1 L440.8,1179.1 L442.4,1179.1 L444.0,1179.2 L445.7,1179.2 L447.3,1179.2 L448.9,1179.2 L450.5,1179.3 L452.1,1179.3 L453.7,1179.3 L455.3,1179.3 L456.9,1179.4 L458.5,1179.4 L460.1,1179.4 L461.7,1179.4 L463.3,1179.5 L464.9,1179.5 L466.5,1179.5 L468.1,1179.5 L469.8,1179.5 L471.4,1179.6 L473.0,1179.6 L474.6,1179.6 L476.2,1179.6 L477.8,1179.7 L479.4,1179.7 L481.0,1179.7 L482.6,1179.7 L484.2,1179.8 L485.8,1179.8 L487.4,1179.8 L489.0,1179.8 L490.6,1179.9 L492.3,1179.9 L493.9,1179.9 L495.5,1179.9 L497.1,1180.0 L498.7,1180.0 L500.3,1180.0 L500.3,1180.0 L498.7,1180.0 L497.1,1180.0 L495.5,1179.9 L493.9,1179.9 L492.3,1179.9 L490.6,1179.9 L489.0,1179.8 L487.4,1179.8 L485.8,1179.8 L484.2,1179.8 L482.6,1179.7 L481.0,1179.7 L479.4,1179.7 L477.8,1179.7 L476.2,1179.6 L474.6,1179.6 L473.0,1179.6 L471.4,1179.6 L469.8,1179.5 L468.1,1179.5 L466.5,1179.5 L464.9,1179.5 L463.3,1179.5 L461.7,1179.4 L460.1,1179.4 L458.5,1179.4 L456.9,1179.4 L455.3,1179.3 L453.7,1179.3 L452.1,1179.3 L450.5,1179.3 L448.9,1179.2 L447.3,1179.2 L445.7,1179.2 L444.0,1179.2 L442.4,1179.2 L440.8,1179.1 L439.2,1179.1 L437.6,1179.1 L436.0,1179.1 L434.4,1179.0 L432.8,1179.0 L431.2,1179.0 L429.6,1179.0 L428.0,1178.9 L426.4,1178.9 L424.8,1178.9 L423.2,1178.9 L421.5,1178.9 L419.9,1178.8 L418.3,1178.8 L416.7,1178.8 L415.1,1178.8 L413.5,1178.7 L411.9,1178.7 L410.3,1178.7 L408.7,1178.7 L407.1,1178.7 L405.5,1178.6 L403.9,1178.6 L402.3,1178.6 L400.7,1178.6 L399.1,1178.5 L397.4,1178.5 L395.8,1178.5 L394.2,1178.5 L392.6,1178.5 L391.0,1178.4 L389.4,1178.4 L387.8,1178.4 L386.2,1178.4 L384.6,1178.4 L383.0,1178.3 L381.4,1178.3 L379.8,1178.3 L378.2,1178.3 L376.6,1178.2 L374.9,1178.2 L373.3,1178.2 L371.7,1178.2 L370.1,1178.2 L368.5,1178.1 L366.9,1178.1 L365.3,1178.1 L363.7,1178.1 L362.1,1178.1 L360.5,1178.0 L358.9,1178.0 L357.3,1178.0 L355.7,1178.0 L354.1,1177.9 L352.4,1177.9 L350.8,1177.9 L349.2,1177.9 L347.6,1177.9 L346.0,1177.8 L344.4,1177.8 L342.8,1177.8 L341.2,1177.8 L339.6,1177.8 L338.0,1177.7 L336.4,1177.7 L334.8,1177.7 L333.2,1177.7 L331.6,1177.7 L330.0,1177.6 L328.3,1177.6 L326.7,1177.6 L325.1,1177.6 L323.5,1177.6 L321.9,1177.5 L320.3,1177.5 L318.7,1177.5 L317.1,1177.5 L315.5,1177.4 L313.9,1177.4 L312.3,1177.4 L310.7,1177.4 L309.1,1177.4 L307.5,1177.3 L305.8,1177.3 L304.2,1177.3 L302.6,1177.3 L301.0,1177.3 L299.4,1177.2 L297.8,1177.2 L296.2,1177.2 L294.6,1177.2 L293.0,1177.2 L291.4,1177.1 L289.8,1177.1 L288.2,1177.1 L286.6,1177.1 L285.0,1177.1 L283.4,1177.0 L281.7,1177.0 L280.1,1177.0 L278.5,1177.0 L276.9,1176.9 L275.3,1176.9 L273.7,1176.9 L272.1,1176.9 L270.5,1176.9 L268.9,1176.8 L267.3,1176.8 L265.7,1176.8 L264.1,1176.8 L262.5,1176.8 L260.9,1176.7 L259.2,1176.7 L257.6,1176.7 L256.0,1176.7 L254.4,1176.7 L252.8,1176.6 L251.2,1176.6 L249.6,1176.6 L248.0,1176.6 L246.4,1176.6 L244.8,1176.5 L243.2,1176.5 L241.6,1176.5 L240.0,1176.5 L238.4,1176.4 L236.8,1176.4 L235.1,1176.4 L233.5,1176.4 L231.9,1176.4 L230.3,1176.3 L228.7,1176.3 L227.1,1176.3 L225.5,1176.3 L223.9,1176.3 L222.3,1176.2 L220.7,1176.2 L219.1,1176.2 L217.5,1176.2 L215.9,1176.2 L214.3,1176.1 L212.6,1176.1 L211.0,1176.1 L209.4,1176.1 L207.8,1176.0 L206.2,1176.0 L204.6,1176.0 L203.0,1176.0 L201.4,1176.0 L199.8,1175.9 L198.2,1175.9 L196.6,1175.9 L195.0,1175.9 L193.4,1175.9 L191.8,1175.8 L190.2,1175.8 L188.5,1175.8 L186.9,1175.8 L185.3,1175.7 L183.7,1175.7 L182.1,1175.7 L180.5,1175.7 L178.9,1175.7 L177.3,1175.6 L175.7,1175.6 L174.1,1175.6 L172.5,1175.6 L170.9,1175.5 L169.3,1175.5 L167.7,1175.5 L166.0,1175.5 L164.4,1175.5 L162.8,1175.4 L161.2,1175.4 L159.6,1175.4 L158.0,1175.4 L156.4,1175.3 L154.8,1175.3 L153.2,1175.3 L151.6,1175.3 L150.0,1175.3 L148.4,1175.2 L146.8,1175.2 L145.2,1175.2 L143.5,1175.2 L141.9,1175.1 L140.3,1175.1 L138.7,1175.1 L137.1,1175.1 L135.5,1175.0 L133.9,1175.0 L132.3,1175.0 L130.7,1175.0 L129.1,1175.0 L127.5,1174.9 L125.9,1174.9 L124.3,1174.9 L122.7,1174.9 L121.1,1174.8 L119.4,1174.8 L117.8,1174.8 L116.2,1174.8 L114.6,1174.7 L113.0,1174.7 L111.4,1174.7 L109.8,1174.7 L108.2,1174.6 L106.6,1174.6 L105.0,1174.6 L103.4,1174.6 L101.8,1174.6 L100.2,1174.5 L98.6,1174.5 L96.9,1174.5 L95.3,1174.5 L93.7,1174.4 L92.1,1174.4 L90.5,1174.4 L88.9,1174.4 L87.3,1174.3 L85.7,1174.3 L84.1,1174.3 Z" fill="#ff11ff" fill-opacity="1" stroke="none" stroke-width="0.8"/>
<path d="M84.1,1174.3 L85.7,1174.3 L87.3,1174.3 L88.9,1174.4 L90.5,1174.4 L92.1,1174.4 L93.7,1174.4 L95.3,1174.5 L96.9,1174.5 L98.6,1174.5 L100.2,1174.5 L101.8,1174.6 L103.4,1174.6 L105.0,1174.6 L106.6,1174.6 L108.2,1174.6 L109.8,1174.7 L111.4,1174.7 L113.0,1174.7 L114.6,1174.7 L116.2,1174.8 L117.8,1174.8 L119.4,1174.8 L121.1,1174.8 L122.7,1174.9 L124.3,1174.9 L125.9,1174.9 L127.5,1174.9 L129.1,1175.0 L130.7,1175.0 L132.3,1175.0 L133.9,1175.0 L135.5,1175.0 L137.1,1175.1 L138.7,1175.1 L140.3,1175.1 L141.9,1175.1 L143.5,1175.2 L145.2,1175.2 L146.8,1175.2 L148.4,1175.2 L150.0,1175.3 L151.6,1175.3 L153.2,1175.3 L154.8,1175.3 L156.4,1175.3 L158.0,1175.4 L159.6,1175.4 L161.2,1175.4 L162.8,1175.4 L164.4,1175.5 L166.0,1175.5 L167.7,1175.5 L169.3,1175.5 L170.9,1175.5 L172.5,1175.6 L174.1,1175.6 L175.7,1175.6 L177.3,1175.6 L178.9,1175.7 L180.5,1175.7 L182.1,1175.7 L183.7,1175.7 L185.3,1175.7 L186.9,1175.8 L188.5,1175.8 L190.2,1175.8 L191.8,1175.8 L193.4,1175.9 L195.0,1175.9 L196.6,1175.9 L198.2,1175.9 L199.8,1175.9 L201.4,1175.9 L203.0,1175.9 L204.6,1176.0 L206.2,1176.0 L207.8,1176.0 L209.4,1176.0 L211.0,1176.0 L212.6,1176.0 L214.3,1176.0 L215.9,1176.0 L217.5,1176.0 L219.1,1176.0 L220.7,1176.0 L222.3,1176.0 L223.9,1176.1 L225.5,1176.1 L227.1,1176.1 L228.7,1176.1 L230.3,1176.1 L231.9,1176.1 L233.5,1176.1 L235.1,1176.1 L236.8,1176.1 L238.4,1176.1 L240.0,1176.1 L241.6,1176.1 L243.2,1176.1 L244.8,1176.1 L246.4,1176.1 L248.0,1176.1 L249.6,1176.1 L251.2,1176.0 L252.8,1176.0 L254.4,1176.0 L256.0,1176.0 L257.6,1176.0 L259.2,1176.0 L260.9,1176.0 L262.5,1176.0 L264.1,1175.9 L265.7,1175.9 L267.3,1175.9 L268.9,1175.9 L270.5,1175.8 L272.1,1175.8 L273.7,1175.8 L275.3,1175.7 L276.9,1175.7 L278.5,1175.7 L280.1,1175.6 L281.7,1175.6 L283.4,1175.5 L285.0,1175.4 L286.6,1175.4 L288.2,1175.3 L289.8,1175.2 L291.4,1175.1 L293.0,1175.0 L294.6,1174.9 L296.2,1174.8 L297.8,1174.6 L299.4,1174.4 L301.0,1174.2 L302.6,1174.0 L304.2,1173.7 L305.8,1173.4 L307.5,1173.0 L309.1,1172.5 L310.7,1172.0 L312.3,1171.4 L313.9,1170.8 L315.5,1170.0 L317.1,1169.1 L318.7,1168.1 L320.3,1166.9 L321.9,1165.6 L323.5,1164.1 L325.1,1162.4 L326.7,1160.6 L328.3,1158.5 L330.0,1156.3 L331.6,1153.9 L333.2,1151.2 L334.8,1148.3 L336.4,1145.3 L338.0,1142.0 L339.6,1138.6 L341.2,1135.1 L342.8,1131.4 L344.4,1127.6 L346.0,1123.8 L347.6,1120.0 L349.2,1116.2 L350.8,1112.5 L352.4,1109.0 L354.1,1105.7 L355.7,1102.7 L357.3,1100.1 L358.9,1097.8 L360.5,1096.1 L362.1,1094.9 L363.7,1094.3 L365.3,1094.2 L366.9,1094.8 L368.5,1095.9 L370.1,1097.5 L371.7,1099.6 L373.3,1102.1 L374.9,1105.0 L376.6,1108.2 L378.2,1111.6 L379.8,1115.2 L381.4,1118.9 L383.0,1122.7 L384.6,1126.5 L386.2,1130.2 L387.8,1133.9 L389.4,1137.5 L391.0,1141.0 L392.6,1144.3 L394.2,1147.4 L395.8,1150.3 L397.4,1153.1 L399.1,1155.7 L400.7,1158.0 L402.3,1160.2 L403.9,1162.2 L405.5,1164.0 L407.1,1165.6 L408.7,1167.1 L410.3,1168.3 L411.9,1169.5 L413.5,1170.5 L415.1,1171.4 L416.7,1172.2 L418.3,1172.9 L419.9,1173.5 L421.5,1174.1 L423.2,1174.5 L424.8,1174.9 L426.4,1175.3 L428.0,1175.6 L429.6,1175.9 L431.2,1176.1 L432.8,1176.4 L434.4,1176.6 L436.0,1176.8 L437.6,1176.9 L439.2,1177.1 L440.8,1177.2 L442.4,1177.3 L444.0,1177.5 L445.7,1177.6 L447.3,1177.7 L448.9,1177.8 L450.5,1177.9 L452.1,1178.0 L453.7,1178.0 L455.3,1178.1 L456.9,1178.2 L458.5,1178.3 L460.1,1178.4 L461.7,1178.4 L463.3,1178.5 L464.9,1178.6 L466.5,1178.6 L468.1,1178.7 L469.8,1178.8 L471.4,1178.8 L473.0,1178.9 L474.6,1178.9 L476.2,1179.0 L477.8,1179.0 L479.4,1179.1 L481.0,1179.2 L482.6,1179.2 L484.2,1179.3 L485.8,1179.3 L487.4,1179.4 L489.0,1179.4 L490.6,1179.4 L492.3,1179.5 L493.9,1179.5 L495.5,1179.6 L497.1,1179.6 L498.7,1179.7 L500.3,1179.7 L500.3,1180.0 L498.7,1180.0 L497.1,1180.0 L495.5,1179.9 L493.9,1179.9 L492.3,1179.9 L490.6,1179.9 L489.0,1179.8 L487.4,1179.8 L485.8,1179.8 L484.2,1179.8 L482.6,1179.7 L481.0,1179.7 L479.4,1179.7 L477.8,1179.7 L476.2,1179.6 L474.6,1179.6 L473.0,1179.6 L471.4,1179.6 L469.8,1179.5 L468.1,1179.5 L466.5,1179.5 L464.9,1179.5 L463.3,1179.5 L461.7,1179.4 L460.1,1179.4 L458.5,1179.4 L456.9,1179.4 L455.3,1179.3 L453.7,1179.3 L452.1,1179.3 L450.5,1179.3 L448.9,1179.2 L447.3,1179.2 L445.7,1179.2 L444.0,1179.2 L442.4,1179.2 L440.8,1179.1 L439.2,1179.1 L437.6,1179.1 L436.0,1179.1 L434.4,1179.0 L432.8,1179.0 L431.2,1179.0 L429.6,1179.0 L428.0,1178.9 L426.4,1178.9 L424.8,1178.9 L423.2,1178.9 L421.5,1178.9 L419.9,1178.8 L418.3,1178.8 L416.7,1178.8 L415.1,1178.8 L413.5,1178.7 L411.9,1178.7 L410.3,1178.7 L408.7,1178.7 L407.1,1178.7 L405.5,1178.6 L403.9,1178.6 L402.3,1178.6 L400.7,1178.6 L399.1,1178.5 L397.4,1178.5 L395.8,1178.5 L394.2,1178.5 L392.6,1178.5 L391.0,1178.4 L389.4,1178.4 L387.8,1178.4 L386.2,1178.4 L384.6,1178.4 L383.0,1178.3 L381.4,1178.3 L379.8,1178.3 L378.2,1178.3 L376.6,1178.2 L374.9,1178.2 L373.3,1178.2 L371.7,1178.2 L370.1,1178.2 L368.5,1178.1 L366.9,1178.1 L365.3,1178.1 L363.7,1178.1 L362.1,1178.1 L360.5,1178.0 L358.9,1178.0 L357.3,1178.0 L355.7,1178.0 L354.1,1177.9 L352.4,1177.9 L350.8,1177.9 L349.2,1177.9 L347.6,1177.9 L346.0,1177.8 L344.4,1177.8 L342.8,1177.8 L341.2,1177.8 L339.6,1177.8 L338.0,1177.7 L336.4,1177.7 L334.8,1177.7 L333.2,1177.7 L331.6,1177.7 L330.0,1177.6 L328.3,1177.6 L326.7,1177.6 L325.1,1177.6 L323.5,1177.6 L321.9,1177.5 L320.3,1177.5 L318.7,1177.5 L317.1,1177.5 L315.5,1177.4 L313.9,1177.4 L312.3,1177.4 L310.7,1177.4 L309.1,1177.4 L307.5,1177.3 L305.8,1177.3 L304.2,1177.3 L302.6,1177.3 L301.0,1177.3 L299.4,1177.2 L297.8,1177.2 L296.2,1177.2 L294.6,1177.2 L293.0,1177.2 L291.4,1177.1 L289.8,1177.1 L288.2,1177.1 L286.6,1177.1 L285.0,1177.1 L283.4,1177.0 L281.7,1177.0 L280.1,1177.0 L278.5,1177.0 L276.9,1176.9 L275.3,1176.9 L273.7,1176.9 L272.1,1176.9 L270.5,1176.9 L268.9,1176.8 L267.3,1176.8 L265.7,1176.8 L264.1,1176.8 L262.5,1176.8 L260.9,1176.7 L259.2,1176.7 L257.6,1176.7 L256.0,1176.7 L254.4,1176.7 L252.8,1176.6 L251.2,1176.6 L249.6,1176.6 L248.0,1176.6 L246.4,1176.6 L244.8,1176.5 L243.2,1176.5 L241.6,1176.5 L240.0,1176.5 L238.4,1176.4 L236.8,1176.4 L235.1,1176.4 L233.5,1176.4 L231.9,1176.4 L230.3,1176.3 L228.7,1176.3 L227.1,1176.3 L225.5,1176.3 L223.9,1176.3 L222.3,1176.2 L220.7,1176.2 L219.1,1176.2 L217.5,1176.2 L215.9,1176.2 L214.3,1176.1 L212.6,1176.1 L211.0,1176.1 L209.4,1176.1 L207.8,1176.0 L206.2,1176.0 L204.6,1176.0 L203.0,1176.0 L201.4,1176.0 L199.8,1175.9 L198.2,1175.9 L196.6,1175.9 L195.0,1175.9 L193.4,1175.9 L191.8,1175.8 L190.2,1175.8 L188.5,1175.8 L186.9,1175.8 L185.3,1175.7 L183.7,1175.7 L182.1,1175.7 L180.5,1175.7 L178.9,1175.7 L177.3,1175.6 L175.7,1175.6 L174.1,1175.6 L172.5,1175.6 L170.9,1175.5 L169.3,1175.5 L167.7,1175.5 L166.0,1175.5 L164.4,1175.5 L162.8,1175.4 L161.2,1175.4 L159.6,1175.4 L158.0,1175.4 L156.4,1175.3 L154.8,1175.3 L153.2,1175.3 L151.6,1175.3 L150.0,1175.3 L148.4,1175.2 L146.8,1175.2 L145.2,1175.2 L143.5,1175.2 L141.9,1175.1 L140.3,1175.1 L138.7,1175.1 L137.1,1175.1 L135.5,1175.0 L133.9,1175.0 L132.3,1175.0 L130.7,1175.0 L129.1,1175.0 L127.5,1174.9 L125.9,1174.9 L124.3,1174.9 L122.7,1174.9 L121.1,1174.8 L119.4,1174.8 L117.8,1174.8 L116.2,1174.8 L114.6,1174.7 L113.0,1174.7 L111.4,1174.7 L109.8,1174.7 L108.2,1174.6 L106.6,1174.6 L105.0,1174.6 L103.4,1174.6 L101.8,1174.6 L100.2,1174.5 L98.6,1174.5 L96.9,1174.5 L95.3,1174.5 L93.7,1174.4 L92.1,1174.4 L90.5,1174.4 L88.9,1174.4 L87.3,1174.3 L85.7,1174.3 L84.1,1174.3 Z" fill="#000080" fill-opacity="1" stroke="none" stroke-width="0.8"/>
<path d="M84.1,1173.4 L85.7,1173.4 L87.3,1173.4 L88.9,1173.4 L90.5,1173.4 L92.1,1173.4 L93.7,1173.4 L95.3,1173.4 L96.9,1173.4 L98.6,1173.4 L100.2,1173.4 L101.8,1173.4 L103.4,1173.4 L105.0,1173.4 L106.6,1173.4 L108.2,1173.4 L109.8,1173.3 L111.4,1173.3 L113.0,1173.3 L114.6,1173.3 L116.2,1173.3 L117.8,1173.3 L119.4,1173.3 L121.1,1173.3 L122.7,1173.3 L124.3,1173.2 L125.9,1173.2 L127.5,1173.2 L129.1,1173.2 L130.7,1173.2 L132.3,1173.2 L133.9,1173.1 L135.5,1173.1 L137.1,1173.1 L138.7,1173.1 L140.3,1173.0 L141.9,1173.0 L143.5,1173.0 L145.2,1172.9 L146.8,1172.9 L148.4,1172.9 L150.0,1172.8 L151.6,1172.8 L153.2,1172.8 L154.8,1172.7 L156.4,1172.7 L158.0,1172.6 L159.6,1172.6 L161.2,1172.5 L162.8,1172.5 L164.4,1172.4 L166.0,1172.3 L167.7,1172.3 L169.3,1172.2 L170.9,1172.1 L172.5,1172.1 L174.1,1172.0 L175.7,1171.9 L177.3,1171.8 L178.9,1171.7 L180.5,1171.6 L182.1,1171.5 L183.7,1171.4 L185.3,1171.3 L186.9,1171.2 L188.5,1171.1 L190.2,1170.9 L191.8,1170.8 L193.4,1170.7 L195.0,1170.5 L196.6,1170.4 L198.2,1170.2 L199.8,1170.0 L201.4,1169.9 L203.0,1169.7 L204.6,1169.5 L206.2,1169.3 L207.8,1169.0 L209.4,1168.8 L211.0,1168.6 L212.6,1168.3 L214.3,1168.0 L215.9,1167.7 L217.5,1167.4 L219.1,1167.1 L220.7,1166.7 L222.3,1166.4 L223.9,1166.0 L225.5,1165.6 L227.1,1165.1 L228.7,1164.7 L230.3,1164.2 L231.9,1163.6 L233.5,1163.0 L235.1,1162.4 L236.8,1161.8 L238.4,1161.1 L240.0,1160.3 L241.6,1159.5 L243.2,1158.6 L244.8,1157.6 L246.4,1156.6 L248.0,1155.4 L249.6,1154.2 L251.2,1152.8 L252.8,1151.4 L254.4,1149.8 L256.0,1148.0 L257.6,1146.1 L259.2,1143.9 L260.9,1141.6 L262.5,1139.0 L264.1,1136.2 L265.7,1133.2 L267.3,1129.8 L268.9,1126.1 L270.5,1122.1 L272.1,1117.7 L273.7,1112.9 L275.3,1107.7 L276.9,1102.1 L278.5,1096.1 L280.1,1089.7 L281.7,1083.0 L283.4,1075.9 L285.0,1068.5 L286.6,1061.0 L288.2,1053.5 L289.8,1046.2 L291.4,1039.3 L293.0,1033.2 L294.6,1028.0 L296.2,1024.0 L297.8,1021.5 L299.4,1020.6 L301.0,1021.5 L302.6,1024.3 L304.2,1028.9 L305.8,1034.9 L307.5,1041.9 L309.1,1049.7 L310.7,1057.9 L312.3,1066.2 L313.9,1074.3 L315.5,1082.2 L317.1,1089.8 L318.7,1096.8 L320.3,1103.4 L321.9,1109.5 L323.5,1115.1 L325.1,1120.2 L326.7,1124.9 L328.3,1129.1 L330.0,1133.0 L331.6,1136.5 L333.2,1139.7 L334.8,1142.5 L336.4,1145.1 L338.0,1147.5 L339.6,1149.6 L341.2,1151.5 L342.8,1153.3 L344.4,1154.8 L346.0,1156.3 L347.6,1157.6 L349.2,1158.8 L350.8,1159.9 L352.4,1160.9 L354.1,1161.9 L355.7,1162.8 L357.3,1163.6 L358.9,1164.3 L360.5,1165.0 L362.1,1165.7 L363.7,1166.3 L365.3,1166.8 L366.9,1167.4 L368.5,1167.9 L370.1,1168.3 L371.7,1168.8 L373.3,1169.2 L374.9,1169.6 L376.6,1170.0 L378.2,1170.3 L379.8,1170.7 L381.4,1171.0 L383.0,1171.3 L384.6,1171.6 L386.2,1171.9 L387.8,1172.1 L389.4,1172.4 L391.0,1172.6 L392.6,1172.8 L394.2,1173.1 L395.8,1173.3 L397.4,1173.5 L399.1,1173.7 L400.7,1173.8 L402.3,1174.0 L403.9,1174.2 L405.5,1174.4 L407.1,1174.5 L408.7,1174.7 L410.3,1174.8 L411.9,1175.0 L413.5,1175.1 L415.1,1175.2 L416.7,1175.4 L418.3,1175.5 L419.9,1175.6 L421.5,1175.7 L423.2,1175.8 L424.8,1176.0 L426.4,1176.1 L428.0,1176.2 L429.6,1176.3 L431.2,1176.4 L432.8,1176.5 L434.4,1176.6 L436.0,1176.6 L437.6,1176.7 L439.2,1176.8 L440.8,1176.9 L442.4,1177.0 L444.0,1177.1 L445.7,1177.1 L447.3,1177.2 L448.9,1177.3 L450.5,1177.4 L452.1,1177.4 L453.7,1177.5 L455.3,1177.6 L456.9,1177.7 L458.5,1177.7 L460.1,1177.8 L461.7,1177.9 L463.3,1177.9 L464.9,1178.0 L466.5,1178.0 L468.1,1178.1 L469.8,1178.2 L471.4,1178.2 L473.0,1178.3 L474.6,1178.3 L476.2,1178.4 L477.8,1178.4 L479.4,1178.5 L481.0,1178.6 L482.6,1178.6 L484.2,1178.7 L485.8,1178.7 L487.4,1178.8 L489.0,1178.8 L490.6,1178.9 L492.3,1178.9 L493.9,1179.0 L495.5,1179.0 L497.1,1179.1 L498.7,1179.1 L500.3,1179.1 L500.3,1183.9 L498.7,1183.9 L497.1,1183.8 L495.5,1183.8 L493.9,1183.8 L492.3,1183.8 L490.6,1183.8 L489.0,1183.8 L487.4,1183.7 L485.8,1183.7 L484.2,1183.7 L482.6,1183.7 L481.0,1183.7 L479.4,1183.6 L477.8,1183.6 L476.2,1183.6 L474.6,1183.6 L473.0,1183.6 L471.4,1183.6 L469.8,1183.5 L468.1,1183.5 L466.5,1183.5 L464.9,1183.5 L463.3,1183.5 L461.7,1183.4 L460.1,1183.4 L458.5,1183.4 L456.9,1183.4 L455.3,1183.4 L453.7,1183.4 L452.1,1183.3 L450.5,1183.3 L448.9,1183.3 L447.3,1183.3 L445.7,1183.3 L444.0,1183.3 L442.4,1183.2 L440.8,1183.2 L439.2,1183.2 L437.6,1183.2 L436.0,1183.2 L434.4,1183.1 L432.8,1183.1 L431.2,1183.1 L429.6,1183.1 L428.0,1183.1 L426.4,1183.1 L424.8,1183.0 L423.2,1183.0 L421.5,1183.0 L419.9,1183.0 L418.3,1183.0 L416.7,1182.9 L415.1,1182.9 L413.5,1182.9 L411.9,1182.9 L410.3,1182.9 L408.7,1182.9 L407.1,1182.8 L405.5,1182.8 L403.9,1182.8 L402.3,1182.8 L400.7,1182.8 L399.1,1182.7 L397.4,1182.7 L395.8,1182.7 L394.2,1182.7 L392.6,1182.7 L391.0,1182.7 L389.4,1182.6 L387.8,1182.6 L386.2,1182.6 L384.6,1182.6 L383.0,1182.6 L381.4,1182.6 L379.8,1182.5 L378.2,1182.5 L376.6,1182.5 L374.9,1182.5 L373.3,1182.5 L371.7,1182.4 L370.1,1182.4 L368.5,1182.4 L366.9,1182.4 L365.3,1182.4 L363.7,1182.4 L362.1,1182.3 L360.5,1182.3 L358.9,1182.3 L357.3,1182.3 L355.7,1182.3 L354.1,1182.2 L352.4,1182.2 L350.8,1182.2 L349.2,1182.2 L347.6,1182.2 L346.0,1182.2 L344.4,1182.1 L342.8,1182.1 L341.2,1182.1 L339.6,1182.1 L338.0,1182.1 L336.4,1182.0 L334.8,1182.0 L333.2,1182.0 L331.6,1182.0 L330.0,1182.0 L328.3,1182.0 L326.7,1181.9 L325.1,1181.9 L323.5,1181.9 L321.9,1181.9 L320.3,1181.9 L318.7,1181.9 L317.1,1181.8 L315.5,1181.8 L313.9,1181.8 L312.3,1181.8 L310.7,1181.8 L309.1,1181.7 L307.5,1181.7 L305.8,1181.7 L304.2,1181.7 L302.6,1181.7 L301.0,1181.7 L299.4,1181.6 L297.8,1181.6 L296.2,1181.6 L294.6,1181.6 L293.0,1181.6 L291.4,1181.5 L289.8,1181.5 L288.2,1181.5 L286.6,1181.5 L285.0,1181.5 L283.4,1181.5 L281.7,1181.4 L280.1,1181.4 L278.5,1181.4 L276.9,1181.4 L275.3,1181.4 L273.7,1181.3 L272.1,1181.3 L270.5,1181.3 L268.9,1181.3 L267.3,1181.3 L265.7,1181.3 L264.1,1181.2 L262.5,1181.2 L260.9,1181.2 L259.2,1181.2 L257.6,1181.2 L256.0,1181.1 L254.4,1181.1 L252.8,1181.1 L251.2,1181.1 L249.6,1181.1 L248.0,1181.1 L246.4,1181.0 L244.8,1181.0 L243.2,1181.0 L241.6,1181.0 L240.0,1181.0 L238.4,1181.0 L236.8,1180.9 L235.1,1180.9 L233.5,1180.9 L231.9,1180.9 L230.3,1180.9 L228.7,1180.8 L227.1,1180.8 L225.5,1180.8 L223.9,1180.8 L222.3,1180.8 L220.7,1180.8 L219.1,1180.7 L217.5,1180.7 L215.9,1180.7 L214.3,1180.7 L212.6,1180.7 L211.0,1180.6 L209.4,1180.6 L207.8,1180.6 L206.2,1180.6 L204.6,1180.6 L203.0,1180.6 L201.4,1180.5 L199.8,1180.5 L198.2,1180.5 L196.6,1180.5 L195.0,1180.5 L193.4,1180.4 L191.8,1180.4 L190.2,1180.4 L188.5,1180.4 L186.9,1180.4 L185.3,1180.4 L183.7,1180.3 L182.1,1180.3 L180.5,1180.3 L178.9,1180.3 L177.3,1180.3 L175.7,1180.3 L174.1,1180.2 L172.5,1180.2 L170.9,1180.2 L169.3,1180.2 L167.7,1180.2 L166.0,1180.1 L164.4,1180.1 L162.8,1180.1 L161.2,1180.1 L159.6,1180.1 L158.0,1180.1 L156.4,1180.0 L154.8,1180.0 L153.2,1180.0 L151.6,1180.0 L150.0,1180.0 L148.4,1179.9 L146.8,1179.9 L145.2,1179.9 L143.5,1179.9 L141.9,1179.9 L140.3,1179.9 L138.7,1179.8 L137.1,1179.8 L135.5,1179.8 L133.9,1179.8 L132.3,1179.8 L130.7,1179.7 L129.1,1179.7 L127.5,1179.7 L125.9,1179.7 L124.3,1179.7 L122.7,1179.7 L121.1,1179.6 L119.4,1179.6 L117.8,1179.6 L116.2,1179.6 L114.6,1179.6 L113.0,1179.5 L111.4,1179.5 L109.8,1179.5 L108.2,1179.5 L106.6,1179.5 L105.0,1179.5 L103.4,1179.4 L101.8,1179.4 L100.2,1179.4 L98.6,1179.4 L96.9,1179.4 L95.3,1179.4 L93.7,1179.3 L92.1,1179.3 L90.5,1179.3 L88.9,1179.3 L87.3,1179.3 L85.7,1179.2 L84.1,1179.2 Z" fill="#27ecff" fill-opacity="0.79" stroke="none" stroke-width="0.8"/>
<path d="M83.9,1177.0 L87.4,1180.7 L90.9,1182.2 L94.4,1179.8 L97.9,1177.0 L101.4,1174.6 L104.9,1172.7 L108.4,1172.6 L111.9,1169.1 L115.4,1169.1 L118.9,1172.9 L122.4,1172.7 L125.9,1171.0 L129.4,1167.6 L132.9,1166.7 L136.4,1167.2 L139.9,1171.6 L143.4,1168.6 L146.9,1168.6 L150.4,1167.1 L153.9,1164.9 L157.4,1162.6 L160.9,1161.0 L164.4,1160.4 L167.9,1159.5 L171.4,1158.3 L174.9,1155.3 L178.4,1148.7 L181.9,1141.7 L185.4,1143.3 L188.9,1138.2 L192.4,1132.8 L195.9,1125.7 L199.4,1122.2 L202.9,1114.7 L206.4,1109.4 L209.9,1107.0 L213.4,1095.9 L216.9,1088.8 L220.4,1076.8 L223.9,1069.1 L227.4,1061.2 L230.9,1051.1 L234.4,1042.6 L237.9,1033.2 L241.4,1022.9 L244.9,1017.3 L248.4,1008.2 L251.9,1003.7 L255.4,990.3 L258.9,981.1 L262.4,971.5 L265.9,966.7 L269.4,959.5 L272.9,956.1 L276.4,948.4 L279.9,943.9 L283.4,936.8 L286.9,929.8 L290.4,922.2 L293.9,916.5 L297.4,910.6 L300.9,914.1 L304.4,913.5 L307.9,912.5 L311.4,911.7 L314.9,912.9 L318.4,916.5 L321.9,921.0 L325.4,924.7 L328.9,929.6 L332.4,943.6 L335.9,950.6 L339.4,957.0 L342.9,965.6 L346.4,979.2 L349.9,992.9 L353.4,1001.7 L356.9,1009.8 L360.4,1019.2 L363.9,1029.2 L367.4,1035.3 L370.9,1047.6 L374.4,1063.3 L377.9,1068.8 L381.4,1083.6 L384.9,1095.7 L388.4,1100.2 L391.9,1111.4 L395.4,1116.8 L398.9,1120.8 L402.4,1127.5 L405.9,1132.6 L409.4,1137.0 L412.9,1143.2 L416.4,1148.5 L419.9,1153.8 L423.4,1157.3 L426.9,1160.2 L430.4,1165.4 L433.9,1165.6 L437.4,1169.9 L440.9,1172.3 L444.4,1172.5 L447.9,1172.6 L451.4,1175.7 L454.9,1179.2 L458.4,1181.6 L461.9,1184.9 L465.4,1183.5 L468.9,1185.2 L472.4,1184.4 L475.9,1183.1 L479.4,1183.5 L482.9,1191.1 L486.4,1193.0 L489.9,1189.4 L493.4,1185.1 L496.9,1184.5" fill="none" stroke="#111" stroke-width="2.6" stroke-linejoin="round"/>
<path d="M83.9,1170.4 L84.9,1170.3 L85.9,1170.2 L86.9,1170.1 L87.9,1170.0 L88.9,1169.9 L89.9,1169.8 L90.9,1169.7 L91.9,1169.6 L92.9,1169.5 L93.9,1169.4 L94.9,1169.2 L95.9,1169.1 L96.9,1169.0 L97.9,1168.9 L98.9,1168.8 L99.9,1168.7 L100.9,1168.6 L101.9,1168.5 L102.9,1168.4 L103.9,1168.3 L104.9,1168.2 L105.9,1168.1 L106.9,1168.0 L107.9,1167.9 L108.9,1167.8 L109.9,1167.7 L110.9,1167.6 L111.9,1167.5 L112.9,1167.4 L113.9,1167.3 L114.9,1167.2 L115.9,1167.1 L116.9,1167.0 L117.9,1166.9 L118.9,1166.8 L119.9,1166.7 L120.9,1166.6 L121.9,1166.5 L122.9,1166.4 L123.9,1166.3 L124.9,1166.2 L125.9,1166.1 L126.9,1166.0 L127.9,1165.9 L128.9,1165.8 L129.9,1165.7 L130.9,1165.6 L131.9,1165.5 L132.9,1165.4 L133.9,1165.2 L134.9,1165.1 L135.9,1164.9 L136.9,1164.8 L137.9,1164.7 L138.9,1164.5 L139.9,1164.3 L140.9,1164.2 L141.9,1164.0 L142.9,1163.9 L143.9,1163.7 L144.9,1163.5 L145.9,1163.3 L146.9,1163.2 L147.9,1163.0 L148.9,1162.8 L149.9,1162.7 L150.9,1162.5 L151.9,1162.3 L152.9,1162.1 L153.9,1162.0 L154.9,1161.8 L155.9,1161.6 L156.9,1161.3 L157.9,1161.1 L158.9,1160.8 L159.9,1160.5 L160.9,1160.2 L161.9,1159.8 L162.9,1159.5 L163.9,1159.0 L164.9,1158.6 L165.9,1158.1 L166.9,1157.6 L167.9,1157.0 L168.9,1156.4 L169.9,1155.7 L170.9,1155.0 L171.9,1154.3 L172.9,1153.4 L173.9,1152.5 L174.9,1151.5 L175.9,1150.5 L176.9,1149.5 L177.9,1148.4 L178.9,1147.3 L179.9,1146.2 L180.9,1145.0 L181.9,1143.9 L182.9,1142.8 L183.9,1141.6 L184.9,1140.5 L185.9,1139.3 L186.9,1138.2 L187.9,1137.0 L188.9,1135.8 L189.9,1134.6 L190.9,1133.3 L191.9,1132.1 L192.9,1130.8 L193.9,1129.4 L194.9,1128.0 L195.9,1126.6 L196.9,1125.1 L197.9,1123.6 L198.9,1122.0 L199.9,1120.4 L200.9,1118.7 L201.9,1117.0 L202.9,1115.3 L203.9,1113.6 L204.9,1111.9 L205.9,1110.1 L206.9,1108.4 L207.9,1106.6 L208.9,1104.9 L209.9,1103.0 L210.9,1101.1 L211.9,1099.2 L212.9,1097.1 L213.9,1094.9 L214.9,1092.7 L215.9,1090.2 L216.9,1087.7 L217.9,1085.1 L218.9,1082.5 L219.9,1079.9 L220.9,1077.3 L221.9,1074.7 L222.9,1072.1 L223.9,1069.5 L224.9,1066.9 L225.9,1064.3 L226.9,1061.7 L227.9,1059.1 L228.9,1056.5 L229.9,1053.9 L230.9,1051.3 L231.9,1048.7 L232.9,1046.1 L233.9,1043.5 L234.9,1040.9 L235.9,1038.3 L236.9,1035.7 L237.9,1033.1 L238.9,1030.5 L239.9,1027.9 L240.9,1025.4 L241.9,1023.1 L242.9,1020.8 L243.9,1018.7 L244.9,1016.6 L245.9,1014.5 L246.9,1012.4 L247.9,1010.3 L248.9,1008.2 L249.9,1006.0 L250.9,1003.7 L251.9,1001.3 L252.9,998.5 L253.9,995.6 L254.9,992.6 L255.9,989.4 L256.9,986.3 L257.9,983.2 L258.9,980.2 L259.9,977.4 L260.9,974.8 L261.9,972.5 L262.9,970.5 L263.9,968.8 L264.9,967.1 L265.9,965.5 L266.9,963.9 L267.9,962.4 L268.9,960.9 L269.9,959.5 L270.9,958.0 L271.9,956.4 L272.9,954.8 L273.9,953.1 L274.9,951.3 L275.9,949.5 L276.9,947.7 L277.9,945.9 L278.9,944.2 L279.9,942.4 L280.9,940.5 L281.9,938.7 L282.9,936.9 L283.9,935.1 L284.9,933.3 L285.9,931.5 L286.9,929.5 L287.9,927.5 L288.9,925.4 L289.9,923.2 L290.9,921.1 L291.9,919.0 L292.9,917.0 L293.9,915.2 L294.9,913.5 L295.9,912.1 L296.9,911.1 L297.9,910.4 L298.9,910.0 L299.9,909.9 L300.9,909.9 L301.9,910.0 L302.9,910.2 L303.9,910.4 L304.9,910.6 L305.9,910.9 L306.9,911.2 L307.9,911.5 L308.9,911.9 L309.9,912.3 L310.9,912.7 L311.9,913.2 L312.9,913.7 L313.9,914.2 L314.9,914.8 L315.9,915.4 L316.9,916.0 L317.9,916.6 L318.9,917.4 L319.9,918.2 L320.9,919.2 L321.9,920.4 L322.9,921.6 L323.9,923.1 L324.9,924.7 L325.9,926.4 L326.9,928.2 L327.9,930.0 L328.9,931.9 L329.9,933.9 L330.9,935.9 L331.9,937.8 L332.9,939.7 L333.9,941.7 L334.9,943.7 L335.9,945.7 L336.9,947.8 L337.9,950.0 L338.9,952.3 L339.9,954.7 L340.9,957.5 L341.9,960.7 L342.9,964.3 L343.9,968.0 L344.9,971.9 L345.9,975.8 L346.9,979.7 L347.9,983.2 L348.9,986.5 L349.9,989.4 L350.9,992.2 L351.9,995.0 L352.9,997.8 L353.9,1000.5 L354.9,1003.2 L355.9,1005.8 L356.9,1008.3 L357.9,1010.9 L358.9,1013.4 L359.9,1015.9 L360.9,1018.4 L361.9,1021.0 L362.9,1023.6 L363.9,1026.3 L364.9,1029.0 L365.9,1031.7 L366.9,1034.6 L367.9,1037.4 L368.9,1040.5 L369.9,1043.9 L370.9,1047.5 L371.9,1051.1 L372.9,1054.3 L373.9,1057.2 L374.9,1060.0 L375.9,1062.7 L376.9,1065.4 L377.9,1068.1 L378.9,1070.9 L379.9,1074.0 L380.9,1077.4 L381.9,1080.9 L382.9,1084.4 L383.9,1087.7 L384.9,1090.7 L385.9,1093.4 L386.9,1096.0 L387.9,1098.4 L388.9,1100.8 L389.9,1103.1 L390.9,1105.3 L391.9,1107.4 L392.9,1109.4 L393.9,1111.4 L394.9,1113.3 L395.9,1115.2 L396.9,1117.1 L397.9,1118.9 L398.9,1120.6 L399.9,1122.4 L400.9,1124.2 L401.9,1125.9 L402.9,1127.6 L403.9,1129.3 L404.9,1131.0 L405.9,1132.6 L406.9,1134.3 L407.9,1135.8 L408.9,1137.4 L409.9,1138.9 L410.9,1140.4 L411.9,1141.8 L412.9,1143.3 L413.9,1144.7 L414.9,1146.0 L415.9,1147.4 L416.9,1148.7 L417.9,1149.9 L418.9,1151.2 L419.9,1152.4 L420.9,1153.6 L421.9,1154.7 L422.9,1155.8 L423.9,1156.9 L424.9,1157.9 L425.9,1158.9 L426.9,1159.9 L427.9,1160.9 L428.9,1161.7 L429.9,1162.6 L430.9,1163.3 L431.9,1164.0 L432.9,1164.6 L433.9,1165.1 L434.9,1165.6 L435.9,1165.9 L436.9,1166.1 L437.9,1166.4 L438.9,1166.6 L439.9,1166.9 L440.9,1167.1 L441.9,1167.3 L442.9,1167.6 L443.9,1167.8 L444.9,1168.0 L445.9,1168.2 L446.9,1168.5 L447.9,1168.7 L448.9,1168.9 L449.9,1169.1 L450.9,1169.3 L451.9,1169.5 L452.9,1169.7 L453.9,1169.9 L454.9,1170.1 L455.9,1170.2 L456.9,1170.4 L457.9,1170.6 L458.9,1170.8 L459.9,1170.9 L460.9,1171.1 L461.9,1171.2 L462.9,1171.4 L463.9,1171.6 L464.9,1171.7 L465.9,1171.9 L466.9,1172.0 L467.9,1172.2 L468.9,1172.3 L469.9,1172.5 L470.9,1172.7 L471.9,1172.8 L472.9,1173.0 L473.9,1173.1 L474.9,1173.3 L475.9,1173.5 L476.9,1173.6 L477.9,1173.8 L478.9,1173.9 L479.9,1174.1 L480.9,1174.2 L481.9,1174.4 L482.9,1174.5 L483.9,1174.7 L484.9,1174.8 L485.9,1175.0 L486.9,1175.1 L487.9,1175.3 L488.9,1175.4 L489.9,1175.6 L490.9,1175.7 L491.9,1175.9 L492.9,1176.0 L493.9,1176.1 L494.9,1176.3 L495.9,1176.4 L496.9,1176.6 L497.9,1176.7 L498.9,1176.9 L499.9,1177.0 L500.0,1177.0" fill="none" stroke="#e8262a" stroke-width="3.0" stroke-dasharray="9.5,10"/>
</g>
<line x1="372.4" y1="968.9" x2="303.7" y2="1033.6" stroke="#111" stroke-width="1.6"/>
<path d="M298.6,1038.4 L302.1,1031.1 L306.0,1035.4 Z" fill="#111"/>
<line x1="197.5" y1="1017.3" x2="259.9" y2="1077.7" stroke="#111" stroke-width="1.6"/>
<path d="M264.9,1082.6 L257.5,1079.5 L261.5,1075.3 Z" fill="#111"/>
<line x1="142.7" y1="1065.8" x2="209.5" y2="1134.5" stroke="#111" stroke-width="1.6"/>
<path d="M214.4,1139.5 L207.1,1136.1 L211.2,1132.1 Z" fill="#111"/>
<line x1="401.7" y1="1014.3" x2="340.9" y2="1075.5" stroke="#111" stroke-width="1.6"/>
<path d="M336.0,1080.5 L339.2,1073.1 L343.3,1077.2 Z" fill="#111"/>
<line x1="431.4" y1="1076.3" x2="375.2" y2="1134.5" stroke="#111" stroke-width="1.6"/>
<path d="M370.3,1139.5 L373.4,1132.1 L377.6,1136.1 Z" fill="#111"/>
<rect x="68.9" y="853.3" width="434.1" height="354.9" fill="none" stroke="#111" stroke-width="2.4"/>
<line x1="123.2" y1="1208.2" x2="123.2" y2="1214.2" stroke="#111" stroke-width="2.2"/>
<line x1="231.7" y1="1208.2" x2="231.7" y2="1214.2" stroke="#111" stroke-width="2.2"/>
<line x1="340.2" y1="1208.2" x2="340.2" y2="1214.2" stroke="#111" stroke-width="2.2"/>
<line x1="448.7" y1="1208.2" x2="448.7" y2="1214.2" stroke="#111" stroke-width="2.2"/>
<line x1="68.9" y1="1208.2" x2="68.9" y2="1211.7" stroke="#111" stroke-width="2.2"/>
<line x1="177.4" y1="1208.2" x2="177.4" y2="1211.7" stroke="#111" stroke-width="2.2"/>
<line x1="286.0" y1="1208.2" x2="286.0" y2="1211.7" stroke="#111" stroke-width="2.2"/>
<line x1="394.5" y1="1208.2" x2="394.5" y2="1211.7" stroke="#111" stroke-width="2.2"/>
<line x1="503.0" y1="1208.2" x2="503.0" y2="1211.7" stroke="#111" stroke-width="2.2"/>
<line x1="68.9" y1="1150.4" x2="62.9" y2="1150.4" stroke="#111" stroke-width="2.2"/>
<line x1="68.9" y1="1070.8" x2="62.9" y2="1070.8" stroke="#111" stroke-width="2.2"/>
<line x1="68.9" y1="991.2" x2="62.9" y2="991.2" stroke="#111" stroke-width="2.2"/>
<line x1="68.9" y1="911.6" x2="62.9" y2="911.6" stroke="#111" stroke-width="2.2"/>
<line x1="68.9" y1="1190.2" x2="65.4" y2="1190.2" stroke="#111" stroke-width="2.2"/>
<line x1="68.9" y1="1110.6" x2="65.4" y2="1110.6" stroke="#111" stroke-width="2.2"/>
<line x1="68.9" y1="1031.0" x2="65.4" y2="1031.0" stroke="#111" stroke-width="2.2"/>
<line x1="68.9" y1="951.4" x2="65.4" y2="951.4" stroke="#111" stroke-width="2.2"/>
<line x1="68.9" y1="871.8" x2="65.4" y2="871.8" stroke="#111" stroke-width="2.2"/>
<text x="123.2" y="1240.2" font-size="25.0" fill="#000" text-anchor="middle">536</text>
<text x="231.7" y="1240.2" font-size="25.0" fill="#000" text-anchor="middle">534</text>
<text x="340.2" y="1240.2" font-size="25.0" fill="#000" text-anchor="middle">532</text>
<text x="448.7" y="1240.2" font-size="25.0" fill="#000" text-anchor="middle">530</text>
<text x="62.5" y="1157.2" font-size="24.5" fill="#000" text-anchor="end">5</text>
<text x="62.5" y="1077.6" font-size="24.5" fill="#000" text-anchor="end">6</text>
<text x="62.5" y="998.0" font-size="24.5" fill="#000" text-anchor="end">7</text>
<text x="62.5" y="918.4" font-size="24.5" fill="#000" text-anchor="end">8</text>
<text x="78.60" y="883.17" font-size="23.24" fill="#e8141c" stroke="#e8141c" stroke-width="0.45" textLength="46.60" lengthAdjust="spacingAndGlyphs">O1s</text>
<text x="429.10" y="881.56" font-size="24.37" fill="#e8141c" stroke="#e8141c" stroke-width="0.45" textLength="65.55" lengthAdjust="spacingAndGlyphs">3TFSI</text>
<text x="161.80" y="1272.37" font-size="24.92" fill="#000" stroke="#000" stroke-width="0.45" textLength="250.64" lengthAdjust="spacingAndGlyphs">Binding Energy (eV)</text>
<text x="0" y="0" font-size="24.49" fill="#000" stroke="#000" stroke-width="0.4" textLength="241.74" lengthAdjust="spacingAndGlyphs" transform="translate(28.10 1155.10) rotate(-90)">Intensity (10<tspan font-size="14.70" dy="-10.29">4</tspan><tspan dy="10.29">cps)</tspan></text>
<text x="357.50" y="958.23" font-size="26.76" fill="#3ae8ee" stroke="#3ae8ee" stroke-width="0.45" textLength="74.66" lengthAdjust="spacingAndGlyphs">C-O-C</text>
<text x="162.00" y="1011.03" font-size="26.90" fill="#7a1414" stroke="#7a1414" stroke-width="0.45" textLength="53.67" lengthAdjust="spacingAndGlyphs">C=O</text>
<text x="98.20" y="1057.22" font-size="27.75" fill="#22ee22" stroke="#22ee22" stroke-width="0.45" textLength="78.07" lengthAdjust="spacingAndGlyphs">O-C-O</text>
<text x="399.60" y="1012.20" font-size="26.21" fill="#ee22ee" stroke="#ee22ee" stroke-width="0.45" textLength="18.37" lengthAdjust="spacingAndGlyphs">Li</text>
<text x="418.60" y="1021.10" font-size="19.43" fill="#ee22ee" stroke="#ee22ee" stroke-width="0.45" textLength="10.92" lengthAdjust="spacingAndGlyphs">2</text>
<text x="430.90" y="1012.62" font-size="27.75" fill="#ee22ee" stroke="#ee22ee" stroke-width="0.45" textLength="39.40" lengthAdjust="spacingAndGlyphs">CO</text>
<text x="470.30" y="1019.52" font-size="18.17" fill="#ee22ee" stroke="#ee22ee" stroke-width="0.45" textLength="8.12" lengthAdjust="spacingAndGlyphs">3</text>
<text x="430.20" y="1068.60" font-size="26.21" fill="#1414c8" stroke="#1414c8" stroke-width="0.45" textLength="18.97" lengthAdjust="spacingAndGlyphs">Li</text>
<text x="451.30" y="1077.50" font-size="18.43" fill="#1414c8" stroke="#1414c8" stroke-width="0.45" textLength="8.12" lengthAdjust="spacingAndGlyphs">2</text>
<text x="461.50" y="1069.01" font-size="28.73" fill="#1414c8" stroke="#1414c8" stroke-width="0.45" textLength="18.95" lengthAdjust="spacingAndGlyphs">O</text>
<clipPath id="clip6"><rect x="600.5" y="853.3" width="428.0" height="349.2"/></clipPath>
<g clip-path="url(#clip6)">
<path d="M600.5,1171.4 L602.2,1171.3 L603.8,1171.3 L605.5,1171.2 L607.1,1171.1 L608.8,1171.1 L610.4,1171.0 L612.1,1170.9 L613.7,1170.8 L615.4,1170.7 L617.0,1170.7 L618.7,1170.6 L620.3,1170.5 L622.0,1170.4 L623.6,1170.3 L625.3,1170.2 L626.9,1170.1 L628.6,1170.0 L630.2,1169.9 L631.9,1169.8 L633.6,1169.6 L635.2,1169.5 L636.9,1169.4 L638.5,1169.3 L640.2,1169.1 L641.8,1169.0 L643.5,1168.8 L645.1,1168.7 L646.8,1168.5 L648.4,1168.3 L650.1,1168.2 L651.7,1168.0 L653.4,1167.8 L655.0,1167.6 L656.7,1167.4 L658.3,1167.2 L660.0,1167.0 L661.6,1166.7 L663.3,1166.5 L664.9,1166.2 L666.6,1166.0 L668.3,1165.7 L669.9,1165.4 L671.6,1165.1 L673.2,1164.8 L674.9,1164.5 L676.5,1164.1 L678.2,1163.8 L679.8,1163.4 L681.5,1163.0 L683.1,1162.6 L684.8,1162.2 L686.4,1161.7 L688.1,1161.2 L689.7,1160.7 L691.4,1160.2 L693.0,1159.6 L694.7,1159.1 L696.3,1158.4 L698.0,1157.8 L699.7,1157.1 L701.3,1156.4 L703.0,1155.6 L704.6,1154.8 L706.3,1154.0 L707.9,1153.1 L709.6,1152.2 L711.2,1151.2 L712.9,1150.1 L714.5,1149.0 L716.2,1147.8 L717.8,1146.6 L719.5,1145.3 L721.1,1144.0 L722.8,1142.5 L724.4,1141.0 L726.1,1139.4 L727.7,1137.7 L729.4,1136.0 L731.0,1134.2 L732.7,1132.2 L734.4,1130.2 L736.0,1128.1 L737.7,1126.0 L739.3,1123.8 L741.0,1121.5 L742.6,1119.1 L744.3,1116.7 L745.9,1114.3 L747.6,1111.9 L749.2,1109.5 L750.9,1107.2 L752.5,1104.9 L754.2,1102.7 L755.8,1100.7 L757.5,1098.8 L759.1,1097.1 L760.8,1095.7 L762.4,1094.6 L764.1,1093.7 L765.8,1093.1 L767.4,1092.9 L769.1,1093.2 L770.7,1094.5 L772.4,1096.6 L774.0,1099.6 L775.7,1103.2 L777.3,1107.2 L779.0,1111.5 L780.6,1115.9 L782.3,1120.3 L783.9,1124.6 L785.6,1128.6 L787.2,1132.5 L788.9,1136.1 L790.5,1139.5 L792.2,1142.6 L793.8,1145.4 L795.5,1148.0 L797.1,1150.5 L798.8,1152.7 L800.5,1154.7 L802.1,1156.5 L803.8,1158.2 L805.4,1159.8 L807.1,1161.2 L808.7,1162.5 L810.4,1163.7 L812.0,1164.8 L813.7,1165.9 L815.3,1166.8 L817.0,1167.7 L818.6,1168.5 L820.3,1169.3 L821.9,1170.0 L823.6,1170.7 L825.2,1171.3 L826.9,1171.9 L828.5,1172.5 L830.2,1173.0 L831.9,1173.5 L833.5,1174.0 L835.2,1174.4 L836.8,1174.8 L838.5,1175.2 L840.1,1175.6 L841.8,1176.0 L843.4,1176.3 L845.1,1176.6 L846.7,1176.9 L848.4,1177.3 L850.0,1177.5 L851.7,1177.8 L853.3,1178.1 L855.0,1178.3 L856.6,1178.6 L858.3,1178.8 L859.9,1179.1 L861.6,1179.3 L863.2,1179.5 L864.9,1179.7 L866.6,1179.9 L868.2,1180.1 L869.9,1180.3 L871.5,1180.5 L873.2,1180.7 L874.8,1180.9 L876.5,1181.1 L878.1,1181.2 L879.8,1181.4 L881.4,1181.6 L883.1,1181.7 L884.7,1181.9 L886.4,1182.0 L888.0,1182.2 L889.7,1182.3 L891.3,1182.5 L893.0,1182.6 L894.6,1182.8 L896.3,1182.9 L898.0,1183.1 L899.6,1183.2 L901.3,1183.3 L902.9,1183.5 L904.6,1183.6 L906.2,1183.7 L907.9,1183.8 L909.5,1184.0 L911.2,1184.1 L912.8,1184.2 L914.5,1184.3 L916.1,1184.5 L917.8,1184.6 L919.4,1184.7 L921.1,1184.8 L922.7,1184.9 L924.4,1185.0 L926.0,1185.1 L927.7,1185.3 L929.3,1185.4 L931.0,1185.5 L932.7,1185.6 L934.3,1185.7 L936.0,1185.8 L937.6,1185.9 L939.3,1186.0 L940.9,1186.1 L942.6,1186.2 L944.2,1186.3 L945.9,1186.4 L947.5,1186.5 L949.2,1186.6 L950.8,1186.8 L952.5,1186.9 L954.1,1187.0 L955.8,1187.1 L957.4,1187.2 L959.1,1187.3 L960.7,1187.4 L962.4,1187.5 L964.1,1187.6 L965.7,1187.7 L967.4,1187.8 L969.0,1187.9 L970.7,1188.0 L972.3,1188.1 L974.0,1188.1 L975.6,1188.2 L977.3,1188.3 L978.9,1188.4 L980.6,1188.5 L982.2,1188.6 L983.9,1188.7 L985.5,1188.8 L987.2,1188.9 L988.8,1189.0 L990.5,1189.1 L992.1,1189.2 L993.8,1189.3 L995.4,1189.4 L997.1,1189.5 L998.8,1189.6 L1000.4,1189.7 L1002.1,1189.8 L1003.7,1189.9 L1005.4,1190.0 L1007.0,1190.1 L1008.7,1190.2 L1010.3,1190.3 L1012.0,1190.4 L1013.6,1190.4 L1015.3,1190.5 L1016.9,1190.6 L1018.6,1190.7 L1020.2,1190.8 L1021.9,1190.9 L1023.5,1191.0 L1025.2,1191.1 L1026.8,1191.2 L1028.5,1191.3 L1028.5,1191.4 L1026.8,1191.3 L1025.2,1191.2 L1023.5,1191.1 L1021.9,1191.0 L1020.2,1190.9 L1018.6,1190.9 L1016.9,1190.8 L1015.3,1190.7 L1013.6,1190.6 L1012.0,1190.5 L1010.3,1190.4 L1008.7,1190.3 L1007.0,1190.3 L1005.4,1190.2 L1003.7,1190.1 L1002.1,1190.0 L1000.4,1189.9 L998.8,1189.8 L997.1,1189.7 L995.4,1189.7 L993.8,1189.6 L992.1,1189.5 L990.5,1189.4 L988.8,1189.3 L987.2,1189.2 L985.5,1189.2 L983.9,1189.1 L982.2,1189.0 L980.6,1188.9 L978.9,1188.8 L977.3,1188.7 L975.6,1188.7 L974.0,1188.6 L972.3,1188.5 L970.7,1188.4 L969.0,1188.3 L967.4,1188.2 L965.7,1188.2 L964.1,1188.1 L962.4,1188.0 L960.7,1187.9 L959.1,1187.8 L957.4,1187.7 L955.8,1187.7 L954.1,1187.6 L952.5,1187.5 L950.8,1187.4 L949.2,1187.3 L947.5,1187.3 L945.9,1187.2 L944.2,1187.1 L942.6,1187.0 L940.9,1186.9 L939.3,1186.8 L937.6,1186.8 L936.0,1186.7 L934.3,1186.6 L932.7,1186.5 L931.0,1186.4 L929.3,1186.4 L927.7,1186.3 L926.0,1186.2 L924.4,1186.1 L922.7,1186.0 L921.1,1186.0 L919.4,1185.9 L917.8,1185.8 L916.1,1185.7 L914.5,1185.6 L912.8,1185.6 L911.2,1185.5 L909.5,1185.4 L907.9,1185.3 L906.2,1185.2 L904.6,1185.2 L902.9,1185.1 L901.3,1185.0 L899.6,1184.9 L898.0,1184.8 L896.3,1184.8 L894.6,1184.7 L893.0,1184.6 L891.3,1184.5 L889.7,1184.4 L888.0,1184.4 L886.4,1184.3 L884.7,1184.2 L883.1,1184.1 L881.4,1184.0 L879.8,1184.0 L878.1,1183.9 L876.5,1183.8 L874.8,1183.7 L873.2,1183.6 L871.5,1183.6 L869.9,1183.5 L868.2,1183.4 L866.6,1183.3 L864.9,1183.2 L863.2,1183.2 L861.6,1183.1 L859.9,1183.0 L858.3,1182.9 L856.6,1182.9 L855.0,1182.8 L853.3,1182.7 L851.7,1182.6 L850.0,1182.5 L848.4,1182.5 L846.7,1182.4 L845.1,1182.3 L843.4,1182.2 L841.8,1182.2 L840.1,1182.1 L838.5,1182.0 L836.8,1181.9 L835.2,1181.9 L833.5,1181.8 L831.9,1181.7 L830.2,1181.6 L828.5,1181.6 L826.9,1181.5 L825.2,1181.4 L823.6,1181.3 L821.9,1181.3 L820.3,1181.2 L818.6,1181.1 L817.0,1181.1 L815.3,1181.0 L813.7,1180.9 L812.0,1180.8 L810.4,1180.8 L808.7,1180.7 L807.1,1180.6 L805.4,1180.6 L803.8,1180.5 L802.1,1180.4 L800.5,1180.3 L798.8,1180.3 L797.1,1180.2 L795.5,1180.1 L793.8,1180.1 L792.2,1180.0 L790.5,1179.9 L788.9,1179.9 L787.2,1179.8 L785.6,1179.7 L783.9,1179.6 L782.3,1179.6 L780.6,1179.5 L779.0,1179.4 L777.3,1179.4 L775.7,1179.3 L774.0,1179.2 L772.4,1179.2 L770.7,1179.1 L769.1,1179.0 L767.4,1179.0 L765.8,1178.9 L764.1,1178.8 L762.4,1178.8 L760.8,1178.7 L759.1,1178.6 L757.5,1178.6 L755.8,1178.5 L754.2,1178.4 L752.5,1178.4 L750.9,1178.3 L749.2,1178.2 L747.6,1178.2 L745.9,1178.1 L744.3,1178.1 L742.6,1178.0 L741.0,1177.9 L739.3,1177.9 L737.7,1177.8 L736.0,1177.7 L734.4,1177.7 L732.7,1177.6 L731.0,1177.6 L729.4,1177.5 L727.7,1177.4 L726.1,1177.4 L724.4,1177.3 L722.8,1177.3 L721.1,1177.2 L719.5,1177.2 L717.8,1177.1 L716.2,1177.1 L714.5,1177.0 L712.9,1177.0 L711.2,1176.9 L709.6,1176.9 L707.9,1176.8 L706.3,1176.8 L704.6,1176.7 L703.0,1176.7 L701.3,1176.6 L699.7,1176.6 L698.0,1176.6 L696.3,1176.5 L694.7,1176.5 L693.0,1176.4 L691.4,1176.4 L689.7,1176.4 L688.1,1176.3 L686.4,1176.3 L684.8,1176.2 L683.1,1176.2 L681.5,1176.2 L679.8,1176.1 L678.2,1176.1 L676.5,1176.1 L674.9,1176.0 L673.2,1176.0 L671.6,1176.0 L669.9,1175.9 L668.3,1175.9 L666.6,1175.9 L664.9,1175.9 L663.3,1175.8 L661.6,1175.8 L660.0,1175.8 L658.3,1175.7 L656.7,1175.7 L655.0,1175.7 L653.4,1175.7 L651.7,1175.6 L650.1,1175.6 L648.4,1175.6 L646.8,1175.6 L645.1,1175.5 L643.5,1175.5 L641.8,1175.5 L640.2,1175.5 L638.5,1175.4 L636.9,1175.4 L635.2,1175.4 L633.6,1175.4 L631.9,1175.4 L630.2,1175.3 L628.6,1175.3 L626.9,1175.3 L625.3,1175.3 L623.6,1175.3 L622.0,1175.2 L620.3,1175.2 L618.7,1175.2 L617.0,1175.2 L615.4,1175.2 L613.7,1175.1 L612.1,1175.1 L610.4,1175.1 L608.8,1175.1 L607.1,1175.1 L605.5,1175.1 L603.8,1175.0 L602.2,1175.0 L600.5,1175.0 Z" fill="#00ee00" fill-opacity="1" stroke="none" stroke-width="0.8"/>
<path d="M600.5,1175.0 L602.2,1175.0 L603.8,1175.0 L605.5,1175.1 L607.1,1175.1 L608.8,1175.1 L610.4,1175.1 L612.1,1175.1 L613.7,1175.1 L615.4,1175.2 L617.0,1175.2 L618.7,1175.2 L620.3,1175.2 L622.0,1175.2 L623.6,1175.3 L625.3,1175.3 L626.9,1175.3 L628.6,1175.3 L630.2,1175.3 L631.9,1175.4 L633.6,1175.4 L635.2,1175.4 L636.9,1175.4 L638.5,1175.4 L640.2,1175.5 L641.8,1175.5 L643.5,1175.5 L645.1,1175.5 L646.8,1175.6 L648.4,1175.6 L650.1,1175.6 L651.7,1175.6 L653.4,1175.7 L655.0,1175.7 L656.7,1175.7 L658.3,1175.7 L660.0,1175.8 L661.6,1175.8 L663.3,1175.8 L664.9,1175.9 L666.6,1175.9 L668.3,1175.9 L669.9,1175.9 L671.6,1176.0 L673.2,1176.0 L674.9,1176.0 L676.5,1176.1 L678.2,1176.1 L679.8,1176.1 L681.5,1176.2 L683.1,1176.2 L684.8,1176.2 L686.4,1176.3 L688.1,1176.3 L689.7,1176.4 L691.4,1176.4 L693.0,1176.4 L694.7,1176.5 L696.3,1176.5 L698.0,1176.6 L699.7,1176.6 L701.3,1176.6 L703.0,1176.7 L704.6,1176.7 L706.3,1176.8 L707.9,1176.8 L709.6,1176.9 L711.2,1176.9 L712.9,1177.0 L714.5,1177.0 L716.2,1177.1 L717.8,1177.1 L719.5,1177.2 L721.1,1177.2 L722.8,1177.3 L724.4,1177.3 L726.1,1177.4 L727.7,1177.4 L729.4,1177.5 L731.0,1177.5 L732.7,1177.6 L734.4,1177.6 L736.0,1177.6 L737.7,1177.7 L739.3,1177.7 L741.0,1177.8 L742.6,1177.8 L744.3,1177.9 L745.9,1177.9 L747.6,1178.0 L749.2,1178.0 L750.9,1178.1 L752.5,1178.1 L754.2,1178.1 L755.8,1178.2 L757.5,1178.2 L759.1,1178.3 L760.8,1178.3 L762.4,1178.3 L764.1,1178.4 L765.8,1178.4 L767.4,1178.4 L769.1,1178.5 L770.7,1178.5 L772.4,1178.5 L774.0,1178.5 L775.7,1178.6 L777.3,1178.6 L779.0,1178.6 L780.6,1178.6 L782.3,1178.6 L783.9,1178.6 L785.6,1178.7 L787.2,1178.7 L788.9,1178.7 L790.5,1178.6 L792.2,1178.6 L793.8,1178.6 L795.5,1178.6 L797.1,1178.6 L798.8,1178.5 L800.5,1178.4 L802.1,1178.4 L803.8,1178.3 L805.4,1178.1 L807.1,1178.0 L808.7,1177.8 L810.4,1177.5 L812.0,1177.2 L813.7,1176.8 L815.3,1176.2 L817.0,1175.5 L818.6,1174.7 L820.3,1173.6 L821.9,1172.3 L823.6,1170.7 L825.2,1168.7 L826.9,1166.4 L828.5,1163.6 L830.2,1160.3 L831.9,1156.5 L833.5,1152.1 L835.2,1147.1 L836.8,1141.5 L838.5,1135.3 L840.1,1128.5 L841.8,1121.2 L843.4,1113.5 L845.1,1105.4 L846.7,1097.2 L848.4,1088.9 L850.0,1080.7 L851.7,1072.9 L853.3,1065.6 L855.0,1059.1 L856.6,1053.7 L858.3,1049.5 L859.9,1046.7 L861.6,1045.5 L863.2,1046.0 L864.9,1048.6 L866.6,1053.3 L868.2,1059.7 L869.9,1067.5 L871.5,1076.3 L873.2,1085.8 L874.8,1095.6 L876.5,1105.4 L878.1,1115.0 L879.8,1124.2 L881.4,1132.7 L883.1,1140.5 L884.7,1147.5 L886.4,1153.7 L888.0,1159.1 L889.7,1163.7 L891.3,1167.5 L893.0,1170.7 L894.6,1173.4 L896.3,1175.5 L898.0,1177.2 L899.6,1178.6 L901.3,1179.7 L902.9,1180.6 L904.6,1181.3 L906.2,1181.9 L907.9,1182.4 L909.5,1182.8 L911.2,1183.1 L912.8,1183.4 L914.5,1183.7 L916.1,1183.9 L917.8,1184.2 L919.4,1184.4 L921.1,1184.5 L922.7,1184.7 L924.4,1184.9 L926.0,1185.1 L927.7,1185.2 L929.3,1185.4 L931.0,1185.5 L932.7,1185.7 L934.3,1185.8 L936.0,1185.9 L937.6,1186.1 L939.3,1186.2 L940.9,1186.3 L942.6,1186.5 L944.2,1186.6 L945.9,1186.7 L947.5,1186.8 L949.2,1186.9 L950.8,1187.0 L952.5,1187.2 L954.1,1187.3 L955.8,1187.4 L957.4,1187.5 L959.1,1187.6 L960.7,1187.7 L962.4,1187.8 L964.1,1187.9 L965.7,1188.0 L967.4,1188.1 L969.0,1188.2 L970.7,1188.3 L972.3,1188.4 L974.0,1188.5 L975.6,1188.6 L977.3,1188.7 L978.9,1188.8 L980.6,1188.9 L982.2,1189.0 L983.9,1189.1 L985.5,1189.2 L987.2,1189.2 L988.8,1189.3 L990.5,1189.4 L992.1,1189.5 L993.8,1189.6 L995.4,1189.7 L997.1,1189.7 L998.8,1189.8 L1000.4,1189.9 L1002.1,1190.0 L1003.7,1190.1 L1005.4,1190.2 L1007.0,1190.3 L1008.7,1190.3 L1010.3,1190.4 L1012.0,1190.5 L1013.6,1190.6 L1015.3,1190.7 L1016.9,1190.8 L1018.6,1190.9 L1020.2,1190.9 L1021.9,1191.0 L1023.5,1191.1 L1025.2,1191.2 L1026.8,1191.3 L1028.5,1191.4 L1028.5,1191.4 L1026.8,1191.3 L1025.2,1191.2 L1023.5,1191.1 L1021.9,1191.0 L1020.2,1190.9 L1018.6,1190.9 L1016.9,1190.8 L1015.3,1190.7 L1013.6,1190.6 L1012.0,1190.5 L1010.3,1190.4 L1008.7,1190.3 L1007.0,1190.3 L1005.4,1190.2 L1003.7,1190.1 L1002.1,1190.0 L1000.4,1189.9 L998.8,1189.8 L997.1,1189.7 L995.4,1189.7 L993.8,1189.6 L992.1,1189.5 L990.5,1189.4 L988.8,1189.3 L987.2,1189.2 L985.5,1189.2 L983.9,1189.1 L982.2,1189.0 L980.6,1188.9 L978.9,1188.8 L977.3,1188.7 L975.6,1188.7 L974.0,1188.6 L972.3,1188.5 L970.7,1188.4 L969.0,1188.3 L967.4,1188.2 L965.7,1188.2 L964.1,1188.1 L962.4,1188.0 L960.7,1187.9 L959.1,1187.8 L957.4,1187.7 L955.8,1187.7 L954.1,1187.6 L952.5,1187.5 L950.8,1187.4 L949.2,1187.3 L947.5,1187.3 L945.9,1187.2 L944.2,1187.1 L942.6,1187.0 L940.9,1186.9 L939.3,1186.8 L937.6,1186.8 L936.0,1186.7 L934.3,1186.6 L932.7,1186.5 L931.0,1186.4 L929.3,1186.4 L927.7,1186.3 L926.0,1186.2 L924.4,1186.1 L922.7,1186.0 L921.1,1186.0 L919.4,1185.9 L917.8,1185.8 L916.1,1185.7 L914.5,1185.6 L912.8,1185.6 L911.2,1185.5 L909.5,1185.4 L907.9,1185.3 L906.2,1185.2 L904.6,1185.2 L902.9,1185.1 L901.3,1185.0 L899.6,1184.9 L898.0,1184.8 L896.3,1184.8 L894.6,1184.7 L893.0,1184.6 L891.3,1184.5 L889.7,1184.4 L888.0,1184.4 L886.4,1184.3 L884.7,1184.2 L883.1,1184.1 L881.4,1184.0 L879.8,1184.0 L878.1,1183.9 L876.5,1183.8 L874.8,1183.7 L873.2,1183.6 L871.5,1183.6 L869.9,1183.5 L868.2,1183.4 L866.6,1183.3 L864.9,1183.2 L863.2,1183.2 L861.6,1183.1 L859.9,1183.0 L858.3,1182.9 L856.6,1182.9 L855.0,1182.8 L853.3,1182.7 L851.7,1182.6 L850.0,1182.5 L848.4,1182.5 L846.7,1182.4 L845.1,1182.3 L843.4,1182.2 L841.8,1182.2 L840.1,1182.1 L838.5,1182.0 L836.8,1181.9 L835.2,1181.9 L833.5,1181.8 L831.9,1181.7 L830.2,1181.6 L828.5,1181.6 L826.9,1181.5 L825.2,1181.4 L823.6,1181.3 L821.9,1181.3 L820.3,1181.2 L818.6,1181.1 L817.0,1181.1 L815.3,1181.0 L813.7,1180.9 L812.0,1180.8 L810.4,1180.8 L808.7,1180.7 L807.1,1180.6 L805.4,1180.6 L803.8,1180.5 L802.1,1180.4 L800.5,1180.3 L798.8,1180.3 L797.1,1180.2 L795.5,1180.1 L793.8,1180.1 L792.2,1180.0 L790.5,1179.9 L788.9,1179.9 L787.2,1179.8 L785.6,1179.7 L783.9,1179.6 L782.3,1179.6 L780.6,1179.5 L779.0,1179.4 L777.3,1179.4 L775.7,1179.3 L774.0,1179.2 L772.4,1179.2 L770.7,1179.1 L769.1,1179.0 L767.4,1179.0 L765.8,1178.9 L764.1,1178.8 L762.4,1178.8 L760.8,1178.7 L759.1,1178.6 L757.5,1178.6 L755.8,1178.5 L754.2,1178.4 L752.5,1178.4 L750.9,1178.3 L749.2,1178.2 L747.6,1178.2 L745.9,1178.1 L744.3,1178.1 L742.6,1178.0 L741.0,1177.9 L739.3,1177.9 L737.7,1177.8 L736.0,1177.7 L734.4,1177.7 L732.7,1177.6 L731.0,1177.6 L729.4,1177.5 L727.7,1177.4 L726.1,1177.4 L724.4,1177.3 L722.8,1177.3 L721.1,1177.2 L719.5,1177.2 L717.8,1177.1 L716.2,1177.1 L714.5,1177.0 L712.9,1177.0 L711.2,1176.9 L709.6,1176.9 L707.9,1176.8 L706.3,1176.8 L704.6,1176.7 L703.0,1176.7 L701.3,1176.6 L699.7,1176.6 L698.0,1176.6 L696.3,1176.5 L694.7,1176.5 L693.0,1176.4 L691.4,1176.4 L689.7,1176.4 L688.1,1176.3 L686.4,1176.3 L684.8,1176.2 L683.1,1176.2 L681.5,1176.2 L679.8,1176.1 L678.2,1176.1 L676.5,1176.1 L674.9,1176.0 L673.2,1176.0 L671.6,1176.0 L669.9,1175.9 L668.3,1175.9 L666.6,1175.9 L664.9,1175.9 L663.3,1175.8 L661.6,1175.8 L660.0,1175.8 L658.3,1175.7 L656.7,1175.7 L655.0,1175.7 L653.4,1175.7 L651.7,1175.6 L650.1,1175.6 L648.4,1175.6 L646.8,1175.6 L645.1,1175.5 L643.5,1175.5 L641.8,1175.5 L640.2,1175.5 L638.5,1175.4 L636.9,1175.4 L635.2,1175.4 L633.6,1175.4 L631.9,1175.4 L630.2,1175.3 L628.6,1175.3 L626.9,1175.3 L625.3,1175.3 L623.6,1175.3 L622.0,1175.2 L620.3,1175.2 L618.7,1175.2 L617.0,1175.2 L615.4,1175.2 L613.7,1175.1 L612.1,1175.1 L610.4,1175.1 L608.8,1175.1 L607.1,1175.1 L605.5,1175.1 L603.8,1175.0 L602.2,1175.0 L600.5,1175.0 Z" fill="#ff22ff" fill-opacity="1" stroke="none" stroke-width="0.8"/>
<path d="M600.5,1175.0 L602.2,1175.0 L603.8,1175.0 L605.5,1175.1 L607.1,1175.1 L608.8,1175.1 L610.4,1175.1 L612.1,1175.1 L613.7,1175.1 L615.4,1175.2 L617.0,1175.2 L618.7,1175.2 L620.3,1175.2 L622.0,1175.2 L623.6,1175.3 L625.3,1175.3 L626.9,1175.3 L628.6,1175.3 L630.2,1175.3 L631.9,1175.4 L633.6,1175.4 L635.2,1175.4 L636.9,1175.4 L638.5,1175.4 L640.2,1175.5 L641.8,1175.5 L643.5,1175.5 L645.1,1175.5 L646.8,1175.6 L648.4,1175.6 L650.1,1175.6 L651.7,1175.6 L653.4,1175.7 L655.0,1175.7 L656.7,1175.7 L658.3,1175.7 L660.0,1175.7 L661.6,1175.7 L663.3,1175.8 L664.9,1175.8 L666.6,1175.8 L668.3,1175.8 L669.9,1175.8 L671.6,1175.9 L673.2,1175.9 L674.9,1175.9 L676.5,1175.9 L678.2,1175.9 L679.8,1176.0 L681.5,1176.0 L683.1,1176.0 L684.8,1176.0 L686.4,1176.0 L688.1,1176.1 L689.7,1176.1 L691.4,1176.1 L693.0,1176.1 L694.7,1176.1 L696.3,1176.2 L698.0,1176.2 L699.7,1176.2 L701.3,1176.2 L703.0,1176.2 L704.6,1176.3 L706.3,1176.3 L707.9,1176.3 L709.6,1176.3 L711.2,1176.3 L712.9,1176.4 L714.5,1176.4 L716.2,1176.4 L717.8,1176.4 L719.5,1176.4 L721.1,1176.5 L722.8,1176.5 L724.4,1176.5 L726.1,1176.5 L727.7,1176.5 L729.4,1176.5 L731.0,1176.5 L732.7,1176.5 L734.4,1176.6 L736.0,1176.6 L737.7,1176.6 L739.3,1176.6 L741.0,1176.6 L742.6,1176.6 L744.3,1176.6 L745.9,1176.6 L747.6,1176.5 L749.2,1176.5 L750.9,1176.5 L752.5,1176.5 L754.2,1176.4 L755.8,1176.4 L757.5,1176.4 L759.1,1176.3 L760.8,1176.3 L762.4,1176.2 L764.1,1176.1 L765.8,1176.0 L767.4,1175.9 L769.1,1175.8 L770.7,1175.7 L772.4,1175.6 L774.0,1175.4 L775.7,1175.3 L777.3,1175.1 L779.0,1174.8 L780.6,1174.6 L782.3,1174.3 L783.9,1174.0 L785.6,1173.5 L787.2,1173.0 L788.9,1172.4 L790.5,1171.7 L792.2,1170.8 L793.8,1169.7 L795.5,1168.4 L797.1,1166.7 L798.8,1164.6 L800.5,1162.1 L802.1,1159.1 L803.8,1155.4 L805.4,1151.1 L807.1,1145.9 L808.7,1140.0 L810.4,1133.1 L812.0,1125.4 L813.7,1116.8 L815.3,1107.3 L817.0,1097.1 L818.6,1086.3 L820.3,1075.1 L821.9,1063.7 L823.6,1052.4 L825.2,1041.7 L826.9,1031.9 L828.5,1023.4 L830.2,1016.9 L831.9,1012.6 L833.5,1010.9 L835.2,1011.9 L836.8,1015.2 L838.5,1020.7 L840.1,1028.1 L841.8,1037.0 L843.4,1047.0 L845.1,1057.6 L846.7,1068.6 L848.4,1079.6 L850.0,1090.3 L851.7,1100.7 L853.3,1110.5 L855.0,1119.5 L856.6,1127.8 L858.3,1135.3 L859.9,1142.0 L861.6,1147.9 L863.2,1153.0 L864.9,1157.4 L866.6,1161.2 L868.2,1164.4 L869.9,1167.1 L871.5,1169.3 L873.2,1171.2 L874.8,1172.8 L876.5,1174.1 L878.1,1175.2 L879.8,1176.1 L881.4,1176.9 L883.1,1177.6 L884.7,1178.2 L886.4,1178.7 L888.0,1179.1 L889.7,1179.6 L891.3,1180.0 L893.0,1180.3 L894.6,1180.6 L896.3,1180.9 L898.0,1181.2 L899.6,1181.5 L901.3,1181.8 L902.9,1182.0 L904.6,1182.2 L906.2,1182.5 L907.9,1182.7 L909.5,1182.9 L911.2,1183.1 L912.8,1183.3 L914.5,1183.5 L916.1,1183.7 L917.8,1183.8 L919.4,1184.0 L921.1,1184.2 L922.7,1184.3 L924.4,1184.5 L926.0,1184.6 L927.7,1184.8 L929.3,1184.9 L931.0,1185.1 L932.7,1185.2 L934.3,1185.4 L936.0,1185.5 L937.6,1185.6 L939.3,1185.8 L940.9,1185.9 L942.6,1186.0 L944.2,1186.1 L945.9,1186.3 L947.5,1186.4 L949.2,1186.5 L950.8,1186.6 L952.5,1186.7 L954.1,1186.9 L955.8,1187.0 L957.4,1187.1 L959.1,1187.2 L960.7,1187.3 L962.4,1187.4 L964.1,1187.5 L965.7,1187.6 L967.4,1187.7 L969.0,1187.8 L970.7,1188.0 L972.3,1188.1 L974.0,1188.2 L975.6,1188.3 L977.3,1188.4 L978.9,1188.5 L980.6,1188.6 L982.2,1188.7 L983.9,1188.8 L985.5,1188.9 L987.2,1189.0 L988.8,1189.1 L990.5,1189.2 L992.1,1189.3 L993.8,1189.4 L995.4,1189.5 L997.1,1189.6 L998.8,1189.7 L1000.4,1189.8 L1002.1,1189.9 L1003.7,1190.0 L1005.4,1190.1 L1007.0,1190.2 L1008.7,1190.3 L1010.3,1190.4 L1012.0,1190.4 L1013.6,1190.5 L1015.3,1190.6 L1016.9,1190.7 L1018.6,1190.8 L1020.2,1190.9 L1021.9,1191.0 L1023.5,1191.1 L1025.2,1191.2 L1026.8,1191.3 L1028.5,1191.4 L1028.5,1191.4 L1026.8,1191.3 L1025.2,1191.2 L1023.5,1191.1 L1021.9,1191.0 L1020.2,1190.9 L1018.6,1190.9 L1016.9,1190.8 L1015.3,1190.7 L1013.6,1190.6 L1012.0,1190.5 L1010.3,1190.4 L1008.7,1190.3 L1007.0,1190.3 L1005.4,1190.2 L1003.7,1190.1 L1002.1,1190.0 L1000.4,1189.9 L998.8,1189.8 L997.1,1189.7 L995.4,1189.7 L993.8,1189.6 L992.1,1189.5 L990.5,1189.4 L988.8,1189.3 L987.2,1189.2 L985.5,1189.2 L983.9,1189.1 L982.2,1189.0 L980.6,1188.9 L978.9,1188.8 L977.3,1188.7 L975.6,1188.7 L974.0,1188.6 L972.3,1188.5 L970.7,1188.4 L969.0,1188.3 L967.4,1188.2 L965.7,1188.2 L964.1,1188.1 L962.4,1188.0 L960.7,1187.9 L959.1,1187.8 L957.4,1187.7 L955.8,1187.7 L954.1,1187.6 L952.5,1187.5 L950.8,1187.4 L949.2,1187.3 L947.5,1187.3 L945.9,1187.2 L944.2,1187.1 L942.6,1187.0 L940.9,1186.9 L939.3,1186.8 L937.6,1186.8 L936.0,1186.7 L934.3,1186.6 L932.7,1186.5 L931.0,1186.4 L929.3,1186.4 L927.7,1186.3 L926.0,1186.2 L924.4,1186.1 L922.7,1186.0 L921.1,1186.0 L919.4,1185.9 L917.8,1185.8 L916.1,1185.7 L914.5,1185.6 L912.8,1185.6 L911.2,1185.5 L909.5,1185.4 L907.9,1185.3 L906.2,1185.2 L904.6,1185.2 L902.9,1185.1 L901.3,1185.0 L899.6,1184.9 L898.0,1184.8 L896.3,1184.8 L894.6,1184.7 L893.0,1184.6 L891.3,1184.5 L889.7,1184.4 L888.0,1184.4 L886.4,1184.3 L884.7,1184.2 L883.1,1184.1 L881.4,1184.0 L879.8,1184.0 L878.1,1183.9 L876.5,1183.8 L874.8,1183.7 L873.2,1183.6 L871.5,1183.6 L869.9,1183.5 L868.2,1183.4 L866.6,1183.3 L864.9,1183.2 L863.2,1183.2 L861.6,1183.1 L859.9,1183.0 L858.3,1182.9 L856.6,1182.9 L855.0,1182.8 L853.3,1182.7 L851.7,1182.6 L850.0,1182.5 L848.4,1182.5 L846.7,1182.4 L845.1,1182.3 L843.4,1182.2 L841.8,1182.2 L840.1,1182.1 L838.5,1182.0 L836.8,1181.9 L835.2,1181.9 L833.5,1181.8 L831.9,1181.7 L830.2,1181.6 L828.5,1181.6 L826.9,1181.5 L825.2,1181.4 L823.6,1181.3 L821.9,1181.3 L820.3,1181.2 L818.6,1181.1 L817.0,1181.1 L815.3,1181.0 L813.7,1180.9 L812.0,1180.8 L810.4,1180.8 L808.7,1180.7 L807.1,1180.6 L805.4,1180.6 L803.8,1180.5 L802.1,1180.4 L800.5,1180.3 L798.8,1180.3 L797.1,1180.2 L795.5,1180.1 L793.8,1180.1 L792.2,1180.0 L790.5,1179.9 L788.9,1179.9 L787.2,1179.8 L785.6,1179.7 L783.9,1179.6 L782.3,1179.6 L780.6,1179.5 L779.0,1179.4 L777.3,1179.4 L775.7,1179.3 L774.0,1179.2 L772.4,1179.2 L770.7,1179.1 L769.1,1179.0 L767.4,1179.0 L765.8,1178.9 L764.1,1178.8 L762.4,1178.8 L760.8,1178.7 L759.1,1178.6 L757.5,1178.6 L755.8,1178.5 L754.2,1178.4 L752.5,1178.4 L750.9,1178.3 L749.2,1178.2 L747.6,1178.2 L745.9,1178.1 L744.3,1178.1 L742.6,1178.0 L741.0,1177.9 L739.3,1177.9 L737.7,1177.8 L736.0,1177.7 L734.4,1177.7 L732.7,1177.6 L731.0,1177.6 L729.4,1177.5 L727.7,1177.4 L726.1,1177.4 L724.4,1177.3 L722.8,1177.3 L721.1,1177.2 L719.5,1177.2 L717.8,1177.1 L716.2,1177.1 L714.5,1177.0 L712.9,1177.0 L711.2,1176.9 L709.6,1176.9 L707.9,1176.8 L706.3,1176.8 L704.6,1176.7 L703.0,1176.7 L701.3,1176.6 L699.7,1176.6 L698.0,1176.6 L696.3,1176.5 L694.7,1176.5 L693.0,1176.4 L691.4,1176.4 L689.7,1176.4 L688.1,1176.3 L686.4,1176.3 L684.8,1176.2 L683.1,1176.2 L681.5,1176.2 L679.8,1176.1 L678.2,1176.1 L676.5,1176.1 L674.9,1176.0 L673.2,1176.0 L671.6,1176.0 L669.9,1175.9 L668.3,1175.9 L666.6,1175.9 L664.9,1175.9 L663.3,1175.8 L661.6,1175.8 L660.0,1175.8 L658.3,1175.7 L656.7,1175.7 L655.0,1175.7 L653.4,1175.7 L651.7,1175.6 L650.1,1175.6 L648.4,1175.6 L646.8,1175.6 L645.1,1175.5 L643.5,1175.5 L641.8,1175.5 L640.2,1175.5 L638.5,1175.4 L636.9,1175.4 L635.2,1175.4 L633.6,1175.4 L631.9,1175.4 L630.2,1175.3 L628.6,1175.3 L626.9,1175.3 L625.3,1175.3 L623.6,1175.3 L622.0,1175.2 L620.3,1175.2 L618.7,1175.2 L617.0,1175.2 L615.4,1175.2 L613.7,1175.1 L612.1,1175.1 L610.4,1175.1 L608.8,1175.1 L607.1,1175.1 L605.5,1175.1 L603.8,1175.0 L602.2,1175.0 L600.5,1175.0 Z" fill="#27ecff" fill-opacity="0.79" stroke="none" stroke-width="0.8"/>
<path d="M600.5,1175.0 L602.2,1175.0 L603.8,1175.0 L605.5,1175.1 L607.1,1175.1 L608.8,1175.1 L610.4,1175.1 L612.1,1175.1 L613.7,1175.1 L615.4,1175.2 L617.0,1175.2 L618.7,1175.2 L620.3,1175.2 L622.0,1175.2 L623.6,1175.3 L625.3,1175.3 L626.9,1175.3 L628.6,1175.3 L630.2,1175.3 L631.9,1175.4 L633.6,1175.4 L635.2,1175.4 L636.9,1175.4 L638.5,1175.4 L640.2,1175.5 L641.8,1175.5 L643.5,1175.5 L645.1,1175.5 L646.8,1175.6 L648.4,1175.6 L650.1,1175.6 L651.7,1175.6 L653.4,1175.7 L655.0,1175.7 L656.7,1175.7 L658.3,1175.7 L660.0,1175.8 L661.6,1175.8 L663.3,1175.8 L664.9,1175.9 L666.6,1175.9 L668.3,1175.9 L669.9,1175.9 L671.6,1176.0 L673.2,1176.0 L674.9,1176.0 L676.5,1176.1 L678.2,1176.1 L679.8,1176.1 L681.5,1176.2 L683.1,1176.2 L684.8,1176.2 L686.4,1176.3 L688.1,1176.3 L689.7,1176.4 L691.4,1176.4 L693.0,1176.4 L694.7,1176.5 L696.3,1176.5 L698.0,1176.6 L699.7,1176.6 L701.3,1176.6 L703.0,1176.7 L704.6,1176.7 L706.3,1176.8 L707.9,1176.8 L709.6,1176.9 L711.2,1176.9 L712.9,1177.0 L714.5,1177.0 L716.2,1177.1 L717.8,1177.1 L719.5,1177.2 L721.1,1177.2 L722.8,1177.3 L724.4,1177.3 L726.1,1177.4 L727.7,1177.4 L729.4,1177.5 L731.0,1177.6 L732.7,1177.6 L734.4,1177.7 L736.0,1177.7 L737.7,1177.8 L739.3,1177.9 L741.0,1177.9 L742.6,1178.0 L744.3,1178.1 L745.9,1178.1 L747.6,1178.2 L749.2,1178.2 L750.9,1178.3 L752.5,1178.4 L754.2,1178.4 L755.8,1178.5 L757.5,1178.6 L759.1,1178.6 L760.8,1178.7 L762.4,1178.8 L764.1,1178.8 L765.8,1178.9 L767.4,1179.0 L769.1,1179.0 L770.7,1179.1 L772.4,1179.2 L774.0,1179.2 L775.7,1179.3 L777.3,1179.4 L779.0,1179.4 L780.6,1179.5 L782.3,1179.6 L783.9,1179.6 L785.6,1179.7 L787.2,1179.8 L788.9,1179.9 L790.5,1179.9 L792.2,1180.0 L793.8,1180.0 L795.5,1180.1 L797.1,1180.1 L798.8,1180.2 L800.5,1180.2 L802.1,1180.3 L803.8,1180.3 L805.4,1180.4 L807.1,1180.4 L808.7,1180.4 L810.4,1180.5 L812.0,1180.5 L813.7,1180.6 L815.3,1180.6 L817.0,1180.6 L818.6,1180.7 L820.3,1180.7 L821.9,1180.7 L823.6,1180.7 L825.2,1180.8 L826.9,1180.8 L828.5,1180.8 L830.2,1180.8 L831.9,1180.8 L833.5,1180.7 L835.2,1180.7 L836.8,1180.6 L838.5,1180.6 L840.1,1180.4 L841.8,1180.3 L843.4,1180.0 L845.1,1179.8 L846.7,1179.4 L848.4,1178.9 L850.0,1178.3 L851.7,1177.6 L853.3,1176.7 L855.0,1175.6 L856.6,1174.2 L858.3,1172.6 L859.9,1170.8 L861.6,1168.6 L863.2,1166.0 L864.9,1163.2 L866.6,1160.0 L868.2,1156.4 L869.9,1152.6 L871.5,1148.5 L873.2,1144.1 L874.8,1139.5 L876.5,1134.9 L878.1,1130.2 L879.8,1125.6 L881.4,1121.3 L883.1,1117.3 L884.7,1113.8 L886.4,1110.9 L888.0,1108.7 L889.7,1107.3 L891.3,1106.8 L893.0,1107.3 L894.6,1108.8 L896.3,1111.4 L898.0,1114.7 L899.6,1118.6 L901.3,1123.0 L902.9,1127.6 L904.6,1132.4 L906.2,1137.1 L907.9,1141.8 L909.5,1146.2 L911.2,1150.5 L912.8,1154.4 L914.5,1158.1 L916.1,1161.4 L917.8,1164.4 L919.4,1167.1 L921.1,1169.4 L922.7,1171.5 L924.4,1173.4 L926.0,1175.0 L927.7,1176.4 L929.3,1177.6 L931.0,1178.6 L932.7,1179.5 L934.3,1180.3 L936.0,1180.9 L937.6,1181.5 L939.3,1182.1 L940.9,1182.5 L942.6,1182.9 L944.2,1183.3 L945.9,1183.7 L947.5,1184.0 L949.2,1184.3 L950.8,1184.5 L952.5,1184.8 L954.1,1185.0 L955.8,1185.3 L957.4,1185.5 L959.1,1185.7 L960.7,1185.9 L962.4,1186.1 L964.1,1186.3 L965.7,1186.4 L967.4,1186.6 L969.0,1186.8 L970.7,1186.9 L972.3,1187.1 L974.0,1187.3 L975.6,1187.4 L977.3,1187.6 L978.9,1187.7 L980.6,1187.8 L982.2,1188.0 L983.9,1188.1 L985.5,1188.2 L987.2,1188.4 L988.8,1188.5 L990.5,1188.6 L992.1,1188.8 L993.8,1188.9 L995.4,1189.0 L997.1,1189.1 L998.8,1189.2 L1000.4,1189.4 L1002.1,1189.5 L1003.7,1189.6 L1005.4,1189.7 L1007.0,1189.8 L1008.7,1189.9 L1010.3,1190.0 L1012.0,1190.1 L1013.6,1190.3 L1015.3,1190.4 L1016.9,1190.5 L1018.6,1190.6 L1020.2,1190.7 L1021.9,1190.8 L1023.5,1190.9 L1025.2,1191.0 L1026.8,1191.1 L1028.5,1191.2 L1028.5,1191.4 L1026.8,1191.3 L1025.2,1191.2 L1023.5,1191.1 L1021.9,1191.0 L1020.2,1190.9 L1018.6,1190.9 L1016.9,1190.8 L1015.3,1190.7 L1013.6,1190.6 L1012.0,1190.5 L1010.3,1190.4 L1008.7,1190.3 L1007.0,1190.3 L1005.4,1190.2 L1003.7,1190.1 L1002.1,1190.0 L1000.4,1189.9 L998.8,1189.8 L997.1,1189.7 L995.4,1189.7 L993.8,1189.6 L992.1,1189.5 L990.5,1189.4 L988.8,1189.3 L987.2,1189.2 L985.5,1189.2 L983.9,1189.1 L982.2,1189.0 L980.6,1188.9 L978.9,1188.8 L977.3,1188.7 L975.6,1188.7 L974.0,1188.6 L972.3,1188.5 L970.7,1188.4 L969.0,1188.3 L967.4,1188.2 L965.7,1188.2 L964.1,1188.1 L962.4,1188.0 L960.7,1187.9 L959.1,1187.8 L957.4,1187.7 L955.8,1187.7 L954.1,1187.6 L952.5,1187.5 L950.8,1187.4 L949.2,1187.3 L947.5,1187.3 L945.9,1187.2 L944.2,1187.1 L942.6,1187.0 L940.9,1186.9 L939.3,1186.8 L937.6,1186.8 L936.0,1186.7 L934.3,1186.6 L932.7,1186.5 L931.0,1186.4 L929.3,1186.4 L927.7,1186.3 L926.0,1186.2 L924.4,1186.1 L922.7,1186.0 L921.1,1186.0 L919.4,1185.9 L917.8,1185.8 L916.1,1185.7 L914.5,1185.6 L912.8,1185.6 L911.2,1185.5 L909.5,1185.4 L907.9,1185.3 L906.2,1185.2 L904.6,1185.2 L902.9,1185.1 L901.3,1185.0 L899.6,1184.9 L898.0,1184.8 L896.3,1184.8 L894.6,1184.7 L893.0,1184.6 L891.3,1184.5 L889.7,1184.4 L888.0,1184.4 L886.4,1184.3 L884.7,1184.2 L883.1,1184.1 L881.4,1184.0 L879.8,1184.0 L878.1,1183.9 L876.5,1183.8 L874.8,1183.7 L873.2,1183.6 L871.5,1183.6 L869.9,1183.5 L868.2,1183.4 L866.6,1183.3 L864.9,1183.2 L863.2,1183.2 L861.6,1183.1 L859.9,1183.0 L858.3,1182.9 L856.6,1182.9 L855.0,1182.8 L853.3,1182.7 L851.7,1182.6 L850.0,1182.5 L848.4,1182.5 L846.7,1182.4 L845.1,1182.3 L843.4,1182.2 L841.8,1182.2 L840.1,1182.1 L838.5,1182.0 L836.8,1181.9 L835.2,1181.9 L833.5,1181.8 L831.9,1181.7 L830.2,1181.6 L828.5,1181.6 L826.9,1181.5 L825.2,1181.4 L823.6,1181.3 L821.9,1181.3 L820.3,1181.2 L818.6,1181.1 L817.0,1181.1 L815.3,1181.0 L813.7,1180.9 L812.0,1180.8 L810.4,1180.8 L808.7,1180.7 L807.1,1180.6 L805.4,1180.6 L803.8,1180.5 L802.1,1180.4 L800.5,1180.3 L798.8,1180.3 L797.1,1180.2 L795.5,1180.1 L793.8,1180.1 L792.2,1180.0 L790.5,1179.9 L788.9,1179.9 L787.2,1179.8 L785.6,1179.7 L783.9,1179.6 L782.3,1179.6 L780.6,1179.5 L779.0,1179.4 L777.3,1179.4 L775.7,1179.3 L774.0,1179.2 L772.4,1179.2 L770.7,1179.1 L769.1,1179.0 L767.4,1179.0 L765.8,1178.9 L764.1,1178.8 L762.4,1178.8 L760.8,1178.7 L759.1,1178.6 L757.5,1178.6 L755.8,1178.5 L754.2,1178.4 L752.5,1178.4 L750.9,1178.3 L749.2,1178.2 L747.6,1178.2 L745.9,1178.1 L744.3,1178.1 L742.6,1178.0 L741.0,1177.9 L739.3,1177.9 L737.7,1177.8 L736.0,1177.7 L734.4,1177.7 L732.7,1177.6 L731.0,1177.6 L729.4,1177.5 L727.7,1177.4 L726.1,1177.4 L724.4,1177.3 L722.8,1177.3 L721.1,1177.2 L719.5,1177.2 L717.8,1177.1 L716.2,1177.1 L714.5,1177.0 L712.9,1177.0 L711.2,1176.9 L709.6,1176.9 L707.9,1176.8 L706.3,1176.8 L704.6,1176.7 L703.0,1176.7 L701.3,1176.6 L699.7,1176.6 L698.0,1176.6 L696.3,1176.5 L694.7,1176.5 L693.0,1176.4 L691.4,1176.4 L689.7,1176.4 L688.1,1176.3 L686.4,1176.3 L684.8,1176.2 L683.1,1176.2 L681.5,1176.2 L679.8,1176.1 L678.2,1176.1 L676.5,1176.1 L674.9,1176.0 L673.2,1176.0 L671.6,1176.0 L669.9,1175.9 L668.3,1175.9 L666.6,1175.9 L664.9,1175.9 L663.3,1175.8 L661.6,1175.8 L660.0,1175.8 L658.3,1175.7 L656.7,1175.7 L655.0,1175.7 L653.4,1175.7 L651.7,1175.6 L650.1,1175.6 L648.4,1175.6 L646.8,1175.6 L645.1,1175.5 L643.5,1175.5 L641.8,1175.5 L640.2,1175.5 L638.5,1175.4 L636.9,1175.4 L635.2,1175.4 L633.6,1175.4 L631.9,1175.4 L630.2,1175.3 L628.6,1175.3 L626.9,1175.3 L625.3,1175.3 L623.6,1175.3 L622.0,1175.2 L620.3,1175.2 L618.7,1175.2 L617.0,1175.2 L615.4,1175.2 L613.7,1175.1 L612.1,1175.1 L610.4,1175.1 L608.8,1175.1 L607.1,1175.1 L605.5,1175.1 L603.8,1175.0 L602.2,1175.0 L600.5,1175.0 Z" fill="#000080" fill-opacity="1" stroke="none" stroke-width="0.8"/>
<path d="M600.5,1173.9 L602.2,1173.9 L603.8,1173.9 L605.5,1173.9 L607.1,1173.9 L608.8,1173.9 L610.4,1173.9 L612.1,1173.9 L613.7,1173.8 L615.4,1173.8 L617.0,1173.8 L618.7,1173.8 L620.3,1173.8 L622.0,1173.8 L623.6,1173.8 L625.3,1173.7 L626.9,1173.7 L628.6,1173.7 L630.2,1173.7 L631.9,1173.7 L633.6,1173.6 L635.2,1173.6 L636.9,1173.6 L638.5,1173.6 L640.2,1173.5 L641.8,1173.5 L643.5,1173.5 L645.1,1173.5 L646.8,1173.4 L648.4,1173.4 L650.1,1173.4 L651.7,1173.3 L653.4,1173.3 L655.0,1173.3 L656.7,1173.2 L658.3,1173.2 L660.0,1173.2 L661.6,1173.1 L663.3,1173.1 L664.9,1173.0 L666.6,1173.0 L668.3,1172.9 L669.9,1172.9 L671.6,1172.8 L673.2,1172.7 L674.9,1172.7 L676.5,1172.6 L678.2,1172.6 L679.8,1172.5 L681.5,1172.4 L683.1,1172.3 L684.8,1172.3 L686.4,1172.2 L688.1,1172.1 L689.7,1172.0 L691.4,1171.9 L693.0,1171.8 L694.7,1171.7 L696.3,1171.5 L698.0,1171.4 L699.7,1171.3 L701.3,1171.2 L703.0,1171.0 L704.6,1170.9 L706.3,1170.7 L707.9,1170.5 L709.6,1170.4 L711.2,1170.2 L712.9,1170.0 L714.5,1169.7 L716.2,1169.5 L717.8,1169.3 L719.5,1169.0 L721.1,1168.7 L722.8,1168.5 L724.4,1168.1 L726.1,1167.8 L727.7,1167.5 L729.4,1167.1 L731.0,1166.7 L732.7,1166.2 L734.4,1165.8 L736.0,1165.3 L737.7,1164.8 L739.3,1164.2 L741.0,1163.6 L742.6,1162.9 L744.3,1162.2 L745.9,1161.4 L747.6,1160.5 L749.2,1159.6 L750.9,1158.6 L752.5,1157.5 L754.2,1156.3 L755.8,1154.9 L757.5,1153.5 L759.1,1151.9 L760.8,1150.1 L762.4,1148.2 L764.1,1146.0 L765.8,1143.6 L767.4,1141.0 L769.1,1138.1 L770.7,1134.9 L772.4,1131.4 L774.0,1127.6 L775.7,1123.3 L777.3,1118.7 L779.0,1113.6 L780.6,1108.1 L782.3,1102.1 L783.9,1095.7 L785.6,1088.8 L787.2,1081.6 L788.9,1073.9 L790.5,1066.0 L792.2,1058.1 L793.8,1050.2 L795.5,1042.6 L797.1,1035.7 L798.8,1029.6 L800.5,1024.9 L802.1,1021.6 L803.8,1020.2 L805.4,1020.3 L807.1,1021.4 L808.7,1023.4 L810.4,1026.2 L812.0,1029.8 L813.7,1034.0 L815.3,1038.8 L817.0,1044.1 L818.6,1049.8 L820.3,1055.8 L821.9,1062.0 L823.6,1068.3 L825.2,1074.7 L826.9,1081.1 L828.5,1087.4 L830.2,1093.7 L831.9,1099.7 L833.5,1105.6 L835.2,1111.3 L836.8,1116.7 L838.5,1121.8 L840.1,1126.7 L841.8,1131.3 L843.4,1135.6 L845.1,1139.6 L846.7,1143.3 L848.4,1146.8 L850.0,1150.0 L851.7,1152.9 L853.3,1155.6 L855.0,1158.0 L856.6,1160.2 L858.3,1162.2 L859.9,1164.0 L861.6,1165.7 L863.2,1167.2 L864.9,1168.5 L866.6,1169.7 L868.2,1170.8 L869.9,1171.8 L871.5,1172.6 L873.2,1173.4 L874.8,1174.2 L876.5,1174.8 L878.1,1175.4 L879.8,1176.0 L881.4,1176.5 L883.1,1176.9 L884.7,1177.4 L886.4,1177.8 L888.0,1178.1 L889.7,1178.5 L891.3,1178.8 L893.0,1179.1 L894.6,1179.4 L896.3,1179.7 L898.0,1180.0 L899.6,1180.2 L901.3,1180.5 L902.9,1180.7 L904.6,1181.0 L906.2,1181.2 L907.9,1181.4 L909.5,1181.6 L911.2,1181.8 L912.8,1182.0 L914.5,1182.2 L916.1,1182.4 L917.8,1182.6 L919.4,1182.8 L921.1,1182.9 L922.7,1183.1 L924.4,1183.3 L926.0,1183.4 L927.7,1183.6 L929.3,1183.8 L931.0,1183.9 L932.7,1184.1 L934.3,1184.2 L936.0,1184.4 L937.6,1184.5 L939.3,1184.7 L940.9,1184.8 L942.6,1185.0 L944.2,1185.1 L945.9,1185.2 L947.5,1185.4 L949.2,1185.5 L950.8,1185.6 L952.5,1185.8 L954.1,1185.9 L955.8,1186.0 L957.4,1186.2 L959.1,1186.3 L960.7,1186.4 L962.4,1186.5 L964.1,1186.6 L965.7,1186.8 L967.4,1186.9 L969.0,1187.0 L970.7,1187.1 L972.3,1187.2 L974.0,1187.4 L975.6,1187.5 L977.3,1187.6 L978.9,1187.7 L980.6,1187.8 L982.2,1187.9 L983.9,1188.0 L985.5,1188.1 L987.2,1188.3 L988.8,1188.4 L990.5,1188.5 L992.1,1188.6 L993.8,1188.7 L995.4,1188.8 L997.1,1188.9 L998.8,1189.0 L1000.4,1189.1 L1002.1,1189.2 L1003.7,1189.3 L1005.4,1189.4 L1007.0,1189.5 L1008.7,1189.6 L1010.3,1189.8 L1012.0,1189.9 L1013.6,1190.0 L1015.3,1190.1 L1016.9,1190.2 L1018.6,1190.3 L1020.2,1190.4 L1021.9,1190.5 L1023.5,1190.6 L1025.2,1190.7 L1026.8,1190.8 L1028.5,1190.9 L1028.5,1196.3 L1026.8,1196.2 L1025.2,1196.1 L1023.5,1196.1 L1021.9,1196.0 L1020.2,1195.9 L1018.6,1195.8 L1016.9,1195.7 L1015.3,1195.6 L1013.6,1195.6 L1012.0,1195.5 L1010.3,1195.4 L1008.7,1195.3 L1007.0,1195.2 L1005.4,1195.2 L1003.7,1195.1 L1002.1,1195.0 L1000.4,1194.9 L998.8,1194.8 L997.1,1194.8 L995.4,1194.7 L993.8,1194.6 L992.1,1194.5 L990.5,1194.4 L988.8,1194.4 L987.2,1194.3 L985.5,1194.2 L983.9,1194.1 L982.2,1194.0 L980.6,1194.0 L978.9,1193.9 L977.3,1193.8 L975.6,1193.7 L974.0,1193.6 L972.3,1193.6 L970.7,1193.5 L969.0,1193.4 L967.4,1193.3 L965.7,1193.3 L964.1,1193.2 L962.4,1193.1 L960.7,1193.0 L959.1,1192.9 L957.4,1192.9 L955.8,1192.8 L954.1,1192.7 L952.5,1192.6 L950.8,1192.6 L949.2,1192.5 L947.5,1192.4 L945.9,1192.3 L944.2,1192.2 L942.6,1192.2 L940.9,1192.1 L939.3,1192.0 L937.6,1191.9 L936.0,1191.9 L934.3,1191.8 L932.7,1191.7 L931.0,1191.6 L929.3,1191.6 L927.7,1191.5 L926.0,1191.4 L924.4,1191.3 L922.7,1191.3 L921.1,1191.2 L919.4,1191.1 L917.8,1191.0 L916.1,1191.0 L914.5,1190.9 L912.8,1190.8 L911.2,1190.7 L909.5,1190.7 L907.9,1190.6 L906.2,1190.5 L904.6,1190.4 L902.9,1190.4 L901.3,1190.3 L899.6,1190.2 L898.0,1190.1 L896.3,1190.1 L894.6,1190.0 L893.0,1189.9 L891.3,1189.8 L889.7,1189.8 L888.0,1189.7 L886.4,1189.6 L884.7,1189.5 L883.1,1189.5 L881.4,1189.4 L879.8,1189.3 L878.1,1189.2 L876.5,1189.2 L874.8,1189.1 L873.2,1189.0 L871.5,1188.9 L869.9,1188.9 L868.2,1188.8 L866.6,1188.7 L864.9,1188.6 L863.2,1188.6 L861.6,1188.5 L859.9,1188.4 L858.3,1188.3 L856.6,1188.3 L855.0,1188.2 L853.3,1188.1 L851.7,1188.1 L850.0,1188.0 L848.4,1187.9 L846.7,1187.8 L845.1,1187.8 L843.4,1187.7 L841.8,1187.6 L840.1,1187.6 L838.5,1187.5 L836.8,1187.4 L835.2,1187.4 L833.5,1187.3 L831.9,1187.2 L830.2,1187.1 L828.5,1187.1 L826.9,1187.0 L825.2,1186.9 L823.6,1186.9 L821.9,1186.8 L820.3,1186.7 L818.6,1186.7 L817.0,1186.6 L815.3,1186.5 L813.7,1186.5 L812.0,1186.4 L810.4,1186.3 L808.7,1186.3 L807.1,1186.2 L805.4,1186.1 L803.8,1186.1 L802.1,1186.0 L800.5,1185.9 L798.8,1185.9 L797.1,1185.8 L795.5,1185.7 L793.8,1185.7 L792.2,1185.6 L790.5,1185.6 L788.9,1185.5 L787.2,1185.4 L785.6,1185.4 L783.9,1185.3 L782.3,1185.2 L780.6,1185.2 L779.0,1185.1 L777.3,1185.1 L775.7,1185.0 L774.0,1184.9 L772.4,1184.9 L770.7,1184.8 L769.1,1184.7 L767.4,1184.7 L765.8,1184.6 L764.1,1184.6 L762.4,1184.5 L760.8,1184.4 L759.1,1184.4 L757.5,1184.3 L755.8,1184.3 L754.2,1184.2 L752.5,1184.1 L750.9,1184.1 L749.2,1184.0 L747.6,1184.0 L745.9,1183.9 L744.3,1183.8 L742.6,1183.8 L741.0,1183.7 L739.3,1183.7 L737.7,1183.6 L736.0,1183.6 L734.4,1183.5 L732.7,1183.4 L731.0,1183.4 L729.4,1183.3 L727.7,1183.3 L726.1,1183.2 L724.4,1183.2 L722.8,1183.1 L721.1,1183.1 L719.5,1183.0 L717.8,1183.0 L716.2,1182.9 L714.5,1182.9 L712.9,1182.9 L711.2,1182.8 L709.6,1182.8 L707.9,1182.7 L706.3,1182.7 L704.6,1182.6 L703.0,1182.6 L701.3,1182.6 L699.7,1182.5 L698.0,1182.5 L696.3,1182.4 L694.7,1182.4 L693.0,1182.4 L691.4,1182.3 L689.7,1182.3 L688.1,1182.2 L686.4,1182.2 L684.8,1182.2 L683.1,1182.1 L681.5,1182.1 L679.8,1182.1 L678.2,1182.0 L676.5,1182.0 L674.9,1182.0 L673.2,1181.9 L671.6,1181.9 L669.9,1181.9 L668.3,1181.9 L666.6,1181.8 L664.9,1181.8 L663.3,1181.8 L661.6,1181.7 L660.0,1181.7 L658.3,1181.7 L656.7,1181.7 L655.0,1181.6 L653.4,1181.6 L651.7,1181.6 L650.1,1181.6 L648.4,1181.5 L646.8,1181.5 L645.1,1181.5 L643.5,1181.5 L641.8,1181.5 L640.2,1181.4 L638.5,1181.4 L636.9,1181.4 L635.2,1181.4 L633.6,1181.3 L631.9,1181.3 L630.2,1181.3 L628.6,1181.3 L626.9,1181.3 L625.3,1181.3 L623.6,1181.2 L622.0,1181.2 L620.3,1181.2 L618.7,1181.2 L617.0,1181.2 L615.4,1181.1 L613.7,1181.1 L612.1,1181.1 L610.4,1181.1 L608.8,1181.1 L607.1,1181.1 L605.5,1181.0 L603.8,1181.0 L602.2,1181.0 L600.5,1181.0 Z" fill="#870606" fill-opacity="0.79" stroke="none" stroke-width="0.8"/>
<path d="M644.7,1171.7 L648.7,1171.2 L652.7,1169.1 L656.7,1167.4 L660.7,1166.8 L664.7,1165.6 L668.7,1164.1 L672.7,1162.8 L676.7,1161.1 L680.7,1159.3 L684.7,1157.6 L688.7,1156.0 L692.7,1154.1 L696.7,1152.5 L700.7,1150.2 L704.7,1146.9 L708.7,1144.2 L712.7,1139.8 L716.7,1135.6 L720.7,1130.9 L724.7,1125.4 L728.7,1119.4 L732.7,1114.8 L736.7,1107.8 L740.7,1102.2 L744.7,1093.8 L748.7,1085.5 L752.7,1076.6 L756.7,1063.9 L760.7,1052.7 L764.7,1040.2 L768.7,1028.4 L772.7,1016.4 L776.7,1005.0 L780.7,989.2 L784.7,975.3 L788.7,962.4 L792.7,949.5 L796.7,939.6 L800.7,928.3 L804.7,917.8 L808.7,909.4 L812.7,902.9 L816.7,897.2 L820.7,892.0 L824.7,888.6 L828.7,886.6 L832.7,888.4 L836.7,888.3 L840.7,889.1 L844.7,892.2 L848.7,898.2 L852.7,905.9 L856.7,915.0 L860.7,925.1 L864.7,936.7 L868.7,948.9 L872.7,964.1 L876.7,982.8 L880.7,1006.9 L884.7,1021.8 L888.7,1034.7 L892.7,1047.8 L896.7,1060.3 L900.7,1074.7 L904.7,1088.0 L908.7,1101.7 L912.7,1113.0 L916.7,1124.5 L920.7,1134.0 L924.7,1141.6 L928.7,1149.7 L932.7,1155.9 L936.7,1160.3 L940.7,1165.6 L944.7,1169.8 L948.7,1172.2 L952.7,1176.4 L956.7,1179.8 L960.7,1182.8 L964.7,1183.9 L968.7,1186.2 L972.7,1188.7 L976.7,1190.7 L980.7,1190.8 L984.7,1191.8 L988.7,1192.3 L992.7,1193.9 L996.7,1193.8 L1000.7,1194.9 L1004.7,1195.5 L1008.7,1196.2 L1012.7,1196.3 L1016.7,1196.7 L1020.7,1197.4" fill="none" stroke="#111" stroke-width="2.6" stroke-linejoin="round"/>
<path d="M600.5,1173.7 L601.5,1173.6 L602.5,1173.4 L603.5,1173.3 L604.5,1173.2 L605.5,1173.1 L606.5,1172.9 L607.5,1172.8 L608.5,1172.6 L609.5,1172.5 L610.5,1172.4 L611.5,1172.2 L612.5,1172.1 L613.5,1171.9 L614.5,1171.8 L615.5,1171.6 L616.5,1171.5 L617.5,1171.3 L618.5,1171.2 L619.5,1171.0 L620.5,1170.9 L621.5,1170.7 L622.5,1170.6 L623.5,1170.4 L624.5,1170.3 L625.5,1170.1 L626.5,1169.9 L627.5,1169.8 L628.5,1169.6 L629.5,1169.5 L630.5,1169.3 L631.5,1169.2 L632.5,1169.0 L633.5,1168.8 L634.5,1168.7 L635.5,1168.5 L636.5,1168.4 L637.5,1168.2 L638.5,1168.0 L639.5,1167.9 L640.5,1167.7 L641.5,1167.6 L642.5,1167.4 L643.5,1167.2 L644.5,1167.1 L645.5,1166.9 L646.5,1166.7 L647.5,1166.5 L648.5,1166.4 L649.5,1166.2 L650.5,1166.0 L651.5,1165.8 L652.5,1165.6 L653.5,1165.4 L654.5,1165.2 L655.5,1165.0 L656.5,1164.8 L657.5,1164.6 L658.5,1164.4 L659.5,1164.2 L660.5,1164.0 L661.5,1163.8 L662.5,1163.6 L663.5,1163.4 L664.5,1163.1 L665.5,1162.9 L666.5,1162.7 L667.5,1162.5 L668.5,1162.2 L669.5,1162.0 L670.5,1161.7 L671.5,1161.5 L672.5,1161.2 L673.5,1161.0 L674.5,1160.7 L675.5,1160.4 L676.5,1160.0 L677.5,1159.7 L678.5,1159.4 L679.5,1159.0 L680.5,1158.6 L681.5,1158.2 L682.5,1157.8 L683.5,1157.4 L684.5,1157.0 L685.5,1156.6 L686.5,1156.2 L687.5,1155.7 L688.5,1155.3 L689.5,1154.8 L690.5,1154.4 L691.5,1153.9 L692.5,1153.5 L693.5,1153.0 L694.5,1152.6 L695.5,1152.1 L696.5,1151.6 L697.5,1151.2 L698.5,1150.7 L699.5,1150.3 L700.5,1149.8 L701.5,1149.4 L702.5,1148.9 L703.5,1148.5 L704.5,1148.0 L705.5,1147.5 L706.5,1147.0 L707.5,1146.5 L708.5,1145.9 L709.5,1145.4 L710.5,1144.8 L711.5,1144.2 L712.5,1143.5 L713.5,1142.9 L714.5,1142.2 L715.5,1141.5 L716.5,1140.7 L717.5,1140.0 L718.5,1139.1 L719.5,1138.2 L720.5,1137.2 L721.5,1136.0 L722.5,1134.8 L723.5,1133.5 L724.5,1132.2 L725.5,1130.7 L726.5,1129.2 L727.5,1127.7 L728.5,1126.1 L729.5,1124.4 L730.5,1122.7 L731.5,1121.0 L732.5,1119.3 L733.5,1117.6 L734.5,1115.8 L735.5,1114.0 L736.5,1112.2 L737.5,1110.3 L738.5,1108.4 L739.5,1106.5 L740.5,1104.6 L741.5,1102.6 L742.5,1100.5 L743.5,1098.4 L744.5,1096.3 L745.5,1094.2 L746.5,1092.0 L747.5,1089.7 L748.5,1087.5 L749.5,1085.1 L750.5,1082.8 L751.5,1080.3 L752.5,1077.8 L753.5,1075.2 L754.5,1072.6 L755.5,1069.8 L756.5,1066.9 L757.5,1063.9 L758.5,1060.8 L759.5,1057.6 L760.5,1054.3 L761.5,1050.9 L762.5,1047.5 L763.5,1044.0 L764.5,1040.6 L765.5,1037.3 L766.5,1034.0 L767.5,1030.8 L768.5,1027.7 L769.5,1024.7 L770.5,1021.8 L771.5,1018.9 L772.5,1015.9 L773.5,1012.9 L774.5,1009.8 L775.5,1006.5 L776.5,1003.1 L777.5,999.7 L778.5,996.3 L779.5,992.9 L780.5,989.5 L781.5,986.2 L782.5,982.8 L783.5,979.5 L784.5,976.1 L785.5,972.8 L786.5,969.5 L787.5,966.2 L788.5,962.9 L789.5,959.7 L790.5,956.5 L791.5,953.4 L792.5,950.5 L793.5,947.7 L794.5,944.9 L795.5,942.2 L796.5,939.5 L797.5,936.8 L798.5,934.1 L799.5,931.5 L800.5,928.8 L801.5,926.3 L802.5,923.7 L803.5,921.2 L804.5,918.8 L805.5,916.5 L806.5,914.2 L807.5,912.1 L808.5,910.1 L809.5,908.1 L810.5,906.3 L811.5,904.6 L812.5,902.9 L813.5,901.3 L814.5,899.7 L815.5,898.2 L816.5,896.7 L817.5,895.3 L818.5,893.9 L819.5,892.6 L820.5,891.4 L821.5,890.3 L822.5,889.4 L823.5,888.6 L824.5,887.8 L825.5,887.1 L826.5,886.4 L827.5,885.7 L828.5,885.0 L829.5,884.4 L830.5,883.7 L831.5,883.1 L832.5,882.6 L833.5,882.2 L834.5,882.0 L835.5,882.1 L836.5,882.5 L837.5,883.0 L838.5,883.8 L839.5,884.6 L840.5,885.5 L841.5,886.4 L842.5,887.5 L843.5,888.7 L844.5,890.1 L845.5,891.5 L846.5,893.1 L847.5,894.9 L848.5,896.7 L849.5,898.6 L850.5,900.6 L851.5,902.7 L852.5,904.8 L853.5,907.0 L854.5,909.4 L855.5,911.8 L856.5,914.2 L857.5,916.8 L858.5,919.3 L859.5,922.0 L860.5,924.6 L861.5,927.3 L862.5,930.1 L863.5,932.9 L864.5,935.8 L865.5,938.8 L866.5,941.9 L867.5,945.0 L868.5,948.2 L869.5,951.5 L870.5,955.1 L871.5,958.9 L872.5,962.9 L873.5,967.2 L874.5,971.5 L875.5,976.0 L876.5,981.1 L877.5,987.1 L878.5,993.5 L879.5,999.8 L880.5,1005.6 L881.5,1010.4 L882.5,1014.0 L883.5,1017.4 L884.5,1020.8 L885.5,1024.2 L886.5,1027.5 L887.5,1030.8 L888.5,1034.1 L889.5,1037.4 L890.5,1040.7 L891.5,1044.0 L892.5,1047.3 L893.5,1050.6 L894.5,1053.9 L895.5,1057.3 L896.5,1060.6 L897.5,1063.9 L898.5,1067.2 L899.5,1070.5 L900.5,1073.8 L901.5,1077.2 L902.5,1080.5 L903.5,1083.9 L904.5,1087.3 L905.5,1090.7 L906.5,1094.1 L907.5,1097.4 L908.5,1100.7 L909.5,1103.6 L910.5,1106.3 L911.5,1108.8 L912.5,1111.2 L913.5,1113.7 L914.5,1116.3 L915.5,1119.2 L916.5,1122.2 L917.5,1125.3 L918.5,1128.3 L919.5,1131.1 L920.5,1133.8 L921.5,1136.4 L922.5,1138.8 L923.5,1141.1 L924.5,1143.2 L925.5,1145.3 L926.5,1147.2 L927.5,1149.0 L928.5,1150.7 L929.5,1152.3 L930.5,1153.9 L931.5,1155.4 L932.5,1156.8 L933.5,1158.2 L934.5,1159.6 L935.5,1160.8 L936.5,1162.0 L937.5,1163.2 L938.5,1164.3 L939.5,1165.3 L940.5,1166.2 L941.5,1167.1 L942.5,1167.9 L943.5,1168.7 L944.5,1169.3 L945.5,1169.9 L946.5,1170.5 L947.5,1171.1 L948.5,1171.7 L949.5,1172.3 L950.5,1172.8 L951.5,1173.4 L952.5,1173.9 L953.5,1174.4 L954.5,1175.0 L955.5,1175.5 L956.5,1175.9 L957.5,1176.4 L958.5,1176.9 L959.5,1177.3 L960.5,1177.7 L961.5,1178.1 L962.5,1178.5 L963.5,1178.9 L964.5,1179.2 L965.5,1179.5 L966.5,1179.8 L967.5,1180.1 L968.5,1180.4 L969.5,1180.6 L970.5,1180.9 L971.5,1181.2 L972.5,1181.4 L973.5,1181.7 L974.5,1182.0 L975.5,1182.2 L976.5,1182.5 L977.5,1182.8 L978.5,1183.0 L979.5,1183.3 L980.5,1183.5 L981.5,1183.8 L982.5,1184.0 L983.5,1184.2 L984.5,1184.4 L985.5,1184.7 L986.5,1184.9 L987.5,1185.1 L988.5,1185.2 L989.5,1185.4 L990.5,1185.6 L991.5,1185.7 L992.5,1185.9 L993.5,1186.1 L994.5,1186.2 L995.5,1186.4 L996.5,1186.6 L997.5,1186.7 L998.5,1186.9 L999.5,1187.0 L1000.5,1187.2 L1001.5,1187.3 L1002.5,1187.5 L1003.5,1187.6 L1004.5,1187.8 L1005.5,1187.9 L1006.5,1188.0 L1007.5,1188.2 L1008.5,1188.3 L1009.5,1188.4 L1010.5,1188.5 L1011.5,1188.7 L1012.5,1188.8 L1013.5,1188.9 L1014.5,1189.0 L1015.5,1189.1 L1016.5,1189.2 L1017.5,1189.3 L1018.5,1189.4 L1019.5,1189.6 L1020.5,1189.7 L1021.5,1189.8 L1022.5,1189.9 L1023.5,1190.0 L1024.5,1190.0 L1025.5,1190.1 L1026.5,1190.2 L1027.5,1190.3 L1028.5,1190.4" fill="none" stroke="#e8262a" stroke-width="3.0" stroke-dasharray="9.5,10"/>
</g>
<line x1="910.3" y1="948.8" x2="844.4" y2="1014.7" stroke="#111" stroke-width="1.6"/>
<path d="M839.5,1019.6 L842.8,1012.2 L846.9,1016.3 Z" fill="#111"/>
<line x1="731.2" y1="986.3" x2="790.9" y2="1047.1" stroke="#111" stroke-width="1.6"/>
<path d="M795.8,1052.1 L788.5,1048.8 L792.6,1044.7 Z" fill="#111"/>
<line x1="679.1" y1="1057.1" x2="745.0" y2="1123.0" stroke="#111" stroke-width="1.6"/>
<path d="M749.9,1127.9 L742.5,1124.6 L746.6,1120.5 Z" fill="#111"/>
<line x1="927.0" y1="1019.6" x2="869.4" y2="1079.2" stroke="#111" stroke-width="1.6"/>
<path d="M864.5,1084.2 L867.6,1076.8 L871.8,1080.8 Z" fill="#111"/>
<line x1="958.2" y1="1073.7" x2="902.8" y2="1127.1" stroke="#111" stroke-width="1.6"/>
<path d="M897.8,1132.0 L901.2,1124.7 L905.2,1128.9 Z" fill="#111"/>
<rect x="600.5" y="853.3" width="428.0" height="349.2" fill="none" stroke="#111" stroke-width="2.4"/>
<line x1="654.0" y1="1202.5" x2="654.0" y2="1208.5" stroke="#111" stroke-width="2.2"/>
<line x1="761.0" y1="1202.5" x2="761.0" y2="1208.5" stroke="#111" stroke-width="2.2"/>
<line x1="868.0" y1="1202.5" x2="868.0" y2="1208.5" stroke="#111" stroke-width="2.2"/>
<line x1="975.0" y1="1202.5" x2="975.0" y2="1208.5" stroke="#111" stroke-width="2.2"/>
<line x1="600.5" y1="1202.5" x2="600.5" y2="1206.0" stroke="#111" stroke-width="2.2"/>
<line x1="707.5" y1="1202.5" x2="707.5" y2="1206.0" stroke="#111" stroke-width="2.2"/>
<line x1="814.5" y1="1202.5" x2="814.5" y2="1206.0" stroke="#111" stroke-width="2.2"/>
<line x1="921.5" y1="1202.5" x2="921.5" y2="1206.0" stroke="#111" stroke-width="2.2"/>
<line x1="1028.5" y1="1202.5" x2="1028.5" y2="1206.0" stroke="#111" stroke-width="2.2"/>
<line x1="600.5" y1="1178.2" x2="594.5" y2="1178.2" stroke="#111" stroke-width="2.2"/>
<line x1="600.5" y1="1117.6" x2="594.5" y2="1117.6" stroke="#111" stroke-width="2.2"/>
<line x1="600.5" y1="1057.0" x2="594.5" y2="1057.0" stroke="#111" stroke-width="2.2"/>
<line x1="600.5" y1="996.4" x2="594.5" y2="996.4" stroke="#111" stroke-width="2.2"/>
<line x1="600.5" y1="935.8" x2="594.5" y2="935.8" stroke="#111" stroke-width="2.2"/>
<line x1="600.5" y1="875.2" x2="594.5" y2="875.2" stroke="#111" stroke-width="2.2"/>
<line x1="600.5" y1="1147.9" x2="597.0" y2="1147.9" stroke="#111" stroke-width="2.2"/>
<line x1="600.5" y1="1087.3" x2="597.0" y2="1087.3" stroke="#111" stroke-width="2.2"/>
<line x1="600.5" y1="1026.7" x2="597.0" y2="1026.7" stroke="#111" stroke-width="2.2"/>
<line x1="600.5" y1="966.1" x2="597.0" y2="966.1" stroke="#111" stroke-width="2.2"/>
<line x1="600.5" y1="905.5" x2="597.0" y2="905.5" stroke="#111" stroke-width="2.2"/>
<text x="654.0" y="1234.1" font-size="23.5" fill="#000" text-anchor="middle">536</text>
<text x="761.0" y="1234.1" font-size="23.5" fill="#000" text-anchor="middle">534</text>
<text x="868.0" y="1234.1" font-size="23.5" fill="#000" text-anchor="middle">532</text>
<text x="975.0" y="1234.1" font-size="23.5" fill="#000" text-anchor="middle">530</text>
<text x="588.5" y="1186.8" font-size="24.0" fill="#000" text-anchor="end">8</text>
<text x="588.5" y="1126.2" font-size="24.0" fill="#000" text-anchor="end">12</text>
<text x="588.5" y="1065.6" font-size="24.0" fill="#000" text-anchor="end">16</text>
<text x="588.5" y="1005.0" font-size="24.0" fill="#000" text-anchor="end">20</text>
<text x="588.5" y="944.4" font-size="24.0" fill="#000" text-anchor="end">24</text>
<text x="588.5" y="883.8" font-size="24.0" fill="#000" text-anchor="end">28</text>
<text x="612.40" y="883.45" font-size="24.51" fill="#e8141c" stroke="#e8141c" stroke-width="0.45" textLength="43.10" lengthAdjust="spacingAndGlyphs">O1s</text>
<text x="879.70" y="882.85" font-size="24.79" fill="#e8141c" stroke="#e8141c" stroke-width="0.45" textLength="144.96" lengthAdjust="spacingAndGlyphs">2FSI+1TFSI</text>
<text x="690.60" y="1266.77" font-size="24.92" fill="#000" stroke="#000" stroke-width="0.45" textLength="247.64" lengthAdjust="spacingAndGlyphs">Binding Energy (eV)</text>
<text x="0" y="0" font-size="24.64" fill="#000" stroke="#000" stroke-width="0.4" textLength="233.64" lengthAdjust="spacingAndGlyphs" transform="translate(551.00 1131.50) rotate(-90)">Intensity (10<tspan font-size="14.78" dy="-10.35">4</tspan><tspan dy="10.35">cps)</tspan></text>
<text x="912.20" y="964.53" font-size="27.18" fill="#3ae8ee" stroke="#3ae8ee" stroke-width="0.45" textLength="74.66" lengthAdjust="spacingAndGlyphs">C-O-C</text>
<text x="673.90" y="987.90" font-size="29.58" fill="#7a1414" stroke="#7a1414" stroke-width="0.45" textLength="53.57" lengthAdjust="spacingAndGlyphs">C=O</text>
<text x="635.50" y="1045.01" font-size="28.73" fill="#22ee22" stroke="#22ee22" stroke-width="0.45" textLength="77.97" lengthAdjust="spacingAndGlyphs">O-C-O</text>
<text x="930.60" y="1011.40" font-size="24.28" fill="#ee22ee" stroke="#ee22ee" stroke-width="0.45" textLength="20.17" lengthAdjust="spacingAndGlyphs">Li</text>
<text x="951.70" y="1021.10" font-size="18.86" fill="#ee22ee" stroke="#ee22ee" stroke-width="0.45" textLength="9.72" lengthAdjust="spacingAndGlyphs">2</text>
<text x="962.30" y="1012.24" font-size="26.34" fill="#ee22ee" stroke="#ee22ee" stroke-width="0.45" textLength="37.80" lengthAdjust="spacingAndGlyphs">CO</text>
<text x="1000.90" y="1019.13" font-size="17.32" fill="#ee22ee" stroke="#ee22ee" stroke-width="0.45" textLength="8.82" lengthAdjust="spacingAndGlyphs">3</text>
<text x="965.80" y="1062.40" font-size="24.28" fill="#1414c8" stroke="#1414c8" stroke-width="0.45" textLength="20.17" lengthAdjust="spacingAndGlyphs">Li</text>
<text x="986.90" y="1072.00" font-size="18.71" fill="#1414c8" stroke="#1414c8" stroke-width="0.45" textLength="8.82" lengthAdjust="spacingAndGlyphs">2</text>
<text x="996.50" y="1063.03" font-size="27.32" fill="#1414c8" stroke="#1414c8" stroke-width="0.45" textLength="19.35" lengthAdjust="spacingAndGlyphs">O</text>
</svg></body></html>
